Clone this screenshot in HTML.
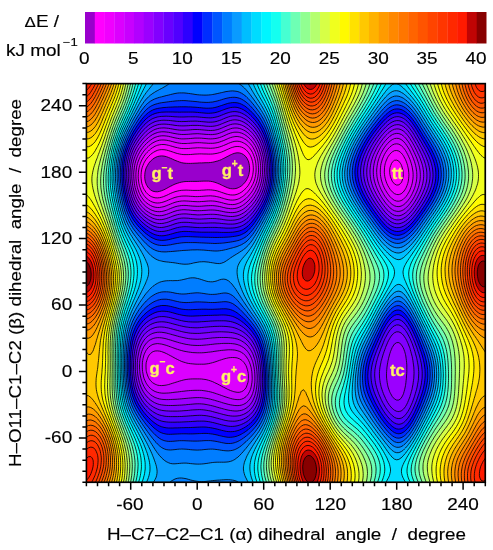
<!DOCTYPE html><html><head><meta charset="utf-8"><title>PES</title><style>html,body{margin:0;padding:0;background:#fff}svg{display:block}text{font-family:"Liberation Sans",sans-serif;fill:#000;stroke:#000;stroke-width:0.15px}</style></head><body>
<svg width="493" height="550" viewBox="0 0 493 550">
<rect width="493" height="550" fill="#fff"/>
<rect x="85.00" y="12.0" width="10.09" height="31.5" fill="#9900cc"/>
<rect x="94.79" y="12.0" width="10.09" height="31.5" fill="#ff00ff"/>
<rect x="104.59" y="12.0" width="10.09" height="31.5" fill="#f000ff"/>
<rect x="114.38" y="12.0" width="10.09" height="31.5" fill="#dc00ff"/>
<rect x="124.17" y="12.0" width="10.09" height="31.5" fill="#c800ff"/>
<rect x="133.96" y="12.0" width="10.09" height="31.5" fill="#b200ff"/>
<rect x="143.76" y="12.0" width="10.09" height="31.5" fill="#9b00ff"/>
<rect x="153.55" y="12.0" width="10.09" height="31.5" fill="#8200ff"/>
<rect x="163.34" y="12.0" width="10.09" height="31.5" fill="#6900ff"/>
<rect x="173.13" y="12.0" width="10.09" height="31.5" fill="#5000ff"/>
<rect x="182.93" y="12.0" width="10.09" height="31.5" fill="#2d00ff"/>
<rect x="192.72" y="12.0" width="10.09" height="31.5" fill="#0000ff"/>
<rect x="202.51" y="12.0" width="10.09" height="31.5" fill="#002dff"/>
<rect x="212.30" y="12.0" width="10.09" height="31.5" fill="#0055ff"/>
<rect x="222.10" y="12.0" width="10.09" height="31.5" fill="#007dff"/>
<rect x="231.89" y="12.0" width="10.09" height="31.5" fill="#0a9bff"/>
<rect x="241.68" y="12.0" width="10.09" height="31.5" fill="#00beff"/>
<rect x="251.48" y="12.0" width="10.09" height="31.5" fill="#00dcff"/>
<rect x="261.27" y="12.0" width="10.09" height="31.5" fill="#00f5ff"/>
<rect x="271.06" y="12.0" width="10.09" height="31.5" fill="#14fff0"/>
<rect x="280.85" y="12.0" width="10.09" height="31.5" fill="#46ffd2"/>
<rect x="290.65" y="12.0" width="10.09" height="31.5" fill="#6effb4"/>
<rect x="300.44" y="12.0" width="10.09" height="31.5" fill="#91ff91"/>
<rect x="310.23" y="12.0" width="10.09" height="31.5" fill="#b4ff6e"/>
<rect x="320.02" y="12.0" width="10.09" height="31.5" fill="#d7ff46"/>
<rect x="329.82" y="12.0" width="10.09" height="31.5" fill="#f0ff1e"/>
<rect x="339.61" y="12.0" width="10.09" height="31.5" fill="#fffa00"/>
<rect x="349.40" y="12.0" width="10.09" height="31.5" fill="#ffe100"/>
<rect x="359.20" y="12.0" width="10.09" height="31.5" fill="#ffc800"/>
<rect x="368.99" y="12.0" width="10.09" height="31.5" fill="#ffb200"/>
<rect x="378.78" y="12.0" width="10.09" height="31.5" fill="#ff9b00"/>
<rect x="388.57" y="12.0" width="10.09" height="31.5" fill="#ff8800"/>
<rect x="398.37" y="12.0" width="10.09" height="31.5" fill="#ff7600"/>
<rect x="408.16" y="12.0" width="10.09" height="31.5" fill="#ff6400"/>
<rect x="417.95" y="12.0" width="10.09" height="31.5" fill="#ff5400"/>
<rect x="427.74" y="12.0" width="10.09" height="31.5" fill="#ff4400"/>
<rect x="437.54" y="12.0" width="10.09" height="31.5" fill="#ff3600"/>
<rect x="447.33" y="12.0" width="10.09" height="31.5" fill="#ff2800"/>
<rect x="457.12" y="12.0" width="10.09" height="31.5" fill="#ff1a00"/>
<rect x="466.91" y="12.0" width="10.09" height="31.5" fill="#c00404"/>
<rect x="476.71" y="12.0" width="9.79" height="31.5" fill="#870000"/>
<text transform="translate(84.4,63.5) scale(1.13,1)" font-size="16.8" text-anchor="middle">0</text>
<text transform="translate(133.4,63.5) scale(1.13,1)" font-size="16.8" text-anchor="middle">5</text>
<text transform="translate(182.3,63.5) scale(1.13,1)" font-size="16.8" text-anchor="middle">10</text>
<text transform="translate(231.3,63.5) scale(1.13,1)" font-size="16.8" text-anchor="middle">15</text>
<text transform="translate(280.3,63.5) scale(1.13,1)" font-size="16.8" text-anchor="middle">20</text>
<text transform="translate(329.2,63.5) scale(1.13,1)" font-size="16.8" text-anchor="middle">25</text>
<text transform="translate(378.2,63.5) scale(1.13,1)" font-size="16.8" text-anchor="middle">30</text>
<text transform="translate(427.1,63.5) scale(1.13,1)" font-size="16.8" text-anchor="middle">35</text>
<text transform="translate(476.1,63.5) scale(1.13,1)" font-size="16.8" text-anchor="middle">40</text>
<text transform="translate(24.6,27.0) scale(1.13,1)" font-size="16.8" text-anchor="start"><tspan font-size="15">Δ</tspan>E /</text>
<text transform="translate(6.0,56.0) scale(1.13,1)" font-size="16.8" text-anchor="start">kJ mol</text>
<text transform="translate(62.8,46.4) scale(1.13,1)" font-size="11.6" text-anchor="start">−1</text>
<g stroke="#000" stroke-width="0.8" stroke-linejoin="round" clip-path="url(#cp)">
<clipPath id="cp"><rect x="86.4" y="83.6" width="398.9" height="398.7"/></clipPath>
<rect x="86.4" y="83.6" width="398.9" height="398.7" fill="#9900cc"/>
<path fill="#ff00ff" d="M86.4 482.3l2.2 0 2.2 0 2.2 0 2.3 0 2.2 0 2.2 0 2.2 0 2.2 0 2.2 0 2.3 0 2.2 0 2.2 0 2.2 0 2.2 0 2.2 0 2.3 0 2.2 0 2.2 0 2.2 0 2.2 0 2.2 0 2.3 0 2.2 0 2.2 0 2.2 0 2.2 0 2.2 0 2.3 0 2.2 0 2.2 0 2.2 0 2.2 0 2.2 0 2.2 0 2.3 0 2.2 0 2.2 0 2.2 0 2.2 0 2.2 0 2.3 0 2.2 0 2.2 0 2.2 0 2.2 0 2.2 0 2.3 0 2.2 0 2.2 0 2.2 0 2.2 0 2.2 0 2.3 0 2.2 0 2.2 0 2.2 0 2.2 0 2.2 0 2.3 0 2.2 0 2.2 0 2.2 0 2.2 0 2.2 0 2.2 0 2.3 0 2.2 0 2.2 0 2.2 0 2.2 0 2.2 0 2.3 0 2.2 0 2.2 0 2.2 0 2.2 0 2.2 0 2.3 0 2.2 0 2.2 0 2.2 0 2.2 0 2.2 0 2.3 0 2.2 0 2.2 0 2.2 0 2.2 0 2.2 0 2.2 0 2.3 0 2.2 0 2.2 0 2.2 0 2.2 0 2.2 0 2.3 0 2.2 0 2.2 0 2.2 0 2.2 0 2.2 0 2.3 0 2.2 0 2.2 0 2.2 0 2.2 0 2.2 0 2.3 0 2.2 0 2.2 0 2.2 0 2.2 0 2.2 0 2.3 0 2.2 0 2.2 0 2.2 0 2.2 0 2.2 0 2.2 0 2.3 0 2.2 0 2.2 0 2.2 0 2.2 0 2.2 0 2.3 0 2.2 0 2.2 0 2.2 0 2.2 0 2.2 0 2.3 0 2.2 0 2.2 0 2.2 0 2.2 0 2.2 0 2.3 0 2.2 0 2.2 0 2.2 0 2.2 0 2.2 0 2.3 0 2.2 0 2.2 0 2.2 0 2.2 0 2.2 0 2.2 0 2.3 0 2.2 0 2.2 0 2.2 0 2.2 0 2.2 0 2.3 0 2.2 0 2.2 0 2.2 0 2.2 0 2.2 0 2.3 0 2.2 0 2.2 0 2.2 0 2.2 0 2.2 0 2.3 0 2.2 0 2.2 0 2.2 0 2.2 0 2.2 0 2.3 0 2.2 0 2.2 0 2.2 0 0-2.2 0-2.2 0-2.2 0-2.3 0-2.2 0-2.2 0-2.2 0-2.2 0-2.2 0-2.2 0-2.3 0-2.2 0-2.2 0-2.2 0-2.2 0-2.2 0-2.3 0-2.2 0-2.2 0-2.2 0-2.2 0-2.2 0-2.2 0-2.3 0-2.2 0-2.2 0-2.2 0-2.2 0-2.2 0-2.3 0-2.2 0-2.2 0-2.2 0-2.2 0-2.2 0-2.2 0-2.3 0-2.2 0-2.2 0-2.2 0-2.2 0-2.2 0-2.2 0-2.3 0-2.2 0-2.2 0-2.2 0-2.2 0-2.2 0-2.2 0-2.3 0-2.2 0-2.2 0-2.2 0-2.2 0-2.2 0-2.3 0-2.2 0-2.2 0-2.2 0-2.2 0-2.2 0-2.2 0-2.3 0-2.2 0-2.2 0-2.2 0-2.2 0-2.2 0-2.3 0-2.2 0-2.2 0-2.2 0-2.2 0-2.2 0-2.2 0-2.3 0-2.2 0-2.2 0-2.2 0-2.2 0-2.2 0-2.2 0-2.3 0-2.2 0-2.2 0-2.2 0-2.2 0-2.2 0-2.3 0-2.2 0-2.2 0-2.2 0-2.2 0-2.2 0-2.2 0-2.3 0-2.2 0-2.2 0-2.2 0-2.2 0-2.2 0-2.2 0-2.3 0-2.2 0-2.2 0-2.2 0-2.2 0-2.2 0-2.3 0-2.2 0-2.2 0-2.2 0-2.2 0-2.2 0-2.2 0-2.3 0-2.2 0-2.2 0-2.2 0-2.2 0-2.2 0-2.2 0-2.3 0-2.2 0-2.2 0-2.2 0-2.2 0-2.2 0-2.3 0-2.2 0-2.2 0-2.2 0-2.2 0-2.2 0-2.2 0-2.3 0-2.2 0-2.2 0-2.2 0-2.2 0-2.2 0-2.2 0-2.3 0-2.2 0-2.2 0-2.2 0-2.2 0-2.2 0-2.3 0-2.2 0-2.2 0-2.2 0-2.2 0-2.2 0-2.2 0-2.3 0-2.2 0-2.2 0-2.2 0-2.2 0-2.2 0-2.2 0-2.3 0-2.2 0-2.2 0-2.2 0-2.2 0-2.2 0-2.3 0-2.2 0-2.2 0-2.2 0-2.2 0-2.2 0-2.2 0-2.3 0-2.2 0-2.2 0-2.2-2.2 0-2.2 0-2.2 0-2.3 0-2.2 0-2.2 0-2.2 0-2.2 0-2.2 0-2.3 0-2.2 0-2.2 0-2.2 0-2.2 0-2.2 0-2.3 0-2.2 0-2.2 0-2.2 0-2.2 0-2.2 0-2.3 0-2.2 0-2.2 0-2.2 0-2.2 0-2.2 0-2.3 0-2.2 0-2.2 0-2.2 0-2.2 0-2.2 0-2.2 0-2.3 0-2.2 0-2.2 0-2.2 0-2.2 0-2.2 0-2.3 0-2.2 0-2.2 0-2.2 0-2.2 0-2.2 0-2.3 0-2.2 0-2.2 0-2.2 0-2.2 0-2.2 0-2.3 0-2.2 0-2.2 0-2.2 0-2.2 0-2.2 0-2.3 0-2.2 0-2.2 0-2.2 0-2.2 0-2.2 0-2.2 0-2.3 0-2.2 0-2.2 0-2.2 0-2.2 0-2.2 0-2.3 0-2.2 0-2.2 0-2.2 0-2.2 0-2.2 0-2.3 0-2.2 0-2.2 0-2.2 0-2.2 0-2.2 0-2.3 0-2.2 0-2.2 0-2.2 0-2.2 0-2.2 0-2.3 0-2.2 0-2.2 0-2.2 0-2.2 0-2.2 0-2.2 0-2.3 0-2.2 0-2.2 0-2.2 0-2.2 0-2.2 0-2.3 0-2.2 0-2.2 0-2.2 0-2.2 0-2.2 0-2.3 0-2.2 0-2.2 0-2.2 0-2.2 0-2.2 0-2.3 0-2.2 0-2.2 0-2.2 0-2.2 0-2.2 0-2.2 0-2.3 0-2.2 0-2.2 0-2.2 0-2.2 0-2.2 0-2.3 0-2.2 0-2.2 0-2.2 0-2.2 0-2.2 0-2.3 0-2.2 0-2.2 0-2.2 0-2.2 0-2.2 0-2.3 0-2.2 0-2.2 0-2.2 0-2.2 0-2.2 0-2.3 0-2.2 0-2.2 0-2.2 0-2.2 0-2.2 0-2.2 0-2.3 0-2.2 0-2.2 0-2.2 0-2.2 0-2.2 0-2.3 0-2.2 0-2.2 0-2.2 0-2.2 0-2.2 0-2.3 0-2.2 0-2.2 0-2.2 0-2.2 0-2.2 0-2.3 0-2.2 0-2.2 0-2.2 0-2.2 0-2.2 0-2.3 0-2.2 0-2.2 0-2.2 0 0 2.2 0 2.2 0 2.2 0 2.3 0 2.2 0 2.2 0 2.2 0 2.2 0 2.2 0 2.2 0 2.3 0 2.2 0 2.2 0 2.2 0 2.2 0 2.2 0 2.3 0 2.2 0 2.2 0 2.2 0 2.2 0 2.2 0 2.2 0 2.3 0 2.2 0 2.2 0 2.2 0 2.2 0 2.2 0 2.2 0 2.3 0 2.2 0 2.2 0 2.2 0 2.2 0 2.2 0 2.3 0 2.2 0 2.2 0 2.2 0 2.2 0 2.2 0 2.2 0 2.3 0 2.2 0 2.2 0 2.2 0 2.2 0 2.2 0 2.2 0 2.3 0 2.2 0 2.2 0 2.2 0 2.2 0 2.2 0 2.3 0 2.2 0 2.2 0 2.2 0 2.2 0 2.2 0 2.2 0 2.3 0 2.2 0 2.2 0 2.2 0 2.2 0 2.2 0 2.2 0 2.3 0 2.2 0 2.2 0 2.2 0 2.2 0 2.2 0 2.3 0 2.2 0 2.2 0 2.2 0 2.2 0 2.2 0 2.2 0 2.3 0 2.2 0 2.2 0 2.2 0 2.2 0 2.2 0 2.2 0 2.3 0 2.2 0 2.2 0 2.2 0 2.2 0 2.2 0 2.3 0 2.2 0 2.2 0 2.2 0 2.2 0 2.2 0 2.2 0 2.3 0 2.2 0 2.2 0 2.2 0 2.2 0 2.2 0 2.2 0 2.3 0 2.2 0 2.2 0 2.2 0 2.2 0 2.2 0 2.3 0 2.2 0 2.2 0 2.2 0 2.2 0 2.2 0 2.2 0 2.3 0 2.2 0 2.2 0 2.2 0 2.2 0 2.2 0 2.3 0 2.2 0 2.2 0 2.2 0 2.2 0 2.2 0 2.2 0 2.3 0 2.2 0 2.2 0 2.2 0 2.2 0 2.2 0 2.2 0 2.3 0 2.2 0 2.2 0 2.2 0 2.2 0 2.2 0 2.2 0 2.3 0 2.2 0 2.2 0 2.2 0 2.2 0 2.2 0 2.3 0 2.2 0 2.2 0 2.2 0 2.2 0 2.2 0 2.2 0 2.3 0 2.2 0 2.2 0 2.2 0 2.2 0 2.2 0 2.3 0 2.2 0 2.2 0 2.2 0 2.2 0 2.2 0 2.2 0 2.3 0 2.2 0 2.2zM150.7 190l-0.1-0.1-2.1-2-0.2-0.2-1.4-2.2-0.7-1.3-0.3-0.9-0.7-2.2-0.4-2.3-0.1-2.2 0.1-2.2 0.2-2.2 0.5-2.2 0.7-2.2 1.2-2.2 1.1-1.9 0.2-0.4 1.8-2.2 0.2-0.1 2.2-2 0.1-0.1 2.1-1.3 2-0.9 0.2-0.1 2.2-0.5 2.2-0.2 2.3 0.2 2.2 0.5 0.3 0.1 1.9 0.7 2.2 0.9 1.5 0.6 0.7 0.4 2.2 1 2.1 0.8 0.2 0.1 2.2 0.8 2.2 0.7 2.2 0.4 2.2 0.2 0.3 0 1.9 0.1 2.3 0 1.6-0.1 0.6 0 2.2-0.1 2.2-0.1 2.2-0.2 2.2 0 2.3-0.1 2.2-0.1 2.2 0 2.2-0.2 2.2-0.3 2.2-0.5 2.1-0.6 0.2 0 2.2-0.7 2.2-0.9 1-0.6 1.2-0.5 2.2-1.2 1-0.5 1.2-0.6 2.2-1.2 1-0.4 1.3-0.6 2.2-0.7 2.2-0.4 2.2 0.1 2.2 0.6 1.9 1 0.3 0.2 2.2 2 0.1 0.1 1.3 2.1 0.9 1.8 0.2 0.4 0.6 2.2 0.4 2.3 0.2 2.2 0 2.2-0.3 2.2-0.4 2.2-0.7 2.2 0 0.2-1 2-1.2 2.2-0.1 0.1-1.7 2.2-0.5 0.5-1.8 1.7-0.4 0.3-2.2 1.4-1.1 0.5-1.1 0.5-2.2 0.5-2.2 0.1-2.3-0.2-2.2-0.6-0.8-0.3-1.4-0.6-2.2-1-1.4-0.6-0.8-0.4-2.2-1.1-1.9-0.7-0.3-0.2-2.3-0.8-2.2-0.6-2.2-0.4-2.2-0.2-2.2 0-2.2 0-2.3 0.1-2.2 0.1-2.2 0.1-2.2 0-2.2 0-2.2 0-2.3 0.1-2.2 0-2.2 0.2-2.2 0.4-2.2 0.5-2.1 0.7-0.1 0-2.3 0.8-2.2 1-0.6 0.4-1.6 0.7-2.2 1.2-0.5 0.3-1.7 0.9-2.2 1.2-0.3 0.1-2 0.8-2.2 0.7-2.2 0.4-2.2-0.1-2.2-0.5z"/>
<path fill="#f000ff" d="M86.4 482.3l2.2 0 2.2 0 2.2 0 2.3 0 2.2 0 2.2 0 2.2 0 2.2 0 2.2 0 2.3 0 2.2 0 2.2 0 2.2 0 2.2 0 2.2 0 2.3 0 2.2 0 2.2 0 2.2 0 2.2 0 2.2 0 2.3 0 2.2 0 2.2 0 2.2 0 2.2 0 2.2 0 2.3 0 2.2 0 2.2 0 2.2 0 2.2 0 2.2 0 2.2 0 2.3 0 2.2 0 2.2 0 2.2 0 2.2 0 2.2 0 2.3 0 2.2 0 2.2 0 2.2 0 2.2 0 2.2 0 2.3 0 2.2 0 2.2 0 2.2 0 2.2 0 2.2 0 2.3 0 2.2 0 2.2 0 2.2 0 2.2 0 2.2 0 2.3 0 2.2 0 2.2 0 2.2 0 2.2 0 2.2 0 2.2 0 2.3 0 2.2 0 2.2 0 2.2 0 2.2 0 2.2 0 2.3 0 2.2 0 2.2 0 2.2 0 2.2 0 2.2 0 2.3 0 2.2 0 2.2 0 2.2 0 2.2 0 2.2 0 2.3 0 2.2 0 2.2 0 2.2 0 2.2 0 2.2 0 2.2 0 2.3 0 2.2 0 2.2 0 2.2 0 2.2 0 2.2 0 2.3 0 2.2 0 2.2 0 2.2 0 2.2 0 2.2 0 2.3 0 2.2 0 2.2 0 2.2 0 2.2 0 2.2 0 2.3 0 2.2 0 2.2 0 2.2 0 2.2 0 2.2 0 2.3 0 2.2 0 2.2 0 2.2 0 2.2 0 2.2 0 2.2 0 2.3 0 2.2 0 2.2 0 2.2 0 2.2 0 2.2 0 2.3 0 2.2 0 2.2 0 2.2 0 2.2 0 2.2 0 2.3 0 2.2 0 2.2 0 2.2 0 2.2 0 2.2 0 2.3 0 2.2 0 2.2 0 2.2 0 2.2 0 2.2 0 2.3 0 2.2 0 2.2 0 2.2 0 2.2 0 2.2 0 2.2 0 2.3 0 2.2 0 2.2 0 2.2 0 2.2 0 2.2 0 2.3 0 2.2 0 2.2 0 2.2 0 2.2 0 2.2 0 2.3 0 2.2 0 2.2 0 2.2 0 2.2 0 2.2 0 2.3 0 2.2 0 2.2 0 2.2 0 2.2 0 2.2 0 2.3 0 2.2 0 2.2 0 2.2 0 0-2.2 0-2.2 0-2.2 0-2.3 0-2.2 0-2.2 0-2.2 0-2.2 0-2.2 0-2.2 0-2.3 0-2.2 0-2.2 0-2.2 0-2.2 0-2.2 0-2.3 0-2.2 0-2.2 0-2.2 0-2.2 0-2.2 0-2.2 0-2.3 0-2.2 0-2.2 0-2.2 0-2.2 0-2.2 0-2.3 0-2.2 0-2.2 0-2.2 0-2.2 0-2.2 0-2.2 0-2.3 0-2.2 0-2.2 0-2.2 0-2.2 0-2.2 0-2.2 0-2.3 0-2.2 0-2.2 0-2.2 0-2.2 0-2.2 0-2.2 0-2.3 0-2.2 0-2.2 0-2.2 0-2.2 0-2.2 0-2.3 0-2.2 0-2.2 0-2.2 0-2.2 0-2.2 0-2.2 0-2.3 0-2.2 0-2.2 0-2.2 0-2.2 0-2.2 0-2.3 0-2.2 0-2.2 0-2.2 0-2.2 0-2.2 0-2.2 0-2.3 0-2.2 0-2.2 0-2.2 0-2.2 0-2.2 0-2.2 0-2.3 0-2.2 0-2.2 0-2.2 0-2.2 0-2.2 0-2.3 0-2.2 0-2.2 0-2.2 0-2.2 0-2.2 0-2.2 0-2.3 0-2.2 0-2.2 0-2.2 0-2.2 0-2.2 0-2.2 0-2.3 0-2.2 0-2.2 0-2.2 0-2.2 0-2.2 0-2.3 0-2.2 0-2.2 0-2.2 0-2.2 0-2.2 0-2.2 0-2.3 0-2.2 0-2.2 0-2.2 0-2.2 0-2.2 0-2.2 0-2.3 0-2.2 0-2.2 0-2.2 0-2.2 0-2.2 0-2.3 0-2.2 0-2.2 0-2.2 0-2.2 0-2.2 0-2.2 0-2.3 0-2.2 0-2.2 0-2.2 0-2.2 0-2.2 0-2.2 0-2.3 0-2.2 0-2.2 0-2.2 0-2.2 0-2.2 0-2.3 0-2.2 0-2.2 0-2.2 0-2.2 0-2.2 0-2.2 0-2.3 0-2.2 0-2.2 0-2.2 0-2.2 0-2.2 0-2.2 0-2.3 0-2.2 0-2.2 0-2.2 0-2.2 0-2.2 0-2.3 0-2.2 0-2.2 0-2.2 0-2.2 0-2.2 0-2.2 0-2.3 0-2.2 0-2.2 0-2.2-2.2 0-2.2 0-2.2 0-2.3 0-2.2 0-2.2 0-2.2 0-2.2 0-2.2 0-2.3 0-2.2 0-2.2 0-2.2 0-2.2 0-2.2 0-2.3 0-2.2 0-2.2 0-2.2 0-2.2 0-2.2 0-2.3 0-2.2 0-2.2 0-2.2 0-2.2 0-2.2 0-2.3 0-2.2 0-2.2 0-2.2 0-2.2 0-2.2 0-2.2 0-2.3 0-2.2 0-2.2 0-2.2 0-2.2 0-2.2 0-2.3 0-2.2 0-2.2 0-2.2 0-2.2 0-2.2 0-2.3 0-2.2 0-2.2 0-2.2 0-2.2 0-2.2 0-2.3 0-2.2 0-2.2 0-2.2 0-2.2 0-2.2 0-2.3 0-2.2 0-2.2 0-2.2 0-2.2 0-2.2 0-2.2 0-2.3 0-2.2 0-2.2 0-2.2 0-2.2 0-2.2 0-2.3 0-2.2 0-2.2 0-2.2 0-2.2 0-2.2 0-2.3 0-2.2 0-2.2 0-2.2 0-2.2 0-2.2 0-2.3 0-2.2 0-2.2 0-2.2 0-2.2 0-2.2 0-2.3 0-2.2 0-2.2 0-2.2 0-2.2 0-2.2 0-2.2 0-2.3 0-2.2 0-2.2 0-2.2 0-2.2 0-2.2 0-2.3 0-2.2 0-2.2 0-2.2 0-2.2 0-2.2 0-2.3 0-2.2 0-2.2 0-2.2 0-2.2 0-2.2 0-2.3 0-2.2 0-2.2 0-2.2 0-2.2 0-2.2 0-2.2 0-2.3 0-2.2 0-2.2 0-2.2 0-2.2 0-2.2 0-2.3 0-2.2 0-2.2 0-2.2 0-2.2 0-2.2 0-2.3 0-2.2 0-2.2 0-2.2 0-2.2 0-2.2 0-2.3 0-2.2 0-2.2 0-2.2 0-2.2 0-2.2 0-2.3 0-2.2 0-2.2 0-2.2 0-2.2 0-2.2 0-2.2 0-2.3 0-2.2 0-2.2 0-2.2 0-2.2 0-2.2 0-2.3 0-2.2 0-2.2 0-2.2 0-2.2 0-2.2 0-2.3 0-2.2 0-2.2 0-2.2 0-2.2 0-2.2 0-2.3 0-2.2 0-2.2 0-2.2 0-2.2 0-2.2 0-2.3 0-2.2 0-2.2 0-2.2 0 0 2.2 0 2.2 0 2.2 0 2.3 0 2.2 0 2.2 0 2.2 0 2.2 0 2.2 0 2.2 0 2.3 0 2.2 0 2.2 0 2.2 0 2.2 0 2.2 0 2.3 0 2.2 0 2.2 0 2.2 0 2.2 0 2.2 0 2.2 0 2.3 0 2.2 0 2.2 0 2.2 0 2.2 0 2.2 0 2.2 0 2.3 0 2.2 0 2.2 0 2.2 0 2.2 0 2.2 0 2.3 0 2.2 0 2.2 0 2.2 0 2.2 0 2.2 0 2.2 0 2.3 0 2.2 0 2.2 0 2.2 0 2.2 0 2.2 0 2.2 0 2.3 0 2.2 0 2.2 0 2.2 0 2.2 0 2.2 0 2.3 0 2.2 0 2.2 0 2.2 0 2.2 0 2.2 0 2.2 0 2.3 0 2.2 0 2.2 0 2.2 0 2.2 0 2.2 0 2.2 0 2.3 0 2.2 0 2.2 0 2.2 0 2.2 0 2.2 0 2.3 0 2.2 0 2.2 0 2.2 0 2.2 0 2.2 0 2.2 0 2.3 0 2.2 0 2.2 0 2.2 0 2.2 0 2.2 0 2.2 0 2.3 0 2.2 0 2.2 0 2.2 0 2.2 0 2.2 0 2.3 0 2.2 0 2.2 0 2.2 0 2.2 0 2.2 0 2.2 0 2.3 0 2.2 0 2.2 0 2.2 0 2.2 0 2.2 0 2.2 0 2.3 0 2.2 0 2.2 0 2.2 0 2.2 0 2.2 0 2.3 0 2.2 0 2.2 0 2.2 0 2.2 0 2.2 0 2.2 0 2.3 0 2.2 0 2.2 0 2.2 0 2.2 0 2.2 0 2.3 0 2.2 0 2.2 0 2.2 0 2.2 0 2.2 0 2.2 0 2.3 0 2.2 0 2.2 0 2.2 0 2.2 0 2.2 0 2.2 0 2.3 0 2.2 0 2.2 0 2.2 0 2.2 0 2.2 0 2.2 0 2.3 0 2.2 0 2.2 0 2.2 0 2.2 0 2.2 0 2.3 0 2.2 0 2.2 0 2.2 0 2.2 0 2.2 0 2.2 0 2.3 0 2.2 0 2.2 0 2.2 0 2.2 0 2.2 0 2.3 0 2.2 0 2.2 0 2.2 0 2.2 0 2.2 0 2.2 0 2.3 0 2.2 0 2.2zM152.9 197.2l-1.6-0.6-0.6-0.3-2.2-1.5-0.5-0.5-1.8-1.8-0.3-0.4-1.4-2.2-0.5-0.7-0.7-1.5-0.8-2.2-0.7-2.2 0-0.1-0.4-2.1-0.2-2.3-0.2-2.2 0.1-2.2 0.2-2.2 0.3-2.2 0.2-0.9 0.3-1.3 0.8-2.2 0.9-2.3 0.2-0.4 1-1.8 1.2-1.9 0.3-0.3 1.8-2.2 0.2-0.2 2-2 0.2-0.2 2.2-1.6 0.6-0.4 1.6-0.9 2.2-1 1.4-0.4 0.8-0.2 2.2-0.2 2.3 0.1 2.2 0.3 0.1 0 2.1 0.6 2.2 0.7 2.2 0.7 0.7 0.3 1.5 0.5 2.3 0.7 2.2 0.5 2.2 0.4 1.3 0.1 0.9 0.1 2.2 0 2.2 0 1.8-0.1 0.5 0 2.2-0.2 2.2-0.2 2.2-0.1 2.2-0.1 2.2 0 2.3 0.1 2.2 0 2.2 0.1 2.2 0 2.2-0.1 2.2-0.3 2.3-0.4 2.2-0.6 1.4-0.4 0.8-0.3 2.2-0.9 2.2-1 0.1-0.1 2.1-0.9 2.2-1 0.7-0.3 1.6-0.5 2.2-0.6 2.2-0.2 2.2 0.1 2.2 0.5 1.6 0.7 0.6 0.4 2.3 1.5 0.3 0.3 1.9 2.1 0.1 0.2 1.5 2.2 0.6 1.1 0.5 1.1 0.9 2.2 0.6 2.2 0.2 0.7 0.3 1.5 0.3 2.3 0.1 2.2 0 2.2-0.2 2.2-0.3 2.2-0.2 1-0.3 1.2-0.7 2.2-0.9 2.3-0.3 0.6-0.9 1.6-1.3 2.2-1.8 2.2-0.4 0.5-1.8 1.7-0.5 0.5-2.2 1.7-2.2 1.3-2.2 0.9-0.1 0-2.1 0.6-2.2 0.1-2.3-0.1-2.2-0.4-0.6-0.2-1.6-0.4-2.2-0.8-2.2-0.7-0.7-0.3-1.5-0.5-2.2-0.7-2.3-0.5-2.2-0.3-1.8-0.2-0.4 0-2.2-0.1-2 0.1-0.2 0-2.2 0.2-2.3 0.1-2.2 0.2-2.2 0-2.2 0-2.2 0-2.2-0.1-2.3-0.1-2.2-0.1-2.2 0.1-2.2 0.1-2.2 0.3-2.2 0.5-2.3 0.6-1.1 0.4-1.1 0.4-2.2 0.9-1.9 0.9-0.3 0.2-2.2 1-2.2 0.9-0.4 0.2-1.9 0.6-2.2 0.5-2.2 0.2-2.2-0.1zM394.4 183.9l-0.5-0.6-1.7-2.1 0-0.1-1-2.3-0.8-2.2-0.4-1.7-0.1-0.5-0.2-2.2 0-2.2 0.3-2.2 0-0.1 0.7-2.1 0.9-2.3 0.6-1 1.3-1.2 0.9-0.8 2.3-0.2 2 1 0.2 0.1 1.5 2.1 0.7 1.1 0.5 1.2 0.7 2.2 0.6 2.2 0.3 2.2 0.1 1.3 0 0.9 0 0.6-0.1 1.6-0.5 2.2-0.7 2.3-0.9 1.8-0.4 0.4-1.8 1.5-2.2 0.3z"/>
<path fill="#dc00ff" d="M86.4 482.3l2.2 0 2.2 0 2.2 0 2.3 0 2.2 0 2.2 0 2.2 0 2.2 0 2.2 0 2.3 0 2.2 0 2.2 0 2.2 0 2.2 0 2.2 0 2.3 0 2.2 0 2.2 0 2.2 0 2.2 0 2.2 0 2.3 0 2.2 0 2.2 0 2.2 0 2.2 0 2.2 0 2.3 0 2.2 0 2.2 0 2.2 0 2.2 0 2.2 0 2.2 0 2.3 0 2.2 0 2.2 0 2.2 0 2.2 0 2.2 0 2.3 0 2.2 0 2.2 0 2.2 0 2.2 0 2.2 0 2.3 0 2.2 0 2.2 0 2.2 0 2.2 0 2.2 0 2.3 0 2.2 0 2.2 0 2.2 0 2.2 0 2.2 0 2.3 0 2.2 0 2.2 0 2.2 0 2.2 0 2.2 0 2.2 0 2.3 0 2.2 0 2.2 0 2.2 0 2.2 0 2.2 0 2.3 0 2.2 0 2.2 0 2.2 0 2.2 0 2.2 0 2.3 0 2.2 0 2.2 0 2.2 0 2.2 0 2.2 0 2.3 0 2.2 0 2.2 0 2.2 0 2.2 0 2.2 0 2.2 0 2.3 0 2.2 0 2.2 0 2.2 0 2.2 0 2.2 0 2.3 0 2.2 0 2.2 0 2.2 0 2.2 0 2.2 0 2.3 0 2.2 0 2.2 0 2.2 0 2.2 0 2.2 0 2.3 0 2.2 0 2.2 0 2.2 0 2.2 0 2.2 0 2.3 0 2.2 0 2.2 0 2.2 0 2.2 0 2.2 0 2.2 0 2.3 0 2.2 0 2.2 0 2.2 0 2.2 0 2.2 0 2.3 0 2.2 0 2.2 0 2.2 0 2.2 0 2.2 0 2.3 0 2.2 0 2.2 0 2.2 0 2.2 0 2.2 0 2.3 0 2.2 0 2.2 0 2.2 0 2.2 0 2.2 0 2.3 0 2.2 0 2.2 0 2.2 0 2.2 0 2.2 0 2.2 0 2.3 0 2.2 0 2.2 0 2.2 0 2.2 0 2.2 0 2.3 0 2.2 0 2.2 0 2.2 0 2.2 0 2.2 0 2.3 0 2.2 0 2.2 0 2.2 0 2.2 0 2.2 0 2.3 0 2.2 0 2.2 0 2.2 0 2.2 0 2.2 0 2.3 0 2.2 0 2.2 0 2.2 0 0-2.2 0-2.2 0-2.2 0-2.3 0-2.2 0-2.2 0-2.2 0-2.2 0-2.2 0-2.2 0-2.3 0-2.2 0-2.2 0-2.2 0-2.2 0-2.2 0-2.3 0-2.2 0-2.2 0-2.2 0-2.2 0-2.2 0-2.2 0-2.3 0-2.2 0-2.2 0-2.2 0-2.2 0-2.2 0-2.3 0-2.2 0-2.2 0-2.2 0-2.2 0-2.2 0-2.2 0-2.3 0-2.2 0-2.2 0-2.2 0-2.2 0-2.2 0-2.2 0-2.3 0-2.2 0-2.2 0-2.2 0-2.2 0-2.2 0-2.2 0-2.3 0-2.2 0-2.2 0-2.2 0-2.2 0-2.2 0-2.3 0-2.2 0-2.2 0-2.2 0-2.2 0-2.2 0-2.2 0-2.3 0-2.2 0-2.2 0-2.2 0-2.2 0-2.2 0-2.3 0-2.2 0-2.2 0-2.2 0-2.2 0-2.2 0-2.2 0-2.3 0-2.2 0-2.2 0-2.2 0-2.2 0-2.2 0-2.2 0-2.3 0-2.2 0-2.2 0-2.2 0-2.2 0-2.2 0-2.3 0-2.2 0-2.2 0-2.2 0-2.2 0-2.2 0-2.2 0-2.3 0-2.2 0-2.2 0-2.2 0-2.2 0-2.2 0-2.2 0-2.3 0-2.2 0-2.2 0-2.2 0-2.2 0-2.2 0-2.3 0-2.2 0-2.2 0-2.2 0-2.2 0-2.2 0-2.2 0-2.3 0-2.2 0-2.2 0-2.2 0-2.2 0-2.2 0-2.2 0-2.3 0-2.2 0-2.2 0-2.2 0-2.2 0-2.2 0-2.3 0-2.2 0-2.2 0-2.2 0-2.2 0-2.2 0-2.2 0-2.3 0-2.2 0-2.2 0-2.2 0-2.2 0-2.2 0-2.2 0-2.3 0-2.2 0-2.2 0-2.2 0-2.2 0-2.2 0-2.3 0-2.2 0-2.2 0-2.2 0-2.2 0-2.2 0-2.2 0-2.3 0-2.2 0-2.2 0-2.2 0-2.2 0-2.2 0-2.2 0-2.3 0-2.2 0-2.2 0-2.2 0-2.2 0-2.2 0-2.3 0-2.2 0-2.2 0-2.2 0-2.2 0-2.2 0-2.2 0-2.3 0-2.2 0-2.2 0-2.2-2.2 0-2.2 0-2.2 0-2.3 0-2.2 0-2.2 0-2.2 0-2.2 0-2.2 0-2.3 0-2.2 0-2.2 0-2.2 0-2.2 0-2.2 0-2.3 0-2.2 0-2.2 0-2.2 0-2.2 0-2.2 0-2.3 0-2.2 0-2.2 0-2.2 0-2.2 0-2.2 0-2.3 0-2.2 0-2.2 0-2.2 0-2.2 0-2.2 0-2.2 0-2.3 0-2.2 0-2.2 0-2.2 0-2.2 0-2.2 0-2.3 0-2.2 0-2.2 0-2.2 0-2.2 0-2.2 0-2.3 0-2.2 0-2.2 0-2.2 0-2.2 0-2.2 0-2.3 0-2.2 0-2.2 0-2.2 0-2.2 0-2.2 0-2.3 0-2.2 0-2.2 0-2.2 0-2.2 0-2.2 0-2.2 0-2.3 0-2.2 0-2.2 0-2.2 0-2.2 0-2.2 0-2.3 0-2.2 0-2.2 0-2.2 0-2.2 0-2.2 0-2.3 0-2.2 0-2.2 0-2.2 0-2.2 0-2.2 0-2.3 0-2.2 0-2.2 0-2.2 0-2.2 0-2.2 0-2.3 0-2.2 0-2.2 0-2.2 0-2.2 0-2.2 0-2.2 0-2.3 0-2.2 0-2.2 0-2.2 0-2.2 0-2.2 0-2.3 0-2.2 0-2.2 0-2.2 0-2.2 0-2.2 0-2.3 0-2.2 0-2.2 0-2.2 0-2.2 0-2.2 0-2.3 0-2.2 0-2.2 0-2.2 0-2.2 0-2.2 0-2.2 0-2.3 0-2.2 0-2.2 0-2.2 0-2.2 0-2.2 0-2.3 0-2.2 0-2.2 0-2.2 0-2.2 0-2.2 0-2.3 0-2.2 0-2.2 0-2.2 0-2.2 0-2.2 0-2.3 0-2.2 0-2.2 0-2.2 0-2.2 0-2.2 0-2.3 0-2.2 0-2.2 0-2.2 0-2.2 0-2.2 0-2.2 0-2.3 0-2.2 0-2.2 0-2.2 0-2.2 0-2.2 0-2.3 0-2.2 0-2.2 0-2.2 0-2.2 0-2.2 0-2.3 0-2.2 0-2.2 0-2.2 0-2.2 0-2.2 0-2.3 0-2.2 0-2.2 0-2.2 0-2.2 0-2.2 0-2.3 0-2.2 0-2.2 0-2.2 0 0 2.2 0 2.2 0 2.2 0 2.3 0 2.2 0 2.2 0 2.2 0 2.2 0 2.2 0 2.2 0 2.3 0 2.2 0 2.2 0 2.2 0 2.2 0 2.2 0 2.3 0 2.2 0 2.2 0 2.2 0 2.2 0 2.2 0 2.2 0 2.3 0 2.2 0 2.2 0 2.2 0 2.2 0 2.2 0 2.2 0 2.3 0 2.2 0 2.2 0 2.2 0 2.2 0 2.2 0 2.3 0 2.2 0 2.2 0 2.2 0 2.2 0 2.2 0 2.2 0 2.3 0 2.2 0 2.2 0 2.2 0 2.2 0 2.2 0 2.2 0 2.3 0 2.2 0 2.2 0 2.2 0 2.2 0 2.2 0 2.3 0 2.2 0 2.2 0 2.2 0 2.2 0 2.2 0 2.2 0 2.3 0 2.2 0 2.2 0 2.2 0 2.2 0 2.2 0 2.2 0 2.3 0 2.2 0 2.2 0 2.2 0 2.2 0 2.2 0 2.3 0 2.2 0 2.2 0 2.2 0 2.2 0 2.2 0 2.2 0 2.3 0 2.2 0 2.2 0 2.2 0 2.2 0 2.2 0 2.2 0 2.3 0 2.2 0 2.2 0 2.2 0 2.2 0 2.2 0 2.3 0 2.2 0 2.2 0 2.2 0 2.2 0 2.2 0 2.2 0 2.3 0 2.2 0 2.2 0 2.2 0 2.2 0 2.2 0 2.2 0 2.3 0 2.2 0 2.2 0 2.2 0 2.2 0 2.2 0 2.3 0 2.2 0 2.2 0 2.2 0 2.2 0 2.2 0 2.2 0 2.3 0 2.2 0 2.2 0 2.2 0 2.2 0 2.2 0 2.3 0 2.2 0 2.2 0 2.2 0 2.2 0 2.2 0 2.2 0 2.3 0 2.2 0 2.2 0 2.2 0 2.2 0 2.2 0 2.2 0 2.3 0 2.2 0 2.2 0 2.2 0 2.2 0 2.2 0 2.2 0 2.3 0 2.2 0 2.2 0 2.2 0 2.2 0 2.2 0 2.3 0 2.2 0 2.2 0 2.2 0 2.2 0 2.2 0 2.2 0 2.3 0 2.2 0 2.2 0 2.2 0 2.2 0 2.2 0 2.3 0 2.2 0 2.2 0 2.2 0 2.2 0 2.2 0 2.2 0 2.3 0 2.2 0 2.2zM150.7 201.3l-0.5-0.3-1.7-1.1-1.4-1.1-0.9-0.7-1.3-1.5-0.9-1.1-0.8-1.2-1.3-2.2-0.1-0.1-0.9-2.1-0.8-2.2-0.5-1.5-0.2-0.7-0.5-2.2-0.3-2.2-0.3-2.3-0.1-2.2 0.1-2.2 0.1-2.2 0.3-2.2 0.4-2.2 0.5-2.2 0.8-2.3 0.9-2.2 0.5-1.2 0.6-1 1.3-2.2 0.3-0.5 1.3-1.7 0.9-1.2 1-1 1.3-1.3 1-1 1.2-1 1.6-1.2 0.6-0.3 2.2-1.3 1.5-0.6 0.7-0.3 2.2-0.5 2.2-0.3 2.3 0 2.2 0.3 2.2 0.5 1.3 0.3 0.9 0.3 2.2 0.6 2.2 0.7 2.3 0.5 0.5 0.1 1.7 0.4 2.2 0.3 2.2 0.1 2.2 0 2.2-0.1 2.3-0.2 2.2-0.2 2.2-0.1 2.2-0.2 0.6 0 1.6 0 0.9 0 1.3 0.1 2.3 0.1 2.2 0.1 2.2 0.1 2.2 0.1 2.2-0.1 2.2-0.2 0.8-0.2 1.5-0.2 2.2-0.6 2.2-0.7 1.7-0.7 0.5-0.2 2.2-0.9 2.2-1 0.2-0.1 2-0.8 2.3-0.8 2.2-0.5 2.2-0.1 2.2 0.2 2.2 0.6 2.2 1 0.7 0.4 1.6 1 1.4 1.2 0.8 0.7 1.3 1.5 0.9 1.2 0.7 1 1.3 2.3 0.2 0.4 0.8 1.8 0.8 2.2 0.6 1.8 0.1 0.4 0.5 2.2 0.4 2.2 0.2 2.3 0.1 2.2 0 2.2-0.1 2.2-0.3 2.2-0.3 2.2-0.6 2.2 0 0.1-0.7 2.2-0.9 2.2-0.6 1.3-0.5 0.9-1.2 2.2-0.5 0.7-1.1 1.5-1.1 1.4-0.7 0.8-1.5 1.6-0.7 0.6-1.6 1.4-1.2 0.9-1 0.6-2.2 1.3-0.7 0.3-1.5 0.6-2.2 0.5-2.2 0.2-2.3-0.1-2.2-0.3-2.2-0.5-1.4-0.4-0.8-0.3-2.2-0.6-2.2-0.7-2.2-0.5-0.5-0.1-1.8-0.4-2.2-0.2-2.2-0.2-2.2 0.1-2.2 0.1-2.2 0.2-2.3 0.2-2.2 0.1-1.5 0.1-0.7 0-1.4 0-0.8 0-2.2-0.2-2.2-0.1-2.3-0.2-2.2-0.1-2.2 0-2.2 0.1-2.2 0.3-1.1 0.2-1.1 0.2-2.3 0.6-2.2 0.8-1.5 0.6-0.7 0.3-2.2 0.9-2.2 1-0.1 0-2.1 0.8-2.3 0.7-2.2 0.4-2.2 0.1-2.2-0.2-2.2-0.6zM396.7 194.5l-0.5-0.2-1.8-0.7-1.8-1.5-0.4-0.3-1.6-1.9-0.6-0.7-0.9-1.5-1.3-2.2-1-2.2-0.8-2.2-0.4-1.2-0.3-1.1-0.5-2.2-0.3-2.2-0.2-2.2 0.1-2.2 0.1-2.2 0.3-2.2 0.5-2.3 0.3-0.8 0.4-1.4 1-2.2 0.8-1.7 0.3-0.5 1.5-2.2 0.4-0.5 1.8-1.7 0.4-0.4 2.2-1.2 2.3-0.2 2.2 0.6 1.5 1.2 0.7 0.5 1.4 1.7 0.8 1.1 0.6 1.1 1.2 2.2 0.4 0.8 0.6 1.4 0.8 2.2 0.7 2.3 0.1 0.5 0.4 1.7 0.4 2.2 0.2 2.2 0.2 2.2-0.1 2.2-0.2 2.2-0.3 2.3-0.5 2.2-0.1 0.2-0.7 2-0.9 2.2-0.6 1.1-0.7 1.1-1.5 2.1-0.2 0.1-2 1.7-1.5 0.5-0.7 0.3z"/>
<path fill="#c800ff" d="M86.4 482.3l2.2 0 2.2 0 2.2 0 2.3 0 2.2 0 2.2 0 2.2 0 2.2 0 2.2 0 2.3 0 2.2 0 2.2 0 2.2 0 2.2 0 2.2 0 2.3 0 2.2 0 2.2 0 2.2 0 2.2 0 2.2 0 2.3 0 2.2 0 2.2 0 2.2 0 2.2 0 2.2 0 2.3 0 2.2 0 2.2 0 2.2 0 2.2 0 2.2 0 2.2 0 2.3 0 2.2 0 2.2 0 2.2 0 2.2 0 2.2 0 2.3 0 2.2 0 2.2 0 2.2 0 2.2 0 2.2 0 2.3 0 2.2 0 2.2 0 2.2 0 2.2 0 2.2 0 2.3 0 2.2 0 2.2 0 2.2 0 2.2 0 2.2 0 2.3 0 2.2 0 2.2 0 2.2 0 2.2 0 2.2 0 2.2 0 2.3 0 2.2 0 2.2 0 2.2 0 2.2 0 2.2 0 2.3 0 2.2 0 2.2 0 2.2 0 2.2 0 2.2 0 2.3 0 2.2 0 2.2 0 2.2 0 2.2 0 2.2 0 2.3 0 2.2 0 2.2 0 2.2 0 2.2 0 2.2 0 2.2 0 2.3 0 2.2 0 2.2 0 2.2 0 2.2 0 2.2 0 2.3 0 2.2 0 2.2 0 2.2 0 2.2 0 2.2 0 2.3 0 2.2 0 2.2 0 2.2 0 2.2 0 2.2 0 2.3 0 2.2 0 2.2 0 2.2 0 2.2 0 2.2 0 2.3 0 2.2 0 2.2 0 2.2 0 2.2 0 2.2 0 2.2 0 2.3 0 2.2 0 2.2 0 2.2 0 2.2 0 2.2 0 2.3 0 2.2 0 2.2 0 2.2 0 2.2 0 2.2 0 2.3 0 2.2 0 2.2 0 2.2 0 2.2 0 2.2 0 2.3 0 2.2 0 2.2 0 2.2 0 2.2 0 2.2 0 2.3 0 2.2 0 2.2 0 2.2 0 2.2 0 2.2 0 2.2 0 2.3 0 2.2 0 2.2 0 2.2 0 2.2 0 2.2 0 2.3 0 2.2 0 2.2 0 2.2 0 2.2 0 2.2 0 2.3 0 2.2 0 2.2 0 2.2 0 2.2 0 2.2 0 2.3 0 2.2 0 2.2 0 2.2 0 2.2 0 2.2 0 2.3 0 2.2 0 2.2 0 2.2 0 0-2.2 0-2.2 0-2.2 0-2.3 0-2.2 0-2.2 0-2.2 0-2.2 0-2.2 0-2.2 0-2.3 0-2.2 0-2.2 0-2.2 0-2.2 0-2.2 0-2.3 0-2.2 0-2.2 0-2.2 0-2.2 0-2.2 0-2.2 0-2.3 0-2.2 0-2.2 0-2.2 0-2.2 0-2.2 0-2.3 0-2.2 0-2.2 0-2.2 0-2.2 0-2.2 0-2.2 0-2.3 0-2.2 0-2.2 0-2.2 0-2.2 0-2.2 0-2.2 0-2.3 0-2.2 0-2.2 0-2.2 0-2.2 0-2.2 0-2.2 0-2.3 0-2.2 0-2.2 0-2.2 0-2.2 0-2.2 0-2.3 0-2.2 0-2.2 0-2.2 0-2.2 0-2.2 0-2.2 0-2.3 0-2.2 0-2.2 0-2.2 0-2.2 0-2.2 0-2.3 0-2.2 0-2.2 0-2.2 0-2.2 0-2.2 0-2.2 0-2.3 0-2.2 0-2.2 0-2.2 0-2.2 0-2.2 0-2.2 0-2.3 0-2.2 0-2.2 0-2.2 0-2.2 0-2.2 0-2.3 0-2.2 0-2.2 0-2.2 0-2.2 0-2.2 0-2.2 0-2.3 0-2.2 0-2.2 0-2.2 0-2.2 0-2.2 0-2.2 0-2.3 0-2.2 0-2.2 0-2.2 0-2.2 0-2.2 0-2.3 0-2.2 0-2.2 0-2.2 0-2.2 0-2.2 0-2.2 0-2.3 0-2.2 0-2.2 0-2.2 0-2.2 0-2.2 0-2.2 0-2.3 0-2.2 0-2.2 0-2.2 0-2.2 0-2.2 0-2.3 0-2.2 0-2.2 0-2.2 0-2.2 0-2.2 0-2.2 0-2.3 0-2.2 0-2.2 0-2.2 0-2.2 0-2.2 0-2.2 0-2.3 0-2.2 0-2.2 0-2.2 0-2.2 0-2.2 0-2.3 0-2.2 0-2.2 0-2.2 0-2.2 0-2.2 0-2.2 0-2.3 0-2.2 0-2.2 0-2.2 0-2.2 0-2.2 0-2.2 0-2.3 0-2.2 0-2.2 0-2.2 0-2.2 0-2.2 0-2.3 0-2.2 0-2.2 0-2.2 0-2.2 0-2.2 0-2.2 0-2.3 0-2.2 0-2.2 0-2.2-2.2 0-2.2 0-2.2 0-2.3 0-2.2 0-2.2 0-2.2 0-2.2 0-2.2 0-2.3 0-2.2 0-2.2 0-2.2 0-2.2 0-2.2 0-2.3 0-2.2 0-2.2 0-2.2 0-2.2 0-2.2 0-2.3 0-2.2 0-2.2 0-2.2 0-2.2 0-2.2 0-2.3 0-2.2 0-2.2 0-2.2 0-2.2 0-2.2 0-2.2 0-2.3 0-2.2 0-2.2 0-2.2 0-2.2 0-2.2 0-2.3 0-2.2 0-2.2 0-2.2 0-2.2 0-2.2 0-2.3 0-2.2 0-2.2 0-2.2 0-2.2 0-2.2 0-2.3 0-2.2 0-2.2 0-2.2 0-2.2 0-2.2 0-2.3 0-2.2 0-2.2 0-2.2 0-2.2 0-2.2 0-2.2 0-2.3 0-2.2 0-2.2 0-2.2 0-2.2 0-2.2 0-2.3 0-2.2 0-2.2 0-2.2 0-2.2 0-2.2 0-2.3 0-2.2 0-2.2 0-2.2 0-2.2 0-2.2 0-2.3 0-2.2 0-2.2 0-2.2 0-2.2 0-2.2 0-2.3 0-2.2 0-2.2 0-2.2 0-2.2 0-2.2 0-2.2 0-2.3 0-2.2 0-2.2 0-2.2 0-2.2 0-2.2 0-2.3 0-2.2 0-2.2 0-2.2 0-2.2 0-2.2 0-2.3 0-2.2 0-2.2 0-2.2 0-2.2 0-2.2 0-2.3 0-2.2 0-2.2 0-2.2 0-2.2 0-2.2 0-2.2 0-2.3 0-2.2 0-2.2 0-2.2 0-2.2 0-2.2 0-2.3 0-2.2 0-2.2 0-2.2 0-2.2 0-2.2 0-2.3 0-2.2 0-2.2 0-2.2 0-2.2 0-2.2 0-2.3 0-2.2 0-2.2 0-2.2 0-2.2 0-2.2 0-2.3 0-2.2 0-2.2 0-2.2 0-2.2 0-2.2 0-2.2 0-2.3 0-2.2 0-2.2 0-2.2 0-2.2 0-2.2 0-2.3 0-2.2 0-2.2 0-2.2 0-2.2 0-2.2 0-2.3 0-2.2 0-2.2 0-2.2 0-2.2 0-2.2 0-2.3 0-2.2 0-2.2 0-2.2 0-2.2 0-2.2 0-2.3 0-2.2 0-2.2 0-2.2 0 0 2.2 0 2.2 0 2.2 0 2.3 0 2.2 0 2.2 0 2.2 0 2.2 0 2.2 0 2.2 0 2.3 0 2.2 0 2.2 0 2.2 0 2.2 0 2.2 0 2.3 0 2.2 0 2.2 0 2.2 0 2.2 0 2.2 0 2.2 0 2.3 0 2.2 0 2.2 0 2.2 0 2.2 0 2.2 0 2.2 0 2.3 0 2.2 0 2.2 0 2.2 0 2.2 0 2.2 0 2.3 0 2.2 0 2.2 0 2.2 0 2.2 0 2.2 0 2.2 0 2.3 0 2.2 0 2.2 0 2.2 0 2.2 0 2.2 0 2.2 0 2.3 0 2.2 0 2.2 0 2.2 0 2.2 0 2.2 0 2.3 0 2.2 0 2.2 0 2.2 0 2.2 0 2.2 0 2.2 0 2.3 0 2.2 0 2.2 0 2.2 0 2.2 0 2.2 0 2.2 0 2.3 0 2.2 0 2.2 0 2.2 0 2.2 0 2.2 0 2.3 0 2.2 0 2.2 0 2.2 0 2.2 0 2.2 0 2.2 0 2.3 0 2.2 0 2.2 0 2.2 0 2.2 0 2.2 0 2.2 0 2.3 0 2.2 0 2.2 0 2.2 0 2.2 0 2.2 0 2.3 0 2.2 0 2.2 0 2.2 0 2.2 0 2.2 0 2.2 0 2.3 0 2.2 0 2.2 0 2.2 0 2.2 0 2.2 0 2.2 0 2.3 0 2.2 0 2.2 0 2.2 0 2.2 0 2.2 0 2.3 0 2.2 0 2.2 0 2.2 0 2.2 0 2.2 0 2.2 0 2.3 0 2.2 0 2.2 0 2.2 0 2.2 0 2.2 0 2.3 0 2.2 0 2.2 0 2.2 0 2.2 0 2.2 0 2.2 0 2.3 0 2.2 0 2.2 0 2.2 0 2.2 0 2.2 0 2.2 0 2.3 0 2.2 0 2.2 0 2.2 0 2.2 0 2.2 0 2.2 0 2.3 0 2.2 0 2.2 0 2.2 0 2.2 0 2.2 0 2.3 0 2.2 0 2.2 0 2.2 0 2.2 0 2.2 0 2.2 0 2.3 0 2.2 0 2.2 0 2.2 0 2.2 0 2.2 0 2.3 0 2.2 0 2.2 0 2.2 0 2.2 0 2.2 0 2.2 0 2.3 0 2.2 0 2.2zM234.9 391.9l-1.7-0.4-0.5-0.2-2.3-0.8-2.2-1-0.5-0.2-1.7-0.9-2.2-1.1-0.6-0.2-1.6-0.9-2.2-1.2-0.4-0.2-1.8-1-2.3-1-0.3-0.2-1.9-0.9-2.2-0.8-1.6-0.5-0.6-0.2-2.2-0.6-2.2-0.3-2.3-0.3-2.2-0.1-2.2 0-2.2 0-2.2 0-2.2 0.1-2.3 0.2-2.2 0.3-2.2 0.4-1.9 0.5-0.3 0.1-2.2 0.6-2.2 0.7-2.3 0.7-0.2 0.1-2 0.6-2.2 0.7-2.2 0.7-1.1 0.2-1.1 0.3-2.2 0.3-2.3 0.2-2.2-0.1-2.2-0.4-0.6-0.3-1.6-0.6-2.2-1.3-0.4-0.3-1.8-1.7-0.4-0.5-1.5-2.2-0.3-0.6-0.7-1.6-0.8-2.2-0.6-2.2-0.2-1.2-0.1-1.1-0.1-2.2 0-2.2 0.2-2.2 0.6-2.2 0.7-2.2 1-2.2 0-0.1 1.7-2.2 0.5-0.5 2.2-1.6 0.3-0.1 1.9-0.6 2.2-0.1 2.2 0.2 2.1 0.5 0.1 0.1 2.3 0.8 2.2 1 0.7 0.3 1.5 0.8 2.2 1.2 0.5 0.2 1.7 1 2.2 1.2 0.2 0.1 2.1 1.1 2.2 1.1 2.2 1 2.2 0.7 1.7 0.5 0.5 0.2 2.2 0.5 2.3 0.3 2.2 0.2 2.2 0.2 2.2 0.1 2.2 0 2.2 0 2.3 0 2.2-0.2 2.2-0.3 2.2-0.5 2-0.5 0.2-0.1 2.2-0.6 2.3-0.8 2-0.7 0.2-0.1 2.2-0.7 2.2-0.7 2.2-0.6 0.6-0.1 1.6-0.4 2.2-0.3 2.3-0.1 2.2 0.1 2.2 0.3 0.9 0.4 1.3 0.4 2.2 1.4 0.5 0.4 1.7 1.7 0.4 0.5 1.5 2.2 0.4 0.7 0.6 1.5 0.7 2.2 0.6 2.3 0.3 1.6 0.1 0.6 0.1 2.2 0 2.2-0.1 2.2-0.1 0.6-0.3 1.6-0.7 2.2-0.9 2.3-0.3 0.7-1.2 1.5-1.1 1.1-1.7 1.1-0.5 0.2-2.2 0.6-2.2 0zM396.7 201.1l-0.3-0.1-2-0.7-2.2-1.5-2.2-2.2-0.1 0-1.7-2.3-0.4-0.5-1.1-1.7-1.1-1.8-0.3-0.4-1.1-2.2-0.8-1.9-0.2-0.3-0.8-2.2-0.7-2.2-0.6-2.1 0-0.2-0.4-2.2-0.3-2.2-0.1-2.2 0-2.2 0.2-2.2 0.2-2.2 0.4-2.1 0.1-0.2 0.6-2.2 0.7-2.2 0.9-2.2 1-2.2 1.2-2.1 0.1-0.1 1.5-2.3 0.6-0.8 1.3-1.4 0.9-0.9 1.6-1.3 0.6-0.5 2.2-1 2.3-0.3 2.2 0.4 2.2 1.3 0.2 0.1 2 1.9 0.2 0.3 1.7 2.2 0.3 0.5 1 1.8 1.2 2.2 1 2.2 1 2.2 0.3 0.7 0.5 1.5 0.7 2.2 0.6 2.3 0.4 1.4 0.1 0.8 0.4 2.2 0.3 2.2 0.1 2.2 0 2.2-0.2 2.2-0.3 2.3-0.4 2.2-0.6 2.2-0.8 2.2-0.8 2.2 0 0.1-1.1 2.1-1.2 2-0.1 0.2-1.6 2.3-0.5 0.5-1.7 1.7-0.5 0.5-2.2 1.3-1.4 0.4-0.8 0.2zM150.7 205.6l-0.4-0.2-1.8-1.1-1.6-1.1-0.7-0.5-1.7-1.7-0.5-0.5-1.3-1.7-0.9-1.2-0.6-1-1.3-2.3-0.3-0.6-0.7-1.6-0.8-2.2-0.7-2.2 0-0.2-0.5-2-0.4-2.2-0.3-2.2-0.2-2.3-0.1-2.2 0-2.2 0.1-2.2 0.2-2.2 0.3-2.2 0.4-2.2 0.5-1.7 0.1-0.6 0.8-2.2 0.9-2.2 0.4-1 0.6-1.2 1.3-2.2 0.3-0.5 1.2-1.7 1-1.4 0.7-0.9 1.5-1.7 0.5-0.5 1.8-1.6 0.6-0.6 1.6-1.3 1.3-0.9 0.9-0.6 2.2-1.1 1.2-0.5 1-0.4 2.2-0.6 2.2-0.2 2.3 0 2.2 0.2 2.2 0.4 2.2 0.5 0.2 0.1 2 0.5 2.2 0.6 2.3 0.5 2.2 0.4 1.8 0.2 0.4 0.1 2.2 0 2.2 0 1.5-0.1 0.7 0 2.3-0.2 2.2-0.2 2.2-0.2 2.2-0.1 2.2 0 2.2 0.1 2.3 0.2 2.2 0.1 2.2 0.2 2.2 0 2.2 0 2.2-0.2 2.3-0.4 2.2-0.6 2.2-0.8 0.3-0.1 1.9-0.7 2.2-1 1.2-0.5 1-0.5 2.2-0.8 2.3-0.7 1.2-0.2 1-0.2 2.2-0.1 2.1 0.3 0.1 0 2.2 0.6 2.2 1 1 0.6 1.3 0.7 1.8 1.5 0.4 0.3 1.8 1.9 0.4 0.4 1.4 1.8 0.8 1.2 0.6 1 1.2 2.2 0.4 0.9 0.6 1.4 0.8 2.2 0.7 2.2 0.1 0.4 0.5 1.8 0.4 2.2 0.3 2.2 0.2 2.3 0.1 2.2 0.1 2.2-0.1 2.2-0.3 2.2-0.3 2.2-0.4 2.2-0.5 1.8-0.1 0.5-0.7 2.2-0.9 2.2-0.5 1.1-0.6 1.1-1.2 2.2-0.4 0.7-1 1.5-1.2 1.6-0.5 0.6-1.7 2-0.3 0.3-1.9 1.9-0.4 0.3-1.9 1.5-0.9 0.7-1.3 0.8-2.2 1.2-0.5 0.2-1.7 0.6-2.2 0.6-2.2 0.2-2.3-0.1-2.2-0.2-2.2-0.5-2.2-0.5-0.2-0.1-2-0.6-2.2-0.5-2.2-0.5-2.3-0.4-2.2-0.2-0.3 0-1.9-0.1-1.6 0.1-0.6 0-2.2 0.2-2.2 0.2-2.3 0.1-2.2 0.2-2.2 0-2.2-0.1-2.2-0.1-2.2-0.2-2.3-0.2-2.1-0.1-0.1 0-2.2-0.1-1.4 0.1-0.8 0-2.2 0.3-2.2 0.4-2.3 0.6-2.2 0.8-0.2 0.1-2 0.8-2.2 0.9-1.3 0.5-0.9 0.4-2.2 0.8-2.3 0.5-2.2 0.4-2.2 0-2.2-0.3-2.2-0.6z"/>
<path fill="#b200ff" d="M86.4 482.3l2.2 0 2.2 0 2.2 0 2.3 0 2.2 0 2.2 0 2.2 0 2.2 0 2.2 0 2.3 0 2.2 0 2.2 0 2.2 0 2.2 0 2.2 0 2.3 0 2.2 0 2.2 0 2.2 0 2.2 0 2.2 0 2.3 0 2.2 0 2.2 0 2.2 0 2.2 0 2.2 0 2.3 0 2.2 0 2.2 0 2.2 0 2.2 0 2.2 0 2.2 0 2.3 0 2.2 0 2.2 0 2.2 0 2.2 0 2.2 0 2.3 0 2.2 0 2.2 0 2.2 0 2.2 0 2.2 0 2.3 0 2.2 0 2.2 0 2.2 0 2.2 0 2.2 0 2.3 0 2.2 0 2.2 0 2.2 0 2.2 0 2.2 0 2.3 0 2.2 0 2.2 0 2.2 0 2.2 0 2.2 0 2.2 0 2.3 0 2.2 0 2.2 0 2.2 0 2.2 0 2.2 0 2.3 0 2.2 0 2.2 0 2.2 0 2.2 0 2.2 0 2.3 0 2.2 0 2.2 0 2.2 0 2.2 0 2.2 0 2.3 0 2.2 0 2.2 0 2.2 0 2.2 0 2.2 0 2.2 0 2.3 0 2.2 0 2.2 0 2.2 0 2.2 0 2.2 0 2.3 0 2.2 0 2.2 0 2.2 0 2.2 0 2.2 0 2.3 0 2.2 0 2.2 0 2.2 0 2.2 0 2.2 0 2.3 0 2.2 0 2.2 0 2.2 0 2.2 0 2.2 0 2.3 0 2.2 0 2.2 0 2.2 0 2.2 0 2.2 0 2.2 0 2.3 0 2.2 0 2.2 0 2.2 0 2.2 0 2.2 0 2.3 0 2.2 0 2.2 0 2.2 0 2.2 0 2.2 0 2.3 0 2.2 0 2.2 0 2.2 0 2.2 0 2.2 0 2.3 0 2.2 0 2.2 0 2.2 0 2.2 0 2.2 0 2.3 0 2.2 0 2.2 0 2.2 0 2.2 0 2.2 0 2.2 0 2.3 0 2.2 0 2.2 0 2.2 0 2.2 0 2.2 0 2.3 0 2.2 0 2.2 0 2.2 0 2.2 0 2.2 0 2.3 0 2.2 0 2.2 0 2.2 0 2.2 0 2.2 0 2.3 0 2.2 0 2.2 0 2.2 0 2.2 0 2.2 0 2.3 0 2.2 0 2.2 0 2.2 0 0-2.2 0-2.2 0-2.2 0-2.3 0-2.2 0-2.2 0-2.2 0-2.2 0-2.2 0-2.2 0-2.3 0-2.2 0-2.2 0-2.2 0-2.2 0-2.2 0-2.3 0-2.2 0-2.2 0-2.2 0-2.2 0-2.2 0-2.2 0-2.3 0-2.2 0-2.2 0-2.2 0-2.2 0-2.2 0-2.3 0-2.2 0-2.2 0-2.2 0-2.2 0-2.2 0-2.2 0-2.3 0-2.2 0-2.2 0-2.2 0-2.2 0-2.2 0-2.2 0-2.3 0-2.2 0-2.2 0-2.2 0-2.2 0-2.2 0-2.2 0-2.3 0-2.2 0-2.2 0-2.2 0-2.2 0-2.2 0-2.3 0-2.2 0-2.2 0-2.2 0-2.2 0-2.2 0-2.2 0-2.3 0-2.2 0-2.2 0-2.2 0-2.2 0-2.2 0-2.3 0-2.2 0-2.2 0-2.2 0-2.2 0-2.2 0-2.2 0-2.3 0-2.2 0-2.2 0-2.2 0-2.2 0-2.2 0-2.2 0-2.3 0-2.2 0-2.2 0-2.2 0-2.2 0-2.2 0-2.3 0-2.2 0-2.2 0-2.2 0-2.2 0-2.2 0-2.2 0-2.3 0-2.2 0-2.2 0-2.2 0-2.2 0-2.2 0-2.2 0-2.3 0-2.2 0-2.2 0-2.2 0-2.2 0-2.2 0-2.3 0-2.2 0-2.2 0-2.2 0-2.2 0-2.2 0-2.2 0-2.3 0-2.2 0-2.2 0-2.2 0-2.2 0-2.2 0-2.2 0-2.3 0-2.2 0-2.2 0-2.2 0-2.2 0-2.2 0-2.3 0-2.2 0-2.2 0-2.2 0-2.2 0-2.2 0-2.2 0-2.3 0-2.2 0-2.2 0-2.2 0-2.2 0-2.2 0-2.2 0-2.3 0-2.2 0-2.2 0-2.2 0-2.2 0-2.2 0-2.3 0-2.2 0-2.2 0-2.2 0-2.2 0-2.2 0-2.2 0-2.3 0-2.2 0-2.2 0-2.2 0-2.2 0-2.2 0-2.2 0-2.3 0-2.2 0-2.2 0-2.2 0-2.2 0-2.2 0-2.3 0-2.2 0-2.2 0-2.2 0-2.2 0-2.2 0-2.2 0-2.3 0-2.2 0-2.2 0-2.2-2.2 0-2.2 0-2.2 0-2.3 0-2.2 0-2.2 0-2.2 0-2.2 0-2.2 0-2.3 0-2.2 0-2.2 0-2.2 0-2.2 0-2.2 0-2.3 0-2.2 0-2.2 0-2.2 0-2.2 0-2.2 0-2.3 0-2.2 0-2.2 0-2.2 0-2.2 0-2.2 0-2.3 0-2.2 0-2.2 0-2.2 0-2.2 0-2.2 0-2.2 0-2.3 0-2.2 0-2.2 0-2.2 0-2.2 0-2.2 0-2.3 0-2.2 0-2.2 0-2.2 0-2.2 0-2.2 0-2.3 0-2.2 0-2.2 0-2.2 0-2.2 0-2.2 0-2.3 0-2.2 0-2.2 0-2.2 0-2.2 0-2.2 0-2.3 0-2.2 0-2.2 0-2.2 0-2.2 0-2.2 0-2.2 0-2.3 0-2.2 0-2.2 0-2.2 0-2.2 0-2.2 0-2.3 0-2.2 0-2.2 0-2.2 0-2.2 0-2.2 0-2.3 0-2.2 0-2.2 0-2.2 0-2.2 0-2.2 0-2.3 0-2.2 0-2.2 0-2.2 0-2.2 0-2.2 0-2.3 0-2.2 0-2.2 0-2.2 0-2.2 0-2.2 0-2.2 0-2.3 0-2.2 0-2.2 0-2.2 0-2.2 0-2.2 0-2.3 0-2.2 0-2.2 0-2.2 0-2.2 0-2.2 0-2.3 0-2.2 0-2.2 0-2.2 0-2.2 0-2.2 0-2.3 0-2.2 0-2.2 0-2.2 0-2.2 0-2.2 0-2.2 0-2.3 0-2.2 0-2.2 0-2.2 0-2.2 0-2.2 0-2.3 0-2.2 0-2.2 0-2.2 0-2.2 0-2.2 0-2.3 0-2.2 0-2.2 0-2.2 0-2.2 0-2.2 0-2.3 0-2.2 0-2.2 0-2.2 0-2.2 0-2.2 0-2.3 0-2.2 0-2.2 0-2.2 0-2.2 0-2.2 0-2.2 0-2.3 0-2.2 0-2.2 0-2.2 0-2.2 0-2.2 0-2.3 0-2.2 0-2.2 0-2.2 0-2.2 0-2.2 0-2.3 0-2.2 0-2.2 0-2.2 0-2.2 0-2.2 0-2.3 0-2.2 0-2.2 0-2.2 0-2.2 0-2.2 0-2.3 0-2.2 0-2.2 0-2.2 0 0 2.2 0 2.2 0 2.2 0 2.3 0 2.2 0 2.2 0 2.2 0 2.2 0 2.2 0 2.2 0 2.3 0 2.2 0 2.2 0 2.2 0 2.2 0 2.2 0 2.3 0 2.2 0 2.2 0 2.2 0 2.2 0 2.2 0 2.2 0 2.3 0 2.2 0 2.2 0 2.2 0 2.2 0 2.2 0 2.2 0 2.3 0 2.2 0 2.2 0 2.2 0 2.2 0 2.2 0 2.3 0 2.2 0 2.2 0 2.2 0 2.2 0 2.2 0 2.2 0 2.3 0 2.2 0 2.2 0 2.2 0 2.2 0 2.2 0 2.2 0 2.3 0 2.2 0 2.2 0 2.2 0 2.2 0 2.2 0 2.3 0 2.2 0 2.2 0 2.2 0 2.2 0 2.2 0 2.2 0 2.3 0 2.2 0 2.2 0 2.2 0 2.2 0 2.2 0 2.2 0 2.3 0 2.2 0 2.2 0 2.2 0 2.2 0 2.2 0 2.3 0 2.2 0 2.2 0 2.2 0 2.2 0 2.2 0 2.2 0 2.3 0 2.2 0 2.2 0 2.2 0 2.2 0 2.2 0 2.2 0 2.3 0 2.2 0 2.2 0 2.2 0 2.2 0 2.2 0 2.3 0 2.2 0 2.2 0 2.2 0 2.2 0 2.2 0 2.2 0 2.3 0 2.2 0 2.2 0 2.2 0 2.2 0 2.2 0 2.2 0 2.3 0 2.2 0 2.2 0 2.2 0 2.2 0 2.2 0 2.3 0 2.2 0 2.2 0 2.2 0 2.2 0 2.2 0 2.2 0 2.3 0 2.2 0 2.2 0 2.2 0 2.2 0 2.2 0 2.3 0 2.2 0 2.2 0 2.2 0 2.2 0 2.2 0 2.2 0 2.3 0 2.2 0 2.2 0 2.2 0 2.2 0 2.2 0 2.2 0 2.3 0 2.2 0 2.2 0 2.2 0 2.2 0 2.2 0 2.2 0 2.3 0 2.2 0 2.2 0 2.2 0 2.2 0 2.2 0 2.3 0 2.2 0 2.2 0 2.2 0 2.2 0 2.2 0 2.2 0 2.3 0 2.2 0 2.2 0 2.2 0 2.2 0 2.2 0 2.3 0 2.2 0 2.2 0 2.2 0 2.2 0 2.2 0 2.2 0 2.3 0 2.2 0 2.2zM230.4 398.4l-0.9-0.3-1.3-0.4-2.2-0.7-2.2-0.7-1-0.4-1.2-0.4-2.2-0.8-2.2-0.7-0.9-0.3-1.4-0.5-2.2-0.7-2.2-0.6-2-0.4-0.2-0.1-2.2-0.4-2.2-0.3-2.3-0.3-2.2-0.1-2.2 0-2.2 0-2.2 0.1-2.2 0.1-2.3 0.2-2.2 0.2-2.2 0.3-2.2 0.2-0.4 0.1-1.8 0.2-2.2 0.3-2.3 0.2-2.2 0.3-2.2 0.3-2.2 0.2-2.2 0.1-2.2 0.1-2.3-0.1-2.2-0.3-2.2-0.5-2.2-0.8-0.1 0-2.1-1.2-1.5-1-0.7-0.6-1.7-1.6-0.5-0.7-1.2-1.6-1.1-1.6-0.3-0.6-1-2.2-0.9-2.2-0.6-2.2-0.4-2.2-0.4-2.2-0.2-2.3-0.1-2.2 0-2.2 0.1-2.2 0.3-2.2 0.4-2.2 0.6-2.3 0.3-1.1 0.4-1.1 1.1-2.2 0.7-1.4 0.6-0.8 1.7-2.1 0.1-0.1 2.1-1.6 1.1-0.6 1.1-0.6 2.2-0.5 2.2-0.3 2.2 0.2 2.2 0.3 2.3 0.6 1 0.3 1.2 0.3 2.2 0.8 2.2 0.8 0.8 0.3 1.4 0.5 2.2 0.8 2.3 0.8 0.4 0.1 1.8 0.6 2.2 0.6 2.2 0.6 2.2 0.4 2.2 0.4 2.3 0.3 2.2 0.3 2.2 0.1 2.2 0.1 2.2 0 2.2 0 2.3-0.1 2.2-0.2 2.2-0.3 2.2-0.2 2.2-0.3 0.3-0.1 1.9-0.3 2.3-0.3 2.2-0.3 2.2-0.3 2.2-0.2 2.2-0.2 2.2-0.2 2.2 0 2.3 0.1 2.2 0.2 2.2 0.5 2.2 0.7 0.7 0.3 1.5 0.8 2 1.4 0.2 0.2 2.1 2 0.2 0.3 1.3 2 0.9 1.3 0.4 0.9 1 2.2 0.8 2.2 0.6 2.2 0.4 2.2 0.4 2.3 0.2 2.2 0.1 2.2 0.1 2.2-0.1 2.2-0.2 2.2-0.4 2.2-0.4 2.3-0.6 2.2-0.1 0.3-0.8 1.9-1.2 2.2-0.2 0.4-1.5 1.8-0.7 0.8-2 1.4-0.3 0.2-2.2 0.9-2.2 0.4-2.2 0-2.2-0.2-2.2-0.4zM394.4 205.8l-0.6-0.4-1.6-0.9-1.5-1.3-0.7-0.6-1.5-1.6-0.7-0.9-1.1-1.3-1.1-1.6-0.5-0.6-1.4-2.3-0.3-0.6-0.9-1.6-1.2-2.2-0.2-0.3-0.8-1.9-0.9-2.2-0.5-1.2-0.3-1-0.7-2.2-0.5-2.3-0.4-2.2-0.2-2.2-0.1-1.7 0-0.5 0-2.2 0.2-2.2 0.3-2.2 0.4-2.3 0.5-2.2 0.7-2.2 0.1-0.4 0.7-1.8 0.9-2.2 0.6-1.3 0.5-0.9 1.2-2.3 0.6-0.9 0.8-1.3 1.4-1.9 0.2-0.3 1.9-2.2 0.1-0.1 2.2-2.1 2.2-1.6 1.5-0.6 0.7-0.4 2.3-0.3 2.2 0.2 1 0.5 1.2 0.5 2.1 1.7 0.1 0 1.9 2.2 0.3 0.3 1.3 1.9 0.9 1.4 0.5 0.8 1.3 2.2 0.5 1 0.6 1.3 1 2.2 0.6 1.2 0.4 1 0.9 2.2 0.8 2.2 0.1 0.3 0.6 1.9 0.6 2.3 0.5 2.2 0.3 2.2 0.2 1.3 0.1 0.9 0.1 2.2 0 2.2-0.1 2.2-0.1 0.4-0.2 1.9-0.5 2.2-0.5 2.2-0.7 2.2-0.3 0.9-0.5 1.3-1 2.2-0.7 1.6-0.3 0.6-1.3 2.3-0.6 1.1-0.8 1.1-1.5 2-0.2 0.2-2 2.2-2.2 1.8-0.9 0.4-1.3 0.7-2.2 0.5-2.2-0.1zM152.9 210.6l-1.8-0.7-0.4-0.2-2.2-1.3-1.1-0.8-1.2-0.8-1.5-1.4-0.7-0.6-1.4-1.6-0.8-0.9-0.9-1.3-1.3-1.9-0.2-0.3-1.1-2.2-0.9-2-0.1-0.3-0.8-2.2-0.7-2.2-0.6-2.2 0-0.1-0.5-2.1-0.4-2.2-0.2-2.2-0.2-2.3-0.1-2.2-0.1-2.2 0.1-2.2 0.2-2.2 0.3-2.2 0.3-2.2 0.5-2.3 0.1-0.2 0.5-2 0.8-2.2 0.8-2.2 0.1-0.1 1-2.1 1.2-2.2 1.4-2.3 0.8-1.1 0.9-1.1 1.3-1.7 0.5-0.5 1.7-1.8 0.4-0.4 1.9-1.7 0.6-0.5 1.6-1.2 1.5-1 0.7-0.5 2.2-1.1 1.7-0.6 0.5-0.2 2.2-0.5 2.2-0.3 2.3 0 2.2 0.2 2.2 0.3 1.9 0.5 0.3 0 2.2 0.6 2.2 0.5 2.3 0.4 2.2 0.4 2.2 0.2 2.2 0 2.2-0.1 2.2-0.1 2.3-0.2 2.2-0.2 2.2-0.2 2.2 0 2.2 0 2.2 0.1 2.3 0.2 2.2 0.2 2.2 0.2 2.2 0.1 2.2-0.1 2.2-0.2 2.3-0.4 2.2-0.6 2.2-0.8 2.2-0.9 2.2-1 0.8-0.4 1.4-0.6 2.2-0.8 2.3-0.6 1.1-0.2 1.1-0.1 2.2 0 1.2 0.1 1 0.2 2.2 0.6 2.2 1 0.7 0.4 1.6 1 1.6 1.3 0.6 0.4 1.9 1.8 0.3 0.3 1.6 1.9 0.6 0.7 1 1.5 1.2 1.9 0.2 0.3 1.1 2.2 0.9 2.1 0.1 0.1 0.8 2.3 0.7 2.2 0.6 2.2 0.1 0.1 0.4 2.1 0.4 2.2 0.3 2.2 0.2 2.3 0.1 2.2 0 2.2-0.1 2.2-0.2 2.2-0.2 2.2-0.4 2.2-0.5 2.3 0 0.2-0.6 2-0.8 2.2-0.8 2.2-0.1 0.1-1 2.1-1.1 2.2-0.1 0.1-1.4 2.1-0.8 1.3-0.7 1-1.5 1.8-0.3 0.4-1.9 2.1-0.2 0.1-2 1.9-0.4 0.3-1.9 1.5-1.1 0.7-1.1 0.7-2.2 1.1-1.2 0.4-1 0.4-2.2 0.5-2.2 0.2-2.3 0-2.2-0.3-2.2-0.3-1.9-0.5-0.3 0-2.2-0.6-2.2-0.5-2.2-0.4-2.3-0.3-2.2-0.2-2.2 0-2.2 0.1-2.2 0.1-2.2 0.2-2.3 0.2-2.2 0.1-2.2 0-2.2-0.1-2.2-0.1-2.2-0.2-2.3-0.2-2.2-0.2-2.2-0.1-2.2 0.1-2.2 0.3-2.2 0.4-2.3 0.6-2.2 0.8-2.2 0.9-2.2 0.9-1.1 0.5-1.1 0.4-2.2 0.7-2.3 0.5-2.2 0.2-2.2-0.1-2.2-0.3z"/>
<path fill="#9b00ff" d="M86.4 482.3l2.2 0 2.2 0 2.2 0 2.3 0 2.2 0 2.2 0 2.2 0 2.2 0 2.2 0 2.3 0 2.2 0 2.2 0 2.2 0 2.2 0 2.2 0 2.3 0 2.2 0 2.2 0 2.2 0 2.2 0 2.2 0 2.3 0 2.2 0 2.2 0 2.2 0 2.2 0 2.2 0 2.3 0 2.2 0 2.2 0 2.2 0 2.2 0 2.2 0 2.2 0 2.3 0 2.2 0 2.2 0 2.2 0 2.2 0 2.2 0 2.3 0 2.2 0 2.2 0 2.2 0 2.2 0 2.2 0 2.3 0 2.2 0 2.2 0 2.2 0 2.2 0 2.2 0 2.3 0 2.2 0 2.2 0 2.2 0 2.2 0 2.2 0 2.3 0 2.2 0 2.2 0 2.2 0 2.2 0 2.2 0 2.2 0 2.3 0 2.2 0 2.2 0 2.2 0 2.2 0 2.2 0 2.3 0 2.2 0 2.2 0 2.2 0 2.2 0 2.2 0 2.3 0 2.2 0 2.2 0 2.2 0 2.2 0 2.2 0 2.3 0 2.2 0 2.2 0 2.2 0 2.2 0 2.2 0 2.2 0 2.3 0 2.2 0 2.2 0 2.2 0 2.2 0 2.2 0 2.3 0 2.2 0 2.2 0 2.2 0 2.2 0 2.2 0 2.3 0 2.2 0 2.2 0 2.2 0 2.2 0 2.2 0 2.3 0 2.2 0 2.2 0 2.2 0 2.2 0 2.2 0 2.3 0 2.2 0 2.2 0 2.2 0 2.2 0 2.2 0 2.2 0 2.3 0 2.2 0 2.2 0 2.2 0 2.2 0 2.2 0 2.3 0 2.2 0 2.2 0 2.2 0 2.2 0 2.2 0 2.3 0 2.2 0 2.2 0 2.2 0 2.2 0 2.2 0 2.3 0 2.2 0 2.2 0 2.2 0 2.2 0 2.2 0 2.3 0 2.2 0 2.2 0 2.2 0 2.2 0 2.2 0 2.2 0 2.3 0 2.2 0 2.2 0 2.2 0 2.2 0 2.2 0 2.3 0 2.2 0 2.2 0 2.2 0 2.2 0 2.2 0 2.3 0 2.2 0 2.2 0 2.2 0 2.2 0 2.2 0 2.3 0 2.2 0 2.2 0 2.2 0 2.2 0 2.2 0 2.3 0 2.2 0 2.2 0 2.2 0 0-2.2 0-2.2 0-2.2 0-2.3 0-2.2 0-2.2 0-2.2 0-2.2 0-2.2 0-2.2 0-2.3 0-2.2 0-2.2 0-2.2 0-2.2 0-2.2 0-2.3 0-2.2 0-2.2 0-2.2 0-2.2 0-2.2 0-2.2 0-2.3 0-2.2 0-2.2 0-2.2 0-2.2 0-2.2 0-2.3 0-2.2 0-2.2 0-2.2 0-2.2 0-2.2 0-2.2 0-2.3 0-2.2 0-2.2 0-2.2 0-2.2 0-2.2 0-2.2 0-2.3 0-2.2 0-2.2 0-2.2 0-2.2 0-2.2 0-2.2 0-2.3 0-2.2 0-2.2 0-2.2 0-2.2 0-2.2 0-2.3 0-2.2 0-2.2 0-2.2 0-2.2 0-2.2 0-2.2 0-2.3 0-2.2 0-2.2 0-2.2 0-2.2 0-2.2 0-2.3 0-2.2 0-2.2 0-2.2 0-2.2 0-2.2 0-2.2 0-2.3 0-2.2 0-2.2 0-2.2 0-2.2 0-2.2 0-2.2 0-2.3 0-2.2 0-2.2 0-2.2 0-2.2 0-2.2 0-2.3 0-2.2 0-2.2 0-2.2 0-2.2 0-2.2 0-2.2 0-2.3 0-2.2 0-2.2 0-2.2 0-2.2 0-2.2 0-2.2 0-2.3 0-2.2 0-2.2 0-2.2 0-2.2 0-2.2 0-2.3 0-2.2 0-2.2 0-2.2 0-2.2 0-2.2 0-2.2 0-2.3 0-2.2 0-2.2 0-2.2 0-2.2 0-2.2 0-2.2 0-2.3 0-2.2 0-2.2 0-2.2 0-2.2 0-2.2 0-2.3 0-2.2 0-2.2 0-2.2 0-2.2 0-2.2 0-2.2 0-2.3 0-2.2 0-2.2 0-2.2 0-2.2 0-2.2 0-2.2 0-2.3 0-2.2 0-2.2 0-2.2 0-2.2 0-2.2 0-2.3 0-2.2 0-2.2 0-2.2 0-2.2 0-2.2 0-2.2 0-2.3 0-2.2 0-2.2 0-2.2 0-2.2 0-2.2 0-2.2 0-2.3 0-2.2 0-2.2 0-2.2 0-2.2 0-2.2 0-2.3 0-2.2 0-2.2 0-2.2 0-2.2 0-2.2 0-2.2 0-2.3 0-2.2 0-2.2 0-2.2-2.2 0-2.2 0-2.2 0-2.3 0-2.2 0-2.2 0-2.2 0-2.2 0-2.2 0-2.3 0-2.2 0-2.2 0-2.2 0-2.2 0-2.2 0-2.3 0-2.2 0-2.2 0-2.2 0-2.2 0-2.2 0-2.3 0-2.2 0-2.2 0-2.2 0-2.2 0-2.2 0-2.3 0-2.2 0-2.2 0-2.2 0-2.2 0-2.2 0-2.2 0-2.3 0-2.2 0-2.2 0-2.2 0-2.2 0-2.2 0-2.3 0-2.2 0-2.2 0-2.2 0-2.2 0-2.2 0-2.3 0-2.2 0-2.2 0-2.2 0-2.2 0-2.2 0-2.3 0-2.2 0-2.2 0-2.2 0-2.2 0-2.2 0-2.3 0-2.2 0-2.2 0-2.2 0-2.2 0-2.2 0-2.2 0-2.3 0-2.2 0-2.2 0-2.2 0-2.2 0-2.2 0-2.3 0-2.2 0-2.2 0-2.2 0-2.2 0-2.2 0-2.3 0-2.2 0-2.2 0-2.2 0-2.2 0-2.2 0-2.3 0-2.2 0-2.2 0-2.2 0-2.2 0-2.2 0-2.3 0-2.2 0-2.2 0-2.2 0-2.2 0-2.2 0-2.2 0-2.3 0-2.2 0-2.2 0-2.2 0-2.2 0-2.2 0-2.3 0-2.2 0-2.2 0-2.2 0-2.2 0-2.2 0-2.3 0-2.2 0-2.2 0-2.2 0-2.2 0-2.2 0-2.3 0-2.2 0-2.2 0-2.2 0-2.2 0-2.2 0-2.2 0-2.3 0-2.2 0-2.2 0-2.2 0-2.2 0-2.2 0-2.3 0-2.2 0-2.2 0-2.2 0-2.2 0-2.2 0-2.3 0-2.2 0-2.2 0-2.2 0-2.2 0-2.2 0-2.3 0-2.2 0-2.2 0-2.2 0-2.2 0-2.2 0-2.3 0-2.2 0-2.2 0-2.2 0-2.2 0-2.2 0-2.2 0-2.3 0-2.2 0-2.2 0-2.2 0-2.2 0-2.2 0-2.3 0-2.2 0-2.2 0-2.2 0-2.2 0-2.2 0-2.3 0-2.2 0-2.2 0-2.2 0-2.2 0-2.2 0-2.3 0-2.2 0-2.2 0-2.2 0-2.2 0-2.2 0-2.3 0-2.2 0-2.2 0-2.2 0 0 2.2 0 2.2 0 2.2 0 2.3 0 2.2 0 2.2 0 2.2 0 2.2 0 2.2 0 2.2 0 2.3 0 2.2 0 2.2 0 2.2 0 2.2 0 2.2 0 2.3 0 2.2 0 2.2 0 2.2 0 2.2 0 2.2 0 2.2 0 2.3 0 2.2 0 2.2 0 2.2 0 2.2 0 2.2 0 2.2 0 2.3 0 2.2 0 2.2 0 2.2 0 2.2 0 2.2 0 2.3 0 2.2 0 2.2 0 2.2 0 2.2 0 2.2 0 2.2 0 2.3 0 2.2 0 2.2 0 2.2 0 2.2 0 2.2 0 2.2 0 2.3 0 2.2 0 2.2 0 2.2 0 2.2 0 2.2 0 2.3 0 2.2 0 2.2 0 2.2 0 2.2 0 2.2 0 2.2 0 2.3 0 2.2 0 2.2 0 2.2 0 2.2 0 2.2 0 2.2 0 2.3 0 2.2 0 2.2 0 2.2 0 2.2 0 2.2 0 2.3 0 2.2 0 2.2 0 2.2 0 2.2 0 2.2 0 2.2 0 2.3 0 2.2 0 2.2 0 2.2 0 2.2 0 2.2 0 2.2 0 2.3 0 2.2 0 2.2 0 2.2 0 2.2 0 2.2 0 2.3 0 2.2 0 2.2 0 2.2 0 2.2 0 2.2 0 2.2 0 2.3 0 2.2 0 2.2 0 2.2 0 2.2 0 2.2 0 2.2 0 2.3 0 2.2 0 2.2 0 2.2 0 2.2 0 2.2 0 2.3 0 2.2 0 2.2 0 2.2 0 2.2 0 2.2 0 2.2 0 2.3 0 2.2 0 2.2 0 2.2 0 2.2 0 2.2 0 2.3 0 2.2 0 2.2 0 2.2 0 2.2 0 2.2 0 2.2 0 2.3 0 2.2 0 2.2 0 2.2 0 2.2 0 2.2 0 2.2 0 2.3 0 2.2 0 2.2 0 2.2 0 2.2 0 2.2 0 2.2 0 2.3 0 2.2 0 2.2 0 2.2 0 2.2 0 2.2 0 2.3 0 2.2 0 2.2 0 2.2 0 2.2 0 2.2 0 2.2 0 2.3 0 2.2 0 2.2 0 2.2 0 2.2 0 2.2 0 2.3 0 2.2 0 2.2 0 2.2 0 2.2 0 2.2 0 2.2 0 2.3 0 2.2 0 2.2zM230.4 404.8l-0.1 0-2.1-0.5-2.2-0.6-2.2-0.6-1.8-0.5-0.4-0.2-2.2-0.7-2.2-0.6-2.3-0.7-0.2-0.1-2-0.5-2.2-0.6-2.2-0.5-2.2-0.4-1.1-0.2-1.1-0.1-2.3-0.3-2.2-0.1-2.2 0-2.2 0.1-2.2 0.1-2.2 0.2-1.7 0.1-0.6 0.1-2.2 0.2-2.2 0.2-2.2 0.2-2.2 0.2-2.2 0.2-2.3 0.1-2.2 0.1-2.2 0.1-2.2 0.1-2.2 0-2.2-0.1-2.3-0.2-2.2-0.4-2.2-0.6-0.5-0.2-1.7-0.6-2.2-1.2-0.6-0.4-1.6-1.1-1.3-1.1-0.9-0.9-1.2-1.3-1.1-1.3-0.6-0.9-1.3-2.2-0.3-0.5-0.8-1.8-1-2.2-0.4-1.2-0.3-1-0.6-2.2-0.5-2.2-0.4-2.2-0.2-2.2-0.2-2.2 0-0.1-0.1-2.2 0-2.2 0.1-1.6 0-0.6 0.2-2.2 0.3-2.2 0.5-2.3 0.5-2.2 0.6-2.2 0.1-0.3 0.8-1.9 1-2.2 0.4-0.8 1-1.4 1.2-1.8 0.5-0.4 1.8-1.7 0.7-0.6 1.5-0.9 2.2-1 0.9-0.3 1.3-0.3 2.2-0.3 2.2 0 2.2 0.2 2.3 0.4 2.2 0.5 2.2 0.7 2.2 0.6 1.4 0.4 0.8 0.3 2.2 0.7 2.3 0.7 2.1 0.6 0.1 0 2.2 0.6 2.2 0.5 2.2 0.5 2.2 0.3 1.7 0.3 0.6 0.1 2.2 0.2 2.2 0.1 2.2 0.1 2.2 0 2.2-0.1 2.3-0.2 2.2-0.2 0.3 0 1.9-0.2 2.2-0.3 2.2-0.2 2.2-0.3 2.3-0.2 2.2-0.1 2.2-0.2 2.2-0.1 2.2 0 2.2 0 2.2 0.1 2.3 0.2 2.2 0.3 2.2 0.5 1.4 0.5 0.8 0.2 2.2 1.1 1.4 0.9 0.8 0.5 2 1.7 0.3 0.2 1.7 2 0.5 0.7 1 1.5 1.2 2.1 0.1 0.1 0.9 2.3 0.9 2.2 0.3 0.9 0.4 1.3 0.5 2.2 0.5 2.2 0.3 2.2 0.3 2.3 0.2 2.2 0 0.3 0.1 1.9 0 2.2 0 2.2-0.1 1.3 0 0.9-0.3 2.2-0.3 2.3-0.4 2.2-0.6 2.2-0.6 2-0.1 0.2-0.9 2.2-1.2 2.2 0 0.1-1.6 2.1-0.6 0.8-1.7 1.5-0.5 0.4-2.3 1.3-1.4 0.5-0.8 0.3-2.2 0.4-2.2 0.1-2.2-0.1-2.2-0.3zM394.4 210.7l-1.6-0.8-0.6-0.4-2.2-1.7-0.1-0.2-2.1-2-0.1-0.2-1.9-2.2-0.2-0.3-1.4-1.9-0.8-1.2-0.8-1-1.4-2.2-0.1-0.2-1.2-2.1-1-1.8-0.2-0.4-1.1-2.2-0.9-2.1 0-0.1-0.9-2.2-0.7-2.2-0.6-2.1-0.1-0.1-0.4-2.3-0.4-2.2-0.2-2.2-0.1-2.2 0-2.2 0.2-2.2 0.3-2.2 0.4-2.3 0.3-1.3 0.2-0.9 0.7-2.2 0.7-2.2 0.6-1.5 0.3-0.7 1-2.2 0.9-1.8 0.2-0.5 1.3-2.2 0.7-1.2 0.7-1 1.5-2.2 0.1-0.1 1.6-2.1 0.6-0.7 1.4-1.5 0.8-0.8 1.6-1.4 0.6-0.6 2.2-1.5 0.5-0.2 1.7-0.7 2.3-0.4 2.2 0.2 2.2 0.8 0.3 0.1 1.9 1.4 1 0.9 1.2 1.2 0.8 1 1.4 1.9 0.3 0.3 1.4 2.2 0.6 0.9 0.7 1.3 1.2 2.2 0.3 0.5 0.8 1.7 1.1 2.3 0.3 0.5 0.7 1.7 1 2.2 0.5 1.3 0.4 0.9 0.8 2.2 0.7 2.2 0.3 1.3 0.3 1 0.5 2.2 0.4 2.2 0.2 2.2 0.1 2.2 0 2.2-0.1 2.2-0.3 2.3-0.5 2.2-0.5 2.2-0.1 0.3-0.6 1.9-0.8 2.2-0.8 2-0.1 0.2-1 2.2-1.1 2.2 0 0.1-1.3 2.2-0.9 1.5-0.5 0.7-1.5 2.2-0.2 0.3-1.6 1.9-0.7 0.7-1.5 1.5-0.7 0.7-2.2 1.6-2.2 1-2.2 0.5-2.2-0.1zM152.9 214.5l-0.5-0.2-1.7-0.8-2.2-1.3-0.3-0.1-2-1.4-1-0.8-1.2-1.1-1.1-1.2-1.1-1.1-0.9-1.1-1.3-1.7-0.3-0.5-1.3-2.2-0.6-1.1-0.6-1.1-1-2.2-0.6-1.8-0.2-0.5-0.7-2.2-0.6-2.2-0.6-2.2-0.2-1-0.2-1.2-0.3-2.2-0.3-2.2-0.2-2.3-0.1-2.2 0-2.2 0.1-2.2 0.1-2.2 0.2-2.2 0.3-2.2 0.4-2.3 0.6-2.2 0.6-2.2 0.8-2.2 0.3-0.8 0.6-1.4 1-2.2 0.6-1.2 0.6-1.1 1.3-2.2 0.3-0.3 1.3-1.9 0.9-1.2 0.8-1 1.4-1.6 0.6-0.6 1.6-1.7 0.6-0.5 1.7-1.5 0.9-0.7 1.3-1 2-1.3 0.2-0.1 2.2-1 2.2-0.8 1.1-0.3 1.1-0.2 2.2-0.3 2.3 0 2.2 0.2 2.2 0.3 0.3 0 1.9 0.4 2.2 0.5 2.2 0.4 2.3 0.4 2.2 0.3 2.2 0.2 2.2 0 2.2-0.1 2.2-0.1 2.3-0.2 2.2-0.2 2.2-0.1 2.2-0.1 2.2 0.1 2.2 0.2 2.3 0.2 2.2 0.2 2.2 0.1 0.2 0 2 0.1 2.2 0 0.1-0.1 2.1-0.2 2.3-0.4 2.2-0.7 2.2-0.8 0.2-0.1 2-0.8 2.2-1 1-0.4 1.2-0.5 2.2-0.8 2.3-0.6 2.2-0.2 2.2 0 2.2 0.4 2.2 0.7 2.2 1 0.1 0 2.2 1.3 1.2 0.9 1 0.8 1.6 1.4 0.6 0.6 1.5 1.7 0.7 0.7 1.1 1.5 1.1 1.6 0.4 0.6 1.3 2.2 0.5 1 0.6 1.2 1 2.2 0.7 1.8 0.1 0.4 0.7 2.3 0.6 2.2 0.6 2.2 0.2 0.9 0.2 1.3 0.4 2.2 0.2 2.2 0.2 2.3 0.1 2.2 0 2.2 0 2.2-0.2 2.2-0.2 2.2-0.3 2.2-0.4 2.3-0.6 2.2-0.6 2.2-0.8 2.2-0.2 0.8-0.7 1.4-1 2.2-0.6 1.2-0.6 1-1.3 2.3-0.3 0.4-1.2 1.8-1 1.3-0.7 0.9-1.5 1.8-0.4 0.4-1.8 1.9-0.4 0.3-1.8 1.7-0.7 0.5-1.6 1.2-1.7 1.1-0.5 0.2-2.2 1.1-2.2 0.7-0.6 0.2-1.6 0.3-2.2 0.2-2.3 0-2.2-0.2-2.2-0.3-0.2 0-2-0.4-2.2-0.5-2.2-0.4-2.2-0.4-2.3-0.3-2.2-0.1-2.2 0-2.2 0.1-2.2 0.2-2.2 0.1-2.3 0.2-2.2 0.1-2.2 0-2.2-0.1-2.2-0.2-2.2-0.2-2.3-0.3-1.1 0-1.1-0.1-2.2-0.1-2.2 0.1-0.5 0.1-1.7 0.2-2.2 0.4-2.3 0.7-2.2 0.7-0.3 0.2-1.9 0.7-2.2 0.9-1.6 0.6-0.6 0.2-2.2 0.6-2.3 0.5-2.2 0.1-2.2-0.1-2.2-0.4z"/>
<path fill="#8200ff" d="M86.4 482.3l2.2 0 2.2 0 2.2 0 2.3 0 2.2 0 2.2 0 2.2 0 2.2 0 2.2 0 2.3 0 2.2 0 2.2 0 2.2 0 2.2 0 2.2 0 2.3 0 2.2 0 2.2 0 2.2 0 2.2 0 2.2 0 2.3 0 2.2 0 2.2 0 2.2 0 2.2 0 2.2 0 2.3 0 2.2 0 2.2 0 2.2 0 2.2 0 2.2 0 2.2 0 2.3 0 2.2 0 2.2 0 2.2 0 2.2 0 2.2 0 2.3 0 2.2 0 2.2 0 2.2 0 2.2 0 2.2 0 2.3 0 2.2 0 2.2 0 2.2 0 2.2 0 2.2 0 2.3 0 2.2 0 2.2 0 2.2 0 2.2 0 2.2 0 2.3 0 2.2 0 2.2 0 2.2 0 2.2 0 2.2 0 2.2 0 2.3 0 2.2 0 2.2 0 2.2 0 2.2 0 2.2 0 2.3 0 2.2 0 2.2 0 2.2 0 2.2 0 2.2 0 2.3 0 2.2 0 2.2 0 2.2 0 2.2 0 2.2 0 2.3 0 2.2 0 2.2 0 2.2 0 2.2 0 2.2 0 2.2 0 2.3 0 2.2 0 2.2 0 2.2 0 2.2 0 2.2 0 2.3 0 2.2 0 2.2 0 2.2 0 2.2 0 2.2 0 2.3 0 2.2 0 2.2 0 2.2 0 2.2 0 2.2 0 2.3 0 2.2 0 2.2 0 2.2 0 2.2 0 2.2 0 2.3 0 2.2 0 2.2 0 2.2 0 2.2 0 2.2 0 2.2 0 2.3 0 2.2 0 2.2 0 2.2 0 2.2 0 2.2 0 2.3 0 2.2 0 2.2 0 2.2 0 2.2 0 2.2 0 2.3 0 2.2 0 2.2 0 2.2 0 2.2 0 2.2 0 2.3 0 2.2 0 2.2 0 2.2 0 2.2 0 2.2 0 2.3 0 2.2 0 2.2 0 2.2 0 2.2 0 2.2 0 2.2 0 2.3 0 2.2 0 2.2 0 2.2 0 2.2 0 2.2 0 2.3 0 2.2 0 2.2 0 2.2 0 2.2 0 2.2 0 2.3 0 2.2 0 2.2 0 2.2 0 2.2 0 2.2 0 2.3 0 2.2 0 2.2 0 2.2 0 2.2 0 2.2 0 2.3 0 2.2 0 2.2 0 2.2 0 0-2.2 0-2.2 0-2.2 0-2.3 0-2.2 0-2.2 0-2.2 0-2.2 0-2.2 0-2.2 0-2.3 0-2.2 0-2.2 0-2.2 0-2.2 0-2.2 0-2.3 0-2.2 0-2.2 0-2.2 0-2.2 0-2.2 0-2.2 0-2.3 0-2.2 0-2.2 0-2.2 0-2.2 0-2.2 0-2.3 0-2.2 0-2.2 0-2.2 0-2.2 0-2.2 0-2.2 0-2.3 0-2.2 0-2.2 0-2.2 0-2.2 0-2.2 0-2.2 0-2.3 0-2.2 0-2.2 0-2.2 0-2.2 0-2.2 0-2.2 0-2.3 0-2.2 0-2.2 0-2.2 0-2.2 0-2.2 0-2.3 0-2.2 0-2.2 0-2.2 0-2.2 0-2.2 0-2.2 0-2.3 0-2.2 0-2.2 0-2.2 0-2.2 0-2.2 0-2.3 0-2.2 0-2.2 0-2.2 0-2.2 0-2.2 0-2.2 0-2.3 0-2.2 0-2.2 0-2.2 0-2.2 0-2.2 0-2.2 0-2.3 0-2.2 0-2.2 0-2.2 0-2.2 0-2.2 0-2.3 0-2.2 0-2.2 0-2.2 0-2.2 0-2.2 0-2.2 0-2.3 0-2.2 0-2.2 0-2.2 0-2.2 0-2.2 0-2.2 0-2.3 0-2.2 0-2.2 0-2.2 0-2.2 0-2.2 0-2.3 0-2.2 0-2.2 0-2.2 0-2.2 0-2.2 0-2.2 0-2.3 0-2.2 0-2.2 0-2.2 0-2.2 0-2.2 0-2.2 0-2.3 0-2.2 0-2.2 0-2.2 0-2.2 0-2.2 0-2.3 0-2.2 0-2.2 0-2.2 0-2.2 0-2.2 0-2.2 0-2.3 0-2.2 0-2.2 0-2.2 0-2.2 0-2.2 0-2.2 0-2.3 0-2.2 0-2.2 0-2.2 0-2.2 0-2.2 0-2.3 0-2.2 0-2.2 0-2.2 0-2.2 0-2.2 0-2.2 0-2.3 0-2.2 0-2.2 0-2.2 0-2.2 0-2.2 0-2.2 0-2.3 0-2.2 0-2.2 0-2.2 0-2.2 0-2.2 0-2.3 0-2.2 0-2.2 0-2.2 0-2.2 0-2.2 0-2.2 0-2.3 0-2.2 0-2.2 0-2.2-2.2 0-2.2 0-2.2 0-2.3 0-2.2 0-2.2 0-2.2 0-2.2 0-2.2 0-2.3 0-2.2 0-2.2 0-2.2 0-2.2 0-2.2 0-2.3 0-2.2 0-2.2 0-2.2 0-2.2 0-2.2 0-2.3 0-2.2 0-2.2 0-2.2 0-2.2 0-2.2 0-2.3 0-2.2 0-2.2 0-2.2 0-2.2 0-2.2 0-2.2 0-2.3 0-2.2 0-2.2 0-2.2 0-2.2 0-2.2 0-2.3 0-2.2 0-2.2 0-2.2 0-2.2 0-2.2 0-2.3 0-2.2 0-2.2 0-2.2 0-2.2 0-2.2 0-2.3 0-2.2 0-2.2 0-2.2 0-2.2 0-2.2 0-2.3 0-2.2 0-2.2 0-2.2 0-2.2 0-2.2 0-2.2 0-2.3 0-2.2 0-2.2 0-2.2 0-2.2 0-2.2 0-2.3 0-2.2 0-2.2 0-2.2 0-2.2 0-2.2 0-2.3 0-2.2 0-2.2 0-2.2 0-2.2 0-2.2 0-2.3 0-2.2 0-2.2 0-2.2 0-2.2 0-2.2 0-2.3 0-2.2 0-2.2 0-2.2 0-2.2 0-2.2 0-2.2 0-2.3 0-2.2 0-2.2 0-2.2 0-2.2 0-2.2 0-2.3 0-2.2 0-2.2 0-2.2 0-2.2 0-2.2 0-2.3 0-2.2 0-2.2 0-2.2 0-2.2 0-2.2 0-2.3 0-2.2 0-2.2 0-2.2 0-2.2 0-2.2 0-2.2 0-2.3 0-2.2 0-2.2 0-2.2 0-2.2 0-2.2 0-2.3 0-2.2 0-2.2 0-2.2 0-2.2 0-2.2 0-2.3 0-2.2 0-2.2 0-2.2 0-2.2 0-2.2 0-2.3 0-2.2 0-2.2 0-2.2 0-2.2 0-2.2 0-2.3 0-2.2 0-2.2 0-2.2 0-2.2 0-2.2 0-2.2 0-2.3 0-2.2 0-2.2 0-2.2 0-2.2 0-2.2 0-2.3 0-2.2 0-2.2 0-2.2 0-2.2 0-2.2 0-2.3 0-2.2 0-2.2 0-2.2 0-2.2 0-2.2 0-2.3 0-2.2 0-2.2 0-2.2 0-2.2 0-2.2 0-2.3 0-2.2 0-2.2 0-2.2 0 0 2.2 0 2.2 0 2.2 0 2.3 0 2.2 0 2.2 0 2.2 0 2.2 0 2.2 0 2.2 0 2.3 0 2.2 0 2.2 0 2.2 0 2.2 0 2.2 0 2.3 0 2.2 0 2.2 0 2.2 0 2.2 0 2.2 0 2.2 0 2.3 0 2.2 0 2.2 0 2.2 0 2.2 0 2.2 0 2.2 0 2.3 0 2.2 0 2.2 0 2.2 0 2.2 0 2.2 0 2.3 0 2.2 0 2.2 0 2.2 0 2.2 0 2.2 0 2.2 0 2.3 0 2.2 0 2.2 0 2.2 0 2.2 0 2.2 0 2.2 0 2.3 0 2.2 0 2.2 0 2.2 0 2.2 0 2.2 0 2.3 0 2.2 0 2.2 0 2.2 0 2.2 0 2.2 0 2.2 0 2.3 0 2.2 0 2.2 0 2.2 0 2.2 0 2.2 0 2.2 0 2.3 0 2.2 0 2.2 0 2.2 0 2.2 0 2.2 0 2.3 0 2.2 0 2.2 0 2.2 0 2.2 0 2.2 0 2.2 0 2.3 0 2.2 0 2.2 0 2.2 0 2.2 0 2.2 0 2.2 0 2.3 0 2.2 0 2.2 0 2.2 0 2.2 0 2.2 0 2.3 0 2.2 0 2.2 0 2.2 0 2.2 0 2.2 0 2.2 0 2.3 0 2.2 0 2.2 0 2.2 0 2.2 0 2.2 0 2.2 0 2.3 0 2.2 0 2.2 0 2.2 0 2.2 0 2.2 0 2.3 0 2.2 0 2.2 0 2.2 0 2.2 0 2.2 0 2.2 0 2.3 0 2.2 0 2.2 0 2.2 0 2.2 0 2.2 0 2.3 0 2.2 0 2.2 0 2.2 0 2.2 0 2.2 0 2.2 0 2.3 0 2.2 0 2.2 0 2.2 0 2.2 0 2.2 0 2.2 0 2.3 0 2.2 0 2.2 0 2.2 0 2.2 0 2.2 0 2.2 0 2.3 0 2.2 0 2.2 0 2.2 0 2.2 0 2.2 0 2.3 0 2.2 0 2.2 0 2.2 0 2.2 0 2.2 0 2.2 0 2.3 0 2.2 0 2.2 0 2.2 0 2.2 0 2.2 0 2.3 0 2.2 0 2.2 0 2.2 0 2.2 0 2.2 0 2.2 0 2.3 0 2.2 0 2.2zM226 409.6l-1.6-0.4-0.6-0.2-2.2-0.6-2.2-0.6-2.2-0.6-0.7-0.2-1.6-0.5-2.2-0.6-2.2-0.5-2.2-0.5-0.5-0.1-1.7-0.3-2.2-0.4-2.3-0.2-2.2-0.1-2.2 0-2.2 0.1-2.2 0.2-2.2 0.2-2.3 0.2-2.2 0.2-0.4 0.1-1.8 0.1-2.2 0.2-2.2 0.1-2.2 0.1-2.3 0.1-2.2 0.1-2.2 0-2.2 0-2.2-0.1-2.2-0.2-2.3-0.3-0.6-0.1-1.6-0.3-2.2-0.7-2.2-0.9-0.6-0.3-1.6-0.9-2-1.4-0.2-0.1-2.2-1.9-0.2-0.2-2-2.2-0.1 0-1.6-2.2-0.6-0.8-0.8-1.4-1.2-2.2-0.2-0.4-0.8-1.8-0.8-2.3-0.6-1.6-0.2-0.6-0.5-2.2-0.5-2.2-0.4-2.2-0.3-2.2-0.2-2.2-0.1-1.4-0.1-0.9 0-2.2 0-2.2 0-2.2 0.1-0.5 0.1-1.7 0.2-2.2 0.4-2.3 0.4-2.2 0.5-2.2 0.5-2.2 0.1-0.1 0.7-2.1 0.9-2.2 0.6-1.2 0.6-1 1.4-2.3 0.2-0.4 1.6-1.8 0.6-0.7 1.7-1.5 0.6-0.4 2.2-1.4 0.9-0.4 1.3-0.6 2.2-0.6 2.2-0.4 2.2-0.1 2.2 0.1 2.3 0.3 2.2 0.4 2.2 0.6 1.2 0.3 1 0.3 2.2 0.6 2.2 0.6 2.3 0.7 0.1 0 2.1 0.6 2.2 0.5 2.2 0.5 2.2 0.5 0.8 0.1 1.4 0.3 2.3 0.3 2.2 0.2 2.2 0.1 2.2 0.1 2.2-0.1 2.2-0.1 2.3-0.2 2.2-0.2 2.2-0.3 0.8-0.1 1.4-0.1 2.2-0.3 2.2-0.1 2.3-0.2 2.2-0.1 2.2 0 2.2 0 2.2 0 2.2 0.1 2.2 0.2 2.3 0.3 1.4 0.2 0.8 0.2 2.2 0.5 2.2 0.8 1.5 0.7 0.7 0.4 2.2 1.4 0.7 0.5 1.6 1.2 0.9 1 1.3 1.3 0.6 0.9 1.6 2.1 0 0.1 1.3 2.2 0.9 1.8 0.2 0.4 0.8 2.2 0.8 2.3 0.4 1.3 0.3 0.9 0.5 2.2 0.4 2.2 0.4 2.2 0.3 2.2 0.2 2.3 0.1 1.7 0.1 0.5 0.1 2.2 0 2.2 0 2.2-0.1 2.2-0.1 0.6-0.1 1.6-0.2 2.3-0.4 2.2-0.4 2.2-0.5 2.2-0.6 2.1 0 0.1-0.9 2.2-1 2.2-0.3 0.7-1 1.6-1.2 1.7-0.4 0.5-1.8 1.9-0.5 0.3-1.7 1.3-1.7 0.9-0.6 0.3-2.2 0.8-2.2 0.4-2.2 0.3-2.2 0-2.2-0.2-2.3-0.3-2.2-0.4zM394.4 398.9l-0.7-0.8-1.5-1.7-0.3-0.5-1.2-2.2-0.7-1.3-0.4-0.9-0.8-2.2-0.7-2.2-0.3-1.2-0.2-1.1-0.4-2.2-0.3-2.2-0.3-2.2-0.1-2.2 0-2.2 0.1-2.2 0.2-2.3 0.2-2.2 0.3-2.2 0.4-2.2 0.1-0.8 0.3-1.4 0.5-2.2 0.6-2.3 0.6-2.2 0.2-0.7 0.5-1.5 0.9-2.2 0.8-1.9 0.2-0.3 1.4-2.2 0.6-0.9 2-1.3 0.3-0.2 2.2 0 0.2 0.2 2 1.5 0.4 0.7 1.4 2.2 0.4 0.7 0.6 1.5 0.8 2.2 0.6 2.2 0.2 0.8 0.3 1.4 0.3 2.3 0.3 2.2 0.2 2.2 0.2 2.2 0 2.2 0 2.2 0 2.3-0.1 2.2-0.2 2.2-0.1 2.2-0.3 2.2-0.2 2.2-0.3 2.2-0.1 0.6-0.3 1.7-0.5 2.2-0.6 2.2-0.6 2.2-0.2 0.5-0.8 1.7-1.3 2.2-0.1 0.2-2.2 1.7-2.2 0.1zM155.1 219l-0.8-0.3-1.4-0.4-2.2-1.1-1.3-0.7-0.9-0.5-2.3-1.6-0.2-0.1-2-1.7-0.6-0.5-1.6-1.6-0.5-0.6-1.7-2-0.2-0.3-1.5-2.2-0.5-0.8-0.8-1.4-1.1-2.2-0.3-0.6-0.7-1.6-0.8-2.2-0.8-2.1 0-0.2-0.6-2.2-0.6-2.2-0.4-2.2-0.4-2.2-0.2-1-0.2-1.2-0.2-2.2-0.2-2.3-0.1-2.2 0-2.2 0-2.2 0.1-2.2 0.2-2.2 0.3-2.2 0.1-0.9 0.3-1.4 0.4-2.2 0.6-2.2 0.6-2.2 0.3-0.9 0.5-1.3 0.9-2.2 0.9-1.9 0.1-0.4 1.2-2.2 0.9-1.4 0.4-0.8 1.5-2.2 0.3-0.4 1.4-1.8 0.8-1.1 1-1.1 1.2-1.4 0.8-0.8 1.4-1.5 0.9-0.8 1.4-1.1 1.4-1.1 0.8-0.5 2.2-1.3 0.7-0.4 1.5-0.7 2.2-0.7 2.2-0.5 2.2-0.2 2.3-0.1 2.2 0.2 2.2 0.2 2.2 0.4 2.2 0.4 2.2 0.4 2.3 0.3 2.2 0.3 0.6 0 1.6 0.1 2.2 0 2.2-0.1 0.1 0 2.1-0.1 2.3-0.2 2.2-0.2 2.2-0.1 2.2 0 2.2 0.1 2.2 0.2 2.3 0.2 0.9 0.1 1.3 0.1 2.2 0.2 2.2 0.1 2.2-0.1 2.2-0.2 0.2-0.1 2.1-0.4 2.2-0.7 2.2-0.8 0.6-0.3 1.6-0.7 2.2-0.9 1.4-0.6 0.8-0.3 2.2-0.8 2.3-0.5 2.2-0.2 2.2 0.1 2.2 0.4 2.2 0.7 1.3 0.6 0.9 0.4 2.3 1.4 0.5 0.4 1.7 1.2 1.1 1 1.1 1 1.2 1.2 1 1.1 0.9 1.1 1.3 1.7 0.4 0.6 1.5 2.2 0.3 0.6 0.9 1.6 1.1 2.2 0.3 0.5 0.6 1.7 0.9 2.2 0.7 2.1 0 0.1 0.7 2.3 0.5 2.2 0.5 2.2 0.4 2.2 0.1 0.6 0.2 1.6 0.3 2.2 0.1 2.3 0.1 2.2 0.1 2.2-0.1 2.2-0.1 2.2-0.2 2.2-0.3 2.2-0.1 0.9-0.3 1.4-0.4 2.2-0.6 2.2-0.7 2.2-0.2 0.8-0.5 1.4-0.9 2.2-0.8 1.8-0.2 0.4-1.2 2.3-0.9 1.5-0.4 0.7-1.4 2.2-0.4 0.5-1.3 1.7-0.9 1.2-0.8 1-1.4 1.6-0.6 0.6-1.6 1.6-0.7 0.7-1.5 1.3-1.2 0.9-1.1 0.7-2.2 1.3-0.4 0.2-1.8 0.8-2.2 0.7-2.2 0.4-2.2 0.3-2.3 0-2.2-0.2-2.2-0.3-2.2-0.3-2.2-0.4-2.2-0.4-2.2-0.3-2.3-0.2-1.7-0.1-0.5 0-2.2 0-0.2 0-2 0.1-2.2 0.1-2.2 0.2-2.3 0.1-2.2 0.1-2.2 0-2.2-0.2-2.2-0.1-2.2-0.3-0.4 0-1.9-0.2-2.2-0.2-2.2 0-2.2 0.1-2.2 0.3-0.2 0-2 0.4-2.3 0.7-2.2 0.7-0.9 0.4-1.3 0.5-2.2 0.8-2.2 0.8-0.5 0.1-1.7 0.5-2.3 0.4-2.2 0.1-2.2-0.2zM394.4 215.2l-1.8-0.9-0.4-0.2-2.2-1.6-0.5-0.4-1.7-1.7-0.6-0.5-1.6-1.9-0.3-0.4-1.7-2.2-0.2-0.2-1.4-2-0.9-1.2-0.7-1-1.4-2.2-0.1-0.2-1.2-2-1-1.7-0.3-0.6-1.1-2.2-0.8-1.5-0.3-0.7-1-2.2-0.8-2.2-0.1-0.4-0.6-1.8-0.6-2.2-0.5-2.3-0.3-2.2-0.2-2.2-0.1-2.2 0-2.2 0.1-0.6 0.1-1.6 0.3-2.2 0.4-2.3 0.5-2.2 0.7-2.2 0.2-0.6 0.5-1.6 0.9-2.2 0.8-1.8 0.2-0.4 1.1-2.3 0.9-1.7 0.2-0.5 1.3-2.2 0.7-1.1 0.8-1.1 1.4-2.2 0.1 0 1.6-2.2 0.6-0.7 1.3-1.5 0.9-1.1 1.2-1.2 1-1 1.4-1.2 0.8-0.6 2.2-1.4 0.4-0.2 1.8-0.8 2.3-0.4 2.2 0.1 2.2 0.7 0.7 0.4 1.5 0.9 1.6 1.3 0.6 0.6 1.4 1.6 0.8 1 1 1.3 1.3 1.8 0.2 0.4 1.3 2.2 0.7 1 0.6 1.2 1.3 2.2 0.3 0.6 0.8 1.6 1.1 2.2 0.3 0.6 0.8 1.7 1 2.2 0.4 0.8 0.6 1.4 0.9 2.2 0.7 2 0.1 0.2 0.7 2.2 0.7 2.3 0.5 2.2 0.2 1.7 0.1 0.5 0.3 2.2 0.1 2.2 0 2.2-0.2 2.2-0.3 2.1 0 0.2-0.4 2.2-0.6 2.2-0.6 2.2-0.6 1.5-0.2 0.7-0.9 2.2-1.1 2.2 0 0.1-1.1 2.2-1.1 2.1-0.1 0.1-1.3 2.2-0.8 1.4-0.6 0.8-1.5 2.2-0.1 0.2-1.6 2-0.6 0.9-1.3 1.4-1 1-1.3 1.2-0.9 0.7-2.2 1.5-2.2 1-2.2 0.5-2.2-0.1z"/>
<path fill="#6900ff" d="M86.4 482.3l2.2 0 2.2 0 2.2 0 2.3 0 2.2 0 2.2 0 2.2 0 2.2 0 2.2 0 2.3 0 2.2 0 2.2 0 2.2 0 2.2 0 2.2 0 2.3 0 2.2 0 2.2 0 2.2 0 2.2 0 2.2 0 2.3 0 2.2 0 2.2 0 2.2 0 2.2 0 2.2 0 2.3 0 2.2 0 2.2 0 2.2 0 2.2 0 2.2 0 2.2 0 2.3 0 2.2 0 2.2 0 2.2 0 2.2 0 2.2 0 2.3 0 2.2 0 2.2 0 2.2 0 2.2 0 2.2 0 2.3 0 2.2 0 2.2 0 2.2 0 2.2 0 2.2 0 2.3 0 2.2 0 2.2 0 2.2 0 2.2 0 2.2 0 2.3 0 2.2 0 2.2 0 2.2 0 2.2 0 2.2 0 2.2 0 2.3 0 2.2 0 2.2 0 2.2 0 2.2 0 2.2 0 2.3 0 2.2 0 2.2 0 2.2 0 2.2 0 2.2 0 2.3 0 2.2 0 2.2 0 2.2 0 2.2 0 2.2 0 2.3 0 2.2 0 2.2 0 2.2 0 2.2 0 2.2 0 2.2 0 2.3 0 2.2 0 2.2 0 2.2 0 2.2 0 2.2 0 2.3 0 2.2 0 2.2 0 2.2 0 2.2 0 2.2 0 2.3 0 2.2 0 2.2 0 2.2 0 2.2 0 2.2 0 2.3 0 2.2 0 2.2 0 2.2 0 2.2 0 2.2 0 2.3 0 2.2 0 2.2 0 2.2 0 2.2 0 2.2 0 2.2 0 2.3 0 2.2 0 2.2 0 2.2 0 2.2 0 2.2 0 2.3 0 2.2 0 2.2 0 2.2 0 2.2 0 2.2 0 2.3 0 2.2 0 2.2 0 2.2 0 2.2 0 2.2 0 2.3 0 2.2 0 2.2 0 2.2 0 2.2 0 2.2 0 2.3 0 2.2 0 2.2 0 2.2 0 2.2 0 2.2 0 2.2 0 2.3 0 2.2 0 2.2 0 2.2 0 2.2 0 2.2 0 2.3 0 2.2 0 2.2 0 2.2 0 2.2 0 2.2 0 2.3 0 2.2 0 2.2 0 2.2 0 2.2 0 2.2 0 2.3 0 2.2 0 2.2 0 2.2 0 2.2 0 2.2 0 2.3 0 2.2 0 2.2 0 2.2 0 0-2.2 0-2.2 0-2.2 0-2.3 0-2.2 0-2.2 0-2.2 0-2.2 0-2.2 0-2.2 0-2.3 0-2.2 0-2.2 0-2.2 0-2.2 0-2.2 0-2.3 0-2.2 0-2.2 0-2.2 0-2.2 0-2.2 0-2.2 0-2.3 0-2.2 0-2.2 0-2.2 0-2.2 0-2.2 0-2.3 0-2.2 0-2.2 0-2.2 0-2.2 0-2.2 0-2.2 0-2.3 0-2.2 0-2.2 0-2.2 0-2.2 0-2.2 0-2.2 0-2.3 0-2.2 0-2.2 0-2.2 0-2.2 0-2.2 0-2.2 0-2.3 0-2.2 0-2.2 0-2.2 0-2.2 0-2.2 0-2.3 0-2.2 0-2.2 0-2.2 0-2.2 0-2.2 0-2.2 0-2.3 0-2.2 0-2.2 0-2.2 0-2.2 0-2.2 0-2.3 0-2.2 0-2.2 0-2.2 0-2.2 0-2.2 0-2.2 0-2.3 0-2.2 0-2.2 0-2.2 0-2.2 0-2.2 0-2.2 0-2.3 0-2.2 0-2.2 0-2.2 0-2.2 0-2.2 0-2.3 0-2.2 0-2.2 0-2.2 0-2.2 0-2.2 0-2.2 0-2.3 0-2.2 0-2.2 0-2.2 0-2.2 0-2.2 0-2.2 0-2.3 0-2.2 0-2.2 0-2.2 0-2.2 0-2.2 0-2.3 0-2.2 0-2.2 0-2.2 0-2.2 0-2.2 0-2.2 0-2.3 0-2.2 0-2.2 0-2.2 0-2.2 0-2.2 0-2.2 0-2.3 0-2.2 0-2.2 0-2.2 0-2.2 0-2.2 0-2.3 0-2.2 0-2.2 0-2.2 0-2.2 0-2.2 0-2.2 0-2.3 0-2.2 0-2.2 0-2.2 0-2.2 0-2.2 0-2.2 0-2.3 0-2.2 0-2.2 0-2.2 0-2.2 0-2.2 0-2.3 0-2.2 0-2.2 0-2.2 0-2.2 0-2.2 0-2.2 0-2.3 0-2.2 0-2.2 0-2.2 0-2.2 0-2.2 0-2.2 0-2.3 0-2.2 0-2.2 0-2.2 0-2.2 0-2.2 0-2.3 0-2.2 0-2.2 0-2.2 0-2.2 0-2.2 0-2.2 0-2.3 0-2.2 0-2.2 0-2.2-2.2 0-2.2 0-2.2 0-2.3 0-2.2 0-2.2 0-2.2 0-2.2 0-2.2 0-2.3 0-2.2 0-2.2 0-2.2 0-2.2 0-2.2 0-2.3 0-2.2 0-2.2 0-2.2 0-2.2 0-2.2 0-2.3 0-2.2 0-2.2 0-2.2 0-2.2 0-2.2 0-2.3 0-2.2 0-2.2 0-2.2 0-2.2 0-2.2 0-2.2 0-2.3 0-2.2 0-2.2 0-2.2 0-2.2 0-2.2 0-2.3 0-2.2 0-2.2 0-2.2 0-2.2 0-2.2 0-2.3 0-2.2 0-2.2 0-2.2 0-2.2 0-2.2 0-2.3 0-2.2 0-2.2 0-2.2 0-2.2 0-2.2 0-2.3 0-2.2 0-2.2 0-2.2 0-2.2 0-2.2 0-2.2 0-2.3 0-2.2 0-2.2 0-2.2 0-2.2 0-2.2 0-2.3 0-2.2 0-2.2 0-2.2 0-2.2 0-2.2 0-2.3 0-2.2 0-2.2 0-2.2 0-2.2 0-2.2 0-2.3 0-2.2 0-2.2 0-2.2 0-2.2 0-2.2 0-2.3 0-2.2 0-2.2 0-2.2 0-2.2 0-2.2 0-2.2 0-2.3 0-2.2 0-2.2 0-2.2 0-2.2 0-2.2 0-2.3 0-2.2 0-2.2 0-2.2 0-2.2 0-2.2 0-2.3 0-2.2 0-2.2 0-2.2 0-2.2 0-2.2 0-2.3 0-2.2 0-2.2 0-2.2 0-2.2 0-2.2 0-2.2 0-2.3 0-2.2 0-2.2 0-2.2 0-2.2 0-2.2 0-2.3 0-2.2 0-2.2 0-2.2 0-2.2 0-2.2 0-2.3 0-2.2 0-2.2 0-2.2 0-2.2 0-2.2 0-2.3 0-2.2 0-2.2 0-2.2 0-2.2 0-2.2 0-2.3 0-2.2 0-2.2 0-2.2 0-2.2 0-2.2 0-2.2 0-2.3 0-2.2 0-2.2 0-2.2 0-2.2 0-2.2 0-2.3 0-2.2 0-2.2 0-2.2 0-2.2 0-2.2 0-2.3 0-2.2 0-2.2 0-2.2 0-2.2 0-2.2 0-2.3 0-2.2 0-2.2 0-2.2 0-2.2 0-2.2 0-2.3 0-2.2 0-2.2 0-2.2 0 0 2.2 0 2.2 0 2.2 0 2.3 0 2.2 0 2.2 0 2.2 0 2.2 0 2.2 0 2.2 0 2.3 0 2.2 0 2.2 0 2.2 0 2.2 0 2.2 0 2.3 0 2.2 0 2.2 0 2.2 0 2.2 0 2.2 0 2.2 0 2.3 0 2.2 0 2.2 0 2.2 0 2.2 0 2.2 0 2.2 0 2.3 0 2.2 0 2.2 0 2.2 0 2.2 0 2.2 0 2.3 0 2.2 0 2.2 0 2.2 0 2.2 0 2.2 0 2.2 0 2.3 0 2.2 0 2.2 0 2.2 0 2.2 0 2.2 0 2.2 0 2.3 0 2.2 0 2.2 0 2.2 0 2.2 0 2.2 0 2.3 0 2.2 0 2.2 0 2.2 0 2.2 0 2.2 0 2.2 0 2.3 0 2.2 0 2.2 0 2.2 0 2.2 0 2.2 0 2.2 0 2.3 0 2.2 0 2.2 0 2.2 0 2.2 0 2.2 0 2.3 0 2.2 0 2.2 0 2.2 0 2.2 0 2.2 0 2.2 0 2.3 0 2.2 0 2.2 0 2.2 0 2.2 0 2.2 0 2.2 0 2.3 0 2.2 0 2.2 0 2.2 0 2.2 0 2.2 0 2.3 0 2.2 0 2.2 0 2.2 0 2.2 0 2.2 0 2.2 0 2.3 0 2.2 0 2.2 0 2.2 0 2.2 0 2.2 0 2.2 0 2.3 0 2.2 0 2.2 0 2.2 0 2.2 0 2.2 0 2.3 0 2.2 0 2.2 0 2.2 0 2.2 0 2.2 0 2.2 0 2.3 0 2.2 0 2.2 0 2.2 0 2.2 0 2.2 0 2.3 0 2.2 0 2.2 0 2.2 0 2.2 0 2.2 0 2.2 0 2.3 0 2.2 0 2.2 0 2.2 0 2.2 0 2.2 0 2.2 0 2.3 0 2.2 0 2.2 0 2.2 0 2.2 0 2.2 0 2.2 0 2.3 0 2.2 0 2.2 0 2.2 0 2.2 0 2.2 0 2.3 0 2.2 0 2.2 0 2.2 0 2.2 0 2.2 0 2.2 0 2.3 0 2.2 0 2.2 0 2.2 0 2.2 0 2.2 0 2.3 0 2.2 0 2.2 0 2.2 0 2.2 0 2.2 0 2.2 0 2.3 0 2.2 0 2.2zM230.4 415.9l-0.4-0.1-1.8-0.2-2.2-0.5-2.2-0.5-2.2-0.6-1.4-0.4-0.8-0.2-2.2-0.6-2.3-0.6-2.2-0.6-0.6-0.2-1.6-0.4-2.2-0.4-2.2-0.4-2.2-0.3-2.3-0.2-2.2-0.1-2.2 0.1-2.2 0.1-2.2 0.1-2.2 0.2-2.3 0.3-2.2 0.2-2.2 0.1-2.2 0.2-2.2 0.1-2.2 0.1-2.3 0-2.2 0-2.2 0-2.2-0.1-2.2-0.1-2.2-0.2-2.3-0.4-2.2-0.5-1.6-0.6-0.6-0.2-2.2-1-1.8-1-0.4-0.3-2.2-1.5-0.5-0.4-1.7-1.5-0.8-0.7-1.5-1.6-0.5-0.7-1.7-2-0.1-0.2-1.4-2.2-0.7-1.1-0.6-1.1-1.1-2.2-0.5-1.2-0.4-1-0.8-2.2-0.7-2.3-0.3-1-0.3-1.2-0.5-2.2-0.4-2.2-0.3-2.2-0.2-2.2-0.2-2.2-0.2-2.3 0-2.2 0-2.2 0.1-2.2 0.1-2.2 0.2-2.2 0.2-2.3 0.4-2.2 0.3-2.2 0.5-2.2 0.3-1 0.3-1.2 0.7-2.2 0.9-2.2 0.3-0.9 0.7-1.4 1.2-2.2 0.3-0.6 1.2-1.6 1-1.4 0.8-0.8 1.4-1.5 1-0.7 1.3-1 2-1.2 0.2-0.2 2.2-0.9 2.2-0.8 2-0.4 0.2 0 2.2-0.2 2.2 0 2.3 0.2 0.3 0 1.9 0.4 2.2 0.4 2.2 0.6 2.2 0.6 1 0.3 1.2 0.3 2.3 0.6 2.2 0.6 2.2 0.6 0.4 0.1 1.8 0.4 2.2 0.4 2.2 0.4 2.3 0.3 2.2 0.1 2.2 0.1 2.2 0 2.2 0 2.2-0.2 2.3-0.2 2.2-0.2 2.2-0.2 2.2-0.3 2.2-0.2 2.2-0.1 2.3-0.1 2.2-0.1 2.2 0 2.2 0.1 2.2 0.1 2.2 0.1 2.2 0.3 2.3 0.3 2.2 0.5 2.2 0.7 0.1 0 2.1 0.8 2.2 1.1 0.5 0.3 1.7 1.1 1.5 1.1 0.8 0.6 1.6 1.6 0.6 0.6 1.4 1.7 0.8 1 0.8 1.2 1.4 2.2 1.1 2.2 1 2.2 0.1 0.3 0.7 1.9 0.7 2.2 0.7 2.3 0.1 0.7 0.4 1.5 0.4 2.2 0.4 2.2 0.3 2.2 0.2 2.2 0.2 2.3 0.1 2.2 0.1 2.2 0.1 2.2 0 2.2-0.1 2.2-0.1 2.2-0.2 2.3-0.3 2.2-0.3 2.2-0.4 2.2-0.5 2.2-0.3 1-0.3 1.2-0.8 2.2-0.9 2.3-0.2 0.4-0.9 1.8-1.3 2-0.1 0.2-1.8 2.2-0.3 0.4-2 1.8-0.2 0.2-2.2 1.5-1 0.5-1.3 0.7-2.2 0.8-2.2 0.6-1.2 0.1-1 0.2-2.2 0.1-2.2 0zM398.9 411.6l-1.5-0.2-0.7-0.1-2.3-1.1-1.2-1-1-0.8-1.2-1.4-1-1.1-0.8-1.1-1.4-2.1-0.1-0.1-1.2-2.3-0.9-1.7-0.2-0.5-1-2.2-1-2.2 0-0.2-0.8-2-0.7-2.2-0.7-2.2-0.1-0.4-0.4-1.9-0.5-2.2-0.3-2.2-0.3-2.2-0.1-2.2-0.1-2.2 0.1-2.2 0.2-2.3 0.3-2.2 0.4-2.2 0.5-2.2 0.2-1.2 0.3-1 0.6-2.2 0.7-2.3 0.6-2.2 0.1-0.1 0.7-2.1 0.8-2.2 0.7-2 0-0.2 1-2.2 0.9-2.2 0.3-0.7 0.8-1.6 1.2-2.2 0.2-0.4 1.2-1.8 1-1.3 1-0.9 1.2-1.1 2.3-1 2.2 0.1 2.2 1.1 1 0.9 1.2 1.2 0.7 1 1.5 2.2 1.2 2.2 1 2.2 0.1 0.1 0.8 2.2 0.9 2.2 0.5 1.4 0.2 0.8 0.6 2.2 0.6 2.2 0.6 2.2 0.2 0.7 0.3 1.6 0.4 2.2 0.3 2.2 0.3 2.2 0.3 2.2 0.1 2.2 0.1 2.2 0 2.3-0.1 2.2-0.1 2.2-0.3 2.2-0.3 2.2-0.3 2.2-0.5 2.3-0.2 1.3-0.2 0.9-0.6 2.2-0.6 2.2-0.7 2.2-0.1 0.6-0.6 1.6-0.9 2.2-0.8 2-0.1 0.3-1.1 2.2-1 1.7-0.3 0.5-1.8 2.2-0.1 0.1-2.2 1.7-1.6 0.4zM157.3 223.3l-0.7-0.2-1.5-0.3-2.2-0.8-2.2-1.1-0.1 0-2.1-1.2-1.4-1-0.9-0.6-2-1.6-0.2-0.1-2.2-2.1-2-2.2-0.2-0.2-1.5-2-0.7-1-0.8-1.3-1.3-2.2-0.1-0.2-1-2-1-2.2-0.3-0.7-0.5-1.5-0.8-2.2-0.6-2.3-0.3-0.9-0.3-1.3-0.5-2.2-0.4-2.2-0.4-2.2-0.3-2.2-0.2-2.2-0.1-1-0.1-1.3-0.1-2.2 0-2.2 0-2.2 0.1-2.2 0.1-1.8 0-0.4 0.3-2.2 0.3-2.3 0.4-2.2 0.5-2.2 0.6-2.2 0.1-0.4 0.6-1.8 0.8-2.2 0.8-2.1 0.1-0.2 1-2.2 1.2-2.2 1.3-2.2 0.9-1.4 0.5-0.8 1.5-2.2 0.2-0.2 1.6-2 0.6-0.8 1.3-1.5 0.9-1 1.2-1.2 1-1 1.4-1.2 0.9-0.7 2-1.5 0.2-0.1 2.2-1.3 1.9-0.8 0.3-0.1 2.2-0.7 2.2-0.5 2.2-0.2 2.3-0.1 2.2 0.1 2.2 0.2 2.2 0.3 2.2 0.3 2.2 0.4 2.3 0.2 0.5 0.1 1.7 0.1 2.2 0.1 2.2 0 2.2-0.1 2.2-0.1 2.3-0.2 2.2-0.1 2.2 0 2.2 0 2.2 0.1 2 0.2 0.2 0 2.3 0.2 2.2 0.3 2.2 0.1 2.2 0.1 2.2-0.1 2.2-0.3 1.4-0.3 0.9-0.2 2.2-0.7 2.2-0.9 1.1-0.4 1.1-0.5 2.2-0.9 2.1-0.8 0.1-0.1 2.2-0.7 2.3-0.5 2.2-0.2 2.2 0.2 2.2 0.4 2.2 0.8 0.2 0.1 2 0.9 2.1 1.3 0.2 0.1 2.2 1.6 0.5 0.5 1.7 1.4 0.8 0.8 1.4 1.5 0.6 0.7 1.6 1.9 0.3 0.3 1.5 2.2 0.4 0.6 1 1.7 1.2 2.2 0.1 0 1 2.2 0.9 2.2 0.3 0.6 0.6 1.6 0.7 2.2 0.7 2.2 0.2 0.8 0.3 1.5 0.5 2.2 0.5 2.2 0.4 2.2 0.3 2.2 0.2 2.2 0.2 2.3 0.1 2.2 0 2.2 0 2.2-0.1 2.2-0.2 2.1 0 0.1-0.3 2.2-0.3 2.3-0.4 2.2-0.5 2.2-0.6 2.2-0.1 0.3-0.6 1.9-0.8 2.2-0.8 2-0.1 0.2-1.1 2.3-1 2.1-0.1 0.1-1.3 2.2-0.9 1.5-0.4 0.7-1.6 2.2-0.2 0.3-1.5 1.9-0.7 1-1.1 1.3-1.1 1.2-1 1-1.2 1.2-1.1 1-1.1 0.9-1.9 1.3-0.4 0.3-2.2 1.2-1.6 0.7-0.6 0.3-2.2 0.6-2.2 0.4-2.2 0.2-2.3 0.1-2.2-0.1-2.2-0.2-2.2-0.3-2.2-0.4-2.2-0.3-2.2-0.2-0.8-0.1-1.5-0.1-2.2-0.1-2.2 0-2.2 0.1-1.2 0.1-1 0.1-2.2 0.1-2.3 0.1-2.2 0.1-2.2-0.1-2.2-0.1-1.8-0.2-0.4 0-2.2-0.2-2.3-0.3-2.2-0.1-2.2-0.1-2.2 0.1-2.2 0.3-1.3 0.3-0.9 0.2-2.3 0.7-2.2 0.7-1.6 0.6-0.6 0.3-2.2 0.8-2.2 0.7-2.1 0.4-0.1 0.1-2.3 0.3-2.2 0zM394.4 219.4l-1.4-0.7-0.8-0.3-2.2-1.5-0.5-0.4-1.7-1.5-0.7-0.7-1.5-1.6-0.5-0.6-1.7-2.1-0.1-0.1-1.7-2.3-0.5-0.5-1.1-1.7-1.1-1.5-0.5-0.7-1.4-2.2-0.3-0.4-1.1-1.8-1.1-1.9-0.2-0.3-1.2-2.3-0.8-1.4-0.4-0.8-1-2.2-0.8-1.9-0.2-0.3-0.8-2.2-0.7-2.2-0.6-2.2-0.4-2.3-0.4-2.2-0.2-2.2 0-2.2 0-2.2 0.2-2.2 0.3-2.2 0.4-2.3 0.1-0.7 0.4-1.5 0.7-2.2 0.7-2.2 0.5-1.1 0.4-1.1 0.9-2.2 0.9-1.8 0.2-0.5 1.2-2.2 0.8-1.4 0.4-0.8 1.4-2.2 0.4-0.7 1-1.5 1.2-1.8 0.3-0.4 1.7-2.2 0.2-0.4 1.6-1.9 0.7-0.8 1.2-1.4 1-1 1.2-1.2 1-0.9 1.6-1.3 0.6-0.5 2.2-1.4 0.9-0.3 1.3-0.6 2.3-0.4 2.2 0 2.2 0.7 0.6 0.3 1.6 0.8 1.8 1.4 0.4 0.4 1.8 1.8 0.4 0.5 1.4 1.7 0.9 1.2 0.7 1 1.4 2.3 0.1 0 1.3 2.2 0.9 1.6 0.3 0.6 1.3 2.2 0.6 1.1 0.6 1.1 1.2 2.2 0.4 0.9 0.7 1.3 1.1 2.3 0.4 0.9 0.7 1.3 0.9 2.2 0.6 1.5 0.4 0.7 0.8 2.2 0.7 2.2 0.4 1.3 0.2 1 0.5 2.2 0.4 2.2 0.2 2.2 0.1 2.2 0 2.2-0.1 2.2-0.3 2.3-0.5 2.2-0.5 2.2-0.7 2.2-0.8 2.2-0.8 1.8-0.1 0.4-1 2.2-1.1 2.1 0 0.2-1.2 2.2-1 1.6-0.3 0.6-1.4 2.2-0.5 0.9-0.9 1.3-1.3 2-0.2 0.2-1.6 2.3-0.4 0.5-1.5 1.7-0.7 0.9-1.3 1.3-1 0.9-1.5 1.3-0.7 0.6-2.2 1.3-0.6 0.3-1.6 0.7-2.2 0.5-2.2 0z"/>
<path fill="#5000ff" d="M86.4 482.3l2.2 0 2.2 0 2.2 0 2.3 0 2.2 0 2.2 0 2.2 0 2.2 0 2.2 0 2.3 0 2.2 0 2.2 0 2.2 0 2.2 0 2.2 0 2.3 0 2.2 0 2.2 0 2.2 0 2.2 0 2.2 0 2.3 0 2.2 0 2.2 0 2.2 0 2.2 0 2.2 0 2.3 0 2.2 0 2.2 0 2.2 0 2.2 0 2.2 0 2.2 0 2.3 0 2.2 0 2.2 0 2.2 0 2.2 0 2.2 0 2.3 0 2.2 0 2.2 0 2.2 0 2.2 0 2.2 0 2.3 0 2.2 0 2.2 0 2.2 0 2.2 0 2.2 0 2.3 0 2.2 0 2.2 0 2.2 0 2.2 0 2.2 0 2.3 0 2.2 0 2.2 0 2.2 0 2.2 0 2.2 0 2.2 0 2.3 0 2.2 0 2.2 0 2.2 0 2.2 0 2.2 0 2.3 0 2.2 0 2.2 0 2.2 0 2.2 0 2.2 0 2.3 0 2.2 0 2.2 0 2.2 0 2.2 0 2.2 0 2.3 0 2.2 0 2.2 0 2.2 0 2.2 0 2.2 0 2.2 0 2.3 0 2.2 0 2.2 0 2.2 0 2.2 0 2.2 0 2.3 0 2.2 0 2.2 0 2.2 0 2.2 0 2.2 0 2.3 0 2.2 0 2.2 0 2.2 0 2.2 0 2.2 0 2.3 0 2.2 0 2.2 0 2.2 0 2.2 0 2.2 0 2.3 0 2.2 0 2.2 0 2.2 0 2.2 0 2.2 0 2.2 0 2.3 0 2.2 0 2.2 0 2.2 0 2.2 0 2.2 0 2.3 0 2.2 0 2.2 0 2.2 0 2.2 0 2.2 0 2.3 0 2.2 0 2.2 0 2.2 0 2.2 0 2.2 0 2.3 0 2.2 0 2.2 0 2.2 0 2.2 0 2.2 0 2.3 0 2.2 0 2.2 0 2.2 0 2.2 0 2.2 0 2.2 0 2.3 0 2.2 0 2.2 0 2.2 0 2.2 0 2.2 0 2.3 0 2.2 0 2.2 0 2.2 0 2.2 0 2.2 0 2.3 0 2.2 0 2.2 0 2.2 0 2.2 0 2.2 0 2.3 0 2.2 0 2.2 0 2.2 0 2.2 0 2.2 0 2.3 0 2.2 0 2.2 0 2.2 0 0-2.2 0-2.2 0-2.2 0-2.3 0-2.2 0-2.2 0-2.2 0-2.2 0-2.2 0-2.2 0-2.3 0-2.2 0-2.2 0-2.2 0-2.2 0-2.2 0-2.3 0-2.2 0-2.2 0-2.2 0-2.2 0-2.2 0-2.2 0-2.3 0-2.2 0-2.2 0-2.2 0-2.2 0-2.2 0-2.3 0-2.2 0-2.2 0-2.2 0-2.2 0-2.2 0-2.2 0-2.3 0-2.2 0-2.2 0-2.2 0-2.2 0-2.2 0-2.2 0-2.3 0-2.2 0-2.2 0-2.2 0-2.2 0-2.2 0-2.2 0-2.3 0-2.2 0-2.2 0-2.2 0-2.2 0-2.2 0-2.3 0-2.2 0-2.2 0-2.2 0-2.2 0-2.2 0-2.2 0-2.3 0-2.2 0-2.2 0-2.2 0-2.2 0-2.2 0-2.3 0-2.2 0-2.2 0-2.2 0-2.2 0-2.2 0-2.2 0-2.3 0-2.2 0-2.2 0-2.2 0-2.2 0-2.2 0-2.2 0-2.3 0-2.2 0-2.2 0-2.2 0-2.2 0-2.2 0-2.3 0-2.2 0-2.2 0-2.2 0-2.2 0-2.2 0-2.2 0-2.3 0-2.2 0-2.2 0-2.2 0-2.2 0-2.2 0-2.2 0-2.3 0-2.2 0-2.2 0-2.2 0-2.2 0-2.2 0-2.3 0-2.2 0-2.2 0-2.2 0-2.2 0-2.2 0-2.2 0-2.3 0-2.2 0-2.2 0-2.2 0-2.2 0-2.2 0-2.2 0-2.3 0-2.2 0-2.2 0-2.2 0-2.2 0-2.2 0-2.3 0-2.2 0-2.2 0-2.2 0-2.2 0-2.2 0-2.2 0-2.3 0-2.2 0-2.2 0-2.2 0-2.2 0-2.2 0-2.2 0-2.3 0-2.2 0-2.2 0-2.2 0-2.2 0-2.2 0-2.3 0-2.2 0-2.2 0-2.2 0-2.2 0-2.2 0-2.2 0-2.3 0-2.2 0-2.2 0-2.2 0-2.2 0-2.2 0-2.2 0-2.3 0-2.2 0-2.2 0-2.2 0-2.2 0-2.2 0-2.3 0-2.2 0-2.2 0-2.2 0-2.2 0-2.2 0-2.2 0-2.3 0-2.2 0-2.2 0-2.2-2.2 0-2.2 0-2.2 0-2.3 0-2.2 0-2.2 0-2.2 0-2.2 0-2.2 0-2.3 0-2.2 0-2.2 0-2.2 0-2.2 0-2.2 0-2.3 0-2.2 0-2.2 0-2.2 0-2.2 0-2.2 0-2.3 0-2.2 0-2.2 0-2.2 0-2.2 0-2.2 0-2.3 0-2.2 0-2.2 0-2.2 0-2.2 0-2.2 0-2.2 0-2.3 0-2.2 0-2.2 0-2.2 0-2.2 0-2.2 0-2.3 0-2.2 0-2.2 0-2.2 0-2.2 0-2.2 0-2.3 0-2.2 0-2.2 0-2.2 0-2.2 0-2.2 0-2.3 0-2.2 0-2.2 0-2.2 0-2.2 0-2.2 0-2.3 0-2.2 0-2.2 0-2.2 0-2.2 0-2.2 0-2.2 0-2.3 0-2.2 0-2.2 0-2.2 0-2.2 0-2.2 0-2.3 0-2.2 0-2.2 0-2.2 0-2.2 0-2.2 0-2.3 0-2.2 0-2.2 0-2.2 0-2.2 0-2.2 0-2.3 0-2.2 0-2.2 0-2.2 0-2.2 0-2.2 0-2.3 0-2.2 0-2.2 0-2.2 0-2.2 0-2.2 0-2.2 0-2.3 0-2.2 0-2.2 0-2.2 0-2.2 0-2.2 0-2.3 0-2.2 0-2.2 0-2.2 0-2.2 0-2.2 0-2.3 0-2.2 0-2.2 0-2.2 0-2.2 0-2.2 0-2.3 0-2.2 0-2.2 0-2.2 0-2.2 0-2.2 0-2.2 0-2.3 0-2.2 0-2.2 0-2.2 0-2.2 0-2.2 0-2.3 0-2.2 0-2.2 0-2.2 0-2.2 0-2.2 0-2.3 0-2.2 0-2.2 0-2.2 0-2.2 0-2.2 0-2.3 0-2.2 0-2.2 0-2.2 0-2.2 0-2.2 0-2.3 0-2.2 0-2.2 0-2.2 0-2.2 0-2.2 0-2.2 0-2.3 0-2.2 0-2.2 0-2.2 0-2.2 0-2.2 0-2.3 0-2.2 0-2.2 0-2.2 0-2.2 0-2.2 0-2.3 0-2.2 0-2.2 0-2.2 0-2.2 0-2.2 0-2.3 0-2.2 0-2.2 0-2.2 0-2.2 0-2.2 0-2.3 0-2.2 0-2.2 0-2.2 0 0 2.2 0 2.2 0 2.2 0 2.3 0 2.2 0 2.2 0 2.2 0 2.2 0 2.2 0 2.2 0 2.3 0 2.2 0 2.2 0 2.2 0 2.2 0 2.2 0 2.3 0 2.2 0 2.2 0 2.2 0 2.2 0 2.2 0 2.2 0 2.3 0 2.2 0 2.2 0 2.2 0 2.2 0 2.2 0 2.2 0 2.3 0 2.2 0 2.2 0 2.2 0 2.2 0 2.2 0 2.3 0 2.2 0 2.2 0 2.2 0 2.2 0 2.2 0 2.2 0 2.3 0 2.2 0 2.2 0 2.2 0 2.2 0 2.2 0 2.2 0 2.3 0 2.2 0 2.2 0 2.2 0 2.2 0 2.2 0 2.3 0 2.2 0 2.2 0 2.2 0 2.2 0 2.2 0 2.2 0 2.3 0 2.2 0 2.2 0 2.2 0 2.2 0 2.2 0 2.2 0 2.3 0 2.2 0 2.2 0 2.2 0 2.2 0 2.2 0 2.3 0 2.2 0 2.2 0 2.2 0 2.2 0 2.2 0 2.2 0 2.3 0 2.2 0 2.2 0 2.2 0 2.2 0 2.2 0 2.2 0 2.3 0 2.2 0 2.2 0 2.2 0 2.2 0 2.2 0 2.3 0 2.2 0 2.2 0 2.2 0 2.2 0 2.2 0 2.2 0 2.3 0 2.2 0 2.2 0 2.2 0 2.2 0 2.2 0 2.2 0 2.3 0 2.2 0 2.2 0 2.2 0 2.2 0 2.2 0 2.3 0 2.2 0 2.2 0 2.2 0 2.2 0 2.2 0 2.2 0 2.3 0 2.2 0 2.2 0 2.2 0 2.2 0 2.2 0 2.3 0 2.2 0 2.2 0 2.2 0 2.2 0 2.2 0 2.2 0 2.3 0 2.2 0 2.2 0 2.2 0 2.2 0 2.2 0 2.2 0 2.3 0 2.2 0 2.2 0 2.2 0 2.2 0 2.2 0 2.2 0 2.3 0 2.2 0 2.2 0 2.2 0 2.2 0 2.2 0 2.3 0 2.2 0 2.2 0 2.2 0 2.2 0 2.2 0 2.2 0 2.3 0 2.2 0 2.2 0 2.2 0 2.2 0 2.2 0 2.3 0 2.2 0 2.2 0 2.2 0 2.2 0 2.2 0 2.2 0 2.3 0 2.2 0 2.2zM226 420.5l-0.9-0.2-1.3-0.3-2.2-0.6-2.2-0.6-2.2-0.6-0.5-0.1-1.8-0.5-2.2-0.6-2.2-0.5-2.2-0.4-1.4-0.3-0.8-0.1-2.2-0.2-2.3-0.2-2.2 0-2.2 0.1-2.2 0.1-2.2 0.2-2.2 0.1-0.1 0-2.2 0.2-2.2 0.2-2.2 0.1-2.2 0.2-2.2 0-2.2 0.1-2.3 0-2.2 0-2.2 0-2.2-0.1-2.2-0.1-2.2-0.3-1.2-0.3-1.1-0.2-2.2-0.6-2.2-0.8-1-0.6-1.2-0.6-2.2-1.3-0.4-0.3-1.8-1.4-1-0.8-1.2-1.1-1.1-1.1-1.2-1.2-0.8-1-1.4-1.6-0.4-0.6-1.6-2.3-0.2-0.3-1.1-1.9-1.1-2-0.1-0.2-1-2.2-1-2.2-0.1-0.5-0.6-1.7-0.7-2.2-0.6-2.3-0.3-1.6-0.2-0.6-0.4-2.2-0.3-2.2-0.3-2.2-0.2-2.2-0.1-2.2-0.1-2.3-0.1-2.2 0-2.2 0.1-2.2 0.1-2.2 0.1-2.2 0.2-2.3 0.3-2.2 0.3-2.2 0.4-2.2 0.2-0.8 0.3-1.4 0.5-2.2 0.7-2.2 0.7-2 0.1-0.3 0.9-2.2 1.1-2.2 0.1-0.2 1.2-2 1-1.5 0.5-0.7 1.7-2 0.2-0.2 2-1.9 0.4-0.4 1.9-1.3 1.3-0.9 0.9-0.5 2.2-1 1.9-0.7 0.3-0.1 2.2-0.5 2.2-0.3 2.2-0.1 2.3 0.1 2.2 0.3 2.2 0.4 0.7 0.2 1.5 0.4 2.2 0.6 2.2 0.6 2.3 0.6 2.2 0.6 2.2 0.5 2.2 0.5 2.2 0.4 1.6 0.2 0.6 0.1 2.3 0.3 2.2 0.1 2.2 0.1 2.2 0 2.2-0.1 2.2-0.2 2.3-0.2 0.6-0.1 1.6-0.1 2.2-0.2 2.2-0.2 2.2-0.1 2.2-0.2 2.3 0 2.2-0.1 2.2 0 2.2 0.1 2.2 0.1 2.2 0.2 2.2 0.3 1.3 0.2 1 0.2 2.2 0.6 2.2 0.8 1.5 0.7 0.7 0.3 2.2 1.2 1.1 0.7 1.1 0.7 1.9 1.5 0.4 0.3 2 1.9 0.2 0.2 1.8 2 0.4 0.5 1.3 1.7 0.9 1.4 0.5 0.9 1.3 2.2 0.4 0.8 0.6 1.4 1 2.2 0.6 1.8 0.2 0.4 0.7 2.2 0.5 2.2 0.6 2.3 0.3 1.4 0.1 0.8 0.4 2.2 0.3 2.2 0.2 2.2 0.2 2.2 0.2 2.3 0.1 2.2 0.1 2.2 0 2.2 0 2.2 0 2.2-0.1 2.2-0.1 2.3-0.2 2.2-0.3 2.2-0.3 2.2-0.4 2.2-0.2 1.1-0.3 1.1-0.6 2.2-0.7 2.3-0.7 1.7-0.2 0.5-1 2.2-1 1.7-0.3 0.5-1.5 2.2-0.4 0.5-1.5 1.7-0.7 0.7-1.8 1.5-0.4 0.4-2.2 1.5-0.7 0.4-1.6 0.8-2.2 0.9-1.7 0.5-0.5 0.1-2.2 0.5-2.2 0.3-2.2 0-2.3-0.1-2.2-0.2zM396.7 418.3l-0.6-0.2-1.7-0.8-1.9-1.5-0.3-0.2-2-2-0.2-0.2-1.7-2-0.5-0.7-1.1-1.5-1.1-1.7-0.3-0.5-1.3-2.2-0.6-1.1-0.7-1.1-1.1-2.3-0.5-1-0.5-1.2-1-2.2-0.7-1.7-0.2-0.5-0.8-2.2-0.7-2.2-0.5-1.5-0.2-0.7-0.6-2.3-0.4-2.2-0.4-2.2-0.2-2.2-0.2-2.2 0-2.2 0.1-2.2 0.2-2.3 0.4-2.2 0.4-2.2 0.5-2.2 0.4-1.7 0.2-0.5 0.6-2.2 0.7-2.3 0.7-2 0.1-0.2 0.8-2.2 0.8-2.2 0.5-1.4 0.4-0.8 0.9-2.2 0.9-2.2 0.1-0.3 0.8-2 1-2.2 0.4-0.7 0.8-1.5 1.1-2.2 0.3-0.5 1.1-1.7 1.1-1.7 0.5-0.5 1.7-2 0.3-0.3 1.9-1.4 2-0.8 0.3-0.1 2.2 0.1 2.2 1 1.5 1.2 0.7 0.6 1.4 1.7 0.8 1 0.8 1.2 1.4 2.2 0 0.1 1.1 2.1 1.2 2.2 0.9 2.2 0.9 2.3 0.4 0.8 0.5 1.4 0.7 2.2 0.8 2.2 0.2 0.5 0.5 1.7 0.6 2.2 0.6 2.2 0.5 1.8 0.1 0.5 0.5 2.2 0.4 2.2 0.4 2.2 0.3 2.2 0.2 2.2 0.2 2.3 0 2.2-0.1 2.2-0.1 2.2-0.2 2.2-0.4 2.2-0.4 2.2-0.4 2.3-0.5 2 0 0.2-0.7 2.2-0.6 2.2-0.7 2.2-0.2 0.8-0.5 1.4-0.8 2.2-0.8 2.3-0.1 0.2-0.9 2-1 2.2-0.3 0.8-0.8 1.4-1.2 2.2-0.3 0.4-1.3 1.8-0.9 1.2-1 1-1.2 1.2-1.9 1.1-0.3 0.1-2.2 0.4zM152.9 225.8l-0.9-0.4-1.3-0.7-2.2-1.3-0.4-0.3-1.9-1.3-1.1-0.9-1.1-0.8-1.5-1.4-0.7-0.6-1.5-1.6-0.7-0.8-1.2-1.4-1-1.3-0.7-0.9-1.4-2.2-0.1-0.3-1.1-2-1.1-2.2-0.1 0-0.9-2.2-0.8-2.2-0.5-1.3-0.3-0.9-0.6-2.2-0.6-2.3-0.6-2.2-0.1-0.5-0.3-1.7-0.4-2.2-0.4-2.2-0.2-2.2-0.3-2.2-0.1-2.3-0.1-2.2-0.1-2.2 0-2.2 0.1-2.2 0.2-2.2 0.2-2.2 0.3-2.3 0.3-2.2 0.5-2.2 0.3-1.4 0.2-0.8 0.6-2.2 0.8-2.2 0.6-1.9 0.2-0.4 0.9-2.2 1-2.2 0.1-0.3 1.1-1.9 1.2-2.1 0-0.1 1.4-2.2 0.8-1.2 0.7-1 1.5-2.2 0.1-0.1 1.7-2.2 0.4-0.4 1.6-1.8 0.6-0.7 1.5-1.5 0.7-0.7 1.8-1.5 0.5-0.4 2.2-1.5 0.5-0.3 1.7-0.9 2.2-1 1.3-0.3 0.9-0.3 2.2-0.4 2.2-0.3 2.3-0.1 2.2 0.1 2.2 0.1 2.2 0.2 2.2 0.3 2.2 0.2 1.2 0.2 1.1 0.1 2.2 0.1 2.2 0.1 2.2-0.1 2.2 0 2.2-0.2 1.8 0 0.5-0.1 2.2 0 2.2-0.1 2.2 0.1 0.6 0.1 1.6 0.1 2.2 0.2 2.3 0.2 2.2 0.2 2.2 0.2 2.2 0 2.2-0.1 2.2-0.3 2.2-0.5 0.1-0.1 2.2-0.7 2.2-0.8 1.5-0.7 0.7-0.3 2.2-0.9 2.2-0.8 0.6-0.2 1.6-0.5 2.3-0.4 2.2-0.1 2.2 0.1 2.2 0.5 1.3 0.4 0.9 0.4 2.2 1.1 1.3 0.7 1 0.6 2.1 1.7 0.1 0 2.2 1.9 0.3 0.3 1.9 1.9 0.3 0.3 1.9 2.2 1.7 2.2 0.5 0.8 1 1.4 1.3 2.1 0 0.1 1.2 2.3 1 2 0 0.2 0.9 2.2 0.9 2.2 0.4 1.1 0.3 1.1 0.7 2.2 0.6 2.2 0.5 2.3 0.1 0.3 0.4 1.9 0.4 2.2 0.4 2.2 0.2 2.2 0.3 2.2 0.1 2.3 0.1 2.2 0.1 2.2-0.1 2.2-0.1 2.2-0.1 2.2-0.3 2.2-0.3 2.3-0.4 2.2-0.4 2.2-0.3 1.2-0.3 1-0.6 2.2-0.7 2.2-0.6 1.8-0.2 0.4-0.9 2.3-1 2.2-0.1 0.2-1.1 2-1.1 2.2-0.1 0-1.3 2.2-0.9 1.3-0.6 0.9-1.6 2.3-1.7 2.2-0.5 0.6-1.4 1.6-0.8 0.9-1.3 1.3-0.9 0.9-1.6 1.3-0.6 0.6-2.3 1.5-0.2 0.1-2 1.1-2.2 0.8-1.1 0.3-1.1 0.4-2.2 0.4-2.2 0.2-2.3 0-2.2 0-2.2-0.2-2.2-0.2-2.2-0.2-2.2-0.3-1.2-0.1-1 0-2.3-0.2-2.2 0-2.2 0-2.2 0.1-2.2 0.1-1.6 0-0.6 0.1-2.3 0-2.2 0-2.2 0-0.6-0.1-1.6-0.1-2.2-0.1-2.2-0.3-2.3-0.2-2.2-0.1-2.2 0-2.2 0.1-2.2 0.3-2 0.4-0.2 0.1-2.3 0.6-2.2 0.8-2.2 0.8-2.2 0.7-2.2 0.6-2.2 0.5-2.3 0.3-2.2 0-2.2-0.3-2.2-0.6zM394.4 223.4l-0.5-0.3-1.7-0.6-2.2-1.4-0.2-0.2-2-1.6-0.6-0.6-1.6-1.6-0.5-0.6-1.7-2-0.2-0.2-1.8-2.2-0.3-0.4-1.3-1.8-0.9-1.2-0.7-1.1-1.5-2-0.1-0.2-1.5-2.2-0.6-1-0.8-1.2-1.4-2.2 0-0.1-1.3-2.1-0.9-1.8-0.3-0.5-1.1-2.2-0.9-1.8-0.1-0.4-0.9-2.2-0.8-2.2-0.4-1.1-0.3-1.1-0.6-2.2-0.5-2.3-0.3-2.2-0.2-2.2-0.1-2.2 0.1-2.2 0.1-2.2 0.3-2.2 0.5-2.3 0.5-2.2 0.5-1.8 0.1-0.4 0.8-2.2 0.9-2.2 0.4-1.2 0.5-1 1.1-2.3 0.7-1.3 0.4-0.9 1.2-2.2 0.6-0.9 0.7-1.3 1.4-2.2 0.1-0.1 1.4-2.1 0.8-1.2 0.8-1 1.4-2 0.2-0.3 1.8-2.2 0.2-0.3 1.6-1.9 0.7-0.7 1.4-1.5 0.8-0.8 1.5-1.4 0.7-0.7 2-1.5 0.2-0.2 2.2-1.3 1.8-0.7 0.4-0.2 2.3-0.5 2.2 0.1 2.2 0.5 0 0.1 2.2 1 1.6 1.2 0.6 0.4 1.8 1.8 0.4 0.4 1.6 1.8 0.7 0.9 0.9 1.3 1.3 1.8 0.3 0.4 1.4 2.2 0.5 0.9 0.8 1.4 1.3 2.2 0.1 0.1 1.2 2.1 1 1.9 0.2 0.3 1.2 2.2 0.8 1.5 0.4 0.7 1.2 2.2 0.6 1.3 0.5 1 1.1 2.2 0.7 1.4 0.3 0.8 0.9 2.2 0.9 2.2 0.1 0.4 0.6 1.8 0.6 2.3 0.5 2.2 0.3 2.2 0.2 1.6 0.1 0.6 0.1 2.2-0.1 2.2-0.1 1.8 0 0.4-0.3 2.3-0.5 2.2-0.5 2.2-0.7 2.2-0.2 0.7-0.6 1.5-0.9 2.2-0.7 1.7-0.3 0.5-1.1 2.3-0.9 1.5-0.3 0.7-1.3 2.2-0.6 1-0.7 1.2-1.4 2.2-0.1 0.1-1.4 2.1-0.8 1.2-0.7 1.1-1.5 2-0.1 0.2-1.8 2.2-0.3 0.4-1.6 1.8-0.6 0.7-1.6 1.5-0.7 0.6-2 1.6-0.2 0.2-2.2 1.3-1.8 0.7-0.4 0.2-2.2 0.5-2.2 0z"/>
<path fill="#2d00ff" d="M86.4 482.3l2.2 0 2.2 0 2.2 0 2.3 0 2.2 0 2.2 0 2.2 0 2.2 0 2.2 0 2.3 0 2.2 0 2.2 0 2.2 0 2.2 0 2.2 0 2.3 0 2.2 0 2.2 0 2.2 0 2.2 0 2.2 0 2.3 0 2.2 0 2.2 0 2.2 0 2.2 0 2.2 0 2.3 0 2.2 0 2.2 0 2.2 0 2.2 0 2.2 0 2.2 0 2.3 0 2.2 0 2.2 0 2.2 0 2.2 0 2.2 0 2.3 0 2.2 0 2.2 0 2.2 0 2.2 0 2.2 0 2.3 0 2.2 0 2.2 0 2.2 0 2.2 0 2.2 0 2.3 0 2.2 0 2.2 0 2.2 0 2.2 0 2.2 0 2.3 0 2.2 0 2.2 0 2.2 0 2.2 0 2.2 0 2.2 0 2.3 0 2.2 0 2.2 0 2.2 0 2.2 0 2.2 0 2.3 0 2.2 0 2.2 0 2.2 0 2.2 0 2.2 0 2.3 0 2.2 0 2.2 0 2.2 0 2.2 0 2.2 0 2.3 0 2.2 0 2.2 0 2.2 0 2.2 0 2.2 0 2.2 0 2.3 0 2.2 0 2.2 0 2.2 0 2.2 0 2.2 0 2.3 0 2.2 0 2.2 0 2.2 0 2.2 0 2.2 0 2.3 0 2.2 0 2.2 0 2.2 0 2.2 0 2.2 0 2.3 0 2.2 0 2.2 0 2.2 0 2.2 0 2.2 0 2.3 0 2.2 0 2.2 0 2.2 0 2.2 0 2.2 0 2.2 0 2.3 0 2.2 0 2.2 0 2.2 0 2.2 0 2.2 0 2.3 0 2.2 0 2.2 0 2.2 0 2.2 0 2.2 0 2.3 0 2.2 0 2.2 0 2.2 0 2.2 0 2.2 0 2.3 0 2.2 0 2.2 0 2.2 0 2.2 0 2.2 0 2.3 0 2.2 0 2.2 0 2.2 0 2.2 0 2.2 0 2.2 0 2.3 0 2.2 0 2.2 0 2.2 0 2.2 0 2.2 0 2.3 0 2.2 0 2.2 0 2.2 0 2.2 0 2.2 0 2.3 0 2.2 0 2.2 0 2.2 0 2.2 0 2.2 0 2.3 0 2.2 0 2.2 0 2.2 0 2.2 0 2.2 0 2.3 0 2.2 0 2.2 0 2.2 0 0-2.2 0-2.2 0-2.2 0-2.3 0-2.2 0-2.2 0-2.2 0-2.2 0-2.2 0-2.2 0-2.3 0-2.2 0-2.2 0-2.2 0-2.2 0-2.2 0-2.3 0-2.2 0-2.2 0-2.2 0-2.2 0-2.2 0-2.2 0-2.3 0-2.2 0-2.2 0-2.2 0-2.2 0-2.2 0-2.3 0-2.2 0-2.2 0-2.2 0-2.2 0-2.2 0-2.2 0-2.3 0-2.2 0-2.2 0-2.2 0-2.2 0-2.2 0-2.2 0-2.3 0-2.2 0-2.2 0-2.2 0-2.2 0-2.2 0-2.2 0-2.3 0-2.2 0-2.2 0-2.2 0-2.2 0-2.2 0-2.3 0-2.2 0-2.2 0-2.2 0-2.2 0-2.2 0-2.2 0-2.3 0-2.2 0-2.2 0-2.2 0-2.2 0-2.2 0-2.3 0-2.2 0-2.2 0-2.2 0-2.2 0-2.2 0-2.2 0-2.3 0-2.2 0-2.2 0-2.2 0-2.2 0-2.2 0-2.2 0-2.3 0-2.2 0-2.2 0-2.2 0-2.2 0-2.2 0-2.3 0-2.2 0-2.2 0-2.2 0-2.2 0-2.2 0-2.2 0-2.3 0-2.2 0-2.2 0-2.2 0-2.2 0-2.2 0-2.2 0-2.3 0-2.2 0-2.2 0-2.2 0-2.2 0-2.2 0-2.3 0-2.2 0-2.2 0-2.2 0-2.2 0-2.2 0-2.2 0-2.3 0-2.2 0-2.2 0-2.2 0-2.2 0-2.2 0-2.2 0-2.3 0-2.2 0-2.2 0-2.2 0-2.2 0-2.2 0-2.3 0-2.2 0-2.2 0-2.2 0-2.2 0-2.2 0-2.2 0-2.3 0-2.2 0-2.2 0-2.2 0-2.2 0-2.2 0-2.2 0-2.3 0-2.2 0-2.2 0-2.2 0-2.2 0-2.2 0-2.3 0-2.2 0-2.2 0-2.2 0-2.2 0-2.2 0-2.2 0-2.3 0-2.2 0-2.2 0-2.2 0-2.2 0-2.2 0-2.2 0-2.3 0-2.2 0-2.2 0-2.2 0-2.2 0-2.2 0-2.3 0-2.2 0-2.2 0-2.2 0-2.2 0-2.2 0-2.2 0-2.3 0-2.2 0-2.2 0-2.2-2.2 0-2.2 0-2.2 0-2.3 0-2.2 0-2.2 0-2.2 0-2.2 0-2.2 0-2.3 0-2.2 0-2.2 0-2.2 0-2.2 0-2.2 0-2.3 0-2.2 0-2.2 0-2.2 0-2.2 0-2.2 0-2.3 0-2.2 0-2.2 0-2.2 0-2.2 0-2.2 0-2.3 0-2.2 0-2.2 0-2.2 0-2.2 0-2.2 0-2.2 0-2.3 0-2.2 0-2.2 0-2.2 0-2.2 0-2.2 0-2.3 0-2.2 0-2.2 0-2.2 0-2.2 0-2.2 0-2.3 0-2.2 0-2.2 0-2.2 0-2.2 0-2.2 0-2.3 0-2.2 0-2.2 0-2.2 0-2.2 0-2.2 0-2.3 0-2.2 0-2.2 0-2.2 0-2.2 0-2.2 0-2.2 0-2.3 0-2.2 0-2.2 0-2.2 0-2.2 0-2.2 0-2.3 0-2.2 0-2.2 0-2.2 0-2.2 0-2.2 0-2.3 0-2.2 0-2.2 0-2.2 0-2.2 0-2.2 0-2.3 0-2.2 0-2.2 0-2.2 0-2.2 0-2.2 0-2.3 0-2.2 0-2.2 0-2.2 0-2.2 0-2.2 0-2.2 0-2.3 0-2.2 0-2.2 0-2.2 0-2.2 0-2.2 0-2.3 0-2.2 0-2.2 0-2.2 0-2.2 0-2.2 0-2.3 0-2.2 0-2.2 0-2.2 0-2.2 0-2.2 0-2.3 0-2.2 0-2.2 0-2.2 0-2.2 0-2.2 0-2.2 0-2.3 0-2.2 0-2.2 0-2.2 0-2.2 0-2.2 0-2.3 0-2.2 0-2.2 0-2.2 0-2.2 0-2.2 0-2.3 0-2.2 0-2.2 0-2.2 0-2.2 0-2.2 0-2.3 0-2.2 0-2.2 0-2.2 0-2.2 0-2.2 0-2.3 0-2.2 0-2.2 0-2.2 0-2.2 0-2.2 0-2.2 0-2.3 0-2.2 0-2.2 0-2.2 0-2.2 0-2.2 0-2.3 0-2.2 0-2.2 0-2.2 0-2.2 0-2.2 0-2.3 0-2.2 0-2.2 0-2.2 0-2.2 0-2.2 0-2.3 0-2.2 0-2.2 0-2.2 0-2.2 0-2.2 0-2.3 0-2.2 0-2.2 0-2.2 0 0 2.2 0 2.2 0 2.2 0 2.3 0 2.2 0 2.2 0 2.2 0 2.2 0 2.2 0 2.2 0 2.3 0 2.2 0 2.2 0 2.2 0 2.2 0 2.2 0 2.3 0 2.2 0 2.2 0 2.2 0 2.2 0 2.2 0 2.2 0 2.3 0 2.2 0 2.2 0 2.2 0 2.2 0 2.2 0 2.2 0 2.3 0 2.2 0 2.2 0 2.2 0 2.2 0 2.2 0 2.3 0 2.2 0 2.2 0 2.2 0 2.2 0 2.2 0 2.2 0 2.3 0 2.2 0 2.2 0 2.2 0 2.2 0 2.2 0 2.2 0 2.3 0 2.2 0 2.2 0 2.2 0 2.2 0 2.2 0 2.3 0 2.2 0 2.2 0 2.2 0 2.2 0 2.2 0 2.2 0 2.3 0 2.2 0 2.2 0 2.2 0 2.2 0 2.2 0 2.2 0 2.3 0 2.2 0 2.2 0 2.2 0 2.2 0 2.2 0 2.3 0 2.2 0 2.2 0 2.2 0 2.2 0 2.2 0 2.2 0 2.3 0 2.2 0 2.2 0 2.2 0 2.2 0 2.2 0 2.2 0 2.3 0 2.2 0 2.2 0 2.2 0 2.2 0 2.2 0 2.3 0 2.2 0 2.2 0 2.2 0 2.2 0 2.2 0 2.2 0 2.3 0 2.2 0 2.2 0 2.2 0 2.2 0 2.2 0 2.2 0 2.3 0 2.2 0 2.2 0 2.2 0 2.2 0 2.2 0 2.3 0 2.2 0 2.2 0 2.2 0 2.2 0 2.2 0 2.2 0 2.3 0 2.2 0 2.2 0 2.2 0 2.2 0 2.2 0 2.3 0 2.2 0 2.2 0 2.2 0 2.2 0 2.2 0 2.2 0 2.3 0 2.2 0 2.2 0 2.2 0 2.2 0 2.2 0 2.2 0 2.3 0 2.2 0 2.2 0 2.2 0 2.2 0 2.2 0 2.2 0 2.3 0 2.2 0 2.2 0 2.2 0 2.2 0 2.2 0 2.3 0 2.2 0 2.2 0 2.2 0 2.2 0 2.2 0 2.2 0 2.3 0 2.2 0 2.2 0 2.2 0 2.2 0 2.2 0 2.3 0 2.2 0 2.2 0 2.2 0 2.2 0 2.2 0 2.2 0 2.3 0 2.2 0 2.2zM221.6 424.8l-0.3-0.1-1.9-0.5-2.2-0.6-2.3-0.6-2-0.5-0.2 0-2.2-0.5-2.2-0.4-2.2-0.3-2.2-0.2-2.3 0-2.2 0-2.2 0-2.2 0.2-2.2 0.1-2.2 0.2-2.3 0.1-2.2 0.1-2.2 0.1-2.2 0.1-2.2 0.1-2.2 0-2.3 0.1-2.2 0-2.2 0-2.2-0.1-2.2-0.2-2.2-0.3-2.3-0.5-2.2-0.7-0.1-0.1-2.1-0.9-2.2-1.3-0.1 0-2.1-1.5-0.9-0.8-1.3-1-1.3-1.2-0.9-0.8-1.4-1.4-0.9-0.9-1.1-1.3-1.1-1.3-0.6-0.9-1.6-2.1 0-0.1-1.4-2.2-0.8-1.3-0.5-1-1.1-2.2-0.6-1.2-0.4-1-0.9-2.2-0.8-2.2-0.1-0.5-0.5-1.7-0.6-2.2-0.5-2.3-0.4-2.2-0.3-1.4-0.1-0.8-0.3-2.2-0.2-2.2-0.2-2.2-0.1-2.2-0.1-2.3 0-2.2 0-2.2 0-2.2 0.1-2.2 0.1-2.2 0.2-2.3 0.2-2.2 0.2-2.2 0.2-1.4 0.2-0.8 0.4-2.2 0.4-2.2 0.6-2.2 0.6-2.3 0.1-0.2 0.6-2 0.9-2.2 0.7-1.6 0.3-0.6 1.2-2.2 0.7-1.3 0.6-0.9 1.6-2.2 0-0.1 2-2.2 0.2-0.2 2.2-2 0-0.1 2.3-1.6 0.7-0.5 1.5-0.9 2.2-1.1 0.6-0.2 1.6-0.6 2.2-0.7 2.2-0.4 2.2-0.1 2.3 0 2.2 0.3 2.2 0.4 2.2 0.5 2.2 0.6 0.1 0 2.1 0.6 2.3 0.6 2.2 0.6 1.7 0.4 0.5 0.1 2.2 0.5 2.2 0.3 2.2 0.3 2.3 0.1 2.2 0.1 2.2 0 2.2 0 2.2-0.1 2.2-0.2 2.3-0.1 2.2-0.2 2.2-0.1 2.2-0.2 2.2-0.1 2.2-0.1 2.3-0.1 2.2 0 2.2 0 2.2 0 2.2 0.1 2.2 0.3 2.2 0.3 2.3 0.6 2.2 0.7 0.1 0 2.1 0.9 2.2 1.1 0.4 0.2 1.8 1.1 1.6 1.1 0.6 0.5 2.2 1.8 0.1 0 2.2 2.1 0 0.1 2 2.2 0.2 0.2 1.5 2 0.7 0.9 0.9 1.3 1.3 2.2 1.2 2.3 1 2.2 0.9 2.2 0.8 2.2 0.6 1.8 0.1 0.4 0.5 2.2 0.5 2.2 0.5 2.3 0.3 2.2 0.3 1.5 0.1 0.7 0.2 2.2 0.2 2.2 0.2 2.2 0.2 2.3 0.1 2.2 0 2.2 0.1 2.2 0 2.2 0 2.2-0.1 2.2-0.1 2.3-0.1 2.2-0.2 2.2-0.3 2.2-0.3 2.2-0.4 2.2-0.5 2.2-0.6 2.3-0.7 2.2 0 0.1-0.9 2.1-0.9 2.2-0.5 0.9-0.7 1.3-1.4 2.2-0.1 0.2-1.6 2-0.6 0.8-1.4 1.5-0.8 0.8-1.7 1.4-0.5 0.4-2.2 1.5-0.7 0.3-1.6 0.9-2.2 1-0.9 0.3-1.3 0.5-2.2 0.6-2.2 0.4-2.2 0.2-2.3 0-2.2-0.2-2.2-0.4-2.2-0.5zM394.4 422.9l-0.6-0.4-1.6-1.1-1.2-1.1-1-1-1.1-1.2-1.1-1.3-0.8-1-1.4-1.8-0.3-0.4-1.5-2.2-0.4-0.7-1-1.5-1.3-2.2-1.2-2.2-1-1.9-0.1-0.3-1.1-2.3-1-2.1 0-0.1-1-2.2-0.9-2.2-0.3-0.8-0.5-1.4-0.7-2.2-0.7-2.2-0.3-1.3-0.2-1-0.5-2.2-0.3-2.2-0.2-2.2-0.1-2.2 0-2.2 0.1-2.2 0.3-2.3 0.3-2.2 0.4-2.2 0.2-0.8 0.3-1.4 0.7-2.2 0.6-2.2 0.6-1.8 0.2-0.5 0.8-2.2 0.8-2.2 0.4-1 0.5-1.2 0.9-2.2 0.8-2.1 0.1-0.1 0.9-2.2 1-2.3 0.2-0.6 0.8-1.6 1-2.2 0.5-1 0.6-1.2 1.1-2.2 0.5-0.9 0.8-1.3 1.3-2.3 0.1-0.1 1.5-2.1 0.7-0.9 1.2-1.3 1-1 1.7-1.2 0.5-0.4 2.3-0.7 2.2 0 2.2 0.9 0.3 0.2 1.9 1.4 0.7 0.8 1.5 1.7 0.4 0.5 1.6 2.2 0.2 0.4 1.1 1.9 1.2 2 0.1 0.2 1.1 2.2 1 2.1 0 0.1 1 2.2 0.9 2.2 0.3 0.6 0.6 1.7 0.8 2.2 0.8 2 0.1 0.2 0.7 2.2 0.7 2.2 0.7 2.1 0.1 0.1 0.6 2.2 0.6 2.3 0.5 2.2 0.4 1.9 0.1 0.3 0.4 2.2 0.3 2.2 0.2 2.2 0.2 2.3 0 2.2 0 2.2-0.1 2.2-0.3 2.2-0.3 2.2-0.3 2.2-0.2 0.6-0.3 1.7-0.6 2.2-0.6 2.2-0.6 2.2-0.1 0.2-0.7 2-0.7 2.2-0.8 2.2-0.9 2.3-0.9 2.2-0.4 1.1-0.5 1.1-1 2.2-0.7 1.5-0.4 0.7-1.2 2.2-0.6 1.3-0.7 0.9-1.4 2.3-0.2 0.2-1.6 2-0.6 0.6-1.8 1.6-0.4 0.3-2.2 1.1-2.2 0.4-2.2-0.4zM155.1 230.6l-1.9-0.8-0.3-0.1-2.2-1.1-1.6-1-0.6-0.4-2.3-1.6-0.3-0.2-1.9-1.6-0.8-0.7-1.4-1.2-0.9-1-1.3-1.3-0.8-0.9-1.4-1.7-0.4-0.5-1.6-2.2-0.2-0.4-1.2-1.8-1.1-2-0.1-0.2-1-2.3-1-2.2-0.1-0.2-0.7-2-0.8-2.2-0.7-2.2 0-0.1-0.6-2.1-0.5-2.3-0.5-2.2-0.4-2.2-0.2-1.1-0.2-1.1-0.3-2.2-0.3-2.2-0.2-2.2-0.2-2.3-0.1-2.2 0-2.2 0-2.2 0.1-2.2 0.1-2.2 0.2-2.2 0.3-2.3 0.3-2.2 0.3-1.5 0.1-0.7 0.5-2.2 0.6-2.2 0.6-2.2 0.4-1.2 0.4-1.1 0.8-2.2 0.9-2.2 0.1-0.2 1-2 1.1-2.2 0.1-0.3 1.1-1.9 1.2-1.9 0.1-0.3 1.5-2.3 0.6-0.9 0.9-1.3 1.3-1.7 0.3-0.5 1.8-2.2 0.1-0.1 1.8-2.1 0.4-0.5 1.8-1.7 0.4-0.5 2.2-1.7 0.1-0.1 2.2-1.5 1.2-0.7 1-0.5 2.2-0.8 2.2-0.7 1.1-0.2 1.1-0.2 2.2-0.2 2.3-0.1 2.2-0.1 2.2 0.1 2.2 0.1 2.2 0.2 2.2 0.2 1 0 1.3 0.1 2.2 0.1 2.2 0 2.2 0 2.2-0.1 2.2-0.1 0.9 0 1.4 0 2.2 0 2.2 0 0.3 0 1.9 0.1 2.2 0.2 2.2 0.2 2.3 0.2 2.2 0.2 2.2 0.1 2.2 0.1 2.2-0.2 2.2-0.4 2.2-0.5 0.1 0 2.2-0.7 2.2-0.9 1.5-0.6 0.7-0.3 2.2-0.9 2.2-0.7 1.1-0.3 1.1-0.3 2.3-0.4 2.2-0.1 2.2 0.2 2.2 0.5 0.4 0.1 1.8 0.7 2.2 1.1 0.7 0.4 1.6 1 1.6 1.2 0.6 0.5 2 1.7 0.2 0.2 2.1 2.1 0.1 0.1 1.9 2.1 0.3 0.3 1.5 1.9 0.7 1 0.9 1.2 1.4 2.1 0 0.1 1.3 2.2 0.9 1.7 0.2 0.5 1 2.3 1 2.2 0 0.1 0.8 2.1 0.7 2.2 0.7 2.2 0.6 2.2 0.6 2.2 0.5 2.3 0.4 2.2 0.1 0.7 0.3 1.5 0.3 2.2 0.3 2.2 0.2 2.2 0.1 2.3 0.1 2.2 0.1 2.2-0.1 2.2 0 2.2-0.2 2.2-0.2 2.2-0.3 2.3-0.3 2.2-0.3 1.2-0.2 1-0.5 2.2-0.6 2.2-0.6 2.2-0.3 1-0.4 1.2-0.9 2.3-0.9 2.2 0 0.1-1 2.1-1.1 2.2-0.1 0.3-1.1 1.9-1.1 2-0.2 0.2-1.4 2.3-0.7 1-0.8 1.2-1.4 1.9-0.2 0.3-1.7 2.2-0.3 0.3-1.6 1.9-0.6 0.7-1.6 1.5-0.6 0.7-1.9 1.5-0.3 0.3-2.3 1.5-0.9 0.5-1.3 0.6-2.2 0.8-2.2 0.6-1 0.2-1.2 0.2-2.2 0.2-2.3 0.1-2.2 0-2.2 0-2.2-0.2-2.2-0.1-2.2-0.2-1 0-1.2-0.1-2.3-0.1-2.2 0-2.2 0-2.2 0-2.2 0.1-2.2 0.1-1.2 0-1.1 0-1.2 0-1 0-2.2-0.1-2.2-0.1-2.2-0.2-2.2-0.2-2.3-0.2-2.2-0.1-2.2 0-2.2 0.2-2.2 0.3-2 0.4-0.2 0-2.3 0.7-2.2 0.7-2.2 0.7-0.3 0.1-1.9 0.6-2.2 0.5-2.2 0.4-2.3 0.2-2.2 0-2.2-0.3zM396.7 227.7l-0.6-0.1-1.7-0.3-2.2-0.9-1.8-1-0.4-0.3-2.2-1.7-0.3-0.3-1.9-1.8-0.4-0.4-1.8-2.1-0.2-0.1-1.8-2.2-0.3-0.4-1.4-1.8-0.8-1.1-0.8-1.1-1.4-1.9-0.2-0.3-1.6-2.3-0.4-0.6-1.1-1.6-1.1-1.7-0.4-0.5-1.4-2.2-0.4-0.7-0.9-1.5-1.3-2.2-0.1-0.1-1.1-2.2-1.1-2.1 0-0.1-1-2.2-0.9-2.2-0.3-0.8-0.5-1.4-0.7-2.2-0.6-2.2-0.4-2.2 0-0.1-0.3-2.2-0.2-2.2-0.1-2.2 0-2.2 0.2-2.2 0.3-2.2 0.1-0.5 0.3-1.8 0.6-2.2 0.6-2.2 0.7-2 0.1-0.2 0.8-2.2 1-2.2 0.3-0.8 0.7-1.5 1.1-2.2 0.4-0.8 0.8-1.4 1.3-2.2 0.2-0.3 1.2-1.9 1-1.6 0.4-0.6 1.5-2.2 0.3-0.4 1.3-1.9 0.9-1.2 0.8-1 1.4-1.9 0.3-0.3 1.8-2.2 0.1-0.2 1.8-2 0.5-0.5 1.7-1.7 0.5-0.6 1.8-1.6 0.4-0.4 2.2-1.6 0.4-0.3 1.8-1 2.2-0.9 1.6-0.3 0.7-0.1 2.2 0 0.3 0.1 1.9 0.5 2.2 1 1.1 0.7 1.1 0.8 1.7 1.5 0.5 0.5 1.5 1.7 0.8 0.8 1 1.4 1.2 1.5 0.4 0.7 1.5 2.2 0.3 0.5 1.1 1.7 1.1 1.9 0.2 0.3 1.3 2.3 0.7 1.1 0.6 1.1 1.3 2.2 0.3 0.5 1 1.7 1.2 2.2 1.3 2.2 1 1.9 0.2 0.3 1.1 2.3 0.9 1.7 0.2 0.5 1 2.2 0.9 2.2 0.1 0.2 0.7 2 0.7 2.2 0.6 2.3 0.2 0.9 0.3 1.3 0.3 2.2 0.2 2.2 0.1 2.2 0 2.2-0.2 2.2-0.3 2.3-0.4 2.2-0.5 2.2-0.7 2.2-0.8 2.2-0.2 0.6-0.7 1.6-1 2.2-0.5 1.1-0.6 1.2-1.2 2.2-0.4 0.8-0.9 1.4-1.3 2.2-0.1 0.1-1.3 2.1-0.9 1.4-0.5 0.8-1.5 2.3-0.2 0.2-1.4 2-0.8 1.2-0.8 1-1.4 1.9-0.3 0.3-1.8 2.2-0.1 0.2-1.9 2-0.3 0.4-2.1 1.8-0.2 0.2-2.2 1.7-0.6 0.4-1.6 0.9-2.2 0.9-1.9 0.4-0.3 0z"/>
<path fill="#0000ff" d="M86.4 482.3l2.2 0 2.2 0 2.2 0 2.3 0 2.2 0 2.2 0 2.2 0 2.2 0 2.2 0 2.3 0 2.2 0 2.2 0 2.2 0 2.2 0 2.2 0 2.3 0 2.2 0 2.2 0 2.2 0 2.2 0 2.2 0 2.3 0 2.2 0 2.2 0 2.2 0 2.2 0 2.2 0 2.3 0 2.2 0 2.2 0 2.2 0 2.2 0 2.2 0 2.2 0 2.3 0 2.2 0 2.2 0 2.2 0 2.2 0 2.2 0 2.3 0 2.2 0 2.2 0 2.2 0 2.2 0 2.2 0 2.3 0 2.2 0 2.2 0 2.2 0 2.2 0 2.2 0 2.3 0 2.2 0 2.2 0 2.2 0 2.2 0 2.2 0 2.3 0 2.2 0 2.2 0 2.2 0 2.2 0 2.2 0 2.2 0 2.3 0 2.2 0 2.2 0 2.2 0 2.2 0 2.2 0 2.3 0 2.2 0 2.2 0 2.2 0 2.2 0 2.2 0 2.3 0 2.2 0 2.2 0 2.2 0 2.2 0 2.2 0 2.3 0 2.2 0 2.2 0 2.2 0 2.2 0 2.2 0 2.2 0 2.3 0 2.2 0 2.2 0 2.2 0 2.2 0 2.2 0 2.3 0 2.2 0 2.2 0 2.2 0 2.2 0 2.2 0 2.3 0 2.2 0 2.2 0 2.2 0 2.2 0 2.2 0 2.3 0 2.2 0 2.2 0 2.2 0 2.2 0 2.2 0 2.3 0 2.2 0 2.2 0 2.2 0 2.2 0 2.2 0 2.2 0 2.3 0 2.2 0 2.2 0 2.2 0 2.2 0 2.2 0 2.3 0 2.2 0 2.2 0 2.2 0 2.2 0 2.2 0 2.3 0 2.2 0 2.2 0 2.2 0 2.2 0 2.2 0 2.3 0 2.2 0 2.2 0 2.2 0 2.2 0 2.2 0 2.3 0 2.2 0 2.2 0 2.2 0 2.2 0 2.2 0 2.2 0 2.3 0 2.2 0 2.2 0 2.2 0 2.2 0 2.2 0 2.3 0 2.2 0 2.2 0 2.2 0 2.2 0 2.2 0 2.3 0 2.2 0 2.2 0 2.2 0 2.2 0 2.2 0 2.3 0 2.2 0 2.2 0 2.2 0 2.2 0 2.2 0 2.3 0 2.2 0 2.2 0 2.2 0 0-2.2 0-2.2 0-2.2 0-2.3 0-2.2 0-2.2 0-2.2 0-2.2 0-2.2 0-2.2 0-2.3 0-2.2 0-2.2 0-2.2 0-2.2 0-2.2 0-2.3 0-2.2 0-2.2 0-2.2 0-2.2 0-2.2 0-2.2 0-2.3 0-2.2 0-2.2 0-2.2 0-2.2 0-2.2 0-2.3 0-2.2 0-2.2 0-2.2 0-2.2 0-2.2 0-2.2 0-2.3 0-2.2 0-2.2 0-2.2 0-2.2 0-2.2 0-2.2 0-2.3 0-2.2 0-2.2 0-2.2 0-2.2 0-2.2 0-2.2 0-2.3 0-2.2 0-2.2 0-2.2 0-2.2 0-2.2 0-2.3 0-2.2 0-2.2 0-2.2 0-2.2 0-2.2 0-2.2 0-2.3 0-2.2 0-2.2 0-2.2 0-2.2 0-2.2 0-2.3 0-2.2 0-2.2 0-2.2 0-2.2 0-2.2 0-2.2 0-2.3 0-2.2 0-2.2 0-2.2 0-2.2 0-2.2 0-2.2 0-2.3 0-2.2 0-2.2 0-2.2 0-2.2 0-2.2 0-2.3 0-2.2 0-2.2 0-2.2 0-2.2 0-2.2 0-2.2 0-2.3 0-2.2 0-2.2 0-2.2 0-2.2 0-2.2 0-2.2 0-2.3 0-2.2 0-2.2 0-2.2 0-2.2 0-2.2 0-2.3 0-2.2 0-2.2 0-2.2 0-2.2 0-2.2 0-2.2 0-2.3 0-2.2 0-2.2 0-2.2 0-2.2 0-2.2 0-2.2 0-2.3 0-2.2 0-2.2 0-2.2 0-2.2 0-2.2 0-2.3 0-2.2 0-2.2 0-2.2 0-2.2 0-2.2 0-2.2 0-2.3 0-2.2 0-2.2 0-2.2 0-2.2 0-2.2 0-2.2 0-2.3 0-2.2 0-2.2 0-2.2 0-2.2 0-2.2 0-2.3 0-2.2 0-2.2 0-2.2 0-2.2 0-2.2 0-2.2 0-2.3 0-2.2 0-2.2 0-2.2 0-2.2 0-2.2 0-2.2 0-2.3 0-2.2 0-2.2 0-2.2 0-2.2 0-2.2 0-2.3 0-2.2 0-2.2 0-2.2 0-2.2 0-2.2 0-2.2 0-2.3 0-2.2 0-2.2 0-2.2-2.2 0-2.2 0-2.2 0-2.3 0-2.2 0-2.2 0-2.2 0-2.2 0-2.2 0-2.3 0-2.2 0-2.2 0-2.2 0-2.2 0-2.2 0-2.3 0-2.2 0-2.2 0-2.2 0-2.2 0-2.2 0-2.3 0-2.2 0-2.2 0-2.2 0-2.2 0-2.2 0-2.3 0-2.2 0-2.2 0-2.2 0-2.2 0-2.2 0-2.2 0-2.3 0-2.2 0-2.2 0-2.2 0-2.2 0-2.2 0-2.3 0-2.2 0-2.2 0-2.2 0-2.2 0-2.2 0-2.3 0-2.2 0-2.2 0-2.2 0-2.2 0-2.2 0-2.3 0-2.2 0-2.2 0-2.2 0-2.2 0-2.2 0-2.3 0-2.2 0-2.2 0-2.2 0-2.2 0-2.2 0-2.2 0-2.3 0-2.2 0-2.2 0-2.2 0-2.2 0-2.2 0-2.3 0-2.2 0-2.2 0-2.2 0-2.2 0-2.2 0-2.3 0-2.2 0-2.2 0-2.2 0-2.2 0-2.2 0-2.3 0-2.2 0-2.2 0-2.2 0-2.2 0-2.2 0-2.3 0-2.2 0-2.2 0-2.2 0-2.2 0-2.2 0-2.2 0-2.3 0-2.2 0-2.2 0-2.2 0-2.2 0-2.2 0-2.3 0-2.2 0-2.2 0-2.2 0-2.2 0-2.2 0-2.3 0-2.2 0-2.2 0-2.2 0-2.2 0-2.2 0-2.3 0-2.2 0-2.2 0-2.2 0-2.2 0-2.2 0-2.2 0-2.3 0-2.2 0-2.2 0-2.2 0-2.2 0-2.2 0-2.3 0-2.2 0-2.2 0-2.2 0-2.2 0-2.2 0-2.3 0-2.2 0-2.2 0-2.2 0-2.2 0-2.2 0-2.3 0-2.2 0-2.2 0-2.2 0-2.2 0-2.2 0-2.3 0-2.2 0-2.2 0-2.2 0-2.2 0-2.2 0-2.2 0-2.3 0-2.2 0-2.2 0-2.2 0-2.2 0-2.2 0-2.3 0-2.2 0-2.2 0-2.2 0-2.2 0-2.2 0-2.3 0-2.2 0-2.2 0-2.2 0-2.2 0-2.2 0-2.3 0-2.2 0-2.2 0-2.2 0-2.2 0-2.2 0-2.3 0-2.2 0-2.2 0-2.2 0 0 2.2 0 2.2 0 2.2 0 2.3 0 2.2 0 2.2 0 2.2 0 2.2 0 2.2 0 2.2 0 2.3 0 2.2 0 2.2 0 2.2 0 2.2 0 2.2 0 2.3 0 2.2 0 2.2 0 2.2 0 2.2 0 2.2 0 2.2 0 2.3 0 2.2 0 2.2 0 2.2 0 2.2 0 2.2 0 2.2 0 2.3 0 2.2 0 2.2 0 2.2 0 2.2 0 2.2 0 2.3 0 2.2 0 2.2 0 2.2 0 2.2 0 2.2 0 2.2 0 2.3 0 2.2 0 2.2 0 2.2 0 2.2 0 2.2 0 2.2 0 2.3 0 2.2 0 2.2 0 2.2 0 2.2 0 2.2 0 2.3 0 2.2 0 2.2 0 2.2 0 2.2 0 2.2 0 2.2 0 2.3 0 2.2 0 2.2 0 2.2 0 2.2 0 2.2 0 2.2 0 2.3 0 2.2 0 2.2 0 2.2 0 2.2 0 2.2 0 2.3 0 2.2 0 2.2 0 2.2 0 2.2 0 2.2 0 2.2 0 2.3 0 2.2 0 2.2 0 2.2 0 2.2 0 2.2 0 2.2 0 2.3 0 2.2 0 2.2 0 2.2 0 2.2 0 2.2 0 2.3 0 2.2 0 2.2 0 2.2 0 2.2 0 2.2 0 2.2 0 2.3 0 2.2 0 2.2 0 2.2 0 2.2 0 2.2 0 2.2 0 2.3 0 2.2 0 2.2 0 2.2 0 2.2 0 2.2 0 2.3 0 2.2 0 2.2 0 2.2 0 2.2 0 2.2 0 2.2 0 2.3 0 2.2 0 2.2 0 2.2 0 2.2 0 2.2 0 2.3 0 2.2 0 2.2 0 2.2 0 2.2 0 2.2 0 2.2 0 2.3 0 2.2 0 2.2 0 2.2 0 2.2 0 2.2 0 2.2 0 2.3 0 2.2 0 2.2 0 2.2 0 2.2 0 2.2 0 2.2 0 2.3 0 2.2 0 2.2 0 2.2 0 2.2 0 2.2 0 2.3 0 2.2 0 2.2 0 2.2 0 2.2 0 2.2 0 2.2 0 2.3 0 2.2 0 2.2 0 2.2 0 2.2 0 2.2 0 2.3 0 2.2 0 2.2 0 2.2 0 2.2 0 2.2 0 2.2 0 2.3 0 2.2 0 2.2zM228.2 431.6l-1.6-0.2-0.6-0.1-2.2-0.5-2.2-0.5-2.2-0.6-2.2-0.6-2.3-0.5-2.2-0.5-2.2-0.4-2.2-0.3-2.2-0.3-2.2-0.1-2.3 0-2.2 0.1-2.2 0.1-2.2 0.1-2.2 0.1-2.2 0.1-2.3 0.1-2.2 0-2.2 0.1-2.2 0-2.2 0.1-2.2 0.1-2.3 0-2.2 0.1-2.2 0-2.2 0-2.2-0.2-2.2-0.4-1.8-0.5-0.5-0.1-2.2-0.9-2.2-1.1-0.1-0.1-2.1-1.4-1.1-0.8-1.1-0.9-1.6-1.3-0.6-0.6-1.7-1.6-0.5-0.6-1.6-1.7-0.7-0.7-1.2-1.5-1-1.1-0.8-1.1-1.4-1.9-0.2-0.3-1.4-2.2-0.6-0.9-0.8-1.3-1.2-2.2-0.2-0.5-0.9-1.8-0.9-2.2-0.4-0.9-0.5-1.3-0.7-2.2-0.7-2.2-0.4-1.3-0.2-0.9-0.5-2.2-0.4-2.3-0.4-2.2-0.3-2.2-0.2-2.2-0.2-1.7 0-0.5-0.2-2.2-0.1-2.2-0.1-2.3 0-2.2 0-2.2 0-2.2 0.1-2.2 0.1-2.2 0.1-2.3 0.1-1.4 0.1-0.8 0.2-2.2 0.3-2.2 0.3-2.2 0.4-2.2 0.4-2.2 0.5-2.2 0-0.1 0.7-2.2 0.7-2.2 0.7-2.2 0.2-0.3 0.8-1.9 1-2.2 0.4-0.7 0.9-1.6 1.3-2 0.1-0.2 1.7-2.2 0.4-0.5 1.5-1.7 0.7-0.7 1.7-1.5 0.5-0.5 2.3-1.7 2.2-1.4 1.5-0.8 0.7-0.4 2.2-1 2.2-0.7 0.9-0.2 1.3-0.2 2.2-0.3 2.3 0 2.2 0.2 2.2 0.3 2.2 0.5 2.2 0.6 2.2 0.6 1.9 0.6 0.4 0.1 2.2 0.5 2.2 0.5 2.2 0.4 2.2 0.3 2.2 0.2 2.3 0.1 2.2 0 2.2-0.1 2.2-0.1 2.2-0.1 2.2-0.1 2.3-0.1 2.2-0.1 2.2-0.1 2.2 0 2.2-0.1 2.2-0.1 2.3 0 2.2-0.1 2.2-0.1 2.2 0 2.2 0.1 2.2 0.3 2.2 0.4 1.4 0.4 0.9 0.2 2.2 0.9 2.1 1.1 0.1 0 2.2 1.3 1.2 0.9 1 0.7 2 1.5 0.2 0.2 2.3 2 2.2 2.1 0.1 0.1 2 2.3 0.1 0.1 1.7 2.1 0.5 0.7 1 1.5 1.2 1.7 0.3 0.5 1.3 2.2 0.6 1.3 0.5 0.9 1 2.3 0.8 1.9 0.1 0.3 0.7 2.2 0.7 2.2 0.6 2.2 0.1 0.5 0.3 1.7 0.5 2.2 0.3 2.3 0.3 2.2 0.3 2.2 0.3 2.2 0.2 2.2 0 0.4 0.1 1.8 0.1 2.3 0.1 2.2 0.1 2.2 0.1 2.2 0 2.2 0 2.2-0.1 2.2 0 2.3-0.2 2.2-0.1 2.2-0.1 1-0.1 1.2-0.3 2.2-0.3 2.2-0.5 2.2-0.4 2.3-0.6 2.2 0 0.1-0.7 2.1-0.8 2.2-0.7 1.8-0.2 0.4-1.2 2.2-0.9 1.7-0.3 0.5-1.5 2.3-0.4 0.4-1.5 1.8-0.7 0.8-1.4 1.4-0.8 0.8-1.8 1.4-0.4 0.4-2.2 1.5-0.5 0.3-1.8 1.1-2.2 1.1-2.2 1-2.2 0.7-2.2 0.5-0.3 0.1-1.9 0.2-2.3 0.1zM398.9 429.2l-0.4-0.1-1.8-0.2-2.3-1-1.4-1-0.8-0.5-1.9-1.7-0.3-0.2-1.8-2-0.4-0.4-1.5-1.8-0.7-0.9-1-1.3-1.2-1.7-0.4-0.6-1.5-2.2-0.4-0.5-1-1.7-1.2-2-0.1-0.2-1.2-2.2-0.9-1.6-0.3-0.6-1.2-2.2-0.7-1.5-0.4-0.8-1-2.2-0.8-1.9-0.1-0.3-0.9-2.2-0.8-2.2-0.4-1.3-0.3-0.9-0.6-2.2-0.5-2.3-0.4-2.2-0.2-2.2-0.2-2.2-0.1-1.7 0-0.5 0-0.7 0.1-1.5 0.1-2.2 0.3-2.3 0.3-2.2 0.4-2.2 0.5-2.2 0.6-2 0-0.2 0.7-2.2 0.8-2.3 0.7-1.9 0.1-0.3 0.9-2.2 0.8-2.2 0.4-0.8 0.6-1.4 0.9-2.2 0.7-1.6 0.3-0.6 1-2.3 0.9-2.1 0.1-0.1 1-2.2 1-2.2 0.1-0.3 1-1.9 1.1-2.2 0.2-0.3 1.1-2 1.1-1.9 0.1-0.3 1.5-2.2 0.6-0.9 1-1.3 1.2-1.6 0.7-0.6 1.5-1.5 1-0.7 1.2-0.8 2.3-0.8 2.2 0 2.2 0.8 1 0.8 1.2 0.8 1.3 1.4 0.9 0.9 1 1.3 1.2 1.7 0.4 0.5 1.3 2.2 0.6 0.9 0.7 1.3 1.2 2.3 0.3 0.5 0.8 1.7 1 2.2 0.4 0.8 0.6 1.4 1 2.2 0.6 1.5 0.3 0.7 0.9 2.3 0.8 2.2 0.2 0.5 0.6 1.7 0.8 2.2 0.8 2.2 0 0.1 0.7 2.1 0.7 2.2 0.6 2.3 0.2 0.9 0.3 1.3 0.5 2.2 0.4 2.2 0.3 2.2 0.3 2.2 0.1 2.3 0.1 2.2 0 2.2-0.2 2.2-0.2 2.2-0.3 2.2-0.4 2.2-0.4 2.3-0.5 1.8 0 0.4-0.7 2.2-0.6 2.2-0.8 2.2-0.1 0.3-0.6 1.9-0.9 2.2-0.7 2-0.1 0.3-0.9 2.2-0.9 2.2-0.3 0.6-0.7 1.6-1 2.2-0.5 1.1-0.6 1.1-1.1 2.2-0.5 1-0.8 1.3-1.3 2.2-0.1 0.2-1.5 2-0.8 1.1-1 1.1-1.2 1.3-1.1 0.9-1.1 0.9-2.2 1-1.9 0.3zM155.1 234.7l-1.2-0.5-1-0.4-2.2-1.2-1-0.6-1.2-0.8-2-1.4-0.3-0.2-2.2-1.8-0.2-0.2-2-1.8-0.4-0.4-1.8-1.9-0.4-0.4-1.8-2.1-0.1-0.1-1.7-2.2-0.4-0.6-1.1-1.6-1.2-1.9-0.1-0.3-1.2-2.2-0.9-1.8-0.2-0.4-0.9-2.3-0.8-2.2-0.3-0.8-0.5-1.4-0.6-2.2-0.7-2.2-0.4-1.8-0.1-0.4-0.5-2.3-0.5-2.2-0.4-2.2-0.3-2.2-0.3-2.2-0.1-0.8-0.2-1.4-0.2-2.2-0.1-2.3-0.1-2.2-0.1-2.2 0-2.2 0.1-2.2 0.1-2.2 0.2-2.2 0.3-2.3 0-0.1 0.3-2.1 0.4-2.2 0.4-2.2 0.5-2.2 0.6-2.1 0-0.1 0.7-2.3 0.8-2.2 0.7-1.9 0.1-0.3 1-2.2 1-2.2 0.1-0.3 1-1.9 1.2-2.2 0-0.1 1.3-2.2 1-1.5 0.4-0.7 1.4-2.2 0.4-0.5 1.2-1.7 1-1.5 0.6-0.7 1.6-2.1 0.1-0.1 1.9-2.2 0.2-0.3 2-2 0.2-0.2 2.3-1.8 0.2-0.2 2-1.3 1.7-0.9 0.5-0.2 2.2-0.9 2.2-0.6 2.2-0.4 0.9-0.1 1.3-0.2 2.3-0.1 2.2-0.1 2.2 0 2.2 0 2.2 0 2.2 0.1 2.3 0 2.2 0.1 2.2-0.1 2.2 0 2.2 0 2.2 0 2.3 0 2.2 0 2.2 0.1 2.2 0.2 0.3 0 1.9 0.2 2.2 0.2 2.3 0.2 2.2 0.2 2.2 0.1 2.2-0.1 2.2-0.2 2.2-0.3 1.1-0.3 1.2-0.3 2.2-0.7 2.2-0.9 0.9-0.3 1.3-0.5 2.2-0.8 2.2-0.7 0.9-0.2 1.3-0.4 2.3-0.3 2.2-0.1 2.2 0.2 2.2 0.6 2.2 0.8 2.2 1.1 0.4 0.3 1.9 1.2 1.3 1 0.9 0.7 1.7 1.5 0.5 0.5 1.8 1.7 0.4 0.5 1.6 1.7 0.6 0.7 1.3 1.6 0.9 1.2 0.8 1 1.5 2.1 0 0.1 1.3 2.2 0.9 1.5 0.3 0.7 1.1 2.2 0.8 1.7 0.2 0.5 0.9 2.3 0.8 2.2 0.3 0.8 0.5 1.4 0.7 2.2 0.6 2.2 0.4 1.7 0.1 0.5 0.6 2.2 0.4 2.3 0.4 2.2 0.4 2.2 0.3 2.2 0 0.2 0.3 2 0.2 2.2 0.1 2.3 0.1 2.2 0 2.2 0 2.2-0.1 2.2-0.1 2.2-0.2 2.2-0.3 2.2 0 0.1-0.3 2.2-0.4 2.2-0.5 2.2-0.5 2.2-0.5 1.8-0.1 0.4-0.7 2.2-0.7 2.3-0.7 1.7-0.2 0.5-0.9 2.2-1 2.2-0.1 0.2-1 2-1.2 2.2 0 0.1-1.3 2.2-0.9 1.6-0.4 0.6-1.4 2.2-0.5 0.7-1 1.5-1.2 1.7-0.4 0.5-1.7 2.2-0.1 0.2-1.8 2-0.4 0.5-1.8 1.8-0.4 0.4-2.2 1.8-2.3 1.5-1.4 0.7-0.8 0.4-2.2 0.8-2.2 0.5-2.2 0.4-0.9 0.1-1.3 0.2-2.3 0.1-2.2 0.1-2.2 0-2.2 0-2.2 0-2.2-0.1-2.2-0.1-2.3 0-2.2 0-2.2 0-2.2 0-2.2 0-2.2 0-2.3 0-2.2-0.1-2.2-0.1-0.6 0-1.6-0.1-2.2-0.1-2.2-0.2-2.3-0.1-2.2-0.1-2.2 0-2.2 0.2-2.2 0.3-0.5 0.1-1.7 0.4-2.3 0.5-2.2 0.7-2.1 0.6-0.1 0-2.2 0.6-2.2 0.5-2.2 0.4-2.3 0.1-2.2-0.1-2.2-0.4zM392.2 230.3l-0.9-0.5-1.3-0.7-2-1.5-0.2-0.1-2.2-2.1-0.1 0-2-2.3-0.1-0.1-1.8-2.1-0.5-0.5-1.3-1.7-0.9-1.2-0.7-1-1.5-1.9-0.2-0.3-1.6-2.2-0.4-0.6-1.2-1.6-1-1.6-0.5-0.7-1.5-2.2-0.2-0.3-1.3-1.9-1-1.6-0.4-0.6-1.3-2.2-0.5-0.9-0.7-1.3-1.2-2.3-0.3-0.5-0.8-1.7-1-2.2-0.4-1.1-0.5-1.1-0.7-2.2-0.7-2.2-0.3-1.1-0.3-1.1-0.4-2.3-0.4-2.2-0.1-2.2-0.1-2.2 0.1-2.2 0.1-2.2 0.4-2.2 0.4-2.3 0.3-1.3 0.2-0.9 0.7-2.2 0.7-2.2 0.6-1.6 0.2-0.6 1-2.2 1-2.3 1.1-2.2 1.1-2.1 0-0.1 1.3-2.2 0.9-1.6 0.4-0.6 1.4-2.2 0.5-0.7 1-1.5 1.2-1.8 0.3-0.5 1.6-2.2 0.3-0.3 1.4-1.9 0.8-1.1 0.9-1.1 1.3-1.7 0.5-0.5 1.7-2.1 0.2-0.1 1.9-2.2 0.2-0.2 2-2.1 0.2-0.1 2.2-2 0.1-0.1 2.1-1.5 1.2-0.7 1-0.6 2.2-0.8 2.3-0.4 2.2 0.1 2.2 0.5 2.2 1 0.4 0.2 1.8 1.2 1.2 1 1 0.9 1.3 1.3 1 1 0.9 1.3 1.3 1.5 0.4 0.7 1.6 2.2 0.2 0.3 1.2 1.9 1 1.6 0.4 0.6 1.3 2.2 0.5 0.8 0.9 1.4 1.3 2.3 1.3 2.2 0.9 1.5 0.4 0.7 1.3 2.2 0.6 0.9 0.7 1.3 1.3 2.2 0.2 0.4 1 1.8 1.1 2.3 0.1 0.1 1 2.1 1 2.2 0.2 0.5 0.7 1.7 0.8 2.2 0.7 2.2 0 0.2 0.5 2.1 0.5 2.2 0.3 2.2 0.2 2.2 0.1 2.2-0.1 2.2-0.1 2.2-0.3 2.3-0.4 2.2-0.6 2.2-0.1 0.3-0.5 1.9-0.8 2.2-0.9 2.2 0 0.1-1 2.1-1 2.3-0.2 0.3-1 1.9-1.2 2.1-0.1 0.1-1.3 2.2-0.8 1.3-0.6 0.9-1.4 2.2-0.3 0.3-1.2 2-1 1.3-0.5 0.9-1.6 2.2-0.1 0.1-1.5 2.1-0.7 1-1 1.2-1.2 1.6-0.5 0.6-1.7 2-0.3 0.2-1.9 2.1-0.2 0.2-2.1 1.8-0.5 0.4-1.7 1.2-1.6 1-0.6 0.3-2.2 0.9-2.2 0.4-2.2 0.1-2.3-0.4z"/>
<path fill="#002dff" d="M86.4 482.3l2.2 0 2.2 0 2.2 0 2.3 0 2.2 0 2.2 0 2.2 0 2.2 0 2.2 0 2.3 0 2.2 0 2.2 0 2.2 0 2.2 0 2.2 0 2.3 0 2.2 0 2.2 0 2.2 0 2.2 0 2.2 0 2.3 0 2.2 0 2.2 0 2.2 0 2.2 0 2.2 0 2.3 0 2.2 0 2.2 0 2.2 0 2.2 0 2.2 0 2.2 0 2.3 0 2.2 0 2.2 0 2.2 0 2.2 0 2.2 0 2.3 0 2.2 0 2.2 0 2.2 0 2.2 0 2.2 0 2.3 0 2.2 0 2.2 0 2.2 0 2.2 0 2.2 0 2.3 0 2.2 0 2.2 0 2.2 0 2.2 0 2.2 0 2.3 0 2.2 0 2.2 0 2.2 0 2.2 0 2.2 0 2.2 0 2.3 0 2.2 0 2.2 0 2.2 0 2.2 0 2.2 0 2.3 0 2.2 0 2.2 0 2.2 0 2.2 0 2.2 0 2.3 0 2.2 0 2.2 0 2.2 0 2.2 0 2.2 0 2.3 0 2.2 0 2.2 0 2.2 0 2.2 0 2.2 0 2.2 0 2.3 0 2.2 0 2.2 0 2.2 0 2.2 0 2.2 0 2.3 0 2.2 0 2.2 0 2.2 0 2.2 0 2.2 0 2.3 0 2.2 0 2.2 0 2.2 0 2.2 0 2.2 0 2.3 0 2.2 0 2.2 0 2.2 0 2.2 0 2.2 0 2.3 0 2.2 0 2.2 0 2.2 0 2.2 0 2.2 0 2.2 0 2.3 0 2.2 0 2.2 0 2.2 0 2.2 0 2.2 0 2.3 0 2.2 0 2.2 0 2.2 0 2.2 0 2.2 0 2.3 0 2.2 0 2.2 0 2.2 0 2.2 0 2.2 0 2.3 0 2.2 0 2.2 0 2.2 0 2.2 0 2.2 0 2.3 0 2.2 0 2.2 0 2.2 0 2.2 0 2.2 0 2.2 0 2.3 0 2.2 0 2.2 0 2.2 0 2.2 0 2.2 0 2.3 0 2.2 0 2.2 0 2.2 0 2.2 0 2.2 0 2.3 0 2.2 0 2.2 0 2.2 0 2.2 0 2.2 0 2.3 0 2.2 0 2.2 0 2.2 0 2.2 0 2.2 0 2.3 0 2.2 0 2.2 0 2.2 0 0-2.2 0-2.2 0-2.2 0-2.3 0-2.2 0-2.2 0-2.2 0-2.2 0-2.2 0-2.2 0-2.3 0-2.2 0-2.2 0-2.2 0-2.2 0-2.2 0-2.3 0-2.2 0-2.2 0-2.2 0-2.2 0-2.2 0-2.2 0-2.3 0-2.2 0-2.2 0-2.2 0-2.2 0-2.2 0-2.3 0-2.2 0-2.2 0-2.2 0-2.2 0-2.2 0-2.2 0-2.3 0-2.2 0-2.2 0-2.2 0-2.2 0-2.2 0-2.2 0-2.3 0-2.2 0-2.2 0-2.2 0-2.2 0-2.2 0-2.2 0-2.3 0-2.2 0-2.2 0-2.2 0-2.2 0-2.2 0-2.3 0-2.2 0-2.2 0-2.2 0-2.2 0-2.2 0-2.2 0-2.3 0-2.2 0-2.2 0-2.2 0-2.2 0-2.2 0-2.3 0-2.2 0-2.2 0-2.2 0-2.2 0-2.2 0-2.2 0-2.3 0-2.2 0-2.2 0-2.2 0-2.2 0-2.2 0-2.2 0-2.3 0-2.2 0-2.2 0-2.2 0-2.2 0-2.2 0-2.3 0-2.2 0-2.2 0-2.2 0-2.2 0-2.2 0-2.2 0-2.3 0-2.2 0-2.2 0-2.2 0-2.2 0-2.2 0-2.2 0-2.3 0-2.2 0-2.2 0-2.2 0-2.2 0-2.2 0-2.3 0-2.2 0-2.2 0-2.2 0-2.2 0-2.2 0-2.2 0-2.3 0-2.2 0-2.2 0-2.2 0-2.2 0-2.2 0-2.2 0-2.3 0-2.2 0-2.2 0-2.2 0-2.2 0-2.2 0-2.3 0-2.2 0-2.2 0-2.2 0-2.2 0-2.2 0-2.2 0-2.3 0-2.2 0-2.2 0-2.2 0-2.2 0-2.2 0-2.2 0-2.3 0-2.2 0-2.2 0-2.2 0-2.2 0-2.2 0-2.3 0-2.2 0-2.2 0-2.2 0-2.2 0-2.2 0-2.2 0-2.3 0-2.2 0-2.2 0-2.2 0-2.2 0-2.2 0-2.2 0-2.3 0-2.2 0-2.2 0-2.2 0-2.2 0-2.2 0-2.3 0-2.2 0-2.2 0-2.2 0-2.2 0-2.2 0-2.2 0-2.3 0-2.2 0-2.2 0-2.2-2.2 0-2.2 0-2.2 0-2.3 0-2.2 0-2.2 0-2.2 0-2.2 0-2.2 0-2.3 0-2.2 0-2.2 0-2.2 0-2.2 0-2.2 0-2.3 0-2.2 0-2.2 0-2.2 0-2.2 0-2.2 0-2.3 0-2.2 0-2.2 0-2.2 0-2.2 0-2.2 0-2.3 0-2.2 0-2.2 0-2.2 0-2.2 0-2.2 0-2.2 0-2.3 0-2.2 0-2.2 0-2.2 0-2.2 0-2.2 0-2.3 0-2.2 0-2.2 0-2.2 0-2.2 0-2.2 0-2.3 0-2.2 0-2.2 0-2.2 0-2.2 0-2.2 0-2.3 0-2.2 0-2.2 0-2.2 0-2.2 0-2.2 0-2.3 0-2.2 0-2.2 0-2.2 0-2.2 0-2.2 0-2.2 0-2.3 0-2.2 0-2.2 0-2.2 0-2.2 0-2.2 0-2.3 0-2.2 0-2.2 0-2.2 0-2.2 0-2.2 0-2.3 0-2.2 0-2.2 0-2.2 0-2.2 0-2.2 0-2.3 0-2.2 0-2.2 0-2.2 0-2.2 0-2.2 0-2.3 0-2.2 0-2.2 0-2.2 0-2.2 0-2.2 0-2.2 0-2.3 0-2.2 0-2.2 0-2.2 0-2.2 0-2.2 0-2.3 0-2.2 0-2.2 0-2.2 0-2.2 0-2.2 0-2.3 0-2.2 0-2.2 0-2.2 0-2.2 0-2.2 0-2.3 0-2.2 0-2.2 0-2.2 0-2.2 0-2.2 0-2.2 0-2.3 0-2.2 0-2.2 0-2.2 0-2.2 0-2.2 0-2.3 0-2.2 0-2.2 0-2.2 0-2.2 0-2.2 0-2.3 0-2.2 0-2.2 0-2.2 0-2.2 0-2.2 0-2.3 0-2.2 0-2.2 0-2.2 0-2.2 0-2.2 0-2.3 0-2.2 0-2.2 0-2.2 0-2.2 0-2.2 0-2.2 0-2.3 0-2.2 0-2.2 0-2.2 0-2.2 0-2.2 0-2.3 0-2.2 0-2.2 0-2.2 0-2.2 0-2.2 0-2.3 0-2.2 0-2.2 0-2.2 0-2.2 0-2.2 0-2.3 0-2.2 0-2.2 0-2.2 0-2.2 0-2.2 0-2.3 0-2.2 0-2.2 0-2.2 0 0 2.2 0 2.2 0 2.2 0 2.3 0 2.2 0 2.2 0 2.2 0 2.2 0 2.2 0 2.2 0 2.3 0 2.2 0 2.2 0 2.2 0 2.2 0 2.2 0 2.3 0 2.2 0 2.2 0 2.2 0 2.2 0 2.2 0 2.2 0 2.3 0 2.2 0 2.2 0 2.2 0 2.2 0 2.2 0 2.2 0 2.3 0 2.2 0 2.2 0 2.2 0 2.2 0 2.2 0 2.3 0 2.2 0 2.2 0 2.2 0 2.2 0 2.2 0 2.2 0 2.3 0 2.2 0 2.2 0 2.2 0 2.2 0 2.2 0 2.2 0 2.3 0 2.2 0 2.2 0 2.2 0 2.2 0 2.2 0 2.3 0 2.2 0 2.2 0 2.2 0 2.2 0 2.2 0 2.2 0 2.3 0 2.2 0 2.2 0 2.2 0 2.2 0 2.2 0 2.2 0 2.3 0 2.2 0 2.2 0 2.2 0 2.2 0 2.2 0 2.3 0 2.2 0 2.2 0 2.2 0 2.2 0 2.2 0 2.2 0 2.3 0 2.2 0 2.2 0 2.2 0 2.2 0 2.2 0 2.2 0 2.3 0 2.2 0 2.2 0 2.2 0 2.2 0 2.2 0 2.3 0 2.2 0 2.2 0 2.2 0 2.2 0 2.2 0 2.2 0 2.3 0 2.2 0 2.2 0 2.2 0 2.2 0 2.2 0 2.2 0 2.3 0 2.2 0 2.2 0 2.2 0 2.2 0 2.2 0 2.3 0 2.2 0 2.2 0 2.2 0 2.2 0 2.2 0 2.2 0 2.3 0 2.2 0 2.2 0 2.2 0 2.2 0 2.2 0 2.3 0 2.2 0 2.2 0 2.2 0 2.2 0 2.2 0 2.2 0 2.3 0 2.2 0 2.2 0 2.2 0 2.2 0 2.2 0 2.2 0 2.3 0 2.2 0 2.2 0 2.2 0 2.2 0 2.2 0 2.2 0 2.3 0 2.2 0 2.2 0 2.2 0 2.2 0 2.2 0 2.3 0 2.2 0 2.2 0 2.2 0 2.2 0 2.2 0 2.2 0 2.3 0 2.2 0 2.2 0 2.2 0 2.2 0 2.2 0 2.3 0 2.2 0 2.2 0 2.2 0 2.2 0 2.2 0 2.2 0 2.3 0 2.2 0 2.2zM221.6 436.1l-1.3-0.3-0.9-0.2-2.2-0.6-2.3-0.5-2.2-0.4-2.2-0.3-2-0.2-0.2-0.1-2.2-0.1-2.2 0-2.3 0.1-1.4 0.1-0.8 0-2.2 0.1-2.2 0.1-2.2 0.1-2.2 0-2.3 0-2.2-0.1-2.2 0-2.2 0-2.2 0.1-2.2 0.1-2.3 0.1-2.2 0.1-2.2 0.1-2.2 0-2.2-0.2-2.2-0.5-0.2 0-2.1-0.7-2.2-1-0.8-0.5-1.4-0.9-1.8-1.4-0.4-0.3-2.2-1.9-2.2-2.2-2.1-2.2-0.1-0.1-1.8-2.1-0.5-0.5-1.4-1.7-0.8-1-0.9-1.3-1.3-1.7-0.3-0.5-1.5-2.2-0.4-0.6-0.9-1.6-1.3-2.2-1.2-2.2-1-2.2-0.1 0-0.9-2.3-0.8-2.2-0.5-1.2-0.3-1-0.6-2.2-0.6-2.2-0.5-2.2-0.2-0.9-0.2-1.3-0.4-2.3-0.3-2.2-0.3-2.2-0.2-2.2-0.2-2.2-0.1-2.2-0.1-2.2-0.1-2.3 0-2.2 0-2.2 0-2.2 0.1-2.2 0-2.2 0.1-2.3 0.2-2.2 0.2-2.2 0.2-2.2 0.3-2.2 0.3-2.2 0.3-2.2 0.2-1 0.3-1.3 0.5-2.2 0.6-2.2 0.6-2.2 0.2-0.7 0.6-1.5 0.9-2.2 0.8-1.9 0.1-0.4 1.2-2.2 0.9-1.6 0.3-0.6 1.5-2.2 0.4-0.6 1.2-1.6 1-1.2 0.9-1 1.3-1.4 0.9-0.8 1.3-1.2 1.3-1.1 1-0.7 2.1-1.5 0.1 0 2.2-1.3 2-0.9 0.2-0.1 2.2-0.8 2.2-0.5 2.2-0.4 2.3 0 2.2 0.1 2.2 0.3 2.2 0.5 2.2 0.5 1.4 0.4 0.8 0.2 2.3 0.6 2.2 0.6 2.2 0.4 2.2 0.3 1.3 0.1 0.9 0.1 2.2 0.1 2.3 0 2.2-0.1 1.1-0.1 1.1 0 2.2-0.1 2.2-0.1 2.2-0.1 2.3 0 2.2 0 2.2 0.1 2.2 0 2.2 0 2.2-0.1 2.3-0.1 2.2-0.1 2.2-0.2 2.2 0 2.2 0 2.2 0.3 2 0.4 0.2 0.1 2.3 0.8 2.2 1.1 0.4 0.2 1.8 1.1 1.5 1.2 0.7 0.5 2.1 1.7 0.1 0.1 2.2 1.9 0.2 0.2 2.1 2 0.2 0.2 2 2.1 0.1 0.1 2 2.2 0.1 0.2 1.6 2 0.6 0.7 1.1 1.6 1.1 1.6 0.4 0.6 1.4 2.2 0.4 0.8 0.8 1.4 1.1 2.2 0.4 0.8 0.6 1.4 0.8 2.3 0.8 2.1 0 0.1 0.6 2.2 0.6 2.2 0.5 2.2 0.4 2.2 0.1 0.4 0.3 1.8 0.3 2.3 0.3 2.2 0.2 2.2 0.2 2.2 0.2 2.2 0.1 2.2 0.1 2.3 0.1 2.2 0.1 2.2 0.1 2.2 0 2.2 0 2.2 0 2.2-0.1 2.3-0.1 2.2-0.1 2.2-0.2 2.2-0.2 2.2-0.3 2.2-0.3 2.2-0.4 2.3-0.3 1.5-0.2 0.7-0.6 2.2-0.7 2.2-0.7 2.2-1 2.2-1 2.2-0.2 0.5-1 1.8-1.3 2-0.1 0.2-1.6 2.2-0.5 0.6-1.4 1.6-0.8 0.9-1.4 1.3-0.8 0.8-1.7 1.4-0.5 0.5-2.2 1.7-0.2 0.1-2.1 1.4-1.4 0.8-0.8 0.5-2.2 1.1-1.6 0.6-0.6 0.3-2.2 0.6-2.2 0.4-2.3 0.2-2.2 0-2.2-0.3-2.2-0.4zM398.9 433.8l-1.5-0.2-0.7-0.1-2.3-0.9-1.8-1.2-0.4-0.3-2.2-1.9 0-0.1-2.2-2.2-1.9-2.2-0.3-0.4-1.5-1.8-0.7-1-0.9-1.2-1.4-1.9-0.2-0.3-1.4-2.3-0.6-0.8-0.8-1.4-1.4-2.2-1.3-2.2-0.9-1.7-0.3-0.5-1.2-2.2-0.7-1.4-0.4-0.8-1.1-2.3-0.7-1.5-0.4-0.7-0.9-2.2-0.8-2.2-0.2-0.3-0.6-1.9-0.6-2.2-0.5-2.2-0.4-2.3-0.1-0.3-0.2-1.9-0.2-2.2-0.1-2.2 0-2.2 0.1-2.2 0.1-2.2 0.3-2.3 0-0.5 0.3-1.7 0.4-2.2 0.5-2.2 0.6-2.2 0.4-1.6 0.2-0.6 0.8-2.3 0.8-2.2 0.5-1.2 0.3-1 1-2.2 0.9-2.1 0-0.1 1-2.2 1-2.2 0.2-0.5 0.8-1.8 1-2.2 0.4-0.8 0.7-1.4 1-2.2 0.5-1.1 0.6-1.1 1.1-2.2 0.5-1.2 0.6-1.1 1.2-2.2 0.5-0.9 0.7-1.3 1.3-2.2 0.2-0.2 1.3-2 0.9-1.2 0.8-1 1.4-1.7 0.5-0.5 1.7-1.7 0.9-0.6 1.3-0.9 2.3-0.7 2.2-0.1 2.2 0.8 1.3 0.9 0.9 0.6 1.6 1.7 0.6 0.6 1.2 1.6 1 1.3 0.6 0.9 1.4 2.2 0.3 0.3 1 1.9 1.2 2 0.1 0.2 1.1 2.2 1 2 0.1 0.3 1 2.2 1.1 2.2 0.9 2.2 1 2.2 0.3 0.8 0.6 1.4 0.9 2.3 0.7 1.8 0.2 0.4 0.8 2.2 0.8 2.2 0.4 1.2 0.4 1 0.7 2.2 0.7 2.2 0.5 1.7 0.1 0.6 0.6 2.2 0.4 2.2 0.4 2.2 0.4 2.2 0.2 2.2 0.1 1.2 0 1.1 0.1 2.2 0 2.2-0.1 1.9 0 0.3-0.2 2.2-0.3 2.2-0.4 2.2-0.5 2.3-0.5 2.2-0.3 1.3-0.3 0.9-0.6 2.2-0.8 2.2-0.6 1.7-0.1 0.5-0.9 2.2-0.8 2.3-0.4 0.8-0.5 1.4-1 2.2-0.7 1.7-0.2 0.5-1 2.2-1 2.1-0.1 0.1-1.1 2.2-1 2.2-0.1 0.1-1.2 2.2-0.9 1.6-0.4 0.6-1.4 2.2-0.4 0.7-1.2 1.5-1.1 1.4-0.8 0.8-1.4 1.5-1 0.8-1.2 0.9-2.2 1.1-1.2 0.2zM155.1 239.2l-1.2-0.6-1-0.4-2.2-1.2-0.9-0.6-1.3-0.9-1.7-1.3-0.6-0.4-2.1-1.8-0.1-0.1-2.2-2.1-0.1 0-2.1-2.2-2-2.2-0.2-0.3-1.6-2-0.6-0.8-1-1.4-1.3-1.8-0.2-0.4-1.2-2.2-0.8-1.4-0.4-0.8-1-2.2-0.8-2-0.1-0.2-0.8-2.3-0.8-2.2-0.5-1.8-0.1-0.4-0.7-2.2-0.5-2.2-0.5-2.2-0.4-1.9-0.1-0.4-0.4-2.2-0.4-2.2-0.3-2.2-0.3-2.2-0.3-2.2-0.2-2.2-0.1-2.3-0.1-2.2 0-1.6-0.1-0.6 0.1-2 0-0.2 0-2.2 0.2-2.2 0.1-2.2 0.3-2.3 0.3-2.2 0.3-2.2 0.5-2.2 0.5-2.2 0-0.1 0.5-2.1 0.7-2.3 0.7-2.2 0.3-0.9 0.4-1.3 0.9-2.2 0.9-2.1 0-0.1 1.1-2.2 1.1-2.2 0-0.1 1.2-2.2 1-1.9 0.2-0.3 1.3-2.2 0.8-1.2 0.6-1 1.4-2.2 0.2-0.3 1.3-1.9 0.9-1.3 0.7-0.9 1.5-2 0.2-0.3 1.9-2.2 0.1-0.1 2-2.1 0.2-0.2 2.3-1.9 0.2-0.1 2-1.3 1.7-0.9 0.5-0.3 2.2-0.8 2.2-0.6 2.2-0.4 0.8-0.1 1.4-0.2 2.3-0.3 2.2-0.1 2.2-0.2 2.2-0.1 2.2-0.1 2.2-0.1 2.3 0 2.2-0.1 2.2 0 2.2 0 2.2 0 2.2 0.1 2.3 0 2.2 0.2 2.2 0.1 2.2 0.2 2.2 0.2 2.2 0.2 1.5 0.2 0.8 0 2.2 0.2 2.2 0 2.2-0.1 1.6-0.1 0.6-0.1 2.2-0.4 2.3-0.6 2.2-0.7 1.4-0.5 0.8-0.2 2.2-0.8 2.2-0.7 1.5-0.5 0.7-0.2 2.2-0.4 2.3-0.3 2.2 0 2.2 0.2 2.2 0.5 0.5 0.2 1.7 0.7 2.2 1.2 0.6 0.3 1.7 1.2 1.3 1.1 0.9 0.7 1.6 1.5 0.6 0.5 1.6 1.7 0.6 0.6 1.5 1.6 0.7 0.9 1.1 1.3 1.1 1.4 0.7 0.8 1.5 2.3 0.1 0 1.3 2.2 0.9 1.3 0.4 0.9 1.2 2.2 0.6 1.2 0.5 1 0.9 2.2 0.8 2 0.1 0.2 0.8 2.3 0.7 2.2 0.6 1.9 0.1 0.3 0.6 2.2 0.6 2.2 0.5 2.2 0.4 1.8 0.1 0.4 0.5 2.3 0.4 2.2 0.3 2.2 0.3 2.2 0.2 2.2 0.2 2.2 0.2 2.3 0.1 1.8 0 0.4 0 2.2 0 2.2 0 0.6-0.1 1.6-0.1 2.2-0.2 2.2-0.3 2.3-0.3 2.2-0.4 2.2-0.4 2.2-0.5 2 0 0.2-0.6 2.2-0.6 2.2-0.7 2.3-0.3 0.7-0.5 1.5-0.8 2.2-0.9 2.1-0.1 0.1-1 2.2-1 2.2-0.1 0.2-1.1 2.1-1.1 2-0.1 0.2-1.3 2.2-0.8 1.4-0.6 0.8-1.4 2.2-0.3 0.5-1.2 1.7-1 1.5-0.5 0.7-1.7 2.3-1.8 2.2-0.4 0.4-1.8 1.8-0.4 0.5-2.2 1.7 0 0.1-2.3 1.4-1.5 0.7-0.7 0.4-2.2 0.8-2.2 0.5-2.2 0.4-0.8 0.1-1.4 0.2-2.3 0.3-2.2 0.2-2.2 0.1-2.2 0.1-2.2 0.1-2.2 0-2.2 0.1-2.3 0-2.2-0.1-2.2 0-2.2-0.1-2.2 0-2.2-0.1-2.3 0-2.2-0.1-2.2-0.1-2.2-0.1-2.2-0.1-2.2-0.1-2.3-0.1-2.2 0-2.2 0.1-2.2 0.1-2.2 0.3-2.2 0.5-2.3 0.5-2.2 0.5-0.1 0-2.1 0.6-2.2 0.5-2.2 0.4-2.2 0.2-2.3 0.1-2.2-0.2-2.2-0.4zM394.4 235l-2.1-0.8-0.1 0-2.2-1.2-1.4-1-0.8-0.6-1.9-1.6-0.3-0.3-1.8-1.9-0.4-0.4-1.6-1.8-0.7-0.9-1.1-1.4-1.1-1.4-0.6-0.8-1.6-2.1 0-0.1-1.7-2.2-0.5-0.7-1.1-1.5-1.1-1.6-0.5-0.6-1.5-2.2-0.2-0.4-1.3-1.9-1-1.3-0.5-0.9-1.4-2.2-0.3-0.4-1.1-1.8-1.1-1.8-0.2-0.4-1.2-2.2-0.8-1.5-0.4-0.8-1-2.2-0.8-1.7-0.2-0.5-0.9-2.2-0.8-2.2-0.3-1.1-0.4-1.1-0.5-2.2-0.4-2.3-0.3-2.2-0.2-2.2-0.1-2.2 0.1-2.2 0.2-2.2 0.3-2.2 0.4-2.3 0.6-2.2 0.3-1 0.3-1.2 0.8-2.2 0.8-2.2 0.3-0.8 0.6-1.4 1-2.3 0.6-1.2 0.5-1 1.1-2.2 0.6-1.1 0.6-1.1 1.3-2.2 0.3-0.5 1.1-1.7 1.1-1.9 0.3-0.3 1.5-2.3 0.5-0.6 1-1.6 1.2-1.6 0.4-0.6 1.7-2.2 0.1-0.2 1.6-2 0.6-0.8 1.1-1.4 1.1-1.4 0.8-0.8 1.4-1.8 0.5-0.5 1.8-1.9 0.2-0.3 2-2 0.2-0.2 2-1.7 0.6-0.5 1.6-1.1 1.9-1.1 0.3-0.2 2.2-0.8 2.3-0.3 2.2 0.1 2.2 0.5 1.6 0.7 0.6 0.3 2.2 1.4 0.7 0.5 1.5 1.3 1 0.9 1.3 1.3 0.7 0.9 1.5 1.8 0.3 0.4 1.6 2.3 0.3 0.3 1.2 1.9 1 1.4 0.5 0.8 1.4 2.2 0.3 0.6 1 1.6 1.2 2 0.2 0.2 1.3 2.2 0.7 1.3 0.7 1 1.3 2.2 0.3 0.4 1.1 1.8 1.1 1.9 0.2 0.3 1.3 2.2 0.7 1.3 0.6 0.9 1.2 2.2 0.4 0.9 0.7 1.4 1.1 2.2 0.4 1 0.5 1.2 0.9 2.2 0.8 2.2 0 0.3 0.6 1.9 0.5 2.3 0.5 2.2 0.3 2.2 0.2 2.2 0 2.2 0 2.2-0.2 2.2-0.3 2.3-0.4 2.2-0.5 2.2-0.7 2.2-0.7 2.2-0.9 2.2-0.6 1.4-0.3 0.8-1.1 2.3-0.8 1.4-0.4 0.8-1.2 2.2-0.6 1-0.7 1.2-1.4 2.2-0.1 0.2-1.4 2-0.8 1.4-0.6 0.9-1.5 2.2-0.2 0.2-1.4 2-0.8 1.2-0.7 1-1.5 2.1-0.1 0.1-1.6 2.2-0.5 0.6-1.3 1.6-0.9 1.2-0.9 1.1-1.3 1.5-0.7 0.7-1.5 1.6-0.8 0.6-1.5 1.3-1.2 0.9-1 0.7-2.2 1.3-0.7 0.2-1.5 0.6-2.2 0.5-2.2 0z"/>
<path fill="#0055ff" d="M86.4 482.3l2.2 0 2.2 0 2.2 0 2.3 0 2.2 0 2.2 0 2.2 0 2.2 0 2.2 0 2.3 0 2.2 0 2.2 0 2.2 0 2.2 0 2.2 0 2.3 0 2.2 0 2.2 0 2.2 0 2.2 0 2.2 0 2.3 0 2.2 0 2.2 0 2.2 0 2.2 0 2.2 0 2.3 0 2.2 0 2.2 0 2.2 0 2.2 0 2.2 0 2.2 0 2.3 0 2.2 0 2.2 0 2.2 0 2.2 0 2.2 0 2.3 0 2.2 0 2.2 0 2.2 0 2.2 0 2.2 0 2.3 0 2.2 0 2.2 0 2.2 0 2.2 0 2.2 0 2.3 0 2.2 0 2.2 0 2.2 0 2.2 0 2.2 0 2.3 0 2.2 0 2.2 0 2.2 0 2.2 0 2.2 0 2.2 0 2.3 0 2.2 0 2.2 0 2.2 0 2.2 0 2.2 0 2.3 0 2.2 0 2.2 0 2.2 0 2.2 0 2.2 0 2.3 0 2.2 0 2.2 0 2.2 0 2.2 0 2.2 0 2.3 0 2.2 0 2.2 0 2.2 0 2.2 0 2.2 0 2.2 0 2.3 0 2.2 0 2.2 0 2.2 0 2.2 0 2.2 0 2.3 0 2.2 0 2.2 0 2.2 0 2.2 0 2.2 0 2.3 0 2.2 0 2.2 0 2.2 0 2.2 0 2.2 0 2.3 0 2.2 0 2.2 0 2.2 0 2.2 0 2.2 0 2.3 0 2.2 0 2.2 0 2.2 0 2.2 0 2.2 0 2.2 0 2.3 0 2.2 0 2.2 0 2.2 0 2.2 0 2.2 0 2.3 0 2.2 0 2.2 0 2.2 0 2.2 0 2.2 0 2.3 0 2.2 0 2.2 0 2.2 0 2.2 0 2.2 0 2.3 0 2.2 0 2.2 0 2.2 0 2.2 0 2.2 0 2.3 0 2.2 0 2.2 0 2.2 0 2.2 0 2.2 0 2.2 0 2.3 0 2.2 0 2.2 0 2.2 0 2.2 0 2.2 0 2.3 0 2.2 0 2.2 0 2.2 0 2.2 0 2.2 0 2.3 0 2.2 0 2.2 0 2.2 0 2.2 0 2.2 0 2.3 0 2.2 0 2.2 0 2.2 0 2.2 0 2.2 0 2.3 0 2.2 0 2.2 0 2.2 0 0-2.2 0-2.2 0-2.2 0-2.3 0-2.2 0-2.2 0-2.2 0-2.2 0-2.2 0-2.2 0-2.3 0-2.2 0-2.2 0-2.2 0-2.2 0-2.2 0-2.3 0-2.2 0-2.2 0-2.2 0-2.2 0-2.2 0-2.2 0-2.3 0-2.2 0-2.2 0-2.2 0-2.2 0-2.2 0-2.3 0-2.2 0-2.2 0-2.2 0-2.2 0-2.2 0-2.2 0-2.3 0-2.2 0-2.2 0-2.2 0-2.2 0-2.2 0-2.2 0-2.3 0-2.2 0-2.2 0-2.2 0-2.2 0-2.2 0-2.2 0-2.3 0-2.2 0-2.2 0-2.2 0-2.2 0-2.2 0-2.3 0-2.2 0-2.2 0-2.2 0-2.2 0-2.2 0-2.2 0-2.3 0-2.2 0-2.2 0-2.2 0-2.2 0-2.2 0-2.3 0-2.2 0-2.2 0-2.2 0-2.2 0-2.2 0-2.2 0-2.3 0-2.2 0-2.2 0-2.2 0-2.2 0-2.2 0-2.2 0-2.3 0-2.2 0-2.2 0-2.2 0-2.2 0-2.2 0-2.3 0-2.2 0-2.2 0-2.2 0-2.2 0-2.2 0-2.2 0-2.3 0-2.2 0-2.2 0-2.2 0-2.2 0-2.2 0-2.2 0-2.3 0-2.2 0-2.2 0-2.2 0-2.2 0-2.2 0-2.3 0-2.2 0-2.2 0-2.2 0-2.2 0-2.2 0-2.2 0-2.3 0-2.2 0-2.2 0-2.2 0-2.2 0-2.2 0-2.2 0-2.3 0-2.2 0-2.2 0-2.2 0-2.2 0-2.2 0-2.3 0-2.2 0-2.2 0-2.2 0-2.2 0-2.2 0-2.2 0-2.3 0-2.2 0-2.2 0-2.2 0-2.2 0-2.2 0-2.2 0-2.3 0-2.2 0-2.2 0-2.2 0-2.2 0-2.2 0-2.3 0-2.2 0-2.2 0-2.2 0-2.2 0-2.2 0-2.2 0-2.3 0-2.2 0-2.2 0-2.2 0-2.2 0-2.2 0-2.2 0-2.3 0-2.2 0-2.2 0-2.2 0-2.2 0-2.2 0-2.3 0-2.2 0-2.2 0-2.2 0-2.2 0-2.2 0-2.2 0-2.3 0-2.2 0-2.2 0-2.2-2.2 0-2.2 0-2.2 0-2.3 0-2.2 0-2.2 0-2.2 0-2.2 0-2.2 0-2.3 0-2.2 0-2.2 0-2.2 0-2.2 0-2.2 0-2.3 0-2.2 0-2.2 0-2.2 0-2.2 0-2.2 0-2.3 0-2.2 0-2.2 0-2.2 0-2.2 0-2.2 0-2.3 0-2.2 0-2.2 0-2.2 0-2.2 0-2.2 0-2.2 0-2.3 0-2.2 0-2.2 0-2.2 0-2.2 0-2.2 0-2.3 0-2.2 0-2.2 0-2.2 0-2.2 0-2.2 0-2.3 0-2.2 0-2.2 0-2.2 0-2.2 0-2.2 0-2.3 0-2.2 0-2.2 0-2.2 0-2.2 0-2.2 0-2.3 0-2.2 0-2.2 0-2.2 0-2.2 0-2.2 0-2.2 0-2.3 0-2.2 0-2.2 0-2.2 0-2.2 0-2.2 0-2.3 0-2.2 0-2.2 0-2.2 0-2.2 0-2.2 0-2.3 0-2.2 0-2.2 0-2.2 0-2.2 0-2.2 0-2.3 0-2.2 0-2.2 0-2.2 0-2.2 0-2.2 0-2.3 0-2.2 0-2.2 0-2.2 0-2.2 0-2.2 0-2.2 0-2.3 0-2.2 0-2.2 0-2.2 0-2.2 0-2.2 0-2.3 0-2.2 0-2.2 0-2.2 0-2.2 0-2.2 0-2.3 0-2.2 0-2.2 0-2.2 0-2.2 0-2.2 0-2.3 0-2.2 0-2.2 0-2.2 0-2.2 0-2.2 0-2.2 0-2.3 0-2.2 0-2.2 0-2.2 0-2.2 0-2.2 0-2.3 0-2.2 0-2.2 0-2.2 0-2.2 0-2.2 0-2.3 0-2.2 0-2.2 0-2.2 0-2.2 0-2.2 0-2.3 0-2.2 0-2.2 0-2.2 0-2.2 0-2.2 0-2.3 0-2.2 0-2.2 0-2.2 0-2.2 0-2.2 0-2.2 0-2.3 0-2.2 0-2.2 0-2.2 0-2.2 0-2.2 0-2.3 0-2.2 0-2.2 0-2.2 0-2.2 0-2.2 0-2.3 0-2.2 0-2.2 0-2.2 0-2.2 0-2.2 0-2.3 0-2.2 0-2.2 0-2.2 0-2.2 0-2.2 0-2.3 0-2.2 0-2.2 0-2.2 0 0 2.2 0 2.2 0 2.2 0 2.3 0 2.2 0 2.2 0 2.2 0 2.2 0 2.2 0 2.2 0 2.3 0 2.2 0 2.2 0 2.2 0 2.2 0 2.2 0 2.3 0 2.2 0 2.2 0 2.2 0 2.2 0 2.2 0 2.2 0 2.3 0 2.2 0 2.2 0 2.2 0 2.2 0 2.2 0 2.2 0 2.3 0 2.2 0 2.2 0 2.2 0 2.2 0 2.2 0 2.3 0 2.2 0 2.2 0 2.2 0 2.2 0 2.2 0 2.2 0 2.3 0 2.2 0 2.2 0 2.2 0 2.2 0 2.2 0 2.2 0 2.3 0 2.2 0 2.2 0 2.2 0 2.2 0 2.2 0 2.3 0 2.2 0 2.2 0 2.2 0 2.2 0 2.2 0 2.2 0 2.3 0 2.2 0 2.2 0 2.2 0 2.2 0 2.2 0 2.2 0 2.3 0 2.2 0 2.2 0 2.2 0 2.2 0 2.2 0 2.3 0 2.2 0 2.2 0 2.2 0 2.2 0 2.2 0 2.2 0 2.3 0 2.2 0 2.2 0 2.2 0 2.2 0 2.2 0 2.2 0 2.3 0 2.2 0 2.2 0 2.2 0 2.2 0 2.2 0 2.3 0 2.2 0 2.2 0 2.2 0 2.2 0 2.2 0 2.2 0 2.3 0 2.2 0 2.2 0 2.2 0 2.2 0 2.2 0 2.2 0 2.3 0 2.2 0 2.2 0 2.2 0 2.2 0 2.2 0 2.3 0 2.2 0 2.2 0 2.2 0 2.2 0 2.2 0 2.2 0 2.3 0 2.2 0 2.2 0 2.2 0 2.2 0 2.2 0 2.3 0 2.2 0 2.2 0 2.2 0 2.2 0 2.2 0 2.2 0 2.3 0 2.2 0 2.2 0 2.2 0 2.2 0 2.2 0 2.2 0 2.3 0 2.2 0 2.2 0 2.2 0 2.2 0 2.2 0 2.2 0 2.3 0 2.2 0 2.2 0 2.2 0 2.2 0 2.2 0 2.3 0 2.2 0 2.2 0 2.2 0 2.2 0 2.2 0 2.2 0 2.3 0 2.2 0 2.2 0 2.2 0 2.2 0 2.2 0 2.3 0 2.2 0 2.2 0 2.2 0 2.2 0 2.2 0 2.2 0 2.3 0 2.2 0 2.2zM221.6 442.6l-0.6-0.2-1.6-0.3-2.2-0.5-2.3-0.4-2.2-0.3-2.2-0.3-2.2 0-2.2 0-2.2 0.1-2.3 0.2-2.2 0.1-2.2 0.1-2.2 0-2.2 0-2.2-0.1-2.3-0.1-2.2-0.1-2.2-0.1-2.2 0-2.2 0-2.2 0.2-2.3 0.2-2.2 0.2-2.2 0.1-2.2 0-2.2-0.3-2.2-0.5-0.9-0.4-1.4-0.5-2.2-1.3-0.5-0.4-1.7-1.3-1-0.9-1.2-1-1.2-1.2-1-1.1-1-1.1-1.2-1.3-0.8-1-1.4-1.7-0.4-0.5-1.8-2.2-0.1 0-1.6-2.2-0.6-0.8-1-1.4-1.2-1.6-0.4-0.6-1.5-2.3-0.3-0.4-1.1-1.8-1.1-1.9-0.2-0.3-1.2-2.2-0.8-1.6-0.3-0.6-1.1-2.2-0.9-2.1 0-0.1-0.8-2.3-0.8-2.2-0.6-2 0-0.2-0.6-2.2-0.5-2.2-0.4-2.2-0.4-2.2-0.3-2 0-0.3-0.3-2.2-0.2-2.2-0.2-2.2-0.2-2.2-0.1-2.2-0.1-2.2 0-2.3-0.1-2.2 0-2.2 0-2.2 0.1-2.2 0-2.2 0.1-2.3 0.1-2.2 0.2-2.2 0.2-2.2 0.2-2.2 0.3-2.2 0-0.4 0.3-1.8 0.3-2.3 0.5-2.2 0.4-2.2 0.6-2.2 0.1-0.5 0.5-1.7 0.7-2.2 0.8-2.3 0.2-0.5 0.8-1.7 1-2.2 0.5-1 0.6-1.2 1.3-2.2 0.3-0.5 1.2-1.7 1-1.5 0.5-0.7 1.7-2.1 0.1-0.2 2-2.2 0.1-0.1 2.2-2.1 0-0.1 2.3-1.8 0.3-0.3 1.9-1.4 1.3-0.8 0.9-0.6 2.2-1.1 1.4-0.5 0.8-0.4 2.2-0.6 2.2-0.4 2.3-0.1 2.2 0 2.2 0.3 2.2 0.4 2.2 0.5 1 0.3 1.2 0.3 2.3 0.5 2.2 0.5 2.2 0.3 2.2 0.2 2.2 0.1 2.2-0.1 2.3-0.1 2.2-0.2 2.2-0.2 2.2-0.1 2.2 0 2.2 0.1 2.3 0.1 2.2 0.1 2.2 0.2 2.2 0.1 2.2 0 2.2 0 2.3-0.2 2.2-0.2 2.2-0.2 2.2-0.2 2.2 0 2.2 0.3 2.2 0.6 0.6 0.3 1.7 0.7 2.2 1.5 2.2 1.7 0.6 0.5 1.6 1.5 0.8 0.7 1.4 1.4 0.8 0.8 1.4 1.5 0.7 0.8 1.6 1.6 0.4 0.6 1.8 1.9 0.2 0.3 1.9 2.2 0.1 0.2 1.6 2 0.6 0.8 1.1 1.4 1.1 1.6 0.4 0.6 1.5 2.3 0.3 0.6 1 1.6 1.2 2.2 0.1 0.1 0.9 2.1 1 2.2 0.3 0.7 0.6 1.5 0.7 2.3 0.7 2.2 0.2 0.8 0.3 1.4 0.5 2.2 0.4 2.2 0.4 2.2 0.3 2.2 0.3 2.3 0.2 2.2 0.2 2.2 0.2 2.2 0.2 2.2 0.1 2.2 0.1 2.3 0.1 2.2 0.1 2.2 0 2.2 0.1 2.2 0 2.2 0 2.2 0 2.3-0.1 2.2-0.1 2.2-0.1 2.2-0.2 2.2-0.2 2.2-0.3 2.2-0.3 1.9-0.1 0.4-0.4 2.2-0.5 2.2-0.6 2.2-0.6 2.2-0.8 2.2-0.9 2.3-0.5 1.1-0.5 1.1-1.2 2.2-0.5 1-0.8 1.2-1.5 2.2-1.6 2.2-0.6 0.7-1.3 1.5-0.9 1-1.2 1.3-1 1-1.4 1.2-0.8 0.8-1.7 1.4-0.5 0.4-2.3 1.7-0.1 0.1-2.1 1.4-1.4 0.8-0.8 0.5-2.2 1.1-1.7 0.6-0.5 0.2-2.2 0.6-2.3 0.3-2.2 0-2.2-0.1-2.2-0.4zM398.9 438.2l-1.8-0.2-0.4 0-2.3-0.9-2-1.3-0.2-0.1-2.2-2-0.2-0.1-2-2.1-0.1-0.1-2-2.3-0.1-0.2-1.7-2-0.5-0.7-1.2-1.5-1.1-1.4-0.5-0.8-1.6-2.2-0.1-0.2-1.3-2-0.9-1.3-0.6-1-1.4-2.2-0.2-0.4-1.1-1.8-1.1-1.9-0.2-0.3-1.2-2.2-0.8-1.5-0.4-0.7-1.2-2.2-0.7-1.4-0.4-0.9-1-2.2-0.8-2 0-0.2-0.8-2.2-0.7-2.2-0.5-2.2-0.2-1.1-0.2-1.1-0.3-2.3-0.2-2.2-0.1-2.2-0.1-2.2 0-2.2 0.2-2.2 0.1-2.2 0.3-2.3 0.3-2.2 0.4-2.2 0.5-2.2 0.5-2.2 0.7-2.2 0.1-0.6 0.6-1.7 0.8-2.2 0.8-2.2 0-0.1 0.9-2.1 1-2.2 0.4-0.9 0.6-1.3 1-2.2 0.6-1.3 0.4-1 1.1-2.2 0.7-1.4 0.3-0.8 1.1-2.2 0.8-1.7 0.3-0.5 1.1-2.2 0.8-1.8 0.3-0.5 1.1-2.2 0.8-1.6 0.4-0.6 1.2-2.2 0.7-1.1 0.6-1.1 1.4-2.2 0.2-0.3 1.3-1.9 0.9-1.2 0.8-1.1 1.4-1.6 0.6-0.6 1.6-1.5 1-0.7 1.2-0.8 2.3-0.8 2.2-0.1 2.2 0.7 1.4 1 0.8 0.5 1.7 1.7 0.5 0.6 1.3 1.6 0.9 1.2 0.7 1.1 1.5 2.2 0.1 0.1 1.2 2.1 1 1.7 0.2 0.5 1.2 2.2 0.8 1.5 0.4 0.7 1 2.2 0.8 1.6 0.3 0.7 1 2.2 0.9 1.9 0.1 0.3 1 2.2 1 2.2 0.1 0.4 0.8 1.8 0.9 2.3 0.5 1.3 0.4 0.9 0.8 2.2 0.9 2.2 0.2 0.5 0.6 1.7 0.7 2.2 0.7 2.2 0.2 0.8 0.4 1.5 0.5 2.2 0.5 2.2 0.3 2.2 0.4 2.2 0.1 1.4 0.1 0.8 0.1 2.3 0.1 2.2-0.1 2.2-0.1 2.2-0.1 1.7 0 0.5-0.3 2.2-0.4 2.2-0.4 2.3-0.5 2.2-0.6 2.2 0 0.1-0.6 2.1-0.8 2.2-0.7 2.2-0.1 0.3-0.8 1.9-0.8 2.3-0.7 1.5-0.2 0.7-1 2.2-0.9 2.2-0.1 0.1-0.9 2.1-1.1 2.2-0.2 0.5-0.8 1.7-1.1 2.3-0.3 0.5-0.9 1.7-1.2 2.2-0.1 0.3-1.1 1.9-1.1 1.8-0.3 0.4-1.5 2.2-0.4 0.7-1.2 1.6-1.1 1.2-0.9 1-1.3 1.3-1.1 0.9-1.1 0.8-2.2 1.1-1.3 0.3zM159.5 245.3l-0.1 0-2.1-0.4-2.2-0.7-2.2-1-0.2-0.1-2-1.2-1.4-1-0.8-0.6-2-1.7-0.3-0.1-2.2-2.1-2.2-2.1 0-0.1-2.1-2.2-0.1-0.1-1.9-2.1-0.3-0.4-1.5-1.8-0.7-0.9-1-1.3-1.3-1.8-0.2-0.5-1.4-2.2-0.6-1-0.6-1.2-1.1-2.2-0.5-1.2-0.4-1-0.9-2.2-0.8-2.2-0.1-0.3-0.7-2-0.6-2.2-0.7-2.2-0.2-1-0.3-1.2-0.6-2.2-0.4-2.2-0.5-2.3-0.4-2.2 0-0.3-0.4-1.9-0.3-2.2-0.2-2.2-0.3-2.2-0.2-2.2-0.1-2.3-0.1-2.2 0-2.2 0-2.2 0.1-2.2 0.1-2.2 0.2-2.2 0.2-2.3 0.3-2.2 0.3-2.2 0.4-1.7 0.1-0.5 0.4-2.2 0.6-2.2 0.6-2.3 0.5-1.7 0.1-0.5 0.8-2.2 0.8-2.2 0.5-1.4 0.3-0.8 1-2.2 0.9-2.1 0.1-0.1 1.1-2.3 1-2 0.1-0.2 1.3-2.2 0.8-1.6 0.4-0.6 1.3-2.2 0.6-0.9 0.8-1.3 1.4-2.2 0-0.1 1.4-2.2 0.8-1.1 0.8-1.1 1.4-2 0.2-0.2 1.8-2.2 0.2-0.3 1.8-1.9 0.4-0.5 2.1-1.7 0.2-0.2 2.2-1.5 1.1-0.6 1.1-0.5 2.2-0.9 2.2-0.6 0.6-0.2 1.6-0.4 2.2-0.4 2.3-0.3 2.2-0.3 2.2-0.3 2.2-0.3 1.8-0.2 0.4 0 2.2-0.3 2.3-0.2 2.2-0.1 2.2-0.1 2.2 0 2.2 0.1 2.2 0.2 2.3 0.2 2.2 0.2 0.2 0 2 0.2 2.2 0.2 2.2 0.3 2.2 0.2 2.3 0.1 2.2 0.1 2.2 0 2.2-0.2 2.2-0.2 2.2-0.5 1-0.2 1.3-0.3 2.2-0.6 2.2-0.7 1.9-0.6 0.3-0.1 2.2-0.6 2.2-0.5 2.2-0.4 2.3-0.2 2.2 0 2.2 0.3 2.2 0.6 2.2 0.9 2.2 1.3 1.3 0.9 1 0.7 1.8 1.5 0.4 0.4 1.9 1.8 0.3 0.3 1.8 2 0.4 0.4 1.5 1.8 0.7 0.8 1.1 1.4 1.1 1.4 0.7 0.8 1.6 2.2 1.4 2.2 0.8 1.2 0.6 1.1 1.2 2.2 0.4 0.8 0.7 1.4 1 2.2 0.5 1.2 0.4 1 0.9 2.2 0.8 2.2 0.1 0.5 0.6 1.8 0.6 2.2 0.7 2.2 0.3 1.3 0.3 0.9 0.5 2.2 0.5 2.2 0.5 2.2 0.4 2.3 0.1 0.3 0.3 1.9 0.3 2.2 0.3 2.2 0.2 2.2 0.2 2.2 0.1 2.3 0.1 2.2 0 2.2 0 2.2-0.1 2.2-0.1 2.2-0.2 2.2-0.2 2.3-0.3 2.2-0.4 2.2-0.2 1.3-0.2 0.9-0.5 2.2-0.5 2.2-0.6 2.2-0.5 1.6-0.2 0.7-0.7 2.2-0.8 2.2-0.5 1.3-0.3 0.9-1 2.2-0.9 2.1-0.1 0.1-1 2.3-1.1 2.1 0 0.1-1.2 2.2-1 1.8-0.3 0.4-1.3 2.2-0.6 1.2-0.7 1-1.4 2.2-0.2 0.4-1.2 1.9-1 1.4-0.5 0.8-1.6 2.2-0.1 0.1-1.7 2.1-0.5 0.6-1.5 1.6-0.7 0.7-1.8 1.5-0.4 0.4-2.3 1.4-0.8 0.4-1.4 0.7-2.2 0.9-2.2 0.6-0.4 0.1-1.8 0.4-2.2 0.4-2.3 0.4-2.2 0.3-2.2 0.3-2.2 0.3-1.2 0.1-1 0.1-2.2 0.1-2.2 0.1-2.3 0.1-2.2-0.1-2.2-0.1-2.2-0.1-2.2-0.1-0.1 0-2.1-0.1-2.3-0.1-2.2-0.1-2.2-0.1-2.2-0.1-2.2 0-2.2 0-2.3 0-2.2 0-2.2 0.1-2.2 0.2-1.6 0.2-0.6 0.1-2.2 0.3-2.3 0.4-2.2 0.4-2.2 0.5-2.2 0.3-1.5 0.2-0.7 0.1-2.2 0.1-2.3 0zM394.4 238.9l-0.7-0.3-1.5-0.5-2.2-1.1-0.7-0.6-1.5-1-1.4-1.2-0.8-0.7-1.5-1.5-0.7-0.8-1.3-1.4-1-1.1-0.8-1.1-1.4-1.7-0.4-0.5-1.6-2.3-0.2-0.2-1.5-2-0.7-1-0.9-1.2-1.3-1.8-0.3-0.4-1.6-2.2-0.3-0.5-1.2-1.7-1.1-1.5-0.5-0.7-1.5-2.3-0.2-0.3-1.2-1.9-1-1.5-0.4-0.7-1.4-2.2-0.4-0.8-0.8-1.4-1.3-2.2-0.1-0.4-1-1.9-1-2.2-0.2-0.4-0.8-1.8-0.9-2.2-0.6-1.6-0.2-0.6-0.6-2.2-0.5-2.2-0.5-2.3-0.2-2.2-0.2-1.7 0-0.5 0-2.2 0-1.6 0.1-0.6 0.2-2.2 0.3-2.2 0.4-2.3 0.6-2.2 0.6-2.2 0-0.1 0.7-2.1 0.9-2.2 0.7-1.8 0.1-0.4 1-2.3 1.1-2.2 1.1-2.2 1.1-2 0.1-0.2 1.2-2.2 0.9-1.5 0.5-0.7 1.3-2.2 0.4-0.7 1.1-1.6 1.1-1.7 0.4-0.5 1.5-2.2 0.4-0.5 1.2-1.7 1-1.3 0.6-0.9 1.6-2.1 0.1-0.1 1.7-2.2 0.4-0.5 1.4-1.8 0.8-1 1.1-1.2 1.1-1.4 0.8-0.8 1.5-1.7 0.5-0.5 1.7-1.7 0.6-0.5 1.6-1.5 1-0.7 1.2-0.9 2.2-1.2 0.5-0.2 1.7-0.6 2.3-0.3 2.2 0.2 2.2 0.6 0.4 0.1 1.8 0.8 2.2 1.4 0.1 0.1 2.1 1.7 0.5 0.5 1.8 1.7 0.4 0.5 1.8 2 0.1 0.2 1.7 2.2 0.4 0.5 1.2 1.7 1 1.5 0.5 0.8 1.4 2.2 0.3 0.5 1.1 1.7 1.1 1.9 0.2 0.3 1.4 2.2 0.6 1.1 0.8 1.1 1.3 2.2 0.2 0.3 1.2 2 1 1.5 0.4 0.7 1.4 2.2 0.4 0.7 0.9 1.5 1.3 2.2 1.3 2.2 0.9 1.8 0.3 0.4 1.1 2.3 0.8 1.8 0.2 0.4 1 2.2 0.8 2.2 0.3 0.8 0.4 1.4 0.7 2.2 0.5 2.3 0.4 2.2 0.2 1.7 0 0.5 0.2 2.2 0.1 2.2-0.1 2.2-0.2 2.2 0 0.4-0.3 1.9-0.4 2.2-0.5 2.2-0.6 2.2-0.4 1.3-0.4 0.9-0.8 2.2-0.9 2.2-0.2 0.3-0.9 2-1.1 2.2-0.2 0.3-1 1.9-1.2 2-0.1 0.2-1.4 2.2-0.7 1.1-0.7 1.1-1.5 2.3-1.5 2.2-0.7 1.1-0.8 1.1-1.5 2.1 0 0.1-1.6 2.2-0.6 0.9-1 1.3-1.2 1.7-0.4 0.5-1.6 2.3-0.2 0.2-1.6 2-0.6 0.8-1.3 1.4-0.9 1.1-1.1 1.1-1.1 1.1-1.3 1.1-1 0.9-1.9 1.3-0.3 0.3-2.2 1.2-1.9 0.7-0.3 0.2-2.2 0.4-2.2 0.1z"/>
<path fill="#007dff" d="M86.4 482.3l2.2 0 2.2 0 2.2 0 2.3 0 2.2 0 2.2 0 2.2 0 2.2 0 2.2 0 2.3 0 2.2 0 2.2 0 2.2 0 2.2 0 2.2 0 2.3 0 2.2 0 2.2 0 2.2 0 2.2 0 2.2 0 2.3 0 2.2 0 2.2 0 2.2 0 2.2 0 2.2 0 2.3 0 2.2 0 2.2 0 2.2 0 2.2 0 2.2 0 2.2 0 2.3 0 2.2 0 2.2 0 2.2 0 2.2 0 2.2 0 2.3 0 2.2 0 2.2 0 2.2 0 2.2 0 2.2 0 2.3 0 2.2 0 2.2 0 2.2 0 2.2 0 2.2 0 2.3 0 2.2 0 2.2 0 2.2 0 2.2 0 2.2 0 2.3 0 2.2 0 2.2 0 2.2 0 2.2 0 2.2 0 2.2 0 2.3 0 2.2 0 2.2 0 2.2 0 2.2 0 2.2 0 2.3 0 2.2 0 2.2 0 2.2 0 2.2 0 2.2 0 2.3 0 2.2 0 2.2 0 2.2 0 2.2 0 2.2 0 2.3 0 2.2 0 2.2 0 2.2 0 2.2 0 2.2 0 2.2 0 2.3 0 2.2 0 2.2 0 2.2 0 2.2 0 2.2 0 2.3 0 2.2 0 2.2 0 2.2 0 2.2 0 2.2 0 2.3 0 2.2 0 2.2 0 2.2 0 2.2 0 2.2 0 2.3 0 2.2 0 2.2 0 2.2 0 2.2 0 2.2 0 2.3 0 2.2 0 2.2 0 2.2 0 2.2 0 2.2 0 2.2 0 2.3 0 2.2 0 2.2 0 2.2 0 2.2 0 2.2 0 2.3 0 2.2 0 2.2 0 2.2 0 2.2 0 2.2 0 2.3 0 2.2 0 2.2 0 2.2 0 2.2 0 2.2 0 2.3 0 2.2 0 2.2 0 2.2 0 2.2 0 2.2 0 2.3 0 2.2 0 2.2 0 2.2 0 2.2 0 2.2 0 2.2 0 2.3 0 2.2 0 2.2 0 2.2 0 2.2 0 2.2 0 2.3 0 2.2 0 2.2 0 2.2 0 2.2 0 2.2 0 2.3 0 2.2 0 2.2 0 2.2 0 2.2 0 2.2 0 2.3 0 2.2 0 2.2 0 2.2 0 2.2 0 2.2 0 2.3 0 2.2 0 2.2 0 2.2 0 0-2.2 0-2.2 0-2.2 0-2.3 0-2.2 0-2.2 0-2.2 0-2.2 0-2.2 0-2.2 0-2.3 0-2.2 0-2.2 0-2.2 0-2.2 0-2.2 0-2.3 0-2.2 0-2.2 0-2.2 0-2.2 0-2.2 0-2.2 0-2.3 0-2.2 0-2.2 0-2.2 0-2.2 0-2.2 0-2.3 0-2.2 0-2.2 0-2.2 0-2.2 0-2.2 0-2.2 0-2.3 0-2.2 0-2.2 0-2.2 0-2.2 0-2.2 0-2.2 0-2.3 0-2.2 0-2.2 0-2.2 0-2.2 0-2.2 0-2.2 0-2.3 0-2.2 0-2.2 0-2.2 0-2.2 0-2.2 0-2.3 0-2.2 0-2.2 0-2.2 0-2.2 0-2.2 0-2.2 0-2.3 0-2.2 0-2.2 0-2.2 0-2.2 0-2.2 0-2.3 0-2.2 0-2.2 0-2.2 0-2.2 0-2.2 0-2.2 0-2.3 0-2.2 0-2.2 0-2.2 0-2.2 0-2.2 0-2.2 0-2.3 0-2.2 0-2.2 0-2.2 0-2.2 0-2.2 0-2.3 0-2.2 0-2.2 0-2.2 0-2.2 0-2.2 0-2.2 0-2.3 0-2.2 0-2.2 0-2.2 0-2.2 0-2.2 0-2.2 0-2.3 0-2.2 0-2.2 0-2.2 0-2.2 0-2.2 0-2.3 0-2.2 0-2.2 0-2.2 0-2.2 0-2.2 0-2.2 0-2.3 0-2.2 0-2.2 0-2.2 0-2.2 0-2.2 0-2.2 0-2.3 0-2.2 0-2.2 0-2.2 0-2.2 0-2.2 0-2.3 0-2.2 0-2.2 0-2.2 0-2.2 0-2.2 0-2.2 0-2.3 0-2.2 0-2.2 0-2.2 0-2.2 0-2.2 0-2.2 0-2.3 0-2.2 0-2.2 0-2.2 0-2.2 0-2.2 0-2.3 0-2.2 0-2.2 0-2.2 0-2.2 0-2.2 0-2.2 0-2.3 0-2.2 0-2.2 0-2.2 0-2.2 0-2.2 0-2.2 0-2.3 0-2.2 0-2.2 0-2.2 0-2.2 0-2.2 0-2.3 0-2.2 0-2.2 0-2.2 0-2.2 0-2.2 0-2.2 0-2.3 0-2.2 0-2.2 0-2.2-2.2 0-2.2 0-2.2 0-2.3 0-2.2 0-2.2 0-2.2 0-2.2 0-2.2 0-2.3 0-2.2 0-2.2 0-2.2 0-2.2 0-2.2 0-2.3 0-2.2 0-2.2 0-2.2 0-2.2 0-2.2 0-2.3 0-2.2 0-2.2 0-2.2 0-2.2 0-2.2 0-2.3 0-2.2 0-2.2 0-2.2 0-2.2 0-2.2 0-2.2 0-2.3 0-2.2 0-2.2 0-2.2 0-2.2 0-2.2 0-2.3 0-2.2 0-2.2 0-2.2 0-2.2 0-2.2 0-2.3 0-2.2 0-2.2 0-2.2 0-2.2 0-2.2 0-2.3 0-2.2 0-2.2 0-2.2 0-2.2 0-2.2 0-2.3 0-2.2 0-2.2 0-2.2 0-2.2 0-2.2 0-2.2 0-2.3 0-2.2 0-2.2 0-2.2 0-2.2 0-2.2 0-2.3 0-2.2 0-2.2 0-2.2 0-2.2 0-2.2 0-2.3 0-2.2 0-2.2 0-2.2 0-2.2 0-2.2 0-2.3 0-2.2 0-2.2 0-2.2 0-2.2 0-2.2 0-2.3 0-2.2 0-2.2 0-2.2 0-2.2 0-2.2 0-2.2 0-2.3 0-2.2 0-2.2 0-2.2 0-2.2 0-2.2 0-2.3 0-2.2 0-2.2 0-2.2 0-2.2 0-2.2 0-2.3 0-2.2 0-2.2 0-2.2 0-2.2 0-2.2 0-2.3 0-2.2 0-2.2 0-2.2 0-2.2 0-2.2 0-2.2 0-2.3 0-2.2 0-2.2 0-2.2 0-2.2 0-2.2 0-2.3 0-2.2 0-2.2 0-2.2 0-2.2 0-2.2 0-2.3 0-2.2 0-2.2 0-2.2 0-2.2 0-2.2 0-2.3 0-2.2 0-2.2 0-2.2 0-2.2 0-2.2 0-2.3 0-2.2 0-2.2 0-2.2 0-2.2 0-2.2 0-2.2 0-2.3 0-2.2 0-2.2 0-2.2 0-2.2 0-2.2 0-2.3 0-2.2 0-2.2 0-2.2 0-2.2 0-2.2 0-2.3 0-2.2 0-2.2 0-2.2 0-2.2 0-2.2 0-2.3 0-2.2 0-2.2 0-2.2 0-2.2 0-2.2 0-2.3 0-2.2 0-2.2 0-2.2 0 0 2.2 0 2.2 0 2.2 0 2.3 0 2.2 0 2.2 0 2.2 0 2.2 0 2.2 0 2.2 0 2.3 0 2.2 0 2.2 0 2.2 0 2.2 0 2.2 0 2.3 0 2.2 0 2.2 0 2.2 0 2.2 0 2.2 0 2.2 0 2.3 0 2.2 0 2.2 0 2.2 0 2.2 0 2.2 0 2.2 0 2.3 0 2.2 0 2.2 0 2.2 0 2.2 0 2.2 0 2.3 0 2.2 0 2.2 0 2.2 0 2.2 0 2.2 0 2.2 0 2.3 0 2.2 0 2.2 0 2.2 0 2.2 0 2.2 0 2.2 0 2.3 0 2.2 0 2.2 0 2.2 0 2.2 0 2.2 0 2.3 0 2.2 0 2.2 0 2.2 0 2.2 0 2.2 0 2.2 0 2.3 0 2.2 0 2.2 0 2.2 0 2.2 0 2.2 0 2.2 0 2.3 0 2.2 0 2.2 0 2.2 0 2.2 0 2.2 0 2.3 0 2.2 0 2.2 0 2.2 0 2.2 0 2.2 0 2.2 0 2.3 0 2.2 0 2.2 0 2.2 0 2.2 0 2.2 0 2.2 0 2.3 0 2.2 0 2.2 0 2.2 0 2.2 0 2.2 0 2.3 0 2.2 0 2.2 0 2.2 0 2.2 0 2.2 0 2.2 0 2.3 0 2.2 0 2.2 0 2.2 0 2.2 0 2.2 0 2.2 0 2.3 0 2.2 0 2.2 0 2.2 0 2.2 0 2.2 0 2.3 0 2.2 0 2.2 0 2.2 0 2.2 0 2.2 0 2.2 0 2.3 0 2.2 0 2.2 0 2.2 0 2.2 0 2.2 0 2.3 0 2.2 0 2.2 0 2.2 0 2.2 0 2.2 0 2.2 0 2.3 0 2.2 0 2.2 0 2.2 0 2.2 0 2.2 0 2.2 0 2.3 0 2.2 0 2.2 0 2.2 0 2.2 0 2.2 0 2.2 0 2.3 0 2.2 0 2.2 0 2.2 0 2.2 0 2.2 0 2.3 0 2.2 0 2.2 0 2.2 0 2.2 0 2.2 0 2.2 0 2.3 0 2.2 0 2.2 0 2.2 0 2.2 0 2.2 0 2.3 0 2.2 0 2.2 0 2.2 0 2.2 0 2.2 0 2.2 0 2.3 0 2.2 0 2.2zM166.2 449.6l-1.4-0.5-0.8-0.3-2.3-1.2-0.9-0.7-1.3-1-1.3-1.3-0.9-0.7-1.3-1.5-0.9-0.9-1-1.3-1.2-1.4-0.6-0.8-1.6-2.1-0.1-0.1-1.6-2.2-0.5-0.7-1.1-1.5-1.2-1.6-0.4-0.7-1.6-2.2-0.2-0.3-1.3-1.9-0.9-1.3-0.6-0.9-1.4-2.2-0.2-0.3-1.2-1.9-1-1.7-0.3-0.5-1.3-2.3-0.6-1.1-0.6-1.1-1.1-2.2-0.6-1.3-0.4-0.9-0.9-2.2-0.8-2.2-0.1-0.2-0.6-2.1-0.7-2.2-0.6-2.2-0.3-1.4-0.2-0.8-0.4-2.2-0.4-2.2-0.3-2.2-0.3-2.3-0.2-2.2-0.2-2.2-0.2-2.2 0-0.4-0.1-1.8-0.1-2.2-0.1-2.2-0.1-2.3 0-2.2 0-2.2 0-2.2 0-2.2 0.1-2.2 0-2.3 0.1-2.2 0.2-2.2 0-0.5 0.1-1.7 0.2-2.2 0.2-2.2 0.3-2.2 0.3-2.3 0.3-2.2 0.4-2.2 0.4-1.8 0.1-0.4 0.5-2.2 0.6-2.2 0.7-2.3 0.3-0.9 0.5-1.3 0.8-2.2 0.9-2.2 0.1 0 1-2.2 1.1-2.2 0.1-0.1 1.2-2.1 1-1.7 0.4-0.6 1.4-2.2 0.4-0.5 1.3-1.7 0.9-1.3 0.8-0.9 1.4-1.7 0.5-0.5 1.7-1.9 0.4-0.3 1.9-1.8 0.5-0.4 1.7-1.5 1.1-0.8 1.1-0.7 2.2-1.3 0.4-0.2 1.8-0.8 2.2-0.7 2.2-0.5 2.2-0.2 0.1 0 2.2 0 0.4 0 1.8 0.1 2.2 0.3 2.2 0.4 2.2 0.5 2.3 0.4 2.2 0.3 2.2 0.2 2.2 0 2.2-0.1 2.2-0.3 2.3-0.3 2.2-0.2 2.2-0.2 2.2-0.1 2.2 0.1 2.2 0.3 2.3 0.3 2.2 0.4 1.1 0.1 1.1 0.2 2.2 0.2 2.2 0 2.2-0.1 2.3-0.2 0.2-0.1 2-0.3 2.2-0.4 2.2-0.3 2.2 0 2.2 0.4 1.5 0.6 0.7 0.3 2.3 1.4 0.6 0.5 1.6 1.4 0.8 0.9 1.4 1.4 0.7 0.8 1.5 1.7 0.4 0.5 1.8 2.2 1.8 2.2 0.4 0.5 1.4 1.7 0.9 1.1 0.9 1.1 1.3 1.7 0.4 0.6 1.8 2.2 1.6 2.2 0.6 0.8 1 1.4 1.2 1.7 0.4 0.5 1.5 2.2 0.3 0.6 1 1.6 1.3 2.1 0 0.2 1.2 2.2 1 2 0.1 0.2 0.9 2.2 0.9 2.2 0.3 0.9 0.4 1.3 0.7 2.3 0.5 2.2 0.5 2.2 0.1 0.3 0.4 1.9 0.3 2.2 0.3 2.2 0.3 2.2 0.2 2.3 0.2 2.2 0.2 2.2 0.2 2.2 0.1 2.2 0 0.1 0.1 2.1 0.1 2.3 0.1 2.2 0.1 2.2 0.1 2.2 0 2.2 0.1 2.2 0 2.2 0 2.3-0.1 2.2 0 2.2-0.1 2.2-0.2 2.2-0.2 2.2 0 0.2-0.2 2-0.3 2.3-0.4 2.2-0.4 2.2-0.5 2.2-0.4 1.5-0.2 0.7-0.7 2.2-0.8 2.2-0.5 1.5-0.3 0.8-1 2.2-0.9 1.8-0.2 0.4-1.3 2.2-0.7 1.3-0.6 0.9-1.5 2.2-0.2 0.2-1.5 2.1-0.7 0.9-1.1 1.3-1.1 1.3-0.8 0.9-1.4 1.5-0.7 0.7-1.5 1.6-0.7 0.6-1.5 1.5-0.9 0.7-1.4 1.3-1.1 0.9-1.1 1-1.8 1.3-0.4 0.3-2.2 1.3-1.2 0.6-1 0.5-2.2 0.7-2.3 0.4-2.2 0.2-2.2-0.1-2.2-0.2-2.2-0.3-2.2-0.4-2.2-0.3-2.3-0.3-2.2-0.2-2.2 0-2.2 0.1-2.2 0.2-2.2 0.2-2.3 0.3-2.2 0.1-2.2 0.1-2.2-0.1-2.2-0.1-2.2-0.2-2.3-0.3-2.2-0.2-2.2-0.1-2.2-0.1-0.9 0.1-1.3 0-2.2 0.2-2.3 0.3-2.2 0.2-2.2 0.2-2.2-0.1zM396.7 442.5l-0.2-0.1-2.1-0.7-2.2-1.5-2.2-1.9-0.3-0.3-1.9-2-0.2-0.2-1.9-2.2-0.1-0.1-1.8-2.1-0.4-0.6-1.3-1.7-1-1.2-0.7-1-1.5-2-0.1-0.2-1.6-2.2-0.5-0.7-1-1.5-1.2-1.9-0.3-0.3-1.4-2.3-0.5-0.8-0.9-1.4-1.3-2.2-1.4-2.2-0.9-1.6-0.3-0.6-1.3-2.2-0.6-1.2-0.5-1-1-2.3-0.7-1.5-0.3-0.7-0.8-2.2-0.6-2.2-0.5-2.1 0-0.1-0.4-2.2-0.3-2.2-0.3-2.3-0.1-2.2 0-2.2 0-2.2 0.1-2.2 0.1-2.2 0.2-2.2 0.3-2.3 0.3-2.2 0.1-0.7 0.3-1.5 0.4-2.2 0.5-2.2 0.6-2.2 0.4-1.3 0.3-1 0.7-2.2 0.9-2.2 0.3-0.9 0.6-1.3 0.9-2.2 0.7-1.6 0.3-0.6 1.1-2.2 0.9-1.9 0.1-0.4 1.1-2.2 1-1.9 0.1-0.3 1.1-2.2 1-2.1 0.1-0.1 1.1-2.2 1-2.1 0.1-0.2 1.1-2.2 1-2 0.1-0.2 1.2-2.2 0.9-1.7 0.3-0.5 1.3-2.2 0.7-1.2 0.6-1 1.5-2.3 0.1-0.1 1.5-2.1 0.7-1 1-1.2 1.2-1.4 0.8-0.8 1.4-1.4 1.2-0.8 1-0.8 2.3-0.9 2.2-0.1 2.2 0.7 1.6 1.1 0.6 0.4 1.8 1.8 0.4 0.5 1.4 1.7 0.8 1.1 0.8 1.1 1.4 2.2 0.1 0.1 1.2 2.2 1 1.6 0.3 0.6 1.2 2.2 0.7 1.3 0.5 0.9 1.1 2.2 0.6 1.2 0.5 1 1 2.2 0.7 1.5 0.4 0.8 1 2.2 0.8 1.8 0.2 0.4 1 2.2 0.9 2.2 0.1 0.3 0.9 1.9 0.9 2.3 0.5 1 0.4 1.2 0.9 2.2 0.8 2.2 0.1 0.1 0.7 2.1 0.7 2.2 0.7 2.2 0.1 0.4 0.5 1.9 0.5 2.2 0.4 2.2 0.4 2.2 0.3 2.2 0.1 1.2 0.1 1 0.1 2.2 0.1 2.3 0 2.2-0.1 2.2-0.2 2.1 0 0.1-0.2 2.2-0.4 2.2-0.4 2.3-0.5 2.2-0.5 2.2-0.2 0.7-0.4 1.5-0.7 2.2-0.8 2.2-0.3 0.9-0.5 1.3-0.9 2.3-0.8 2-0.1 0.2-1 2.2-0.9 2.2-0.3 0.5-0.7 1.7-1.1 2.2-0.4 0.9-0.6 1.3-1.1 2.3-0.5 0.9-0.6 1.3-1.2 2.2-0.4 0.8-0.8 1.4-1.2 2.2-0.2 0.3-1.2 1.9-1 1.8-0.4 0.5-1.5 2.2-0.3 0.5-1.4 1.7-0.9 1.1-1.1 1.1-1.1 1.2-1.3 1-0.9 0.7-2.2 1.2-1.3 0.3-0.9 0.2zM155.1 250.2l-0.9-0.5-1.3-0.6-2.2-1.5-0.2-0.1-2-1.6-0.7-0.6-1.6-1.5-0.7-0.7-1.5-1.5-0.6-0.7-1.6-1.7-0.4-0.6-1.8-1.9-0.2-0.3-1.9-2.2-0.1-0.2-1.6-2-0.6-0.8-1.1-1.4-1.2-1.6-0.3-0.6-1.4-2.2-0.5-0.8-0.8-1.5-1.2-2.2-0.2-0.4-0.8-1.8-0.9-2.2-0.5-1.2-0.4-1-0.8-2.2-0.7-2.2-0.3-1.1-0.4-1.2-0.6-2.2-0.6-2.2-0.5-2.2-0.1-0.6-0.4-1.6-0.5-2.2-0.4-2.3-0.4-2.2-0.3-2.2-0.3-1.9 0-0.3-0.3-2.2-0.2-2.2-0.2-2.2-0.1-2.3-0.1-2.2 0-2.2 0-2.2 0.1-2.2 0.1-2.2 0.2-2.2 0.3-2.3 0.2-2.2 0.4-2.2 0.4-2.2 0.4-2.2 0.5-2.2 0.6-2.1 0-0.2 0.6-2.2 0.7-2.2 0.8-2.2 0.1-0.3 0.7-1.9 0.9-2.2 0.6-1.5 0.3-0.7 1-2.3 0.9-1.8 0.2-0.4 1.1-2.2 0.9-1.7 0.3-0.5 1.2-2.2 0.7-1.3 0.6-0.9 1.3-2.2 0.4-0.8 0.9-1.5 1.3-2.2 1.4-2.2 0.8-1.3 0.6-0.9 1.5-2.2 0.1-0.1 1.6-2.1 0.6-0.8 1.3-1.5 0.9-1 1.3-1.2 1-0.8 1.8-1.4 0.4-0.2 2.2-1.3 1.5-0.7 0.7-0.3 2.2-0.8 2.2-0.7 1.8-0.4 0.4-0.1 2.3-0.6 2.2-0.6 2.2-0.5 1.7-0.4 0.5-0.2 2.2-0.5 2.2-0.5 2.3-0.4 2.2-0.2 2.2 0 2.2 0 2.2 0.2 2.2 0.3 2.3 0.3 2.2 0.3 2.2 0.4 2.2 0.3 2.2 0.2 2.2 0.1 2.3 0.1 2.2 0 2.2-0.1 2.2-0.2 1-0.1 1.2-0.2 2.2-0.4 2.3-0.5 2.2-0.5 2.2-0.5 0.6-0.1 1.6-0.4 2.2-0.5 2.2-0.3 2.2-0.3 2.3-0.1 2.2 0.2 2.2 0.3 2.2 0.7 0.7 0.4 1.5 0.7 2.2 1.4 0.1 0.1 2.2 1.7 0.5 0.5 1.7 1.6 0.5 0.6 1.7 1.8 0.4 0.4 1.8 2.2 0.1 0 1.7 2.2 0.4 0.5 1.4 1.8 0.8 1.1 0.8 1.1 1.5 2 0.1 0.2 1.5 2.2 0.6 1 0.7 1.2 1.3 2.2 0.2 0.4 0.9 1.9 1.1 2.2 0.2 0.4 0.7 1.8 0.9 2.2 0.6 1.5 0.3 0.7 0.7 2.2 0.7 2.2 0.5 1.7 0.2 0.6 0.6 2.2 0.6 2.2 0.6 2.2 0.3 1.2 0.2 1 0.5 2.2 0.4 2.2 0.4 2.3 0.4 2.2 0.3 2.1 0 0.1 0.3 2.2 0.2 2.2 0.2 2.2 0.1 2.3 0.1 2.2 0 2.2 0 2.2-0.1 2.2-0.2 2.2-0.2 2.2-0.2 2.3-0.2 1.8-0.1 0.4-0.3 2.2-0.4 2.2-0.5 2.2-0.5 2.2-0.4 1.9-0.1 0.3-0.7 2.3-0.6 2.2-0.8 2.2-0.1 0.3-0.7 1.9-0.8 2.2-0.7 1.6-0.3 0.6-1 2.3-0.9 1.9-0.1 0.3-1.1 2.2-1 1.9-0.2 0.3-1.2 2.2-0.8 1.6-0.4 0.6-1.3 2.2-0.5 1.1-0.8 1.2-1.3 2.2-0.2 0.3-1.2 1.9-1 1.6-0.4 0.6-1.5 2.2-0.3 0.5-1.4 1.7-0.8 1.1-1.1 1.1-1.1 1.3-1.1 1-1.1 1-1.8 1.2-0.5 0.3-2.2 1.3-1.4 0.6-0.8 0.3-2.2 0.9-2.2 0.7-1.3 0.3-0.9 0.3-2.3 0.6-2.2 0.6-2.2 0.6-0.6 0.1-1.6 0.4-2.2 0.4-2.2 0.3-2.2 0.2-2.3 0-2.2-0.1-2.2-0.2-2.2-0.2-2.2-0.2-2.2-0.2-2.3-0.1-2.2-0.1-2.2-0.1-2.2 0.1-2.2 0-2.2 0.1-2.3 0.2-2.2 0.1-2.2 0.1-2.2 0.2-2.2 0.2-2.2 0.2-2.3 0.2-2.2 0.2-2.2 0.2-2.2 0.1-2.2 0.2-2.2 0-2.3-0.1-2.2-0.3-2.2-0.5zM396.7 243.4l-1.7-0.3-0.6-0.1-2.2-0.8-2.2-1.2-0.2-0.1-2-1.4-0.9-0.9-1.3-1-1.1-1.2-1.1-1.1-1-1.1-1.3-1.4-0.6-0.8-1.6-2-0.2-0.2-1.6-2.2-0.4-0.5-1.3-1.7-0.9-1.3-0.7-1-1.5-2.1-0.1-0.1-1.5-2.2-0.6-0.8-1-1.4-1.3-1.7-0.3-0.5-1.5-2.2-0.4-0.5-1.1-1.7-1.1-1.6-0.4-0.7-1.4-2.2-0.4-0.6-1-1.6-1.2-2-0.1-0.2-1.3-2.2-0.8-1.6-0.4-0.6-1.1-2.3-0.8-1.5-0.3-0.7-0.9-2.2-0.9-2.2-0.1-0.2-0.7-2-0.6-2.2-0.5-2.2-0.4-2.2 0-0.1-0.2-2.2-0.2-2.2 0-2.2 0.1-2.2 0.2-2.2 0.1-0.6 0.3-1.6 0.4-2.3 0.6-2.2 0.6-2.2 0.3-1 0.4-1.2 0.8-2.2 0.9-2.2 0.1-0.4 0.9-1.9 1-2.2 0.4-0.7 0.7-1.5 1.2-2.2 0.3-0.6 0.9-1.6 1.2-2.2 0.1-0.1 1.3-2.1 0.9-1.5 0.5-0.8 1.4-2.2 0.3-0.4 1.2-1.8 1-1.5 0.6-0.7 1.5-2.2 0.2-0.2 1.5-2 0.7-1 0.9-1.2 1.3-1.7 0.4-0.6 1.7-2.2 0.1-0.1 1.7-2.1 0.5-0.7 1.3-1.5 0.9-1.2 1-1 1.3-1.5 0.7-0.7 1.5-1.6 0.7-0.7 1.5-1.3 1.2-0.9 1-0.7 2.2-1.2 0.9-0.3 1.3-0.4 2.3-0.3 2.2 0.2 1.7 0.5 0.5 0.2 2.2 1 1.6 1 0.6 0.4 2.2 1.8 0.1 0 2.2 2.1 0.1 0.2 2 2.2 0.1 0.1 1.6 2.1 0.6 0.7 1.1 1.5 1.1 1.6 0.4 0.6 1.5 2.2 0.3 0.6 1.1 1.7 1.1 1.8 0.2 0.4 1.4 2.2 0.6 1 0.8 1.2 1.4 2.2 0.1 0.2 1.3 2 0.9 1.5 0.5 0.7 1.4 2.3 0.3 0.5 1.1 1.7 1.1 1.8 0.3 0.4 1.3 2.2 0.6 1.1 0.7 1.1 1.3 2.2 0.2 0.6 0.9 1.6 1.1 2.3 0.3 0.5 0.7 1.7 0.9 2.2 0.6 1.5 0.2 0.7 0.7 2.2 0.6 2.2 0.5 2.3 0.2 1.1 0.2 1.1 0.2 2.2 0.2 2.2 0 2.2 0 2.2-0.2 2.2-0.3 2.3-0.1 0.5-0.3 1.7-0.5 2.2-0.6 2.2-0.7 2.2-0.1 0.2-0.8 2-0.9 2.2-0.5 1.2-0.5 1.1-1.1 2.2-0.7 1.2-0.5 1-1.3 2.2-0.4 0.6-0.9 1.6-1.3 2-0.1 0.2-1.5 2.3-0.6 0.8-0.9 1.4-1.3 1.9-0.2 0.3-1.5 2.2-0.5 0.7-1.1 1.5-1.2 1.7-0.3 0.5-1.5 2.2-0.4 0.5-1.2 1.8-1 1.3-0.6 0.9-1.6 2.1-0.1 0.1-1.8 2.2-0.3 0.4-1.6 1.8-0.6 0.7-1.5 1.5-0.7 0.8-1.7 1.4-0.6 0.5-2.2 1.7-0.2 0.1-2 1.1-2.2 0.9-0.9 0.2-1.3 0.3z"/>
<path fill="#0a9bff" d="M86.4 482.3l2.2 0 2.2 0 2.2 0 2.3 0 2.2 0 2.2 0 2.2 0 2.2 0 2.2 0 2.3 0 2.2 0 2.2 0 2.2 0 2.2 0 2.2 0 2.3 0 2.2 0 2.2 0 2.2 0 2.2 0 2.2 0 2.3 0 2.2 0 2.2 0 2.2 0 2.2 0 2.2 0 2.3 0 2.2 0 2.2 0 2.2 0 2.2 0 2.2 0 2.2 0 2.3 0 2.2 0 2.2 0 1.1 0 1.1-0.8 2.2-1.3 0.2-0.1 2-1.1 2.3-0.7 2.2-0.3 2.2 0 2.2 0.3 2.2 0.4 2.2 0.6 2.3 0.7 0.4 0.1 1.8 0.4 2.2 0.5 2.2 0.3 2.2 0.3 2.2 0 2.3 0 2.2-0.2 2.2-0.3 2.2-0.2 2.2-0.3 2.2-0.2 2.3-0.2 2.2-0.1 0.1 0 2.1-0.2 2.2-0.1 2.2-0.1 2.2 0 2.2 0.1 1.9 0.3 0.4 0 2.2 0.5 2.2 0.8 1.6 0.9 0.6 0 2.2 0 2.2 0 2.3 0 2.2 0 2.2 0 2.2 0 2.2 0 2.2 0 2.3 0 2.2 0 2.2 0 2.2 0 2.2 0 2.2 0 2.3 0 2.2 0 2.2 0 2.2 0 2.2 0 2.2 0 2.2 0 2.3 0 2.2 0 2.2 0 2.2 0 2.2 0 2.2 0 2.3 0 2.2 0 2.2 0 2.2 0 2.2 0 2.2 0 2.3 0 2.2 0 2.2 0 2.2 0 2.2 0 2.2 0 2.3 0 2.2 0 2.2 0 2.2 0 2.2 0 2.2 0 2.3 0 2.2 0 2.2 0 2.2 0 2.2 0 2.2 0 2.2 0 2.3 0 2.2 0 2.2 0 2.2 0 2.2 0 2.2 0 2.3 0 2.2 0 2.2 0 2.2 0 2.2 0 2.2 0 2.3 0 2.2 0 2.2 0 2.2 0 2.2 0 2.2 0 2.3 0 2.2 0 2.2 0 2.2 0 2.2 0 2.2 0 2.3 0 2.2 0 2.2 0 2.2 0 2.2 0 2.2 0 2.2 0 2.3 0 2.2 0 2.2 0 2.2 0 2.2 0 2.2 0 2.3 0 2.2 0 2.2 0 2.2 0 2.2 0 2.2 0 2.3 0 2.2 0 2.2 0 2.2 0 2.2 0 2.2 0 2.3 0 2.2 0 2.2 0 2.2 0 2.2 0 2.2 0 2.3 0 2.2 0 2.2 0 2.2 0 0-2.2 0-2.2 0-2.2 0-2.3 0-2.2 0-2.2 0-2.2 0-2.2 0-2.2 0-2.2 0-2.3 0-2.2 0-2.2 0-2.2 0-2.2 0-2.2 0-2.3 0-2.2 0-2.2 0-2.2 0-2.2 0-2.2 0-2.2 0-2.3 0-2.2 0-2.2 0-2.2 0-2.2 0-2.2 0-2.3 0-2.2 0-2.2 0-2.2 0-2.2 0-2.2 0-2.2 0-2.3 0-2.2 0-2.2 0-2.2 0-2.2 0-2.2 0-2.2 0-2.3 0-2.2 0-2.2 0-2.2 0-2.2 0-2.2 0-2.2 0-2.3 0-2.2 0-2.2 0-2.2 0-2.2 0-2.2 0-2.3 0-2.2 0-2.2 0-2.2 0-2.2 0-2.2 0-2.2 0-2.3 0-2.2 0-2.2 0-2.2 0-2.2 0-2.2 0-2.3 0-2.2 0-2.2 0-2.2 0-2.2 0-2.2 0-2.2 0-2.3 0-2.2 0-2.2 0-2.2 0-2.2 0-2.2 0-2.2 0-2.3 0-2.2 0-2.2 0-2.2 0-2.2 0-2.2 0-2.3 0-2.2 0-2.2 0-2.2 0-2.2 0-2.2 0-2.2 0-2.3 0-2.2 0-2.2 0-2.2 0-2.2 0-2.2 0-2.2 0-2.3 0-2.2 0-2.2 0-2.2 0-2.2 0-2.2 0-2.3 0-2.2 0-2.2 0-2.2 0-2.2 0-2.2 0-2.2 0-2.3 0-2.2 0-2.2 0-2.2 0-2.2 0-2.2 0-2.2 0-2.3 0-2.2 0-2.2 0-2.2 0-2.2 0-2.2 0-2.3 0-2.2 0-2.2 0-2.2 0-2.2 0-2.2 0-2.2 0-2.3 0-2.2 0-2.2 0-2.2 0-2.2 0-2.2 0-2.2 0-2.3 0-2.2 0-2.2 0-2.2 0-2.2 0-2.2 0-2.3 0-2.2 0-2.2 0-2.2 0-2.2 0-2.2 0-2.2 0-2.3 0-2.2 0-2.2 0-2.2 0-2.2 0-2.2 0-2.2 0-2.3 0-2.2 0-2.2 0-2.2 0-2.2 0-2.2 0-2.3 0-2.2 0-2.2 0-2.2 0-2.2 0-2.2 0-2.2 0-2.3 0-2.2 0-2.2 0-2.2-2.2 0-2.2 0-2.2 0-2.3 0-2.2 0-2.2 0-2.2 0-2.2 0-2.2 0-2.3 0-2.2 0-2.2 0-2.2 0-2.2 0-2.2 0-2.3 0-2.2 0-2.2 0-2.2 0-2.2 0-2.2 0-2.3 0-2.2 0-2.2 0-2.2 0-2.2 0-2.2 0-2.3 0-2.2 0-2.2 0-2.2 0-2.2 0-2.2 0-2.2 0-2.3 0-2.2 0-2.2 0-2.2 0-2.2 0-2.2 0-2.3 0-2.2 0-2.2 0-2.2 0-2.2 0-2.2 0-2.3 0-2.2 0-2.2 0-2.2 0-2.2 0-2.2 0-2.3 0-2.2 0-2.2 0-2.2 0-2.2 0-2.2 0-2.3 0-2.2 0-2.2 0-2.2 0-2.2 0-2.2 0-2.2 0-2.3 0-2.2 0-2.2 0-2.2 0-2.2 0-2.2 0-2.3 0-2.2 0-2.2 0-2.2 0-2.2 0-2.2 0-2.3 0-2.2 0-2.2 0-2.2 0-2.2 0-2.2 0-2.3 0-2.2 0-2.2 0-2.2 0-2.2 0-2.2 0-2.3 0-2.2 0-2.2 0-2.2 0-2.2 0-2.2 0-2.2 0-2.3 0-2.2 0-2.2 0-2.2 0-2.2 0-2.2 0-2.3 0-2.2 0-2.2 0-2.2 0-2.2 0-2.2 0-2.3 0-2.2 0-2.2 0-0.6 0 0.6 0.3 2.2 1.5 0.5 0.4 1.7 1.5 0.7 0.7 1.6 1.6 0.5 0.6 1.7 1.9 0.2 0.4 1.8 2.2 0.2 0.2 1.4 2 0.8 1 0.9 1.2 1.3 1.9 0.3 0.3 1.5 2.2 0.4 0.6 1.2 1.6 1.1 1.6 0.4 0.7 1.4 2.2 0.4 0.5 1 1.7 1.2 2.1 0.1 0.1 1.1 2.2 1 2 0.1 0.2 1 2.3 0.9 2.2 0.2 0.4 0.7 1.8 0.8 2.2 0.7 2.2 0.7 2.2 0.7 2.2 0.6 2.3 0.3 0.9 0.3 1.3 0.5 2.2 0.6 2.2 0.5 2.2 0.3 1.5 0.1 0.7 0.5 2.2 0.3 2.3 0.4 2.2 0.3 2.2 0.3 2.2 0.2 2.2 0.1 1.6 0 0.6 0.2 2.3 0 2.2 0 2.2 0 2.2-0.1 2.2-0.1 2.1 0 0.1-0.2 2.2-0.2 2.3-0.3 2.2-0.4 2.2-0.3 2.2-0.5 2.2-0.3 1.6-0.2 0.6-0.5 2.2-0.6 2.3-0.6 2.2-0.3 1-0.4 1.2-0.8 2.2-0.8 2.2-0.3 0.8-0.6 1.4-0.9 2.3-0.7 1.5-0.3 0.7-1 2.2-0.9 1.8-0.2 0.4-1.1 2.2-0.9 1.7-0.3 0.5-1.2 2.2-0.7 1.5-0.5 0.8-1.2 2.2-0.5 1-0.7 1.2-1.3 2.2-0.3 0.6-1 1.6-1.2 2.1-0.1 0.1-1.4 2.2-0.7 1.2-0.8 1.1-1.4 1.9-0.3 0.3-1.8 2.2-0.1 0.1-2.2 2.1 0 0.1-2.3 1.8-0.4 0.3-1.8 1.3-1.5 0.9-0.7 0.5-2.2 1.4-0.7 0.4-1.5 0.9-2.1 1.3-0.1 0.1-2.3 1.5-0.8 0.6-1.4 1-1.8 1.2-0.4 0.3-2.2 1.3-1.8 0.6-0.4 0.2-2.2 0.4-2.2-0.1-2.3-0.3-1.1-0.2-1.1-0.2-2.2-0.3-2.2-0.4-2.2-0.2-2.2-0.2-2.3 0.1-2.2 0.1-2.2 0.4-2.2 0.4-1.6 0.3-0.6 0.2-2.2 0.5-2.3 0.4-2.2 0.1-2.2 0-2.2-0.2-2.2-0.3-2.2-0.4-1.7-0.3-0.6-0.1-2.2-0.3-2.2-0.2-2.2-0.3-2.2-0.2-2.2-0.3-2.3-0.5-1.2-0.3-1-0.2-2.2-0.8-2.2-1.1-0.1-0.1-2.1-1.4-1-0.8-1.2-1-1.2-1.2-1-1.1-1-1.2-1.3-1.3-0.6-0.9-1.6-1.9-0.2-0.3-1.7-2.2-0.3-0.4-1.4-1.8-0.8-1.1-0.9-1.1-1.3-1.8-0.4-0.5-1.6-2.2-0.2-0.3-1.4-1.9-0.9-1.2-0.6-1-1.4-2.2-0.2-0.3-1.1-1.9-1.1-2-0.1-0.2-1.1-2.3-1-2.2 0-0.1-0.9-2.1-0.8-2.2-0.5-1.5-0.3-0.7-0.7-2.2-0.6-2.2-0.6-2.3-0.6-2.2-0.6-2.2-0.5-2.2-0.4-2.2-0.2-0.6-0.3-1.6-0.4-2.3-0.4-2.2-0.3-2.2-0.3-2.2-0.2-2.2-0.2-2.2-0.1-0.7-0.1-1.5-0.1-2.3-0.1-2.2 0-2.2 0.1-2.2 0-2.2 0.2-2.2 0-0.6 0.2-1.6 0.2-2.3 0.3-2.2 0.3-2.2 0.4-2.2 0.4-2.2 0.4-1.9 0.1-0.3 0.6-2.3 0.6-2.2 0.6-2.2 0.4-1.1 0.3-1.1 0.8-2.2 0.8-2.2 0.3-0.6 0.6-1.6 1-2.3 0.6-1.3 0.4-0.9 1.1-2.2 0.7-1.5 0.4-0.7 1.1-2.2 0.7-1.4 0.5-0.8 1.2-2.2 0.5-1.1 0.7-1.2 1.2-2.2 0.4-0.7 0.8-1.5 1.3-2.2 0.1-0.2 1.2-2 1-1.8 0.3-0.4 1.4-2.3 0.5-0.8 1-1.4 1.2-1.7 0.4-0.5 1.8-2.2 0.1 0 2.1-2.2 0.1-0.1 2.2-1.9 0.4-0.2 1.8-1.4 1.4-0.8 0.8-0.6 2.2-1.2 1-0.5 1.2-0.7 2.2-1.1 0.7-0.4 1.6-0.9 2.1-1.3 0.1 0 2.2-1.5 1.1-0.7-1.1 0-2.2 0-2.2 0-2.3 0-2.2 0-2.2 0-2.2 0-2.2 0-2.2 0-2.2 0-2.3 0-2.2 0-2.2 0-2.2 0-2.2 0-2.2 0-2.3 0-2.2 0-2.2 0-2.2 0-2.2 0-2.2 0-2.3 0-2.2 0-2.2 0-2.2 0-2.2 0-2.2 0-2.3 0-2.2 0-2.2 0-2.2 0-2.2 0-2.2 0-2.3 0-2.2 0-2.2 0-2.2 0 0 2.2 0 2.2 0 2.2 0 2.3 0 2.2 0 2.2 0 2.2 0 2.2 0 2.2 0 2.2 0 2.3 0 2.2 0 2.2 0 2.2 0 2.2 0 2.2 0 2.3 0 2.2 0 2.2 0 2.2 0 2.2 0 2.2 0 2.2 0 2.3 0 2.2 0 2.2 0 2.2 0 2.2 0 2.2 0 2.2 0 2.3 0 2.2 0 2.2 0 2.2 0 2.2 0 2.2 0 2.3 0 2.2 0 2.2 0 2.2 0 2.2 0 2.2 0 2.2 0 2.3 0 2.2 0 2.2 0 2.2 0 2.2 0 2.2 0 2.2 0 2.3 0 2.2 0 2.2 0 2.2 0 2.2 0 2.2 0 2.3 0 2.2 0 2.2 0 2.2 0 2.2 0 2.2 0 2.2 0 2.3 0 2.2 0 2.2 0 2.2 0 2.2 0 2.2 0 2.2 0 2.3 0 2.2 0 2.2 0 2.2 0 2.2 0 2.2 0 2.3 0 2.2 0 2.2 0 2.2 0 2.2 0 2.2 0 2.2 0 2.3 0 2.2 0 2.2 0 2.2 0 2.2 0 2.2 0 2.2 0 2.3 0 2.2 0 2.2 0 2.2 0 2.2 0 2.2 0 2.3 0 2.2 0 2.2 0 2.2 0 2.2 0 2.2 0 2.2 0 2.3 0 2.2 0 2.2 0 2.2 0 2.2 0 2.2 0 2.2 0 2.3 0 2.2 0 2.2 0 2.2 0 2.2 0 2.2 0 2.3 0 2.2 0 2.2 0 2.2 0 2.2 0 2.2 0 2.2 0 2.3 0 2.2 0 2.2 0 2.2 0 2.2 0 2.2 0 2.3 0 2.2 0 2.2 0 2.2 0 2.2 0 2.2 0 2.2 0 2.3 0 2.2 0 2.2 0 2.2 0 2.2 0 2.2 0 2.2 0 2.3 0 2.2 0 2.2 0 2.2 0 2.2 0 2.2 0 2.2 0 2.3 0 2.2 0 2.2 0 2.2 0 2.2 0 2.2 0 2.3 0 2.2 0 2.2 0 2.2 0 2.2 0 2.2 0 2.2 0 2.3 0 2.2 0 2.2 0 2.2 0 2.2 0 2.2 0 2.3 0 2.2 0 2.2 0 2.2 0 2.2 0 2.2 0 2.2 0 2.3 0 2.2 0 2.2zM168.4 462.7l-0.6-0.3-1.6-0.8-2-1.4-0.2-0.2-2.3-2 0-0.1-2-2.2-0.2-0.1-1.6-2.1-0.6-0.7-1-1.5-1.2-1.7-0.3-0.5-1.4-2.2-0.5-0.8-0.9-1.5-1.3-2-0.1-0.2-1.4-2.2-0.7-1.2-0.6-1-1.4-2.2-0.3-0.4-1.1-1.8-1.1-1.7-0.3-0.5-1.4-2.3-0.5-0.7-0.9-1.5-1.3-2.1-0.1-0.1-1.3-2.2-0.8-1.4-0.5-0.8-1.3-2.2-0.4-0.9-0.8-1.4-1.1-2.2-0.4-0.6-0.7-1.6-1-2.2-0.5-1.2-0.4-1-0.8-2.2-0.7-2.2-0.3-0.9-0.4-1.4-0.5-2.2-0.6-2.2-0.4-2.2-0.3-1.8-0.1-0.4-0.3-2.2-0.3-2.2-0.2-2.3-0.2-2.2-0.2-2.2-0.1-2.2-0.2-2.2 0-2.2-0.1-2.2-0.1-2.3 0-2.2 0-2.2 0-2.2 0-2.2 0-2.2 0.1-2.3 0.1-2.2 0.1-2.2 0.1-2.2 0.1-2.2 0.2-2.2 0.2-2.2 0.3-2.3 0.3-2.2 0.3-2.2 0.4-2.2 0.5-2.2 0.5-2.2 0.6-2.3 0.2-0.8 0.4-1.4 0.7-2.2 0.8-2.2 0.3-0.8 0.6-1.4 1-2.2 0.6-1.5 0.4-0.7 1.1-2.3 0.8-1.4 0.4-0.8 1.2-2.2 0.6-1 0.8-1.2 1.3-2.2 0.1-0.2 1.4-2 0.8-1.3 0.7-0.9 1.5-2.2 0-0.1 1.7-2.2 0.5-0.7 1.4-1.5 0.9-1.1 1-1.1 1.2-1.3 1.1-0.9 1.1-1.1 1.6-1.1 0.6-0.5 2.2-1.3 1-0.5 1.2-0.6 2.2-0.7 2.3-0.5 2.2-0.3 1.8-0.1 0.4 0 2.2-0.1 2.2 0.1 2.2-0.1 2.3 0 2.2-0.3 2.2-0.4 2.2-0.5 2.2-0.5 1.5-0.4 0.7-0.2 2.3-0.4 2.2-0.1 2.2 0.1 2.2 0.5 0.5 0.1 1.7 0.4 2.2 0.7 2.3 0.8 1 0.3 1.2 0.4 2.2 0.5 2.2 0.2 2.2 0 2.2-0.4 2.3-0.6 0.1-0.1 2.1-0.8 2.2-0.6 2.2-0.2 2.2 0.4 2.2 1.2 0.1 0 2.1 1.8 0.4 0.4 1.9 2.1 0.1 0.2 1.6 2.2 0.5 0.5 1.1 1.7 1.1 1.6 0.3 0.6 1.4 2.2 0.5 0.7 0.9 1.5 1.3 2.1 0.1 0.2 1.4 2.2 0.7 1 0.8 1.2 1.5 2.2 1.5 2.2 0.7 1 0.8 1.2 1.4 1.9 0.2 0.3 1.5 2.3 0.5 0.6 1.1 1.6 1.1 1.6 0.4 0.6 1.5 2.2 0.3 0.6 1.1 1.6 1.2 2 0.1 0.2 1.2 2.2 0.9 1.6 0.3 0.7 1.1 2.2 0.8 1.9 0.1 0.3 0.9 2.2 0.7 2.2 0.5 1.6 0.2 0.6 0.6 2.3 0.5 2.2 0.4 2.2 0.4 2.2 0.1 1.1 0.2 1.1 0.2 2.2 0.3 2.2 0.2 2.3 0.1 2.2 0.2 2.2 0.1 2.2 0.1 2.2 0.1 2.2 0.1 2.2 0.1 2.3 0.1 2.2 0.1 2.2 0 2.2 0.1 2.2 0 2.2 0 2.3 0 2.2 0 2.2-0.1 2.2-0.1 2.2-0.1 2.2-0.2 2.2-0.3 2.3-0.3 2.2-0.4 2.2-0.4 2.2-0.1 0.2-0.5 2-0.6 2.2-0.7 2.2-0.4 1.3-0.3 1-0.9 2.2-1 2.2 0 0.1-1 2.1-1.2 2.2 0 0.1-1.3 2.1-0.9 1.7-0.4 0.6-1.5 2.2-0.4 0.5-1.2 1.7-1 1.4-0.6 0.8-1.6 2.1-0.1 0.1-1.8 2.2-0.3 0.5-1.5 1.7-0.7 1.1-1.1 1.2-1.1 1.5-0.7 0.7-1.6 1.9-0.2 0.3-2 2.2-2.1 2.2-0.1 0.1-2.2 2-0.3 0.1-1.9 1.5-1.5 0.8-0.7 0.4-2.3 0.8-2.2 0.5-2.2 0.2-2.2 0.1-2.2 0-2.2 0-2.2 0-2.3 0.1-1 0.1-1.2 0.1-2.2 0.3-2.2 0.4-2.2 0.3-2.2 0.3-2.3 0.2-2.2 0.1-2.2 0-2.2-0.1-2.2-0.2-2.2-0.2-2.3-0.3-2.2-0.2-2.2 0-2.2 0.1-2.2 0.2-2.2 0.2-2.3 0.2-2.2 0-2.2-0.3zM396.7 447.3l-1.3-0.4-1-0.4-2.2-1.4-0.4-0.5-1.8-1.5-0.6-0.7-1.6-1.7-0.4-0.5-1.8-2.1-0.1-0.1-1.8-2.2-0.3-0.4-1.4-1.8-0.9-1.1-0.8-1.1-1.4-1.8-0.3-0.5-1.6-2.2-0.3-0.3-1.3-1.9-0.9-1.3-0.7-0.9-1.5-2.2 0-0.1-1.5-2.1-0.7-1.2-0.7-1.1-1.4-2.2-0.2-0.1-1.3-2.1-0.9-1.4-0.5-0.8-1.3-2.2-0.4-0.8-0.8-1.4-1.1-2.2-0.3-0.7-0.7-1.6-0.8-2.2-0.6-2.2-0.1-0.5-0.4-1.7-0.4-2.2-0.2-2.2-0.2-2.2-0.1-2.3-0.1-2.2 0.1-2.2 0-2.2 0.2-2.2 0.2-2.2 0.2-2.2 0.2-2.3 0.4-2.2 0.1-0.8 0.2-1.4 0.4-2.2 0.5-2.2 0.6-2.2 0.5-1.9 0.1-0.4 0.7-2.2 0.8-2.2 0.6-1.6 0.2-0.6 1-2.2 1-2.2 0-0.2 1-2 1.1-2.3 0.1-0.3 1-1.9 1.1-2.2 0.2-0.3 0.9-1.9 1.2-2.2 0.1-0.2 1-2 1.1-2.3 0.1-0.1 1-2.1 1.1-2.2 0.1-0.1 1.1-2.1 1.1-2.1 0.1-0.1 1.2-2.2 0.9-1.7 0.3-0.5 1.3-2.3 0.7-1 0.7-1.2 1.5-2.2 1.6-2.2 0.6-0.9 1.1-1.3 1.1-1.4 0.8-0.8 1.4-1.4 1.1-0.8 1.1-0.9 2.3-1 2.2-0.2 2.2 0.6 2 1.5 0.2 0.1 2 2.1 0.2 0.2 1.5 2 0.7 1 0.8 1.2 1.5 2.2 1.3 2.2 0.9 1.6 0.3 0.6 1.2 2.3 0.7 1.2 0.5 1 1.2 2.2 0.5 1.1 0.6 1.1 1.1 2.2 0.5 1.2 0.5 1 1.1 2.2 0.6 1.5 0.4 0.8 1 2.2 0.8 1.8 0.2 0.4 1 2.2 1 2.2 0.1 0.1 0.9 2.1 0.9 2.3 0.4 0.8 0.6 1.4 0.8 2.2 0.8 2 0.1 0.2 0.8 2.2 0.7 2.2 0.6 2.2 0 0.1 0.6 2.2 0.5 2.2 0.4 2.2 0.3 2.2 0.3 2.2 0.1 1.8 0.1 0.4 0.1 2.3 0 2.2 0 2.2-0.1 2.2-0.1 1.5 0 0.7-0.3 2.2-0.3 2.2-0.3 2.3-0.5 2.2-0.5 2.2-0.3 1-0.3 1.2-0.7 2.2-0.7 2.2-0.5 1.3-0.3 0.9-0.9 2.3-0.9 2.2-0.1 0.2-0.9 2-1 2.2-0.3 0.8-0.7 1.4-1 2.2-0.6 1.1-0.5 1.1-1.1 2.3-0.6 1.1-0.5 1.1-1.1 2.2-0.6 1.1-0.6 1.1-1.2 2.2-0.4 0.8-0.8 1.4-1.3 2.3-0.1 0.1-1.3 2.1-0.9 1.5-0.5 0.7-1.6 2.2-0.1 0.3-1.6 1.9-0.7 0.9-1.2 1.3-1 1.1-1.4 1.1-0.8 0.8-2.2 1.3-0.6 0.2-1.6 0.4zM396.7 247.8l-1.6-0.3-0.7-0.1-2.2-0.9-2.1-1.2-0.1-0.1-2.2-1.6-0.7-0.5-1.5-1.4-0.9-0.8-1.3-1.4-0.8-0.9-1.5-1.6-0.4-0.6-1.8-2.2-1.6-2.2-0.6-0.7-1.1-1.5-1.1-1.6-0.5-0.6-1.5-2.2-0.2-0.3-1.4-2-0.8-1.1-0.8-1.1-1.5-2.1 0-0.1-1.6-2.2-0.6-0.8-0.9-1.4-1.3-1.8-0.3-0.4-1.4-2.2-0.5-0.7-1-1.6-1.2-1.9-0.2-0.3-1.4-2.2-0.6-1.1-0.7-1.1-1.2-2.2-0.4-0.6-0.8-1.6-1.1-2.3-0.3-0.4-0.8-1.8-0.9-2.2-0.5-1.2-0.4-1-0.7-2.2-0.6-2.2-0.5-2.2-0.4-2.3-0.2-2.2-0.1-2.2 0-2.2 0.1-2.2 0.3-2.2 0.3-2.1 0-0.1 0.5-2.3 0.5-2.2 0.7-2.2 0.5-1.7 0.2-0.5 0.8-2.2 0.9-2.2 0.3-0.9 0.6-1.4 1-2.2 0.6-1.3 0.5-0.9 1.1-2.2 0.7-1.2 0.5-1 1.3-2.2 0.4-0.8 0.9-1.4 1.3-2.3 1.4-2.2 0.8-1.2 0.6-1 1.5-2.2 0.1-0.2 1.5-2 0.7-1.1 0.8-1.1 1.5-2 0.1-0.2 1.6-2.3 0.5-0.6 1.2-1.6 1-1.3 0.6-0.9 1.6-2.1 0.1-0.1 1.7-2.2 0.4-0.5 1.4-1.7 0.8-1.1 1-1.2 1.3-1.4 0.7-0.8 1.5-1.6 0.6-0.6 1.6-1.5 1-0.7 1.2-0.9 2.2-1.3 0.2 0 2-0.7 2.3-0.2 2.2 0.3 1.6 0.6 0.6 0.2 2.2 1.1 1.2 0.9 1 0.7 1.9 1.5 0.3 0.3 2.1 1.9 0.2 0.2 1.8 2 0.4 0.5 1.4 1.8 0.8 0.9 0.9 1.3 1.3 1.7 0.3 0.5 1.5 2.2 0.4 0.6 1 1.6 1.2 1.9 0.2 0.3 1.4 2.3 0.6 1 0.8 1.2 1.4 2.2 0.1 0.1 1.3 2.1 0.9 1.4 0.5 0.8 1.4 2.2 0.3 0.5 1.1 1.7 1.1 1.7 0.3 0.6 1.5 2.2 0.4 0.7 0.9 1.5 1.3 2.1 0.1 0.1 1.3 2.2 0.9 1.6 0.3 0.6 1.1 2.2 0.8 1.6 0.3 0.7 0.9 2.2 0.9 2.2 0.1 0.2 0.7 2 0.7 2.2 0.5 2.2 0.3 1.4 0.2 0.9 0.3 2.2 0.3 2.2 0.1 2.2 0 2.2 0 2.2-0.2 2.2-0.3 2.3-0.4 2.2-0.5 2.2-0.6 2.2-0.7 2.2-0.4 1.2-0.4 1-0.9 2.2-0.9 2.1-0.1 0.2-1.1 2.2-1 2-0.2 0.2-1.2 2.2-0.9 1.4-0.4 0.8-1.4 2.2-0.4 0.6-1.1 1.7-1.1 1.6-0.3 0.6-1.5 2.2-0.4 0.5-1.2 1.7-1 1.5-0.5 0.7-1.5 2.2-0.2 0.4-1.3 1.8-1 1.4-0.6 0.9-1.5 2.2-0.1 0.1-1.5 2.1-0.7 1-0.9 1.2-1.3 1.8-0.3 0.4-1.8 2.2-0.1 0.2-1.8 2-0.4 0.5-1.7 1.8-0.5 0.5-1.9 1.7-0.4 0.3-2.2 1.7-0.3 0.2-1.9 1.2-2.2 0.9-0.6 0.1-1.6 0.3z"/>
<path fill="#00beff" d="M86.4 482.3l2.2 0 2.2 0 2.2 0 2.3 0 2.2 0 2.2 0 2.2 0 2.2 0 2.2 0 2.3 0 2.2 0 2.2 0 2.2 0 2.2 0 2.2 0 2.3 0 2.2 0 2.2 0 2.2 0 2.2 0 2.2 0 2.3 0 2.2 0 2.2 0 2.2 0 2.2 0 2.2 0 2.3 0 2.2 0 2.2 0 0.4 0 1.5-2.2 0.3-0.7 0.8-1.5 0.7-2.2 0.4-2.3 0.1-2.2-0.2-2.2-0.4-2.2-0.6-2.2-0.7-2.2-0.1-0.3-0.7-1.9-0.8-2.3-0.7-1.6-0.2-0.6-0.9-2.2-1-2.2-0.1-0.2-0.9-2-1.1-2.2-0.2-0.5-0.9-1.8-1.1-2.2-0.3-0.4-0.9-1.8-1.2-2.2-0.1-0.2-1.1-2-1.1-2-0.1-0.2-1.3-2.2-0.8-1.5-0.5-0.8-1.2-2.2-0.5-0.8-0.8-1.4-1.2-2.2-0.2-0.4-1-1.8-1.2-2.2-0.1-0.2-1-2.1-1-2.2-0.2-0.3-0.8-1.9-0.9-2.2-0.5-1.4-0.3-0.8-0.7-2.2-0.7-2.2-0.5-2.1 0-0.2-0.6-2.2-0.4-2.2-0.4-2.2-0.3-2.2-0.3-2.2-0.2-1.9-0.1-0.3-0.2-2.3-0.1-2.2-0.2-2.2-0.1-2.2-0.1-2.2-0.1-2.2 0-2.2-0.1-2.3 0-2.2 0-2.2 0-2.2 0-2.2 0-2.2 0-2.3 0.1-2.2 0.1-2.2 0-2.2 0.2-2.2 0.1-2.2 0.2-2.2 0.2-2.3 0.1-0.7 0.1-1.5 0.3-2.2 0.4-2.2 0.4-2.2 0.4-2.2 0.5-2.3 0.1-0.2 0.5-2 0.6-2.2 0.7-2.2 0.4-1.1 0.4-1.1 0.8-2.2 0.9-2.2 0.1-0.4 0.8-1.9 1-2.2 0.4-0.9 0.7-1.3 1-2.2 0.6-1.1 0.5-1.1 1.1-2.2 0.6-1.1 0.6-1.1 1.1-2.3 0.5-0.9 0.7-1.3 1.1-2.2 0.4-0.9 0.7-1.3 1.1-2.2 0.4-1 0.7-1.2 1-2.3 0.5-1.4 0.4-0.8 0.8-2.2 0.7-2.2 0.4-2 0-0.2 0.2-2.2-0.1-2.2-0.1-1-0.2-1.3-0.6-2.2-0.7-2.2-0.8-1.6-0.2-0.6-1-2.2-1-2-0.1-0.2-1.1-2.2-1-1.7-0.3-0.6-1.2-2.2-0.7-1.1-0.7-1.1-1.4-2.2-0.1-0.2-1.3-2-0.9-1.5-0.5-0.7-1.5-2.3-0.3-0.4-1.1-1.8-1.1-1.7-0.3-0.5-1.2-2.2-0.7-1.2-0.5-1-1.1-2.2-0.6-1.3-0.4-0.9-1-2.3-0.8-2.1 0-0.1-0.8-2.2-0.8-2.2-0.6-2.1-0.1-0.1-0.6-2.2-0.6-2.2-0.6-2.3-0.4-1.3-0.2-0.9-0.5-2.2-0.5-2.2-0.4-2.2-0.4-2.2-0.2-0.8-0.2-1.4-0.4-2.3-0.3-2.2-0.3-2.2-0.2-2.2-0.2-2.2-0.2-2.2-0.1-2.3 0-2.2 0-2.2 0-2.2 0.1-2.2 0.2-2.2 0.2-2.2 0.2-2.3 0.3-2.2 0.3-2.2 0.4-2.2 0.2-1.1 0.2-1.1 0.5-2.2 0.5-2.3 0.6-2.2 0.4-1.5 0.2-0.7 0.7-2.2 0.8-2.2 0.6-1.7 0.1-0.5 0.9-2.2 0.9-2.3 0.3-0.6 0.6-1.6 1.1-2.2 0.5-1.2 0.5-1 1.1-2.2 0.6-1.3 0.5-0.9 1.1-2.2 0.6-1.3 0.5-1 1.2-2.2 0.5-1.1 0.6-1.1 1.2-2.2 0.5-1 0.6-1.2 1.2-2.2 0.4-0.8 0.8-1.5 1.2-2.2 0.2-0.4 1-1.8 1.2-2 0.1-0.2 1.4-2.2 0.7-1.2 0.8-1 1.4-2.1 0.1-0.1 1.8-2.3 0.4-0.5 1.4-1.7 0.8-1.1 1-1.1 1.2-1.7 0.4-0.5-0.4 0-2.2 0-2.2 0-2.3 0-2.2 0-2.2 0-2.2 0-2.2 0-2.2 0-2.3 0-2.2 0-2.2 0-2.2 0-2.2 0-2.2 0-2.3 0-2.2 0-2.2 0-2.2 0-2.2 0-2.2 0-2.3 0-2.2 0-2.2 0-2.2 0-2.2 0-2.2 0-2.3 0-2.2 0-2.2 0-2.2 0 0 2.2 0 2.2 0 2.2 0 2.3 0 2.2 0 2.2 0 2.2 0 2.2 0 2.2 0 2.2 0 2.3 0 2.2 0 2.2 0 2.2 0 2.2 0 2.2 0 2.3 0 2.2 0 2.2 0 2.2 0 2.2 0 2.2 0 2.2 0 2.3 0 2.2 0 2.2 0 2.2 0 2.2 0 2.2 0 2.2 0 2.3 0 2.2 0 2.2 0 2.2 0 2.2 0 2.2 0 2.3 0 2.2 0 2.2 0 2.2 0 2.2 0 2.2 0 2.2 0 2.3 0 2.2 0 2.2 0 2.2 0 2.2 0 2.2 0 2.2 0 2.3 0 2.2 0 2.2 0 2.2 0 2.2 0 2.2 0 2.3 0 2.2 0 2.2 0 2.2 0 2.2 0 2.2 0 2.2 0 2.3 0 2.2 0 2.2 0 2.2 0 2.2 0 2.2 0 2.2 0 2.3 0 2.2 0 2.2 0 2.2 0 2.2 0 2.2 0 2.3 0 2.2 0 2.2 0 2.2 0 2.2 0 2.2 0 2.2 0 2.3 0 2.2 0 2.2 0 2.2 0 2.2 0 2.2 0 2.2 0 2.3 0 2.2 0 2.2 0 2.2 0 2.2 0 2.2 0 2.3 0 2.2 0 2.2 0 2.2 0 2.2 0 2.2 0 2.2 0 2.3 0 2.2 0 2.2 0 2.2 0 2.2 0 2.2 0 2.2 0 2.3 0 2.2 0 2.2 0 2.2 0 2.2 0 2.2 0 2.3 0 2.2 0 2.2 0 2.2 0 2.2 0 2.2 0 2.2 0 2.3 0 2.2 0 2.2 0 2.2 0 2.2 0 2.2 0 2.3 0 2.2 0 2.2 0 2.2 0 2.2 0 2.2 0 2.2 0 2.3 0 2.2 0 2.2 0 2.2 0 2.2 0 2.2 0 2.2 0 2.3 0 2.2 0 2.2 0 2.2 0 2.2 0 2.2 0 2.2 0 2.3 0 2.2 0 2.2 0 2.2 0 2.2 0 2.2 0 2.3 0 2.2 0 2.2 0 2.2 0 2.2 0 2.2 0 2.2 0 2.3 0 2.2 0 2.2 0 2.2 0 2.2 0 2.2 0 2.3 0 2.2 0 2.2 0 2.2 0 2.2 0 2.2 0 2.2 0 2.3 0 2.2 0 2.2zM247 480.1l1.2 2.2 2.2 0 2.2 0 2.2 0 2.2 0 2.3 0 2.2 0 2.2 0 2.2 0 2.2 0 2.2 0 2.3 0 2.2 0 2.2 0 2.2 0 2.2 0 2.2 0 2.2 0 2.3 0 2.2 0 2.2 0 2.2 0 2.2 0 2.2 0 2.3 0 2.2 0 2.2 0 2.2 0 2.2 0 2.2 0 2.3 0 2.2 0 2.2 0 2.2 0 2.2 0 2.2 0 2.3 0 2.2 0 2.2 0 2.2 0 2.2 0 2.2 0 2.3 0 2.2 0 2.2 0 2.2 0 2.2 0 2.2 0 2.2 0 2.3 0 2.2 0 2.2 0 2.2 0 2.2 0 2.2 0 2.3 0 2.2 0 2.2 0 2.2 0 2.2 0 2.2 0 2.3 0 2.2 0 2.2 0 2.2 0 2.2 0 2.2 0 2.3 0 2.2 0 2.2 0 2.2 0 2.2 0 2.2 0 2.3 0 2.2 0 2.2 0 2.2 0 2.2 0 2.2 0 2.2 0 2.3 0 2.2 0 2.2 0 2.2 0 2.2 0 2.2 0 2.3 0 2.2 0 2.2 0 2.2 0 2.2 0 2.2 0 2.3 0 2.2 0 2.2 0 2.2 0 2.2 0 2.2 0 2.3 0 2.2 0 2.2 0 2.2 0 2.2 0 2.2 0 2.3 0 2.2 0 2.2 0 2.2 0 0-2.2 0-2.2 0-2.2 0-2.3 0-2.2 0-2.2 0-2.2 0-2.2 0-2.2 0-2.2 0-2.3 0-2.2 0-2.2 0-2.2 0-2.2 0-2.2 0-2.3 0-2.2 0-2.2 0-2.2 0-2.2 0-2.2 0-2.2 0-2.3 0-2.2 0-2.2 0-2.2 0-2.2 0-2.2 0-2.3 0-2.2 0-2.2 0-2.2 0-2.2 0-2.2 0-2.2 0-2.3 0-2.2 0-2.2 0-2.2 0-2.2 0-2.2 0-2.2 0-2.3 0-2.2 0-2.2 0-2.2 0-2.2 0-2.2 0-2.2 0-2.3 0-2.2 0-2.2 0-2.2 0-2.2 0-2.2 0-2.3 0-2.2 0-2.2 0-2.2 0-2.2 0-2.2 0-2.2 0-2.3 0-2.2 0-2.2 0-2.2 0-2.2 0-2.2 0-2.3 0-2.2 0-2.2 0-2.2 0-2.2 0-2.2 0-2.2 0-2.3 0-2.2 0-2.2 0-2.2 0-2.2 0-2.2 0-2.2 0-2.3 0-2.2 0-2.2 0-2.2 0-2.2 0-2.2 0-2.3 0-2.2 0-2.2 0-2.2 0-2.2 0-2.2 0-2.2 0-2.3 0-2.2 0-2.2 0-2.2 0-2.2 0-2.2 0-2.2 0-2.3 0-2.2 0-2.2 0-2.2 0-2.2 0-2.2 0-2.3 0-2.2 0-2.2 0-2.2 0-2.2 0-2.2 0-2.2 0-2.3 0-2.2 0-2.2 0-2.2 0-2.2 0-2.2 0-2.2 0-2.3 0-2.2 0-2.2 0-2.2 0-2.2 0-2.2 0-2.3 0-2.2 0-2.2 0-2.2 0-2.2 0-2.2 0-2.2 0-2.3 0-2.2 0-2.2 0-2.2 0-2.2 0-2.2 0-2.2 0-2.3 0-2.2 0-2.2 0-2.2 0-2.2 0-2.2 0-2.3 0-2.2 0-2.2 0-2.2 0-2.2 0-2.2 0-2.2 0-2.3 0-2.2 0-2.2 0-2.2 0-2.2 0-2.2 0-2.2 0-2.3 0-2.2 0-2.2 0-2.2 0-2.2 0-2.2 0-2.3 0-2.2 0-2.2 0-2.2 0-2.2 0-2.2 0-2.2 0-2.3 0-2.2 0-2.2 0-2.2-2.2 0-2.2 0-2.2 0-2.3 0-2.2 0-2.2 0-2.2 0-2.2 0-2.2 0-2.3 0-2.2 0-2.2 0-2.2 0-2.2 0-2.2 0-2.3 0-2.2 0-2.2 0-2.2 0-2.2 0-2.2 0-2.3 0-2.2 0-2.2 0-2.2 0-2.2 0-2.2 0-2.3 0-2.2 0-2.2 0-2.2 0-2.2 0-2.2 0-2.2 0-2.3 0-2.2 0-2.2 0-2.2 0-2.2 0-2.2 0-2.3 0-2.2 0-2.2 0-2.2 0-2.2 0-2.2 0-2.3 0-2.2 0-2.2 0-2.2 0-2.2 0-2.2 0-2.3 0-2.2 0-2.2 0-2.2 0-2.2 0-2.2 0-2.3 0-2.2 0-2.2 0-2.2 0-2.2 0-2.2 0-2.2 0-2.3 0-2.2 0-2.2 0-2.2 0-2.2 0-2.2 0-2.3 0-2.2 0-2.2 0-2.2 0-2.2 0-2.2 0-2.3 0-2.2 0-2.2 0-2.2 0-2.2 0-2.2 0-2.3 0-2.2 0-2.2 0-2.2 0-2.2 0-2.2 0-2.3 0-2.2 0-2.2 0-2.2 0-2.2 0-2.2 0-2.2 0-2.3 0-2.2 0-2.2 0-2.2 0-2.2 0-2.2 0-2.3 0-2.2 0-2.2 0-2.2 0-2.2 0 1.2 2.2 1 1.7 0.3 0.5 1.2 2.2 0.7 1.1 0.7 1.2 1.3 2.2 0.2 0.3 1.2 1.9 1 1.6 0.4 0.6 1.4 2.2 0.5 0.7 0.9 1.5 1.3 2.1 0.1 0.1 1.3 2.3 0.8 1.4 0.4 0.8 1.2 2.2 0.6 1.1 0.5 1.1 1 2.2 0.7 1.6 0.3 0.6 0.9 2.3 0.8 2.2 0.2 0.7 0.6 1.5 0.7 2.2 0.6 2.2 0.4 1 0.3 1.2 0.6 2.2 0.6 2.3 0.5 2.2 0.2 0.5 0.4 1.7 0.5 2.2 0.5 2.2 0.4 2.2 0.4 2.1 0 0.1 0.4 2.3 0.3 2.2 0.3 2.2 0.3 2.2 0.2 2.2 0.1 2.2 0.1 2.3 0.1 2.2 0 2.2 0 2.2-0.1 2.2-0.1 2.2-0.2 2.2-0.3 2.3-0.2 2.2-0.4 2.2-0.4 2.2-0.1 0.8-0.3 1.4-0.4 2.2-0.5 2.2-0.6 2.3-0.4 1.5-0.2 0.7-0.7 2.2-0.7 2.2-0.6 1.9-0.2 0.3-0.8 2.2-0.9 2.3-0.4 0.9-0.5 1.3-1 2.2-0.7 1.5-0.3 0.7-1.1 2.2-0.8 1.7-0.3 0.5-1.1 2.2-0.8 1.6-0.3 0.7-1.2 2.2-0.7 1.4-0.4 0.8-1.2 2.2-0.6 1.3-0.5 0.9-1.2 2.2-0.6 1.1-0.6 1.1-1.2 2.3-0.4 0.6-0.9 1.6-1.3 2.1 0 0.1-1.5 2.2-0.7 1.1-0.9 1.1-1.3 1.9-0.3 0.3-1.8 2.3-0.1 0.1-1.8 2.1-0.5 0.6-1.4 1.6-0.8 1.1-0.9 1.1-1.3 2.2-1.1 2.2-0.7 2.2-0.3 2.3-0.1 1.3 0 0.9 0 0.7 0.1 1.5 0.3 2.2 0.4 2.2 0.6 2.2 0.7 2.2 0.1 0.3 0.7 2 0.8 2.2 0.7 1.7 0.2 0.5 0.9 2.2 1.1 2.2 0 0.1 1 2.1 1.2 2.3 0.1 0 1.1 2.2 1.1 1.8 0.2 0.4 1.3 2.2 0.7 1.1 0.6 1.1 1.4 2.2 0.2 0.3 1.2 1.9 1 1.5 0.5 0.8 1.4 2.2 0.3 0.5 1.1 1.7 1.2 1.9 0.1 0.3 1.3 2.2 0.8 1.4 0.4 0.8 1.2 2.2 0.6 1.3 0.4 1 1 2.2 0.8 2 0.1 0.2 0.7 2.2 0.7 2.2 0.6 2.2 0.1 0.5 0.4 1.8 0.4 2.2 0.4 2.2 0.3 2.2 0.3 2.2 0.2 2.2 0.2 2.2 0 0.5 0.2 1.8 0.1 2.2 0.1 2.2 0.2 2.2 0.1 2.2 0.1 2.2 0.1 2.3 0 2.2 0.1 2.2 0.1 2.2 0.1 2.2 0 2.2 0.1 2.2 0 2.3 0 2.2 0 2.2 0 2.2-0.1 2.2-0.1 2.2-0.2 2.2-0.2 2.3-0.3 2.2-0.3 2.2-0.1 0.1-0.3 2.1-0.5 2.2-0.6 2.2-0.6 2.2-0.2 0.7-0.5 1.6-0.8 2.2-0.8 2.2-0.1 0.2-0.9 2-1 2.2-0.3 0.7-0.8 1.5-1.1 2.3-0.3 0.5-1 1.7-1.2 2.1-0.1 0.1-1.4 2.2-0.8 1.3-0.6 0.9-1.4 2.2-0.2 0.3-1.2 1.9-1 1.6-0.4 0.7-1.4 2.2-0.4 0.8-0.9 1.4-1.2 2.2-0.1 0.3-1.1 1.9-1 2.2-0.1 0.5-0.8 1.8-0.8 2.2-0.5 2.2-0.2 1-0.2 1.2-0.1 2.2 0.3 2.2 0 0.3 0.5 1.9 0.7 2.3 1 2.2 0.1 0.1zM394.4 452l-1-0.7-1.2-0.8-1.4-1.4-0.8-0.8-1.2-1.4-1-1.1-0.9-1.2-1.3-1.6-0.4-0.6-1.8-2.2 0-0.1-1.7-2.1-0.6-0.8-1.1-1.4-1.1-1.5-0.5-0.7-1.7-2.2-1.6-2.3-0.6-0.7-1-1.5-1.2-1.6-0.4-0.6-1.6-2.2-0.2-0.4-1.4-1.8-0.9-1.3-0.6-0.9-1.5-2.3-0.1 0-1.5-2.2-0.7-1-0.8-1.2-1.4-2.1-0.1-0.1-1.3-2.2-0.8-1.5-0.4-0.7-1-2.2-0.7-2.3-0.1-0.3-0.6-1.9-0.4-2.2-0.3-2.2-0.2-2.2-0.2-2.2 0-2.2 0-2.3 0.1-2.2 0.1-2.2 0.1-2.2 0.2-2.2 0.2-2.2 0.3-2.3 0.3-2.2 0.3-2.2 0.1-0.6 0.2-1.6 0.4-2.2 0.5-2.2 0.5-2.2 0.5-2.3 0.1-0.1 0.6-2.1 0.7-2.2 0.8-2.2 0.1-0.2 0.8-2 0.9-2.2 0.5-1 0.6-1.2 1.1-2.3 0.5-1 0.6-1.2 1.2-2.2 0.4-0.9 0.7-1.3 1.2-2.2 0.4-0.7 0.7-1.5 1.2-2.3 0.3-0.5 0.8-1.7 1.2-2.2 0.2-0.4 0.9-1.8 1.2-2.2 0.1-0.3 1-1.9 1.2-2.2 1.3-2.3 0.9-1.6 0.4-0.6 1.3-2.2 0.6-0.9 0.8-1.3 1.4-2.2 1.6-2.2 0.6-0.9 1-1.3 1.2-1.6 0.6-0.7 1.6-1.8 0.5-0.4 1.7-1.5 1.5-0.7 0.8-0.4 2.2-0.3 2.2 0.7 0.1 0 2.1 1.6 0.6 0.6 1.6 1.9 0.3 0.3 1.5 2.3 0.4 0.5 1 1.7 1.3 1.9 0.1 0.3 1.3 2.2 0.8 1.4 0.4 0.8 1.2 2.2 0.6 1.1 0.6 1.1 1.1 2.3 0.5 0.9 0.6 1.3 1.1 2.2 0.5 1 0.6 1.2 1.1 2.2 0.5 1.2 0.5 1 1.1 2.2 0.6 1.4 0.4 0.9 1.1 2.2 0.8 1.7 0.2 0.5 1 2.2 1 2.1 0 0.1 1 2.2 1 2.3 0.2 0.4 0.7 1.8 0.9 2.2 0.6 1.6 0.2 0.6 0.8 2.2 0.7 2.2 0.5 2 0.1 0.2 0.5 2.3 0.5 2.2 0.4 2.2 0.3 2.2 0.2 2.2 0.2 2.2 0 1.2 0.1 1.1 0.1 2.2-0.1 2.2 0 2.2-0.1 0.2-0.1 2-0.2 2.2-0.3 2.2-0.3 2.3-0.4 2.2-0.5 2.2-0.4 1.4-0.2 0.8-0.6 2.2-0.7 2.2-0.7 1.9-0.1 0.3-0.9 2.3-0.9 2.2-0.3 0.7-0.7 1.5-1 2.2-0.5 1.2-0.5 1-1.1 2.2-0.6 1.4-0.4 0.8-1.1 2.3-0.8 1.4-0.4 0.8-1.1 2.2-0.7 1.3-0.4 0.9-1.2 2.2-0.6 1.1-0.6 1.1-1.2 2.3-0.4 0.6-0.9 1.6-1.3 2.2-1.4 2.2-0.8 1.3-0.7 0.9-1.5 2.2 0 0.1-1.7 2.1-0.6 0.9-1.2 1.4-1 1.1-1.1 1.1-1.1 1.1-1.6 1.1-0.6 0.4-2.2 0.9-2.2 0.1zM394.4 252.3l-0.7-0.4-1.5-0.6-2.2-1.5-0.1-0.1-2.1-1.6-0.7-0.6-1.5-1.4-0.8-0.8-1.4-1.5-0.7-0.7-1.6-1.8-0.3-0.4-1.8-2.3-0.1-0.1-1.5-2.1-0.7-0.8-1-1.4-1.2-1.7-0.3-0.5-1.6-2.2-0.3-0.5-1.2-1.7-1-1.5-0.5-0.7-1.6-2.3-0.2-0.2-1.3-2-0.9-1.2-0.7-1-1.5-2.1 0-0.1-1.5-2.2-0.7-1-0.8-1.2-1.4-2.1-0.1-0.1-1.4-2.3-0.7-1.1-0.7-1.1-1.4-2.2-0.2-0.3-1.1-1.9-1.1-1.9-0.1-0.3-1.2-2.2-0.9-1.7-0.2-0.6-1.1-2.2-0.9-2.2-0.8-2.2-0.7-2.2-0.6-2.2-0.1-0.5-0.4-1.7-0.3-2.3-0.2-2.2-0.1-2.2 0-2.2 0.2-2.2 0.2-2.2 0.4-2.2 0.2-1 0.3-1.3 0.5-2.2 0.7-2.2 0.7-2.2 0-0.1 0.8-2.1 0.9-2.2 0.5-1.4 0.4-0.9 1-2.2 0.8-1.7 0.3-0.5 1.1-2.2 0.8-1.7 0.3-0.5 1.2-2.2 0.8-1.3 0.5-0.9 1.3-2.3 0.4-0.6 1-1.6 1.2-2 0.1-0.2 1.5-2.2 0.6-1 0.9-1.2 1.3-2 0.2-0.2 1.5-2.2 0.5-0.8 1.1-1.5 1.2-1.6 0.4-0.6 1.6-2.2 0.2-0.3 1.4-1.9 0.8-1.2 0.8-1 1.4-2 0.2-0.2 1.6-2.3 0.4-0.5 1.3-1.7 0.9-1.2 0.9-1 1.4-1.7 0.4-0.5 1.8-2.1 0.1-0.1 2.1-2.1 0.1-0.1 2.1-1.8 0.8-0.4 1.4-0.9 2.2-0.8 2.3-0.1 2.2 0.4 2.2 1.1 0.4 0.3 1.8 1 1.4 1.2 0.8 0.6 1.8 1.6 0.4 0.3 1.9 1.9 0.4 0.4 1.6 1.8 0.6 0.6 1.3 1.6 0.9 1.1 0.8 1.1 1.4 1.9 0.3 0.4 1.5 2.2 0.4 0.6 1 1.6 1.2 1.9 0.2 0.3 1.4 2.2 0.6 1 0.8 1.2 1.4 2.3 0.1 0.1 1.2 2.1 1 1.5 0.4 0.7 1.5 2.2 0.3 0.5 1.1 1.7 1.1 1.7 0.3 0.5 1.5 2.2 0.4 0.7 1 1.6 1.2 1.9 0.2 0.3 1.4 2.2 0.7 1.1 0.6 1.1 1.3 2.2 0.3 0.6 0.9 1.6 1.1 2.2 0.2 0.5 0.8 1.8 0.9 2.2 0.5 1.2 0.4 1 0.7 2.2 0.6 2.2 0.5 2 0.1 0.2 0.4 2.3 0.4 2.2 0.2 2.2 0.1 2.2 0 2.2 0 2.2-0.2 2.2-0.3 2.3-0.4 2.2-0.3 1.3-0.2 0.9-0.6 2.2-0.6 2.2-0.8 2.1 0 0.1-0.9 2.2-1 2.3-0.3 0.6-0.8 1.6-1.1 2.2-0.3 0.5-1 1.7-1.2 2.2-0.1 0-1.3 2.2-0.9 1.3-0.6 1-1.4 2.2-0.2 0.2-1.3 2-0.9 1.3-0.6 0.9-1.6 2.2 0 0.1-1.5 2.1-0.7 1.1-0.8 1.1-1.4 2.2-0.1 0.1-1.5 2.2-0.7 1-0.8 1.2-1.4 2.1-0.1 0.1-1.5 2.2-0.6 0.9-1 1.3-1.2 1.7-0.4 0.5-1.8 2.3-1.8 2.2-0.4 0.5-1.6 1.7-0.6 0.7-1.6 1.5-0.7 0.7-1.9 1.5-0.3 0.3-2.2 1.5-1 0.4-1.2 0.6-2.2 0.5-2.2-0.1z"/>
<path fill="#00dcff" d="M86.4 482.3l2.2 0 2.2 0 2.2 0 2.3 0 2.2 0 2.2 0 2.2 0 2.2 0 2.2 0 2.3 0 2.2 0 2.2 0 2.2 0 2.2 0 2.2 0 2.3 0 2.2 0 2.2 0 2.2 0 2.2 0 2.2 0 2.3 0 2.2 0 2.2 0 2.2 0 2.2 0 2.2 0 0.2 0 1.1-2.2 0.8-2.2 0.2-0.6 0.5-1.6 0.5-2.3 0.4-2.2 0.1-2.2 0-2.2-0.2-2.2-0.3-2.2-0.4-2.2-0.6-2.3 0-0.2-0.6-2-0.6-2.2-0.8-2.2-0.3-0.7-0.5-1.5-0.9-2.2-0.8-1.9-0.1-0.4-1-2.2-1-2.2-0.1-0.1-1-2.1-1.1-2.2-0.1-0.2-1-2-1.2-2.2 0-0.1-1.2-2.2-1-1.9-0.2-0.3-1.1-2.2-1-1.8-0.2-0.4-1.1-2.2-0.9-1.9-0.1-0.3-1-2.3-1-2.2-0.1-0.2-0.8-2-0.8-2.2-0.6-1.9-0.1-0.3-0.7-2.2-0.6-2.2-0.5-2.3-0.3-1.6-0.1-0.6-0.4-2.2-0.4-2.2-0.3-2.2-0.2-2.2-0.2-2.2-0.2-2.3-0.1-2.2-0.2-2.2-0.1-2.2 0-2.2 0-0.2-0.1-2-0.1-2.2 0-2.3 0-2.2 0-2.2 0-2.2-0.1-2.2 0.1-2.2 0-2.3 0-2.2 0.1-2.2 0-2.2 0.1-0.7 0-1.5 0.1-2.2 0.2-2.2 0.2-2.3 0.2-2.2 0.2-2.2 0.3-2.2 0.4-2.2 0.4-2.2 0.2-1.1 0.2-1.2 0.5-2.2 0.6-2.2 0.6-2.2 0.3-1 0.4-1.2 0.7-2.2 0.8-2.2 0.3-1 0.5-1.3 0.9-2.2 0.8-2.2 1-2.2 0.9-2.2 0.3-0.9 0.6-1.3 1-2.2 0.7-1.8 0.2-0.5 0.9-2.2 0.8-2.2 0.3-0.7 0.6-1.5 0.8-2.2 0.6-2.2 0.2-0.6 0.5-1.7 0.6-2.2 0.4-2.2 0.4-2.2 0.2-2.2 0.1-2.2 0-0.3 0-1.9-0.2-2.3-0.3-2.2-0.4-2.2-0.5-2.2-0.7-2.2-0.1-0.3-0.7-1.9-0.9-2.2-0.6-1.5-0.4-0.8-1-2.2-0.8-1.5-0.4-0.7-1.2-2.2-0.7-1.2-0.5-1-1.3-2.2-0.4-0.6-0.9-1.7-1.2-2.2-0.1-0.1-1-2.1-1.2-2.2 0-0.1-1-2.1-0.9-2.2-0.3-0.7-0.6-1.5-0.8-2.3-0.8-2.2-0.7-2.2-0.7-2.2-0.7-2.2-0.2-0.7-0.4-1.5-0.6-2.2-0.5-2.3-0.5-2.2-0.2-0.6-0.3-1.6-0.5-2.2-0.5-2.2-0.4-2.2-0.3-2.3-0.2-0.9-0.2-1.3-0.3-2.2-0.3-2.2-0.2-2.2-0.2-2.2-0.1-2.2-0.1-2.3 0-2.2 0-2.2 0.1-2.2 0.1-2.2 0.1-2.2 0.2-2.2 0.3-2.3 0.3-2.2 0.3-2 0-0.2 0.4-2.2 0.4-2.2 0.5-2.2 0.5-2.3 0.4-1.6 0.2-0.6 0.6-2.2 0.6-2.2 0.7-2.2 0.1-0.3 0.7-1.9 0.8-2.2 0.8-2 0-0.3 0.9-2.2 1-2.2 0.3-0.6 0.7-1.6 1-2.2 0.5-1 0.6-1.2 1.1-2.2 0.5-1.2 0.5-1.1 1.1-2.2 0.6-1.2 0.5-1 1.1-2.2 0.6-1.4 0.4-0.8 1.1-2.2 0.8-1.6 0.3-0.7 1-2.2 0.9-1.8 0.2-0.4 1-2.2 1-2 0.1-0.2 1.1-2.2 1-2 0.1-0.2 1.2-2.3 0.9-1.8 0.2-0.4 1.2-2.2 0.8-1.8 0.2-0.4-0.2 0-2.2 0-2.2 0-2.2 0-2.2 0-2.2 0-2.3 0-2.2 0-2.2 0-2.2 0-2.2 0-2.2 0-2.3 0-2.2 0-2.2 0-2.2 0-2.2 0-2.2 0-2.3 0-2.2 0-2.2 0-2.2 0-2.2 0-2.2 0-2.3 0-2.2 0-2.2 0-2.2 0 0 2.2 0 2.2 0 2.2 0 2.3 0 2.2 0 2.2 0 2.2 0 2.2 0 2.2 0 2.2 0 2.3 0 2.2 0 2.2 0 2.2 0 2.2 0 2.2 0 2.3 0 2.2 0 2.2 0 2.2 0 2.2 0 2.2 0 2.2 0 2.3 0 2.2 0 2.2 0 2.2 0 2.2 0 2.2 0 2.2 0 2.3 0 2.2 0 2.2 0 2.2 0 2.2 0 2.2 0 2.3 0 2.2 0 2.2 0 2.2 0 2.2 0 2.2 0 2.2 0 2.3 0 2.2 0 2.2 0 2.2 0 2.2 0 2.2 0 2.2 0 2.3 0 2.2 0 2.2 0 2.2 0 2.2 0 2.2 0 2.3 0 2.2 0 2.2 0 2.2 0 2.2 0 2.2 0 2.2 0 2.3 0 2.2 0 2.2 0 2.2 0 2.2 0 2.2 0 2.2 0 2.3 0 2.2 0 2.2 0 2.2 0 2.2 0 2.2 0 2.3 0 2.2 0 2.2 0 2.2 0 2.2 0 2.2 0 2.2 0 2.3 0 2.2 0 2.2 0 2.2 0 2.2 0 2.2 0 2.2 0 2.3 0 2.2 0 2.2 0 2.2 0 2.2 0 2.2 0 2.3 0 2.2 0 2.2 0 2.2 0 2.2 0 2.2 0 2.2 0 2.3 0 2.2 0 2.2 0 2.2 0 2.2 0 2.2 0 2.2 0 2.3 0 2.2 0 2.2 0 2.2 0 2.2 0 2.2 0 2.3 0 2.2 0 2.2 0 2.2 0 2.2 0 2.2 0 2.2 0 2.3 0 2.2 0 2.2 0 2.2 0 2.2 0 2.2 0 2.3 0 2.2 0 2.2 0 2.2 0 2.2 0 2.2 0 2.2 0 2.3 0 2.2 0 2.2 0 2.2 0 2.2 0 2.2 0 2.2 0 2.3 0 2.2 0 2.2 0 2.2 0 2.2 0 2.2 0 2.2 0 2.3 0 2.2 0 2.2 0 2.2 0 2.2 0 2.2 0 2.3 0 2.2 0 2.2 0 2.2 0 2.2 0 2.2 0 2.2 0 2.3 0 2.2 0 2.2 0 2.2 0 2.2 0 2.2 0 2.3 0 2.2 0 2.2 0 2.2 0 2.2 0 2.2 0 2.2 0 2.3 0 2.2 0 2.2zM252.3 480.1l0.3 0.8 0.5 1.4 1.7 0 2.2 0 2.3 0 2.2 0 2.2 0 2.2 0 2.2 0 2.2 0 2.3 0 2.2 0 2.2 0 2.2 0 2.2 0 2.2 0 2.2 0 2.3 0 2.2 0 2.2 0 2.2 0 2.2 0 2.2 0 2.3 0 2.2 0 2.2 0 2.2 0 2.2 0 2.2 0 2.3 0 2.2 0 2.2 0 2.2 0 2.2 0 2.2 0 2.3 0 2.2 0 2.2 0 2.2 0 2.2 0 2.2 0 2.3 0 2.2 0 2.2 0 2.2 0 2.2 0 2.2 0 2.2 0 2.3 0 2.2 0 2.2 0 2.2 0 2.2 0 2.2 0 2.3 0 2.2 0 2.2 0 2.2 0 2.2 0 2.2 0 2.3 0 2.2 0 2.2 0 2.2 0 2.2 0 2.2 0 2.3 0 2.2 0 2.2 0 2.2 0 2.2 0 2.2 0 2.3 0 2.2 0 2.2 0 2.2 0 2.2 0 2.2 0 2.2 0 2.3 0 2.2 0 2.2 0 2.2 0 2.2 0 2.2 0 2.3 0 2.2 0 2.2 0 2.2 0 2.2 0 2.2 0 2.3 0 2.2 0 2.2 0 2.2 0 2.2 0 2.2 0 2.3 0 2.2 0 2.2 0 2.2 0 2.2 0 2.2 0 2.3 0 2.2 0 2.2 0 2.2 0 0-2.2 0-2.2 0-2.2 0-2.3 0-2.2 0-2.2 0-2.2 0-2.2 0-2.2 0-2.2 0-2.3 0-2.2 0-2.2 0-2.2 0-2.2 0-2.2 0-2.3 0-2.2 0-2.2 0-2.2 0-2.2 0-2.2 0-2.2 0-2.3 0-2.2 0-2.2 0-2.2 0-2.2 0-2.2 0-2.3 0-2.2 0-2.2 0-2.2 0-2.2 0-2.2 0-2.2 0-2.3 0-2.2 0-2.2 0-2.2 0-2.2 0-2.2 0-2.2 0-2.3 0-2.2 0-2.2 0-2.2 0-2.2 0-2.2 0-2.2 0-2.3 0-2.2 0-2.2 0-2.2 0-2.2 0-2.2 0-2.3 0-2.2 0-2.2 0-2.2 0-2.2 0-2.2 0-2.2 0-2.3 0-2.2 0-2.2 0-2.2 0-2.2 0-2.2 0-2.3 0-2.2 0-2.2 0-2.2 0-2.2 0-2.2 0-2.2 0-2.3 0-2.2 0-2.2 0-2.2 0-2.2 0-2.2 0-2.2 0-2.3 0-2.2 0-2.2 0-2.2 0-2.2 0-2.2 0-2.3 0-2.2 0-2.2 0-2.2 0-2.2 0-2.2 0-2.2 0-2.3 0-2.2 0-2.2 0-2.2 0-2.2 0-2.2 0-2.2 0-2.3 0-2.2 0-2.2 0-2.2 0-2.2 0-2.2 0-2.3 0-2.2 0-2.2 0-2.2 0-2.2 0-2.2 0-2.2 0-2.3 0-2.2 0-2.2 0-2.2 0-2.2 0-2.2 0-2.2 0-2.3 0-2.2 0-2.2 0-2.2 0-2.2 0-2.2 0-2.3 0-2.2 0-2.2 0-2.2 0-2.2 0-2.2 0-2.2 0-2.3 0-2.2 0-2.2 0-2.2 0-2.2 0-2.2 0-2.2 0-2.3 0-2.2 0-2.2 0-2.2 0-2.2 0-2.2 0-2.3 0-2.2 0-2.2 0-2.2 0-2.2 0-2.2 0-2.2 0-2.3 0-2.2 0-2.2 0-2.2 0-2.2 0-2.2 0-2.2 0-2.3 0-2.2 0-2.2 0-2.2 0-2.2 0-2.2 0-2.3 0-2.2 0-2.2 0-2.2 0-2.2 0-2.2 0-2.2 0-2.3 0-2.2 0-2.2 0-2.2-2.2 0-2.2 0-2.2 0-2.3 0-2.2 0-2.2 0-2.2 0-2.2 0-2.2 0-2.3 0-2.2 0-2.2 0-2.2 0-2.2 0-2.2 0-2.3 0-2.2 0-2.2 0-2.2 0-2.2 0-2.2 0-2.3 0-2.2 0-2.2 0-2.2 0-2.2 0-2.2 0-2.3 0-2.2 0-2.2 0-2.2 0-2.2 0-2.2 0-2.2 0-2.3 0-2.2 0-2.2 0-2.2 0-2.2 0-2.2 0-2.3 0-2.2 0-2.2 0-2.2 0-2.2 0-2.2 0-2.3 0-2.2 0-2.2 0-2.2 0-2.2 0-2.2 0-2.3 0-2.2 0-2.2 0-2.2 0-2.2 0-2.2 0-2.3 0-2.2 0-2.2 0-2.2 0-2.2 0-2.2 0-2.2 0-2.3 0-2.2 0-2.2 0-2.2 0-2.2 0-2.2 0-2.3 0-2.2 0-2.2 0-2.2 0-2.2 0-2.2 0-2.3 0-2.2 0-2.2 0-2.2 0-2.2 0-2.2 0-2.3 0-2.2 0-2.2 0-2.2 0-2.2 0-2.2 0-2.3 0-2.2 0-2.2 0-2.2 0-2.2 0-2.2 0-2.2 0-2.3 0-2.2 0-2.2 0-2.2 0-2.2 0-2.2 0-2.3 0-2.2 0-1.7 0 0.9 2.2 0.8 1.8 0.2 0.4 1.1 2.2 0.9 1.9 0.2 0.4 1.2 2.2 0.9 1.5 0.3 0.7 1.3 2.2 0.6 1 0.7 1.2 1.2 2.2 0.3 0.5 0.9 1.7 1.2 2.3 0.1 0.2 1 2 1 2.2 0.2 0.4 0.8 1.8 0.9 2.2 0.5 1.4 0.3 0.8 0.8 2.3 0.7 2.2 0.5 1.2 0.2 1 0.7 2.2 0.6 2.2 0.6 2.2 0.1 0.2 0.5 2 0.6 2.3 0.5 2.2 0.5 2.2 0.1 0.3 0.4 1.9 0.5 2.2 0.4 2.2 0.4 2.2 0.4 2.3 0.1 0.9 0.2 1.3 0.3 2.2 0.2 2.2 0.2 2.2 0.2 2.2 0.1 2.3 0 2.2 0 2.2 0 2.2-0.1 2.2-0.1 2.2-0.2 2.2-0.3 2.3-0.3 2.2-0.2 1.6-0.1 0.6-0.3 2.2-0.4 2.2-0.5 2.2-0.5 2.2-0.4 1.8-0.1 0.5-0.6 2.2-0.6 2.2-0.7 2.2-0.2 0.6-0.5 1.6-0.8 2.2-0.9 2.3 0 0.2-0.8 2-1 2.2-0.5 1.1-0.5 1.1-1 2.2-0.7 1.5-0.3 0.7-1.1 2.2-0.8 1.6-0.3 0.7-1.1 2.2-0.8 1.6-0.3 0.6-1.1 2.2-0.8 1.7-0.3 0.5-1.1 2.2-0.8 1.9-0.2 0.3-1.1 2.3-1 1.9-0.1 0.3-1.1 2.2-1 1.9-0.1 0.3-1.2 2.2-0.9 1.7-0.3 0.5-1.3 2.3-0.6 1.2-0.6 1-1.3 2.2-0.3 0.7-0.9 1.5-1.1 2.2-0.2 0.7-0.7 1.5-0.8 2.2-0.5 2.3-0.3 1.3-0.1 0.9-0.2 2.2 0 2.2 0.1 2.2 0.2 1.6 0.1 0.6 0.4 2.2 0.5 2.3 0.6 2.2 0.7 2.2 0.7 2.2 0.9 2.2 0.6 1.4 0.3 0.8 1 2.3 0.9 1.7 0.2 0.5 1.2 2.2 0.8 1.5 0.4 0.7 1.2 2.2 0.6 1 0.7 1.2 1.4 2.2 0.1 0.4 1.2 1.9 1.1 1.8 0.2 0.4 1.3 2.2 0.7 1.2 0.5 1 1.2 2.2 0.5 0.9 0.7 1.3 1 2.2 0.5 1.1 0.5 1.2 0.9 2.2 0.8 2.2 0 0.2 0.7 2 0.6 2.2 0.5 2.2 0.4 2.3 0.4 2.2 0.3 2.2 0.3 2.2 0.2 2.2 0.2 2.2 0.1 2.2 0.2 2.3 0.1 2.2 0.1 2.2 0.1 2.2 0.1 2.2 0.1 2.2 0.1 2.1 0 0.2 0 2.2 0.1 2.2 0.1 2.2 0.1 2.2 0.1 2.2 0 2.2 0.1 2.3 0 2.2 0 2.2 0 2.2-0.1 2.2 0 2.2-0.2 2.2-0.2 2.3 0 0.6-0.2 1.6-0.3 2.2-0.4 2.2-0.4 2.2-0.5 2.2-0.5 1.7-0.1 0.5-0.7 2.3-0.7 2.2-0.7 2.1 0 0.1-0.9 2.2-0.9 2.2-0.4 1-0.6 1.2-1 2.3-0.6 1.2-0.5 1-1.1 2.2-0.6 1.2-0.6 1-1.2 2.2-0.4 0.9-0.8 1.3-1.2 2.2-0.3 0.6-0.9 1.7-1.1 2.2-0.2 0.4-0.8 1.8-1 2.2-0.4 1.1-0.4 1.1-0.8 2.2-0.6 2.3-0.4 2.1 0 0.1-0.4 2.2-0.1 2.2 0 2.2 0.2 2.2 0.3 1.9 0 0.3 0.5 2.3 0.6 2.2zM394.4 459.1l-1.4-1.2-0.8-0.6-1.3-1.6-0.9-1-0.8-1.2-1.4-1.8-0.3-0.4-1.5-2.2-0.4-0.6-1.1-1.6-1.1-1.6-0.5-0.7-1.6-2.2-0.2-0.2-1.4-2-0.8-1-0.9-1.2-1.3-1.7-0.4-0.5-1.6-2.2-0.2-0.3-1.5-1.9-0.7-1.1-0.9-1.2-1.3-1.8-0.4-0.4-1.6-2.2-0.3-0.4-1.4-1.8-0.8-1.1-0.9-1.1-1.3-1.8-0.4-0.4-1.7-2.3-0.1-0.1-1.7-2.1-0.5-0.7-1.1-1.5-1.1-1.7-0.4-0.5-1.2-2.2-0.7-1.4-0.3-0.8-0.8-2.2-0.5-2.3-0.4-2.2-0.2-2 0-0.2-0.1-2.2 0-2.2 0.1-2.2 0-1.3 0.1-0.9 0.1-2.3 0.2-2.2 0.2-2.2 0.2-2.2 0.2-2.2 0.3-2.2 0.3-2.2 0.3-2.3 0.3-2.2 0-0.4 0.3-1.8 0.4-2.2 0.4-2.2 0.5-2.2 0.5-2.3 0.2-0.6 0.4-1.6 0.6-2.2 0.7-2.2 0.5-1.2 0.4-1 0.9-2.2 0.9-2.1 0.1-0.1 1-2.3 1.1-2.1 0.1-0.1 1.1-2.2 1-1.8 0.3-0.4 1.2-2.2 0.7-1.4 0.5-0.8 1.2-2.3 0.6-1.1 0.5-1.1 1.2-2.2 0.5-0.9 0.7-1.3 1.1-2.2 0.4-0.7 0.8-1.5 1.2-2.2 0.2-0.5 0.9-1.8 1.3-2.2 0-0.1 1.2-2.1 1-1.8 0.3-0.4 1.3-2.2 0.7-1.1 0.7-1.1 1.4-2.2 0.1-0.2 1.3-2.1 0.9-1.4 0.6-0.8 1.5-2.2 0.1-0.1 1.6-2.1 0.6-0.8 1.4-1.4 0.8-1 1.8-1.2 0.5-0.4 2.2-0.5 2.2 0.8 0.1 0.1 2.1 1.8 0.2 0.4 1.7 2.2 0.3 0.4 1.1 1.8 1.1 1.7 0.3 0.5 1.2 2.2 0.8 1.3 0.5 1 1.1 2.2 0.6 1 0.6 1.2 1.1 2.2 0.5 0.9 0.7 1.3 1.1 2.2 0.4 0.8 0.7 1.4 1.1 2.3 0.4 0.8 0.7 1.4 1.1 2.2 0.4 0.9 0.7 1.3 1 2.2 0.5 1.1 0.6 1.1 1.1 2.2 0.6 1.3 0.4 1 1.1 2.2 0.7 1.4 0.4 0.8 1 2.2 0.8 1.7 0.2 0.5 1.1 2.2 0.9 2.2 0 0.1 1 2.2 0.9 2.2 0.3 1 0.5 1.2 0.7 2.2 0.6 2.2 0.4 1.6 0.2 0.6 0.5 2.3 0.4 2.2 0.4 2.2 0.2 2.2 0.3 2.2 0.1 2.2 0.1 2.3 0.1 1.5 0 0.7 0 2.2 0 0.2-0.1 2-0.1 2.2-0.2 2.2-0.2 2.2-0.3 2.3-0.4 2.2-0.5 2.2-0.5 2 0 0.2-0.6 2.2-0.7 2.2-0.7 2.2-0.2 0.4-0.7 1.9-0.9 2.2-0.6 1.3-0.3 0.9-1.1 2.2-0.8 1.8-0.2 0.4-1.1 2.2-0.9 1.9-0.2 0.3-1.1 2.3-0.9 1.7-0.3 0.5-1.1 2.2-0.9 1.6-0.3 0.6-1.1 2.2-0.8 1.4-0.4 0.8-1.2 2.3-0.6 1-0.7 1.2-1.2 2.2-0.3 0.5-1 1.7-1.2 2.1-0.1 0.1-1.4 2.2-0.7 1.3-0.7 0.9-1.4 2.3-0.1 0.2-1.5 2-0.8 1.2-0.8 1-1.4 1.9-0.3 0.3-1.9 2.2 0 0.1-2.2 2.1-0.1 0-2.1 1.5-2.2 0.4zM396.7 259.4l-1.7-0.8-0.6-0.2-2.2-1.5-0.6-0.5-1.6-1.3-1-0.9-1.2-1.1-1.1-1.2-1.1-1-1.1-1.2-1.1-1.2-0.8-1-1.5-1.6-0.4-0.6-1.7-2.2-0.1-0.1-1.6-2.1-0.6-0.9-1-1.4-1.2-1.7-0.3-0.5-1.5-2.2-0.4-0.6-1.1-1.6-1.1-1.7-0.4-0.5-1.5-2.2-0.4-0.5-1.1-1.7-1.1-1.6-0.4-0.7-1.6-2.2-0.2-0.3-1.3-1.9-0.9-1.3-0.6-0.9-1.5-2.2-0.1-0.2-1.4-2-0.8-1.3-0.6-0.9-1.4-2.3-0.3-0.3-1.1-1.9-1.1-1.7-0.3-0.5-1.3-2.2-0.6-1-0.7-1.2-1.1-2.2-0.4-0.7-0.8-1.6-1-2.2-0.4-1-0.5-1.2-0.8-2.2-0.7-2.2-0.2-1.1-0.3-1.1-0.4-2.2-0.4-2.3-0.1-2.2-0.1-2.2 0-2.2 0.2-2.2 0.3-2.2 0.4-2.2 0.4-1.9 0-0.4 0.6-2.2 0.7-2.2 0.7-2.2 0.2-0.5 0.6-1.7 0.9-2.2 0.7-1.8 0.2-0.5 1-2.2 1-2.1 0-0.1 1.1-2.2 1.1-2.1 0.1-0.1 1.2-2.2 0.9-1.8 0.3-0.4 1.3-2.3 0.7-1.2 0.6-1 1.3-2.2 0.3-0.4 1.1-1.8 1.1-1.7 0.3-0.5 1.5-2.2 0.4-0.6 1.1-1.6 1.1-1.7 0.4-0.6 1.6-2.2 0.2-0.4 1.3-1.8 1-1.4 0.5-0.8 1.6-2.2 0.1-0.2 1.4-2 0.8-1.2 0.8-1.1 1.4-2.1 0.1-0.1 1.5-2.2 0.6-0.8 1-1.4 1.2-1.8 0.4-0.4 1.6-2.2 0.3-0.4 1.4-1.8 0.8-1.1 1-1.2 1.2-1.4 0.8-0.8 1.4-1.5 0.9-0.7 1.3-1.1 2.2-1 2.3 0 2.2 0.8 1.8 1.3 0.4 0.2 2.2 2 0.1 0 2.1 2.1 0.1 0.1 2.1 2.2 0.1 0.1 2 2.2 0.2 0.2 1.7 2 0.5 0.5 1.3 1.7 0.9 1.1 0.8 1.1 1.4 1.8 0.3 0.4 1.5 2.2 0.4 0.6 1.1 1.7 1.1 1.8 0.3 0.4 1.4 2.2 0.5 0.9 0.8 1.3 1.4 2.2 0.1 0.1 1.3 2.1 0.9 1.5 0.4 0.8 1.4 2.2 0.4 0.5 1.1 1.7 1.1 1.8 0.3 0.4 1.4 2.2 0.5 0.7 1 1.5 1.2 1.9 0.3 0.3 1.4 2.3 0.6 0.9 0.8 1.3 1.3 2.2 0.1 0 1.2 2.2 1 1.7 0.3 0.5 1.1 2.2 0.8 1.6 0.3 0.6 1 2.3 0.9 2.2 0 0.1 0.8 2.1 0.7 2.2 0.6 2.2 0.1 0.6 0.4 1.6 0.4 2.3 0.4 2.2 0.2 2.2 0.1 2.2 0 2.2 0 2.2-0.2 2.2-0.3 2.3-0.3 2.2-0.5 2.2-0.2 0.5-0.4 1.7-0.7 2.2-0.8 2.2-0.3 0.8-0.5 1.4-1 2.3-0.7 1.4-0.4 0.8-1.1 2.2-0.7 1.3-0.5 0.9-1.3 2.2-0.4 0.7-1 1.5-1.2 2.1-0.2 0.2-1.4 2.2-0.7 0.9-0.8 1.3-1.4 2-0.1 0.2-1.5 2.2-0.6 0.8-0.9 1.4-1.3 1.9-0.3 0.3-1.4 2.3-0.5 0.7-1 1.5-1.2 1.9-0.3 0.3-1.4 2.2-0.6 0.8-0.9 1.4-1.3 2-0.1 0.2-1.5 2.2-0.6 0.9-1 1.4-1.2 1.7-0.3 0.5-1.7 2.2-0.2 0.3-1.5 1.9-0.7 0.9-1.1 1.3-1.1 1.4-0.8 0.8-1.5 1.7-0.6 0.6-1.6 1.6-0.7 0.6-1.5 1.3-1.5 0.9-0.7 0.5-2.2 0.6z"/>
<path fill="#00f5ff" d="M86.4 482.3l2.2 0 2.2 0 2.2 0 2.3 0 2.2 0 2.2 0 2.2 0 2.2 0 2.2 0 2.3 0 2.2 0 2.2 0 2.2 0 2.2 0 2.2 0 2.3 0 2.2 0 2.2 0 2.2 0 2.2 0 2.2 0 2.3 0 2.2 0 2.2 0 2.2 0 0.2 0 0.8-2.2 0.7-2.2 0.5-2.1 0.1-0.1 0.5-2.3 0.3-2.2 0.3-2.2 0-2.2 0-2.2-0.1-2.2-0.3-2.2-0.4-2.3-0.4-2 0-0.2-0.6-2.2-0.6-2.2-0.7-2.2-0.3-0.9-0.4-1.3-0.9-2.3-0.9-2.2 0-0.1-0.9-2.1-1-2.2-0.3-0.7-0.7-1.5-1.1-2.2-0.4-1-0.7-1.2-1.1-2.3-0.5-1-0.5-1.2-1.1-2.2-0.6-1.1-0.5-1.1-1-2.2-0.7-1.6-0.3-0.6-0.9-2.3-0.9-2.2-0.1-0.3-0.7-1.9-0.7-2.2-0.7-2.2-0.1-0.5-0.5-1.7-0.5-2.2-0.5-2.3-0.4-2.2-0.3-2.1-0.1-0.1-0.3-2.2-0.2-2.2-0.2-2.2-0.2-2.2-0.2-2.3-0.1-2.2-0.1-2.2 0-2.2-0.1-2.2-0.1-2.2 0-2.2 0-2.3-0.1-2.2 0-2.2 0-2.2 0-2.2 0-2.2 0-2.3 0-2.2 0.1-2.2 0-2.2 0.1-2.2 0.1-2.2 0.1-2.2 0.1-2.3 0.2-2.2 0.2-2.2 0.3-2.2 0.3-2.2 0.2-1.1 0.1-1.1 0.5-2.3 0.4-2.2 0.5-2.2 0.6-2.2 0.1-0.4 0.5-1.8 0.6-2.2 0.7-2.2 0.4-1.1 0.4-1.2 0.8-2.2 0.7-2.2 0.3-0.8 0.6-1.4 0.8-2.2 0.8-2.2 0-0.2 0.8-2 0.8-2.3 0.6-1.9 0.2-0.3 0.7-2.2 0.7-2.2 0.6-2.2 0.1-0.3 0.5-1.9 0.5-2.3 0.4-2.2 0.4-2.2 0.2-2.2 0.2-2.2 0-0.4 0-1.8 0-2.2 0-0.3-0.1-2-0.3-2.2-0.3-2.2-0.5-2.2-0.6-2.2-0.4-1.4-0.3-0.8-0.8-2.2-0.9-2.3-0.3-0.6-0.6-1.6-1.1-2.2-0.5-1-0.6-1.2-1.1-2.2-0.5-1-0.6-1.2-1.1-2.3-0.5-0.9-0.6-1.3-1-2.2-0.6-1.4-0.3-0.8-0.9-2.2-0.9-2.2-0.1-0.4-0.7-1.8-0.7-2.3-0.7-2.2-0.2-0.4-0.5-1.8-0.6-2.2-0.7-2.2-0.4-1.6-0.1-0.6-0.6-2.2-0.5-2.3-0.6-2.2-0.4-2 0-0.2-0.5-2.2-0.5-2.2-0.4-2.2-0.3-2.3-0.4-2.2-0.1-1.1-0.2-1.1-0.2-2.2-0.2-2.2-0.2-2.2-0.1-2.2-0.1-2.3 0-2.2 0.1-2.2 0-2.2 0.2-2.2 0.2-2.2 0.2-2.2 0.2-2.3 0.1-0.3 0.2-1.9 0.4-2.2 0.4-2.2 0.4-2.2 0.5-2.2 0.3-1.5 0.2-0.8 0.5-2.2 0.6-2.2 0.6-2.2 0.3-1 0.4-1.2 0.7-2.2 0.8-2.2 0.3-1 0.5-1.3 0.9-2.2 0.9-2.2 0.9-2.2 1-2.2 0.3-0.6 0.7-1.6 1-2.2 0.5-1 0.6-1.3 1-2.2 0.6-1.2 0.5-1 1-2.2 0.7-1.6 0.3-0.6 1-2.2 0.9-2.1 0.1-0.2 1-2.2 0.9-2.2 0.3-0.6 0.6-1.6 1-2.2 0.6-1.5 0.3-0.7 0.9-2.2 0.9-2.3 0.1-0.3 0.8-1.9 0.8-2.2 0.6-1.6 0.2-0.6-0.2 0-2.2 0-2.2 0-2.2 0-2.3 0-2.2 0-2.2 0-2.2 0-2.2 0-2.2 0-2.3 0-2.2 0-2.2 0-2.2 0-2.2 0-2.2 0-2.3 0-2.2 0-2.2 0-2.2 0-2.2 0-2.2 0-2.3 0-2.2 0-2.2 0-2.2 0 0 2.2 0 2.2 0 2.2 0 2.3 0 2.2 0 2.2 0 2.2 0 2.2 0 2.2 0 2.2 0 2.3 0 2.2 0 2.2 0 2.2 0 2.2 0 2.2 0 2.3 0 2.2 0 2.2 0 2.2 0 2.2 0 2.2 0 2.2 0 2.3 0 2.2 0 2.2 0 2.2 0 2.2 0 2.2 0 2.2 0 2.3 0 2.2 0 2.2 0 2.2 0 2.2 0 2.2 0 2.3 0 2.2 0 2.2 0 2.2 0 2.2 0 2.2 0 2.2 0 2.3 0 2.2 0 2.2 0 2.2 0 2.2 0 2.2 0 2.2 0 2.3 0 2.2 0 2.2 0 2.2 0 2.2 0 2.2 0 2.3 0 2.2 0 2.2 0 2.2 0 2.2 0 2.2 0 2.2 0 2.3 0 2.2 0 2.2 0 2.2 0 2.2 0 2.2 0 2.2 0 2.3 0 2.2 0 2.2 0 2.2 0 2.2 0 2.2 0 2.3 0 2.2 0 2.2 0 2.2 0 2.2 0 2.2 0 2.2 0 2.3 0 2.2 0 2.2 0 2.2 0 2.2 0 2.2 0 2.2 0 2.3 0 2.2 0 2.2 0 2.2 0 2.2 0 2.2 0 2.3 0 2.2 0 2.2 0 2.2 0 2.2 0 2.2 0 2.2 0 2.3 0 2.2 0 2.2 0 2.2 0 2.2 0 2.2 0 2.2 0 2.3 0 2.2 0 2.2 0 2.2 0 2.2 0 2.2 0 2.3 0 2.2 0 2.2 0 2.2 0 2.2 0 2.2 0 2.2 0 2.3 0 2.2 0 2.2 0 2.2 0 2.2 0 2.2 0 2.3 0 2.2 0 2.2 0 2.2 0 2.2 0 2.2 0 2.2 0 2.3 0 2.2 0 2.2 0 2.2 0 2.2 0 2.2 0 2.2 0 2.3 0 2.2 0 2.2 0 2.2 0 2.2 0 2.2 0 2.2 0 2.3 0 2.2 0 2.2 0 2.2 0 2.2 0 2.2 0 2.3 0 2.2 0 2.2 0 2.2 0 2.2 0 2.2 0 2.2 0 2.3 0 2.2 0 2.2 0 2.2 0 2.2 0 2.2 0 2.3 0 2.2 0 2.2 0 2.2 0 2.2 0 2.2 0 2.2 0 2.3 0 2.2 0 2.2zM257 482.3l2.3 0 2.2 0 2.2 0 2.2 0 2.2 0 2.2 0 2.3 0 2.2 0 2.2 0 2.2 0 2.2 0 2.2 0 2.2 0 2.3 0 2.2 0 2.2 0 2.2 0 2.2 0 2.2 0 2.3 0 2.2 0 2.2 0 2.2 0 2.2 0 2.2 0 2.3 0 2.2 0 2.2 0 2.2 0 2.2 0 2.2 0 2.3 0 2.2 0 2.2 0 2.2 0 2.2 0 2.2 0 2.3 0 2.2 0 2.2 0 2.2 0 2.2 0 2.2 0 2.2 0 2.3 0 2.2 0 2.2 0 2.2 0 2.2 0 2.2 0 2.3 0 2.2 0 2.2 0 2.2 0 2.2 0 2.2 0 2.3 0 2.2 0 0.4 0 1.2-2.2 0.6-1.2 0.6-1 1-2.2 0.6-2.2 0-0.1 0.5-2.2 0-2.2-0.4-2.2-0.1-0.4-0.4-1.8-0.8-2.2-1-2.2 0-0.1-0.9-2.2-1.2-2.2-0.1-0.2-1.1-2-1.1-2-0.1-0.2-1.4-2.2-0.8-1.2-0.6-1-1.5-2.3-0.1 0-1.5-2.2-0.7-0.9-0.9-1.3-1.3-1.7-0.4-0.5-1.6-2.2-0.2-0.2-1.5-2-0.7-1-1-1.2-1.3-1.7-0.4-0.6-1.8-2.2-1.8-2.2-0.4-0.5-1.5-1.7-0.7-0.8-1.3-1.4-0.9-1.1-1.1-1.1-1.1-1.2-1-1.1-1.3-1.4-0.6-0.8-1.6-2.1-0.1-0.1-1.3-2.2-0.8-1.8-0.2-0.4-0.6-2.2-0.5-2.2-0.2-2.3-0.1-2.2 0.1-2.2 0.1-2.2 0.3-2.2 0.2-2.2 0.3-2.2 0.3-2.3 0.3-2.2 0.3-2.2 0.3-2.2 0.3-2.2 0.3-2.2 0.3-2.2 0.3-2.3 0.4-2.2 0-0.4 0.3-1.8 0.4-2.2 0.3-2.2 0.5-2.2 0.4-2.3 0.3-1.5 0.2-0.7 0.6-2.2 0.6-2.2 0.7-2.2 0.2-0.3 0.7-1.9 0.9-2.2 0.6-1.4 0.4-0.9 1.1-2.2 0.7-1.2 0.5-1 1.2-2.2 0.5-0.8 0.8-1.4 1.3-2.2 0.1-0.3 1.1-2 1.1-1.9 0.2-0.3 1.2-2.2 0.9-1.6 0.3-0.6 1.2-2.2 0.7-1.3 0.4-0.9 1.2-2.2 0.6-1.2 0.6-1.1 1.1-2.2 0.5-0.8 0.7-1.4 1.3-2.2 0.2-0.5 1-1.7 1.2-2.2 1.3-2.2 1-1.7 0.3-0.6 1.3-2.2 0.6-1.1 0.6-1.1 1.3-2.2 0.3-0.6 0.9-1.6 1.2-2.2 0.1-0.3 1.1-2 1-2.2 0.1-0.3 1-1.9 0.8-2.2 0.4-2.2 0.2-2.2-0.2-0.8-0.2-1.4-0.7-2.3-1.3-2.2-1.4-2.2-0.8-1-0.8-1.2-1.4-1.8-0.3-0.4-1.9-2.2 0-0.1-1.8-2.1-0.4-0.6-1.3-1.7-1-1.1-0.8-1.1-1.4-1.8-0.2-0.4-1.6-2.2-0.4-0.5-1.1-1.7-1.1-1.6-0.4-0.6-1.5-2.3-0.3-0.4-1.1-1.8-1.1-1.6-0.4-0.6-1.4-2.2-0.5-0.6-1-1.6-1.2-1.8-0.3-0.4-1.5-2.2-0.4-0.6-1.1-1.7-1.1-1.6-0.4-0.6-1.5-2.2-0.3-0.5-1.2-1.7-1-1.6-0.5-0.6-1.4-2.2-0.4-0.5-1.1-1.7-1.1-1.7-0.3-0.6-1.4-2.2-0.5-0.8-0.9-1.4-1.3-2.2 0-0.1-1.2-2.1-1-1.9-0.2-0.3-1.1-2.3-0.9-2-0.1-0.2-0.9-2.2-0.8-2.2-0.4-1.7-0.2-0.5-0.5-2.2-0.4-2.2-0.3-2.3-0.2-2.2 0-2.2 0-2.2 0.2-2.2 0.3-2.2 0.4-2.2 0.5-2.3 0.2-0.6 0.4-1.6 0.6-2.2 0.8-2.2 0.4-1 0.4-1.2 0.9-2.2 0.9-2.2 0-0.1 1-2.2 1-2.2 0.2-0.3 0.9-1.9 1.1-2.2 0.2-0.3 1-1.9 1.2-2.2 0-0.1 1.2-2.2 1-1.7 0.3-0.5 1.3-2.2 0.7-1 0.7-1.2 1.4-2.2 0.1-0.2 1.3-2 0.9-1.4 0.5-0.8 1.5-2.3 0.2-0.3 1.3-1.9 0.9-1.4 0.6-0.8 1.5-2.2 0.1-0.2 1.4-2 0.9-1.4 0.6-0.8 1.4-2.3 0.2-0.2 1.3-2 0.9-1.4 0.5-0.8 1.4-2.2 0.3-0.4 1.2-1.8 1-1.7 0.3-0.5 1.4-2.2 0.5-0.9 0.9-1.4 1.4-2.2 1.3-2.2 0.9-1.5 0.4-0.7-0.4 0-2.2 0-2.3 0-2.2 0-2.2 0-2.2 0-2.2 0-2.2 0-2.3 0-2.2 0-2.2 0-2.2 0-2.2 0-2.2 0-2.3 0-2.2 0-2.2 0-2.2 0-2.2 0-2.2 0-2.2 0-2.3 0-2.2 0-2.2 0-2.2 0-2.2 0-2.2 0-2.3 0-2.2 0-2.2 0-2.2 0-2.2 0-2.2 0-2.3 0-2.2 0-2.2 0-2.2 0-2.2 0-2.2 0-2.3 0-2.2 0-2.2 0-2.2 0-2.2 0-2.2 0-2.3 0-2.2 0-2.2 0-2.2 0-2.2 0-2.2 0-2.2 0-2.3 0-2.2 0-2.2 0-2.2 0-2.2 0-2.2 0-2.3 0 0 0.1 0.8 2.1 0.9 2.2 0.6 1.3 0.4 0.9 1 2.3 0.8 1.5 0.3 0.7 1.1 2.2 0.8 1.4 0.4 0.8 1.2 2.2 0.6 1.3 0.5 0.9 1.1 2.2 0.6 1.4 0.4 0.9 1 2.2 0.8 2.1 0.1 0.1 0.8 2.2 0.8 2.2 0.6 1.6 0.2 0.6 0.7 2.3 0.7 2.2 0.6 2.1 0 0.1 0.6 2.2 0.6 2.2 0.6 2.2 0.4 1.7 0.1 0.5 0.6 2.3 0.5 2.2 0.5 2.2 0.5 2.2 0 0.2 0.4 2 0.5 2.2 0.4 2.2 0.3 2.3 0.3 2.2 0.3 2.2 0 0.2 0.2 2 0.2 2.2 0.2 2.2 0.1 2.3 0 2.2 0 2.2 0 2.2-0.1 2.2-0.2 2.2-0.2 2.2-0.2 1.8 0 0.5-0.3 2.2-0.3 2.2-0.4 2.2-0.4 2.2-0.4 2.2-0.4 1.7-0.1 0.5-0.5 2.3-0.6 2.2-0.6 2.2-0.4 1.4-0.2 0.8-0.7 2.2-0.8 2.2-0.5 1.6-0.3 0.7-0.8 2.2-0.9 2.2-0.2 0.6-0.7 1.6-1 2.2-0.6 1.2-0.4 1-1.1 2.2-0.7 1.5-0.3 0.8-1.1 2.2-0.8 1.6-0.3 0.6-1 2.2-0.9 1.8-0.2 0.4-1 2.2-1 2.2-1 2.3-1 2.2-0.2 0.5-0.8 1.7-1 2.2-0.5 1.1-0.5 1.1-1 2.2-0.7 1.7-0.2 0.6-1 2.2-0.9 2.2-0.1 0.1-0.9 2.1-0.9 2.2-0.4 1.3-0.4 0.9-0.7 2.2-0.5 2.3-0.5 2.2-0.1 1.3-0.2 0.9-0.1 2.2 0 2.2 0.1 2.2 0.2 1.5 0.1 0.7 0.3 2.3 0.5 2.2 0.5 2.2 0.7 2.2 0.1 0.3 0.6 1.9 0.9 2.2 0.7 1.7 0.2 0.6 1 2.2 1 2 0.1 0.2 1.1 2.2 1 1.9 0.2 0.3 1.2 2.2 0.9 1.5 0.3 0.7 1.3 2.3 0.6 1 0.6 1.2 1.2 2.2 0.4 0.6 0.8 1.6 1.2 2.2 0.2 0.5 0.8 1.7 1 2.2 0.4 1.1 0.5 1.2 0.8 2.2 0.7 2.2 0.2 0.7 0.5 1.5 0.5 2.2 0.4 2.2 0.4 2.3 0.4 2.2 0.1 0.8 0.1 1.4 0.2 2.2 0.2 2.2 0.2 2.2 0.1 2.2 0.1 2.3 0.1 2.2 0.1 2.2 0.1 2.2 0 2.2 0.1 2.2 0.1 2.3 0.1 2.2 0.1 2.2 0.1 2.2 0 2.2 0.1 2.2 0.1 2.2 0.1 2.3 0 2.2 0 2.2 0 2.2 0 2.2-0.1 2.2-0.1 2.2-0.1 2.3-0.2 2.2-0.3 2.2-0.4 2.2-0.4 2.2-0.4 2.2 0 0.1-0.6 2.1-0.6 2.3-0.6 2.2-0.5 1.3-0.3 0.9-0.8 2.2-0.8 2.2-0.3 0.8-0.6 1.4-0.9 2.3-0.7 1.6-0.3 0.6-1 2.2-0.9 2-0.1 0.2-1.1 2.2-1 2.2 0 0.1-1.1 2.1-1 2.3-0.1 0.4-0.8 1.8-0.9 2.2-0.6 1.6-0.2 0.6-0.7 2.2-0.6 2.2-0.5 2.3-0.2 1-0.2 1.2-0.2 2.2-0.1 2.2 0 2.2 0.1 2.2 0.3 2.2 0.1 0.5 0.3 1.8 0.5 2.2 0.7 2.2zM404.2 480.1l1.3 2 0.1 0.2 2.1 0 2.3 0 2.2 0 2.2 0 2.2 0 2.2 0 2.2 0 2.2 0 2.3 0 2.2 0 2.2 0 2.2 0 2.2 0 2.2 0 2.3 0 2.2 0 2.2 0 2.2 0 2.2 0 2.2 0 2.3 0 2.2 0 2.2 0 2.2 0 2.2 0 2.2 0 2.3 0 2.2 0 2.2 0 2.2 0 2.2 0 2.2 0 2.3 0 2.2 0 2.2 0 2.2 0 0-2.2 0-2.2 0-2.2 0-2.3 0-2.2 0-2.2 0-2.2 0-2.2 0-2.2 0-2.2 0-2.3 0-2.2 0-2.2 0-2.2 0-2.2 0-2.2 0-2.3 0-2.2 0-2.2 0-2.2 0-2.2 0-2.2 0-2.2 0-2.3 0-2.2 0-2.2 0-2.2 0-2.2 0-2.2 0-2.3 0-2.2 0-2.2 0-2.2 0-2.2 0-2.2 0-2.2 0-2.3 0-2.2 0-2.2 0-2.2 0-2.2 0-2.2 0-2.2 0-2.3 0-2.2 0-2.2 0-2.2 0-2.2 0-2.2 0-2.2 0-2.3 0-2.2 0-2.2 0-2.2 0-2.2 0-2.2 0-2.3 0-2.2 0-2.2 0-2.2 0-2.2 0-2.2 0-2.2 0-2.3 0-2.2 0-2.2 0-2.2 0-2.2 0-2.2 0-2.3 0-2.2 0-2.2 0-2.2 0-2.2 0-2.2 0-2.2 0-2.3 0-2.2 0-2.2 0-2.2 0-2.2 0-2.2 0-2.2 0-2.3 0-2.2 0-2.2 0-2.2 0-2.2 0-2.2 0-2.3 0-2.2 0-2.2 0-2.2 0-2.2 0-2.2 0-2.2 0-2.3 0-2.2 0-2.2 0-2.2 0-2.2 0-2.2 0-2.2 0-2.3 0-2.2 0-2.2 0-2.2 0-2.2 0-2.2 0-2.3 0-2.2 0-2.2 0-2.2 0-2.2 0-2.2 0-2.2 0-2.3 0-2.2 0-2.2 0-2.2 0-2.2 0-2.2 0-2.2 0-2.3 0-2.2 0-2.2 0-2.2 0-2.2 0-2.2 0-2.3 0-2.2 0-2.2 0-2.2 0-2.2 0-2.2 0-2.2 0-2.3 0-2.2 0-2.2 0-2.2 0-2.2 0-2.2 0-2.2 0-2.3 0-2.2 0-2.2 0-2.2 0-2.2 0-2.2 0-2.3 0-2.2 0-2.2 0-2.2 0-2.2 0-2.2 0-2.2 0-2.3 0-2.2 0-2.2 0-2.2 0-2.2 0-2.2 0-2.2 0-2.3 0-2.2 0-2.2 0-2.2 0-2.2 0-2.2 0-2.3 0-2.2 0-2.2 0-2.2 0-2.2 0-2.2 0-2.2 0-2.3 0-2.2 0-2.2 0-2.2-2.2 0-2.2 0-2.2 0-2.3 0-2.2 0-2.2 0-2.2 0-2.2 0-2.2 0-2.3 0-2.2 0-2.2 0-2.2 0-2.2 0-2.2 0-2.3 0-2.2 0-2.2 0-2.2 0-2.2 0-2.2 0-2.3 0-2.2 0-2.2 0-2.2 0-2.2 0-2.2 0-2.3 0-2.2 0-2.2 0-2.2 0-2.2 0-2.2 0-2.2 0-2.3 0-2.1 0 1.5 2.2 0.6 0.8 1 1.4 1.3 1.6 0.4 0.6 1.7 2.3 0.1 0 1.6 2.2 0.6 0.7 1 1.5 1.2 1.6 0.4 0.6 1.6 2.2 0.2 0.4 1.2 1.8 1 1.6 0.4 0.6 1.4 2.3 0.4 0.7 1 1.5 1.3 2.1 0 0.1 1.3 2.2 0.9 1.4 0.5 0.8 1.4 2.2 0.3 0.6 1 1.7 1.2 1.8 0.3 0.4 1.4 2.2 0.5 0.8 1 1.4 1.2 1.9 0.2 0.3 1.5 2.2 0.6 0.9 0.9 1.3 1.3 2.1 0.1 0.2 1.4 2.2 0.7 1.2 0.6 1 1.3 2.2 0.3 0.6 0.9 1.6 1.1 2.2 0.2 0.5 0.8 1.7 1 2.3 0.4 1.1 0.5 1.1 0.7 2.2 0.7 2.2 0.4 1.3 0.2 0.9 0.5 2.2 0.4 2.3 0.3 2.2 0.2 2.2 0.2 2.2 0 2.2-0.1 2.2-0.1 2.2-0.3 2.3-0.4 2.2-0.4 2.2-0.5 2-0.1 0.2-0.7 2.2-0.7 2.2-0.8 1.9-0.1 0.3-1 2.3-1 2.2-0.1 0.1-1 2.1-1.2 2.1 0 0.1-1.3 2.2-0.9 1.5-0.5 0.7-1.3 2.3-0.4 0.5-1.1 1.7-1.1 1.7-0.4 0.5-1.5 2.2-0.4 0.6-1.1 1.6-1.1 1.6-0.4 0.6-1.5 2.2-0.3 0.4-1.2 1.9-1 1.5-0.5 0.7-1.4 2.2-0.3 0.5-1.1 1.7-1.1 1.8-0.3 0.4-1.4 2.2-0.6 0.9-0.8 1.3-1.4 2.2 0 0.1-1.4 2.2-0.8 1.1-0.7 1.1-1.5 2.2-1.5 2.2-0.7 1.1-0.9 1.1-1.3 2.1-0.2 0.2-1.5 2.2-0.5 0.8-1 1.4-1.3 2-0.1 0.2-1.4 2.2-0.7 1.4-0.5 0.8-1 2.2-0.6 2.3-0.1 0.4-0.3 1.8 0.2 2.2 0.1 0.5 0.3 1.7 0.7 2.2 0.9 2.2 0.3 0.6 0.6 1.6 1 2.3 0.6 1.3 0.4 0.9 1 2.2 0.9 1.8 0.1 0.4 1 2.2 1.1 2.2 1 2.3 1.1 2.2 0.1 0.2 1 2 1 2.2 0.2 0.4 0.9 1.8 1.1 2.2 0.2 0.5 0.9 1.7 1 2.3 0.3 0.6 0.8 1.6 1.1 2.2 0.3 0.7 0.8 1.5 1.1 2.2 0.4 0.8 0.7 1.4 1.1 2.2 0.4 0.9 0.7 1.4 1.1 2.2 0.4 0.9 0.7 1.3 1.1 2.2 0.4 1 0.6 1.2 1.1 2.2 0.5 1.3 0.5 1 0.9 2.2 0.8 2.2 0 0.1 0.8 2.1 0.7 2.2 0.6 2.2 0.2 0.8 0.3 1.4 0.5 2.3 0.3 2.2 0.3 2.2 0.3 2.2 0.2 2.2 0.1 2.2 0.1 2.3 0.1 2.2 0 2.2-0.1 2.2-0.1 2.2-0.1 2.2-0.2 2.2-0.3 2.3-0.3 2.2-0.4 2.2-0.5 2.2-0.2 0.8-0.4 1.4-0.6 2.2-0.7 2.2-0.6 1.5-0.2 0.8-0.9 2.2-1 2.2-0.1 0.2-0.9 2-1.1 2.2-0.2 0.4-0.9 1.8-1.1 2.2-0.2 0.4-1 1.9-1.2 2.2 0 0.1-1.1 2.1-1.1 2.1-0.1 0.1-1.2 2.2-1 1.8-0.2 0.4-1.2 2.3-0.8 1.4-0.4 0.8-1.2 2.2-0.6 1-0.6 1.2-1.3 2.2-0.3 0.6-0.9 1.6-1.3 2.2-1.3 2.3-0.9 1.6-0.4 0.6-1.3 2.2-0.5 0.9-0.8 1.3-1.3 2.2-0.2 0.3-1.1 1.9-1.1 2-0.1 0.3-1.3 2.2-0.8 1.9-0.2 0.3-0.9 2.2-0.6 2.2-0.2 2.2 0.2 2.2 0.6 2.3 0.9 2.2 0.2 0.3z"/>
<path fill="#14fff0" d="M86.4 482.3l2.2 0 2.2 0 2.2 0 2.3 0 2.2 0 2.2 0 2.2 0 2.2 0 2.2 0 2.3 0 2.2 0 2.2 0 2.2 0 2.2 0 2.2 0 2.3 0 2.2 0 2.2 0 2.2 0 2.2 0 2.2 0 2.3 0 2.2 0 1.2 0 0.6-2.2 0.4-1.5 0.2-0.7 0.5-2.2 0.4-2.3 0.3-2.2 0.3-2.2 0.1-2.2 0-2.2-0.1-2.2-0.2-2.2-0.2-2.3-0.4-2.2-0.5-2.2-0.4-1.7-0.1-0.5-0.6-2.2-0.7-2.2-0.8-2.3-0.8-2.2-0.9-2.2-0.5-1.3-0.4-0.9-1-2.2-0.9-2-0.1-0.2-1-2.2-1-2.3-0.1-0.1-0.9-2.1-1-2.2-0.3-0.6-0.7-1.6-0.9-2.2-0.6-1.4-0.4-0.8-0.8-2.3-0.8-2.2-0.2-0.6-0.6-1.6-0.6-2.2-0.7-2.2-0.3-1.6-0.2-0.6-0.5-2.2-0.4-2.3-0.4-2.2-0.3-2.2-0.3-2.2-0.2-2 0-0.2-0.2-2.2-0.1-2.2-0.1-2.3-0.1-2.2-0.1-2.2-0.1-2.2 0-2.2 0-2.2-0.1-2.2 0-2.3 0-2.2-0.1-2.2 0-2.2 0-2.2 0-2.2 0-2.3 0-2.2 0-2.2 0.1-2.2 0-2.2 0.1-2.2 0.1-2.2 0.1-2.3 0.1-2.2 0.2-2.2 0.2-1.9 0.1-0.3 0.2-2.2 0.4-2.2 0.3-2.3 0.5-2.2 0.4-2.2 0.4-1.4 0.1-0.8 0.6-2.2 0.6-2.2 0.7-2.2 0.2-0.8 0.4-1.5 0.7-2.2 0.8-2.2 0.3-1 0.4-1.2 0.7-2.2 0.8-2.2 0.3-1.1 0.4-1.1 0.7-2.3 0.7-2.2 0.4-1.5 0.2-0.7 0.6-2.2 0.6-2.2 0.5-2.2 0.3-2 0.1-0.3 0.3-2.2 0.3-2.2 0.2-2.2 0.2-2.2 0-2.2-0.1-2.2-0.1-2.3-0.3-2.2-0.4-2.2-0.2-0.9-0.2-1.3-0.6-2.2-0.6-2.2-0.8-2.2-0.8-2.3-0.9-2.2-0.5-1-0.5-1.2-1-2.2-0.7-1.5-0.3-0.7-1-2.2-0.9-2.1-0.1-0.2-0.9-2.2-0.9-2.2-0.3-0.8-0.5-1.4-0.8-2.2-0.8-2.2-0.2-0.4-0.5-1.8-0.7-2.3-0.7-2.2-0.3-0.9-0.3-1.3-0.7-2.2-0.6-2.2-0.5-2.2-0.1-0.3-0.5-1.9-0.5-2.3-0.5-2.2-0.5-2.2-0.2-0.9-0.3-1.3-0.4-2.2-0.4-2.2-0.4-2.3-0.3-2.2-0.3-2.2-0.1-1-0.2-1.2-0.2-2.2-0.1-2.2-0.1-2.2 0-2.3 0-2.2 0-2.2 0.1-2.2 0.2-2.2 0.2-2.2 0.1-0.8 0.1-1.4 0.3-2.3 0.3-2.2 0.4-2.2 0.4-2.2 0.4-2.2 0.3-1.3 0.2-0.9 0.5-2.3 0.5-2.2 0.6-2.2 0.4-1.5 0.2-0.7 0.7-2.2 0.6-2.2 0.7-2 0.1-0.2 0.8-2.3 0.8-2.2 0.5-1.4 0.4-0.8 0.9-2.2 0.9-2.2 0.1-0.2 0.9-2 1-2.2 0.3-0.7 0.7-1.6 1-2.2 0.5-1.1 0.5-1.1 1-2.2 0.7-1.6 0.3-0.6 0.9-2.2 1-2.3 0-0.1 0.9-2.1 0.9-2.2 0.4-1.3 0.4-0.9 0.9-2.2 0.7-2.2 0.3-0.6 0.5-1.6 0.8-2.3 0.7-2.2 0.2-0.4 0.5-1.8 0.7-2.2-1.2 0-2.2 0-2.3 0-2.2 0-2.2 0-2.2 0-2.2 0-2.2 0-2.3 0-2.2 0-2.2 0-2.2 0-2.2 0-2.2 0-2.3 0-2.2 0-2.2 0-2.2 0-2.2 0-2.2 0-2.3 0-2.2 0-2.2 0-2.2 0 0 2.2 0 2.2 0 2.2 0 2.3 0 2.2 0 2.2 0 2.2 0 2.2 0 2.2 0 2.2 0 2.3 0 2.2 0 2.2 0 2.2 0 2.2 0 2.2 0 2.3 0 2.2 0 2.2 0 2.2 0 2.2 0 2.2 0 2.2 0 2.3 0 2.2 0 2.2 0 2.2 0 2.2 0 2.2 0 2.2 0 2.3 0 2.2 0 2.2 0 2.2 0 2.2 0 2.2 0 2.3 0 2.2 0 2.2 0 2.2 0 2.2 0 2.2 0 2.2 0 2.3 0 2.2 0 2.2 0 2.2 0 2.2 0 2.2 0 2.2 0 2.3 0 2.2 0 2.2 0 2.2 0 2.2 0 2.2 0 2.3 0 2.2 0 2.2 0 2.2 0 2.2 0 2.2 0 2.2 0 2.3 0 2.2 0 2.2 0 2.2 0 2.2 0 2.2 0 2.2 0 2.3 0 2.2 0 2.2 0 2.2 0 2.2 0 2.2 0 2.3 0 2.2 0 2.2 0 2.2 0 2.2 0 2.2 0 2.2 0 2.3 0 2.2 0 2.2 0 2.2 0 2.2 0 2.2 0 2.2 0 2.3 0 2.2 0 2.2 0 2.2 0 2.2 0 2.2 0 2.3 0 2.2 0 2.2 0 2.2 0 2.2 0 2.2 0 2.2 0 2.3 0 2.2 0 2.2 0 2.2 0 2.2 0 2.2 0 2.2 0 2.3 0 2.2 0 2.2 0 2.2 0 2.2 0 2.2 0 2.3 0 2.2 0 2.2 0 2.2 0 2.2 0 2.2 0 2.2 0 2.3 0 2.2 0 2.2 0 2.2 0 2.2 0 2.2 0 2.3 0 2.2 0 2.2 0 2.2 0 2.2 0 2.2 0 2.2 0 2.3 0 2.2 0 2.2 0 2.2 0 2.2 0 2.2 0 2.2 0 2.3 0 2.2 0 2.2 0 2.2 0 2.2 0 2.2 0 2.2 0 2.3 0 2.2 0 2.2 0 2.2 0 2.2 0 2.2 0 2.3 0 2.2 0 2.2 0 2.2 0 2.2 0 2.2 0 2.2 0 2.3 0 2.2 0 2.2 0 2.2 0 2.2 0 2.2 0 2.3 0 2.2 0 2.2 0 2.2 0 2.2 0 2.2 0 2.2 0 2.3 0 2.2 0 2.2zM260.4 482.3l1.1 0 2.2 0 2.2 0 2.2 0 2.2 0 2.3 0 2.2 0 2.2 0 2.2 0 2.2 0 2.2 0 2.2 0 2.3 0 2.2 0 2.2 0 2.2 0 2.2 0 2.2 0 2.3 0 2.2 0 2.2 0 2.2 0 2.2 0 2.2 0 2.3 0 2.2 0 2.2 0 2.2 0 2.2 0 2.2 0 2.3 0 2.2 0 2.2 0 2.2 0 2.2 0 2.2 0 2.3 0 2.2 0 2.2 0 2.2 0 2.2 0 2.2 0 2.2 0 2.3 0 2.2 0 2.2 0 2.2 0 2.2 0 2.2 0 2.3 0 2.2 0 2.2 0 2.2 0 2.2 0 2.2 0 0.4 0 0.9-2.2 0.8-2.2 0.2-0.7 0.5-1.5 0.5-2.3 0.3-2.2 0.1-2.2-0.2-2.2-0.3-2.2-0.4-2.2-0.5-1.7-0.2-0.5-0.8-2.3-1-2.2-0.3-0.6-0.7-1.6-1.2-2.2-0.3-0.4-1.1-1.8-1.1-1.7-0.3-0.5-1.5-2.3-0.4-0.5-1.2-1.7-1-1.3-0.7-0.9-1.5-2-0.2-0.2-1.7-2.2-0.4-0.5-1.3-1.7-0.9-1.1-1-1.1-1.2-1.5-0.6-0.8-1.6-1.7-0.5-0.5-1.7-1.8-0.5-0.4-1.7-1.7-0.7-0.5-1.6-1.4-0.8-0.8-1.4-1.2-1-1-1.2-1.2-0.9-1.1-1.3-1.5-0.4-0.7-1.3-2.2-0.5-1-0.5-1.2-0.6-2.2-0.4-2.2-0.2-2.2 0.1-2.3 0.2-2.2 0.3-2.2 0.4-2.2 0.5-2.2 0.2-1 0.2-1.2 0.5-2.2 0.5-2.3 0.4-2.2 0.5-2.2 0.1-0.7 0.3-1.5 0.4-2.2 0.3-2.2 0.4-2.2 0.3-2.3 0.4-2.2 0.1-0.9 0.2-1.3 0.3-2.2 0.4-2.2 0.4-2.2 0.4-2.3 0.4-2.2 0.1-0.6 0.4-1.6 0.5-2.2 0.6-2.2 0.7-2.2 0-0.1 0.8-2.1 1-2.3 0.5-1 0.5-1.2 1.1-2.2 0.6-0.9 0.7-1.3 1.3-2.2 0.2-0.3 1.1-1.9 1.1-1.8 0.3-0.5 1.3-2.2 0.6-1 0.7-1.2 1.3-2.2 0.2-0.5 1-1.7 1.2-2.2 0.1-0.1 1.1-2.1 1.1-2.1 0.1-0.2 1.1-2.2 1-1.8 0.2-0.4 1.1-2.2 0.9-1.6 0.3-0.6 1.2-2.2 0.7-1.4 0.5-0.8 1.2-2.3 0.5-1.1 0.6-1.1 1.1-2.2 0.6-1.1 0.5-1.1 1-2.2 0.7-1.6 0.3-0.6 0.8-2.3 0.7-2.2 0.4-1.6 0.2-0.6 0.3-2.2 0.2-2.2-0.1-2.2-0.4-2.2-0.2-0.7-0.4-1.6-0.9-2.2-0.9-1.7-0.3-0.5-1.3-2.2-0.6-1-0.8-1.2-1.5-2.1 0-0.1-1.6-2.2-0.6-0.9-0.9-1.4-1.3-1.9-0.2-0.3-1.4-2.2-0.6-0.9-0.8-1.3-1.4-2.2-1.4-2.2-0.8-1.4-0.6-0.9-1.3-2.2-0.4-0.5-1-1.7-1.2-1.8-0.3-0.4-1.4-2.2-0.5-0.8-1-1.4-1.2-1.9-0.2-0.3-1.5-2.3-0.5-0.7-1-1.5-1.2-1.8-0.3-0.4-1.5-2.2-0.5-0.7-1-1.5-1.2-1.9-0.2-0.3-1.5-2.2-0.5-0.8-0.9-1.5-1.3-2-0.1-0.2-1.4-2.2-0.7-1.2-0.6-1-1.2-2.2-0.4-0.8-0.8-1.4-1.1-2.3-0.3-0.8-0.7-1.4-0.8-2.2-0.8-2.2-0.6-2.2-0.5-2.2-0.4-2.2-0.3-2.3-0.1-2.2 0-2.2 0-2.2 0.2-2.2 0.3-2.2 0.5-2.2 0.5-2.3 0.4-1.7 0.2-0.5 0.6-2.2 0.8-2.2 0.7-1.7 0.1-0.5 0.9-2.2 1-2.3 0.2-0.4 0.8-1.8 1-2.2 0.4-0.8 0.7-1.4 1.1-2.2 0.4-0.8 0.7-1.4 1.2-2.2 0.3-0.6 0.9-1.7 1.3-2.2 1.3-2.2 0.9-1.6 0.4-0.6 1.3-2.2 0.6-0.9 0.8-1.3 1.4-2.2 1.4-2.3 0.8-1.1 0.7-1.1 1.4-2.2 0.1-0.1 1.4-2.1 0.8-1.3 0.6-0.9 1.5-2.2 0.1-0.3 1.3-2 1-1.5 0.4-0.7 1.3-2.2 0.5-0.7 0.9-1.5 1.3-2.2 1.3-2.2 0.9-1.8 0.3-0.4 1.2-2.3 0.7-1.4 0.4-0.8 1.1-2.2 0.7-1.6 0.4-0.6-0.4 0-2.2 0-2.2 0-2.2 0-2.2 0-2.2 0-2.3 0-2.2 0-2.2 0-2.2 0-2.2 0-2.2 0-2.3 0-2.2 0-2.2 0-2.2 0-2.2 0-2.2 0-2.2 0-2.3 0-2.2 0-2.2 0-2.2 0-2.2 0-2.2 0-2.3 0-2.2 0-2.2 0-2.2 0-2.2 0-2.2 0-2.3 0-2.2 0-2.2 0-2.2 0-2.2 0-2.2 0-2.3 0-2.2 0-2.2 0-2.2 0-2.2 0-2.2 0-2.3 0-2.2 0-2.2 0-2.2 0-2.2 0-2.2 0-2.2 0-2.3 0-2.2 0-2.2 0-2.2 0-2.2 0-1.1 0 0.8 2.2 0.3 0.8 0.5 1.4 0.9 2.2 0.8 1.7 0.2 0.6 1.1 2.2 0.9 1.9 0.1 0.3 1.1 2.2 1 2.2 0.1 0 0.9 2.2 1 2.2 0.2 0.5 0.7 1.8 0.9 2.2 0.7 1.8 0.1 0.4 0.8 2.2 0.7 2.2 0.6 1.9 0.1 0.3 0.6 2.3 0.6 2.2 0.6 2.2 0.3 0.9 0.3 1.3 0.6 2.2 0.5 2.2 0.6 2.2 0.2 1 0.3 1.3 0.5 2.2 0.5 2.2 0.5 2.2 0.4 2.1 0 0.1 0.5 2.2 0.4 2.2 0.3 2.3 0.3 2.2 0.3 2.2 0.2 2.2 0.2 2.2 0 0.6 0.1 1.6 0.1 2.3 0.1 2.2 0 2.2-0.1 2.2-0.1 2.2-0.1 0.7-0.1 1.5-0.2 2.2-0.2 2.3-0.3 2.2-0.3 2.2-0.4 2.2-0.4 2.2-0.3 1.6-0.1 0.6-0.5 2.2-0.5 2.3-0.5 2.2-0.6 2.1 0 0.1-0.6 2.2-0.7 2.2-0.7 2.2-0.2 0.7-0.6 1.6-0.8 2.2-0.8 2.2-0.9 2.2-0.9 2.2-0.4 0.9-0.6 1.3-1 2.2-0.7 1.4-0.4 0.9-1 2.2-0.8 1.5-0.3 0.7-1 2.2-0.9 1.9-0.2 0.3-1 2.2-1 2.2 0 0.2-0.9 2.1-1 2.2-0.3 0.9-0.6 1.3-0.9 2.2-0.7 2-0.1 0.2-0.9 2.2-0.9 2.3-0.4 1.1-0.4 1.1-0.8 2.2-0.7 2.2-0.3 0.8-0.5 1.4-0.7 2.2-0.6 2.2-0.4 2 0 0.3-0.5 2.2-0.3 2.2-0.2 2.2-0.1 2.2 0.1 2.2 0.2 2.2 0.2 2.3 0.4 2.2 0.2 0.7 0.3 1.5 0.6 2.2 0.7 2.2 0.6 1.8 0.2 0.4 0.8 2.3 1 2.2 0.2 0.5 0.8 1.7 1 2.2 0.5 0.8 0.7 1.4 1.1 2.2 0.4 0.7 0.8 1.5 1.2 2.3 0.2 0.4 0.9 1.8 1.2 2.2 0.1 0.2 1 2 1.1 2.2 0.1 0.3 0.9 1.9 0.9 2.2 0.4 1.1 0.5 1.2 0.7 2.2 0.7 2.2 0.4 1.5 0.1 0.7 0.5 2.2 0.4 2.2 0.4 2.3 0.2 2.2 0.2 2.2 0.2 2.2 0.2 2.2 0 0.3 0.1 1.9 0.1 2.2 0 2.3 0.1 2.2 0.1 2.2 0 2.2 0.1 2.2 0.1 2.2 0.1 2.3 0 2.2 0.1 2.2 0.1 2.2 0.1 2.2 0.1 2.2 0.1 2.2 0.1 2.3 0.1 2.2 0 2.2 0 2.2 0 2.2 0 2.2-0.1 2.2-0.2 2.3-0.2 2.2-0.2 2.2-0.4 2.2-0.3 2.2-0.5 2.2-0.5 2.2-0.6 2.3-0.6 2.2 0 0.2-0.7 2-0.7 2.2-0.8 2.2-0.1 0.3-0.7 1.9-0.9 2.3-0.6 1.5-0.3 0.7-0.9 2.2-0.9 2.2-0.1 0.2-0.9 2-0.9 2.2-0.4 1.1-0.5 1.1-0.9 2.3-0.8 2.2-0.8 2.2-0.7 2.2-0.6 2.2-0.1 0.6-0.5 1.6-0.4 2.3-0.3 2.2-0.2 2.2-0.1 2.2 0 2.2 0.2 2.2 0.3 2.2 0.3 2.3 0.5 2.2 0.2 0.4 0.4 1.8zM409.2 480.1l0.8 1.4 0.3 0.8 1.9 0 2.2 0 2.2 0 2.2 0 2.2 0 2.2 0 2.3 0 2.2 0 2.2 0 2.2 0 2.2 0 2.2 0 2.3 0 2.2 0 2.2 0 2.2 0 2.2 0 2.2 0 2.3 0 2.2 0 2.2 0 2.2 0 2.2 0 2.2 0 2.3 0 2.2 0 2.2 0 2.2 0 2.2 0 2.2 0 2.3 0 2.2 0 2.2 0 2.2 0 0-2.2 0-2.2 0-2.2 0-2.3 0-2.2 0-2.2 0-2.2 0-2.2 0-2.2 0-2.2 0-2.3 0-2.2 0-2.2 0-2.2 0-2.2 0-2.2 0-2.3 0-2.2 0-2.2 0-2.2 0-2.2 0-2.2 0-2.2 0-2.3 0-2.2 0-2.2 0-2.2 0-2.2 0-2.2 0-2.3 0-2.2 0-2.2 0-2.2 0-2.2 0-2.2 0-2.2 0-2.3 0-2.2 0-2.2 0-2.2 0-2.2 0-2.2 0-2.2 0-2.3 0-2.2 0-2.2 0-2.2 0-2.2 0-2.2 0-2.2 0-2.3 0-2.2 0-2.2 0-2.2 0-2.2 0-2.2 0-2.3 0-2.2 0-2.2 0-2.2 0-2.2 0-2.2 0-2.2 0-2.3 0-2.2 0-2.2 0-2.2 0-2.2 0-2.2 0-2.3 0-2.2 0-2.2 0-2.2 0-2.2 0-2.2 0-2.2 0-2.3 0-2.2 0-2.2 0-2.2 0-2.2 0-2.2 0-2.2 0-2.3 0-2.2 0-2.2 0-2.2 0-2.2 0-2.2 0-2.3 0-2.2 0-2.2 0-2.2 0-2.2 0-2.2 0-2.2 0-2.3 0-2.2 0-2.2 0-2.2 0-2.2 0-2.2 0-2.2 0-2.3 0-2.2 0-2.2 0-2.2 0-2.2 0-2.2 0-2.3 0-2.2 0-2.2 0-2.2 0-2.2 0-2.2 0-2.2 0-2.3 0-2.2 0-2.2 0-2.2 0-2.2 0-2.2 0-2.2 0-2.3 0-2.2 0-2.2 0-2.2 0-2.2 0-2.2 0-2.3 0-2.2 0-2.2 0-2.2 0-2.2 0-2.2 0-2.2 0-2.3 0-2.2 0-2.2 0-2.2 0-2.2 0-2.2 0-2.2 0-2.3 0-2.2 0-2.2 0-2.2 0-2.2 0-2.2 0-2.3 0-2.2 0-2.2 0-2.2 0-2.2 0-2.2 0-2.2 0-2.3 0-2.2 0-2.2 0-2.2 0-2.2 0-2.2 0-2.2 0-2.3 0-2.2 0-2.2 0-2.2 0-2.2 0-2.2 0-2.3 0-2.2 0-2.2 0-2.2 0-2.2 0-2.2 0-2.2 0-2.3 0-2.2 0-2.2 0-2.2-2.2 0-2.2 0-2.2 0-2.3 0-2.2 0-2.2 0-2.2 0-2.2 0-2.2 0-2.3 0-2.2 0-2.2 0-2.2 0-2.2 0-2.2 0-2.3 0-2.2 0-2.2 0-2.2 0-2.2 0-2.2 0-2.3 0-2.2 0-2.2 0-2.2 0-2.2 0-2.2 0-2.3 0-2.2 0-2.2 0-2.2 0-2.2 0-2.2 0-1.9 0 1.3 2.2 0.6 0.9 0.8 1.3 1.4 2.1 0.1 0.1 1.5 2.3 0.6 0.9 0.8 1.3 1.4 2 0.1 0.2 1.4 2.2 0.7 1.1 0.7 1.1 1.4 2.2 0.1 0.3 1.2 1.9 1.1 1.9 0.2 0.4 1.3 2.2 0.7 1.1 0.6 1.1 1.4 2.2 0.2 0.4 1.1 1.8 1.1 1.8 0.3 0.4 1.4 2.3 0.5 0.8 1 1.4 1.2 1.9 0.2 0.3 1.5 2.2 0.6 0.9 0.9 1.3 1.3 2 0.1 0.2 1.5 2.2 0.6 1 0.8 1.3 1.4 2.2 0 0.1 1.3 2.1 0.9 1.7 0.3 0.5 1.2 2.2 0.7 1.5 0.4 0.7 1 2.2 0.9 2.2 0 0.1 0.8 2.2 0.8 2.2 0.6 2 0 0.2 0.6 2.2 0.5 2.2 0.4 2.3 0.3 2.2 0.2 2.2 0.1 2.2 0.1 2.2-0.1 2.2-0.1 2.2-0.3 2.3-0.3 2.2-0.5 2.2-0.5 2.2-0.4 1.4-0.3 0.8-0.7 2.2-0.9 2.2-0.3 0.9-0.6 1.4-1.1 2.2-0.6 1.1-0.5 1.1-1.2 2.2-0.5 0.8-0.8 1.4-1.3 2.2-0.1 0.2-1.3 2.1-0.9 1.4-0.5 0.8-1.5 2.2-0.2 0.3-1.3 1.9-0.9 1.4-0.6 0.8-1.5 2.2-0.2 0.2-1.4 2-0.8 1.2-0.7 1.1-1.4 2.2-0.1 0.1-1.4 2.1-0.8 1.3-0.6 0.9-1.3 2.2-0.3 0.5-1.1 1.7-1.1 2-0.2 0.2-1.3 2.3-0.8 1.2-0.5 1-1.4 2.2-0.3 0.5-1 1.7-1.2 2-0.2 0.2-1.3 2.2-0.7 1.2-0.6 1.1-1.3 2.2-0.3 0.5-1 1.7-1.1 2.2-0.1 0.2-1 2-0.8 2.2-0.4 1.4-0.3 0.8-0.6 2.3-0.3 2.2-0.1 2.2 0.2 2.2 0.2 2.2 0.5 2.2 0.4 1.5 0.1 0.7 0.7 2.3 0.7 2.2 0.7 1.9 0.1 0.3 0.8 2.2 0.9 2.2 0.4 0.9 0.5 1.3 1 2.3 0.7 1.5 0.3 0.7 1 2.2 0.9 2 0.1 0.2 1.1 2.2 1 2.2 1.1 2.2 1.1 2.3 0 0.1 1.1 2.1 1 2.2 0.2 0.2 1 2 1.1 2.2 0.1 0.3 1 1.9 1.1 2.2 0.1 0.2 1.1 2.1 1.1 2.1 0.1 0.1 1.1 2.2 1 2 0.2 0.2 1.1 2.2 0.9 2.1 0.1 0.1 1 2.3 0.9 2.2 0.3 0.7 0.5 1.5 0.7 2.2 0.6 2.2 0.4 1.5 0.2 0.7 0.4 2.2 0.4 2.3 0.4 2.2 0.2 2.2 0.2 2.2 0.2 2.2 0.1 2.2 0.1 1.7 0 0.6 0.1 2.2 0 2.2-0.1 2.2 0 0.8-0.1 1.4-0.1 2.2-0.1 2.2-0.3 2.3-0.2 2.2-0.4 2.2-0.4 2.2-0.5 2.2-0.1 0.4-0.5 1.8-0.6 2.2-0.8 2.3-0.3 0.8-0.5 1.4-1 2.2-0.8 1.6-0.2 0.6-1.1 2.2-0.9 1.7-0.2 0.5-1.2 2.2-0.8 1.5-0.4 0.8-1.2 2.2-0.6 1-0.6 1.2-1.3 2.2-0.3 0.6-0.9 1.6-1.2 2.2-0.1 0.3-1.1 2-1.2 2 0 0.2-1.2 2.2-1 1.7-0.3 0.5-1.2 2.2-0.7 1.3-0.5 0.9-1.2 2.2-0.5 1-0.7 1.3-1.1 2.2-0.4 0.7-0.8 1.5-1.1 2.2-0.3 0.6-0.8 1.6-1 2.2-0.4 1-0.6 1.3-0.8 2.2-0.7 2.2-0.2 0.9-0.3 1.3-0.3 2.2-0.1 2.2 0.2 2.2 0.5 2.3 0 0.2 0.6 2z"/>
<path fill="#46ffd2" d="M86.4 482.3l2.2 0 2.2 0 2.2 0 2.3 0 2.2 0 2.2 0 2.2 0 2.2 0 2.2 0 2.3 0 2.2 0 2.2 0 2.2 0 2.2 0 2.2 0 2.3 0 2.2 0 2.2 0 2.2 0 2.2 0 2.2 0 2.3 0 0.5 0 0.5-2.2 0.5-2.2 0.4-2.2 0.3-1.9 0-0.4 0.3-2.2 0.2-2.2 0.1-2.2 0.1-2.2-0.1-2.2-0.2-2.2-0.2-2.3-0.2-1.5-0.1-0.7-0.4-2.2-0.5-2.2-0.6-2.2-0.6-2.2 0-0.1-0.7-2.2-0.8-2.2-0.8-2 0-0.2-0.9-2.2-0.9-2.2-0.4-1-0.5-1.2-0.9-2.2-0.8-1.8-0.2-0.5-0.9-2.2-1-2.2-0.1-0.3-0.8-1.9-0.9-2.2-0.5-1.4-0.4-0.8-0.8-2.3-0.7-2.2-0.3-1-0.4-1.2-0.6-2.2-0.6-2.2-0.5-2.2-0.2-0.7-0.3-1.5-0.4-2.3-0.3-2.2-0.3-2.2-0.2-2.2-0.2-2.2-0.1-2.2-0.2-2.2-0.1-2.3 0-2.2-0.1-2.1 0-0.1 0-2.2 0-2.2-0.1-2.2 0-2.3 0-2.2 0-2.2-0.1-2.2 0-2.2 0-2.2 0-2.2 0-2.3 0-2.2 0-2.2 0-2.2 0-2.2 0.1-2.2 0-2.2 0.1-2 0-0.3 0.2-2.2 0.1-2.2 0.3-2.2 0.2-2.2 0.3-2.2 0.4-2.3 0.4-2.2 0.3-1.9 0.1-0.3 0.5-2.2 0.5-2.2 0.6-2.2 0.6-2.2 0.6-2.3 0.7-2.2 0.6-2.2 0.3-0.8 0.4-1.4 0.7-2.2 0.7-2.2 0.4-1.4 0.3-0.8 0.6-2.3 0.6-2.2 0.6-2.2 0.1-0.5 0.4-1.7 0.5-2.2 0.5-2.2 0.3-2.3 0.3-2.2 0.2-2 0-0.2 0.2-2.2 0.1-2.2 0-2.2-0.1-2.2-0.2-1.8 0-0.5-0.3-2.2-0.4-2.2-0.4-2.2-0.6-2.2-0.5-1.7-0.1-0.5-0.8-2.2-0.8-2.3-0.5-1.3-0.3-0.9-0.9-2.2-0.9-2.2-0.1-0.2-0.8-2-0.9-2.2-0.5-1.3-0.4-1-0.8-2.2-0.9-2.2-0.2-0.6-0.5-1.6-0.8-2.2-0.7-2.2-0.2-0.6-0.5-1.6-0.6-2.3-0.7-2.2-0.4-1.5-0.2-0.7-0.6-2.2-0.6-2.2-0.6-2.2-0.2-1-0.3-1.2-0.6-2.3-0.5-2.2-0.5-2.2-0.3-1.5-0.2-0.7-0.4-2.2-0.4-2.2-0.4-2.3-0.3-2.2-0.3-2.2-0.2-2.2 0-0.1-0.2-2.1-0.1-2.2-0.1-2.2 0-2.3 0-2.2 0.1-2.2 0.1-2.2 0.2-1.9 0-0.3 0.2-2.2 0.3-2.2 0.2-2.3 0.4-2.2 0.4-2.2 0.4-2.2 0.3-1.4 0.1-0.8 0.5-2.2 0.5-2.3 0.6-2.2 0.5-2 0-0.2 0.6-2.2 0.7-2.2 0.6-2.2 0.3-0.8 0.5-1.4 0.7-2.3 0.8-2.2 0.2-0.6 0.6-1.6 0.9-2.2 0.7-1.9 0.2-0.3 0.9-2.2 1-2.2 0.2-0.4 0.8-1.9 0.9-2.2 0.5-0.9 0.5-1.3 1-2.2 0.7-1.6 0.3-0.6 0.9-2.2 0.9-2.3 0.1-0.2 0.8-2 0.8-2.2 0.6-1.6 0.2-0.6 0.8-2.2 0.8-2.2 0.4-1.6 0.3-0.6 0.7-2.3 0.6-2.2 0.6-2.2 0.1-0.2 0.5-2-0.5 0-2.3 0-2.2 0-2.2 0-2.2 0-2.2 0-2.2 0-2.3 0-2.2 0-2.2 0-2.2 0-2.2 0-2.2 0-2.3 0-2.2 0-2.2 0-2.2 0-2.2 0-2.2 0-2.3 0-2.2 0-2.2 0-2.2 0 0 2.2 0 2.2 0 2.2 0 2.3 0 2.2 0 2.2 0 2.2 0 2.2 0 2.2 0 2.2 0 2.3 0 2.2 0 2.2 0 2.2 0 2.2 0 2.2 0 2.3 0 2.2 0 2.2 0 2.2 0 2.2 0 2.2 0 2.2 0 2.3 0 2.2 0 2.2 0 2.2 0 2.2 0 2.2 0 2.2 0 2.3 0 2.2 0 2.2 0 2.2 0 2.2 0 2.2 0 2.3 0 2.2 0 2.2 0 2.2 0 2.2 0 2.2 0 2.2 0 2.3 0 2.2 0 2.2 0 2.2 0 2.2 0 2.2 0 2.2 0 2.3 0 2.2 0 2.2 0 2.2 0 2.2 0 2.2 0 2.3 0 2.2 0 2.2 0 2.2 0 2.2 0 2.2 0 2.2 0 2.3 0 2.2 0 2.2 0 2.2 0 2.2 0 2.2 0 2.2 0 2.3 0 2.2 0 2.2 0 2.2 0 2.2 0 2.2 0 2.3 0 2.2 0 2.2 0 2.2 0 2.2 0 2.2 0 2.2 0 2.3 0 2.2 0 2.2 0 2.2 0 2.2 0 2.2 0 2.2 0 2.3 0 2.2 0 2.2 0 2.2 0 2.2 0 2.2 0 2.3 0 2.2 0 2.2 0 2.2 0 2.2 0 2.2 0 2.2 0 2.3 0 2.2 0 2.2 0 2.2 0 2.2 0 2.2 0 2.2 0 2.3 0 2.2 0 2.2 0 2.2 0 2.2 0 2.2 0 2.3 0 2.2 0 2.2 0 2.2 0 2.2 0 2.2 0 2.2 0 2.3 0 2.2 0 2.2 0 2.2 0 2.2 0 2.2 0 2.3 0 2.2 0 2.2 0 2.2 0 2.2 0 2.2 0 2.2 0 2.3 0 2.2 0 2.2 0 2.2 0 2.2 0 2.2 0 2.2 0 2.3 0 2.2 0 2.2 0 2.2 0 2.2 0 2.2 0 2.2 0 2.3 0 2.2 0 2.2 0 2.2 0 2.2 0 2.2 0 2.3 0 2.2 0 2.2 0 2.2 0 2.2 0 2.2 0 2.2 0 2.3 0 2.2 0 2.2 0 2.2 0 2.2 0 2.2 0 2.3 0 2.2 0 2.2 0 2.2 0 2.2 0 2.2 0 2.2 0 2.3 0 2.2 0 2.2zM263.5 482.3l0.2 0 2.2 0 2.2 0 2.2 0 2.3 0 2.2 0 2.2 0 2.2 0 2.2 0 2.2 0 2.2 0 2.3 0 2.2 0 2.2 0 2.2 0 2.2 0 2.2 0 2.3 0 2.2 0 2.2 0 2.2 0 2.2 0 2.2 0 2.3 0 2.2 0 2.2 0 2.2 0 2.2 0 2.2 0 2.3 0 2.2 0 2.2 0 2.2 0 2.2 0 2.2 0 2.3 0 2.2 0 2.2 0 2.2 0 2.2 0 2.2 0 2.2 0 2.3 0 2.2 0 2.2 0 2.2 0 2.2 0 2.2 0 2.3 0 2.2 0 2.2 0 2.2 0 0.8 0 0.8-2.2 0.6-2 0.1-0.2 0.6-2.2 0.4-2.3 0.2-2.2 0.1-2.2-0.1-2.2-0.2-2.2-0.5-2.2-0.6-2.2-0.8-2.3-0.9-2.2-0.5-0.9-0.6-1.3-1.3-2.2-0.3-0.6-1.1-1.6-1.1-1.8-0.3-0.4-1.6-2.3-0.3-0.4-1.3-1.8-1-1.2-0.7-1-1.5-1.8-0.3-0.4-1.8-2.2-0.1-0.1-1.8-2.1-0.4-0.5-1.7-1.7-0.5-0.6-1.8-1.7-0.4-0.3-2.2-1.9-0.1 0-2.2-1.8-0.5-0.4-1.7-1.4-1-0.8-1.2-1.1-1.2-1.1-1-1.1-0.9-1.1-1.3-1.8-0.3-0.5-1.3-2.2-0.6-1.4-0.3-0.8-0.7-2.2-0.5-2.2-0.3-2.2-0.1-2.2 0.2-2.3 0.3-2.2 0.4-2.2 0.6-2.2 0.4-1.1 0.3-1.1 0.6-2.2 0.7-2.2 0.6-1.7 0.1-0.6 0.6-2.2 0.6-2.2 0.6-2.2 0.3-1.2 0.2-1 0.4-2.2 0.5-2.2 0.3-2.3 0.4-2.2 0.4-2.2 0-0.1 0.3-2.1 0.3-2.2 0.4-2.2 0.3-2.3 0.4-2.2 0.4-2.2 0.1-0.7 0.3-1.5 0.5-2.2 0.6-2.2 0.6-2.2 0.2-0.6 0.6-1.7 0.9-2.2 0.7-1.6 0.3-0.6 1.2-2.2 0.8-1.3 0.5-0.9 1.4-2.2 0.3-0.5 1.1-1.8 1.1-1.6 0.4-0.6 1.4-2.2 0.4-0.7 0.9-1.5 1.3-2.1 0.1-0.1 1.2-2.2 0.9-1.6 0.4-0.6 1.2-2.3 0.7-1.2 0.5-1 1.1-2.2 0.6-1.1 0.5-1.1 1.2-2.2 0.5-1 0.6-1.2 1.1-2.2 0.5-1 0.6-1.3 1.1-2.2 0.5-1.1 0.5-1.1 1-2.2 0.7-1.8 0.2-0.4 0.8-2.2 0.7-2.3 0.6-2.2 0.3-2.2 0.2-2.2 0-2.2-0.2-2.2-0.3-1.8-0.1-0.4-0.7-2.3-0.9-2.2-0.6-1.2-0.4-1-1.2-2.2-0.6-1-0.7-1.2-1.3-2.2-0.2-0.3-1.1-1.9-1.1-1.9-0.2-0.4-1.3-2.2-0.7-1.1-0.6-1.1-1.3-2.2-0.3-0.6-1-1.6-1.3-2.2-1.3-2.3-0.9-1.4-0.4-0.8-1.4-2.2-0.4-0.6-1-1.6-1.2-1.9-0.2-0.3-1.4-2.2-0.6-0.9-0.9-1.3-1.3-2-0.2-0.3-1.5-2.2-0.6-0.9-0.8-1.3-1.4-2-0.1-0.2-1.5-2.2-0.6-0.9-0.9-1.3-1.3-2-0.1-0.2-1.5-2.3-0.6-0.9-0.8-1.3-1.4-2.2 0-0.1-1.3-2.1-0.9-1.7-0.3-0.5-1.2-2.2-0.8-1.7-0.2-0.6-1-2.2-0.8-2.2-0.2-0.4-0.6-1.8-0.6-2.2-0.5-2.2-0.4-2.2-0.1-1.2-0.1-1.1-0.2-2.2 0-2.2 0.1-2.2 0.2-1.8 0-0.4 0.4-2.2 0.4-2.2 0.5-2.3 0.6-2.2 0.3-0.8 0.4-1.4 0.8-2.2 0.9-2.2 0.1-0.4 0.8-1.8 0.9-2.3 0.6-1.1 0.5-1.1 1-2.2 0.7-1.3 0.4-0.9 1.1-2.2 0.7-1.3 0.4-0.9 1.2-2.2 0.6-1.1 0.6-1.2 1.2-2.2 0.4-0.7 0.9-1.5 1.3-2.2 0-0.1 1.3-2.1 0.9-1.6 0.4-0.6 1.4-2.2 0.5-0.9 0.8-1.4 1.4-2.1 0-0.1 1.5-2.2 0.7-1.2 0.7-1 1.4-2.2 0.1-0.2 1.3-2 0.9-1.6 0.4-0.7 1.4-2.2 0.4-0.7 0.9-1.5 1.3-2.2 0.1-0.1 1.1-2.1 1.1-2 0.1-0.2 1.2-2.2 0.9-2 0.1-0.3 1.1-2.2 0.9-2.2 0.1-0.2 0.8-2-0.8 0-2.2 0-2.2 0-2.2 0-2.3 0-2.2 0-2.2 0-2.2 0-2.2 0-2.2 0-2.3 0-2.2 0-2.2 0-2.2 0-2.2 0-2.2 0-2.2 0-2.3 0-2.2 0-2.2 0-2.2 0-2.2 0-2.2 0-2.3 0-2.2 0-2.2 0-2.2 0-2.2 0-2.2 0-2.3 0-2.2 0-2.2 0-2.2 0-2.2 0-2.2 0-2.3 0-2.2 0-2.2 0-2.2 0-2.2 0-2.2 0-2.3 0-2.2 0-2.2 0-2.2 0-2.2 0-2.2 0-2.2 0-2.3 0-2.2 0-2.2 0-2.2 0-0.2 0 0.2 0.5 0.6 1.7 0.8 2.2 0.8 2 0.1 0.2 1 2.3 0.9 2.2 0.2 0.4 0.8 1.8 1 2.2 0.4 1 0.5 1.2 0.9 2.2 0.9 2.1 0 0.1 0.8 2.3 0.8 2.2 0.6 1.7 0.1 0.5 0.7 2.2 0.7 2.2 0.6 2.2 0.1 0.4 0.5 1.9 0.6 2.2 0.6 2.2 0.5 2 0 0.2 0.6 2.2 0.6 2.2 0.5 2.2 0.5 2.3 0.5 2.2 0.5 2.2 0.5 2.2 0.4 2.2 0.3 1.6 0.2 0.6 0.4 2.2 0.3 2.3 0.3 2.2 0.3 2.2 0.2 2.2 0.2 2.2 0.1 2.2 0.1 2.3 0 2.2 0 2.2-0.1 2.2-0.1 2.2-0.1 2.2-0.2 2.2-0.3 2.3-0.2 2.2-0.4 2.2-0.3 2.2-0.4 1.7-0.1 0.5-0.4 2.2-0.4 2.2-0.5 2.3-0.6 2.2-0.2 0.7-0.4 1.5-0.6 2.2-0.6 2.2-0.6 1.9-0.1 0.3-0.7 2.3-0.8 2.2-0.6 1.7-0.2 0.5-0.8 2.2-1 2.2-0.2 0.7-0.7 1.5-1 2.2-0.5 1.3-0.5 1-1 2.2-0.8 1.5-0.3 0.7-1 2.2-0.9 1.8-0.2 0.4-1 2.2-1 2.2 0 0.1-0.9 2.2-0.9 2.2-0.4 1-0.5 1.2-0.9 2.2-0.8 2.2 0 0.2-0.8 2-0.7 2.3-0.7 2.1-0.1 0.1-0.7 2.2-0.7 2.2-0.6 2.2-0.2 0.8-0.4 1.4-0.5 2.2-0.4 2.3-0.4 2.2-0.3 2.2-0.1 2.2-0.1 0.9 0 1.3 0 2.2 0 0.5 0.1 1.7 0.2 2.3 0.4 2.2 0.4 2.2 0.6 2.2 0.5 2 0.1 0.2 0.7 2.2 0.8 2.3 0.7 1.5 0.2 0.7 1 2.2 1 2.1 0 0.1 1.1 2.2 1.1 2.2 1.1 2.2 1.1 2.2 0 0.1 1.2 2.2 1 2 0.1 0.2 1.1 2.2 1 2.2 0 0.1 0.9 2.1 0.9 2.2 0.5 1.2 0.3 1.1 0.7 2.2 0.6 2.2 0.5 2.2 0.1 0.2 0.4 2 0.3 2.2 0.3 2.3 0.2 2.2 0.2 2.2 0.1 2.2 0.2 2.2 0 2.2 0.1 2.2 0 2.3 0.1 2.2 0 2.2 0.1 2.2 0 2.2 0.1 2.2 0.1 2.3 0 0.6 0 1.6 0.1 2.2 0.1 2.2 0.1 2.2 0.2 2.2 0.1 2.2 0.1 2.3 0 2.2 0.1 2.2 0 2.2 0 2.2 0 2.2-0.1 2.2-0.1 2.3-0.2 2.2-0.3 2.2-0.1 1.2-0.2 1-0.3 2.2-0.5 2.2-0.4 2.2-0.6 2.3-0.2 0.9-0.4 1.3-0.6 2.2-0.7 2.2-0.5 1.5-0.3 0.7-0.8 2.2-0.8 2.3-0.4 1.1-0.4 1.1-0.8 2.2-0.9 2.2-0.1 0.3-0.7 1.9-0.9 2.2-0.6 1.7-0.2 0.5-0.8 2.3-0.8 2.2-0.4 1.5-0.2 0.7-0.7 2.2-0.5 2.2-0.5 2.2-0.3 2.1-0.1 0.2-0.2 2.2-0.2 2.2-0.1 2.2 0.1 2.2 0.2 2.2 0.2 2.2 0.1 0.3 0.3 2 0.5 2.2 0.5 2.2zM413.4 480.1l1 2 0.1 0.2 2.1 0 2.2 0 2.2 0 2.2 0 2.3 0 2.2 0 2.2 0 2.2 0 2.2 0 2.2 0 2.3 0 2.2 0 2.2 0 2.2 0 2.2 0 2.2 0 2.3 0 2.2 0 2.2 0 2.2 0 2.2 0 2.2 0 2.3 0 2.2 0 2.2 0 2.2 0 2.2 0 2.2 0 2.3 0 2.2 0 2.2 0 2.2 0 0-2.2 0-2.2 0-2.2 0-2.3 0-2.2 0-2.2 0-2.2 0-2.2 0-2.2 0-2.2 0-2.3 0-2.2 0-2.2 0-2.2 0-2.2 0-2.2 0-2.3 0-2.2 0-2.2 0-2.2 0-2.2 0-2.2 0-2.2 0-2.3 0-2.2 0-2.2 0-2.2 0-2.2 0-2.2 0-2.3 0-2.2 0-2.2 0-2.2 0-2.2 0-2.2 0-2.2 0-2.3 0-2.2 0-2.2 0-2.2 0-2.2 0-2.2 0-2.2 0-2.3 0-2.2 0-2.2 0-2.2 0-2.2 0-2.2 0-2.2 0-2.3 0-2.2 0-2.2 0-2.2 0-2.2 0-2.2 0-2.3 0-2.2 0-2.2 0-2.2 0-2.2 0-2.2 0-2.2 0-2.3 0-2.2 0-2.2 0-2.2 0-2.2 0-2.2 0-2.3 0-2.2 0-2.2 0-2.2 0-2.2 0-2.2 0-2.2 0-2.3 0-2.2 0-2.2 0-2.2 0-2.2 0-2.2 0-2.2 0-2.3 0-2.2 0-2.2 0-2.2 0-2.2 0-2.2 0-2.3 0-2.2 0-2.2 0-2.2 0-2.2 0-2.2 0-2.2 0-2.3 0-2.2 0-2.2 0-2.2 0-2.2 0-2.2 0-2.2 0-2.3 0-2.2 0-2.2 0-2.2 0-2.2 0-2.2 0-2.3 0-2.2 0-2.2 0-2.2 0-2.2 0-2.2 0-2.2 0-2.3 0-2.2 0-2.2 0-2.2 0-2.2 0-2.2 0-2.2 0-2.3 0-2.2 0-2.2 0-2.2 0-2.2 0-2.2 0-2.3 0-2.2 0-2.2 0-2.2 0-2.2 0-2.2 0-2.2 0-2.3 0-2.2 0-2.2 0-2.2 0-2.2 0-2.2 0-2.2 0-2.3 0-2.2 0-2.2 0-2.2 0-2.2 0-2.2 0-2.3 0-2.2 0-2.2 0-2.2 0-2.2 0-2.2 0-2.2 0-2.3 0-2.2 0-2.2 0-2.2 0-2.2 0-2.2 0-2.2 0-2.3 0-2.2 0-2.2 0-2.2 0-2.2 0-2.2 0-2.3 0-2.2 0-2.2 0-2.2 0-2.2 0-2.2 0-2.2 0-2.3 0-2.2 0-2.2 0-2.2-2.2 0-2.2 0-2.2 0-2.3 0-2.2 0-2.2 0-2.2 0-2.2 0-2.2 0-2.3 0-2.2 0-2.2 0-2.2 0-2.2 0-2.2 0-2.3 0-2.2 0-2.2 0-2.2 0-2.2 0-2.2 0-2.3 0-2.2 0-2.2 0-2.2 0-2.2 0-2.2 0-2.3 0-2.2 0-2.2 0-2.2 0-2.1 0 1.1 2.2 1 1.7 0.3 0.5 1.3 2.2 0.6 1 0.8 1.3 1.3 2.2 0.1 0.2 1.2 2 1 1.7 0.3 0.5 1.3 2.2 0.7 1.2 0.6 1 1.2 2.2 0.4 0.6 0.9 1.7 1.3 2.2 1.3 2.2 0.9 1.5 0.4 0.7 1.4 2.2 0.4 0.7 1 1.5 1.2 2 0.2 0.3 1.5 2.2 0.6 0.8 0.9 1.4 1.3 1.9 0.2 0.3 1.5 2.2 0.5 0.8 0.9 1.4 1.3 2 0.2 0.2 1.4 2.3 0.6 1 0.7 1.2 1.3 2.2 0.2 0.4 1 1.8 1.2 2.2 0.1 0.2 0.9 2 1 2.2 0.3 0.8 0.6 1.5 0.8 2.2 0.7 2.2 0.1 0.3 0.6 1.9 0.5 2.2 0.5 2.2 0.4 2.3 0.2 1.7 0.1 0.5 0.2 2.2 0.1 2.2 0.1 2.2-0.1 2.2-0.1 2.2-0.2 2.3-0.1 0.4-0.2 1.8-0.5 2.2-0.5 2.2-0.7 2.2-0.3 1-0.4 1.2-0.9 2.2-0.9 2.3-1 2.2-1.2 2.2 0 0.1-1.2 2.1-1.1 1.9-0.2 0.3-1.3 2.2-0.7 1.2-0.7 1.1-1.4 2.2-0.1 0.1-1.4 2.1-0.8 1.2-0.7 1-1.5 2.2 0 0.1-1.5 2.1-0.7 1.1-0.8 1.1-1.5 2.1 0 0.2-1.5 2.2-0.7 1-0.8 1.2-1.4 2.2-1.3 2.2-0.9 1.5-0.5 0.7-1.2 2.2-0.5 0.9-0.8 1.4-1.3 2.2-0.1 0.3-1.1 1.9-1.2 2.1 0 0.1-1.2 2.2-1 1.7-0.2 0.5-1.3 2.3-0.7 1.4-0.4 0.8-1.1 2.2-0.7 1.4-0.4 0.8-0.9 2.2-0.9 2.2 0 0.2-0.6 2-0.6 2.3-0.3 2.2-0.2 2.2 0 2.2 0.1 2.2 0.3 2.2 0.4 2.2 0.5 2.3 0.4 1.4 0.2 0.8 0.7 2.2 0.7 2.2 0.6 1.6 0.2 0.6 0.9 2.2 0.9 2.3 0.2 0.5 0.8 1.7 0.9 2.2 0.5 1.1 0.5 1.1 1.1 2.2 0.6 1.4 0.4 0.8 1.1 2.2 0.8 1.6 0.3 0.7 1.1 2.2 0.8 1.5 0.3 0.7 1.2 2.2 0.7 1.4 0.5 0.8 1.2 2.2 0.5 1.1 0.7 1.1 1.2 2.3 0.3 0.5 1 1.7 1.2 2.2 0 0.1 1.2 2.1 1.1 2.2 1 2.2 1 2.3 0.2 0.5 0.6 1.7 0.7 2.2 0.7 2.2 0.2 0.9 0.3 1.3 0.5 2.2 0.4 2.2 0.3 2.3 0.3 2.2 0.2 2.2 0.2 2.2 0 0.5 0.1 1.7 0.1 2.2 0.1 2.3 0 2.2 0.1 2.2-0.1 2.2 0 2.2-0.1 2.2-0.2 2.2 0 0.3-0.1 2-0.3 2.2-0.2 2.2-0.4 2.2-0.4 2.2-0.5 2.2-0.3 1.1-0.3 1.1-0.7 2.3-0.8 2.2-0.4 1.1-0.5 1.1-0.9 2.2-0.8 1.6-0.3 0.6-1.2 2.2-0.8 1.4-0.4 0.8-1.3 2.3-0.5 0.8-0.8 1.4-1.3 2.2-0.1 0.2-1.1 2-1.1 1.8-0.2 0.4-1.3 2.2-0.7 1.3-0.5 1-1.3 2.2-0.4 0.8-0.8 1.4-1.2 2.2-0.3 0.4-0.9 1.8-1.2 2.2-0.1 0.1-1.1 2.1-1.1 2.2 0 0.1-1.1 2.2-1.1 2.2-1 2.2-1 2.2-0.2 0.6-0.7 1.6-0.8 2.3-0.6 2.2-0.1 0.4-0.5 1.8-0.3 2.2-0.2 2.2 0 2.2 0.3 2.2 0.4 2.3 0.3 0.8 0.4 1.4z"/>
<path fill="#6effb4" d="M86.4 482.3l2.2 0 2.2 0 2.2 0 2.3 0 2.2 0 2.2 0 2.2 0 2.2 0 2.2 0 2.3 0 2.2 0 2.2 0 2.2 0 2.2 0 2.2 0 2.3 0 2.2 0 2.2 0 2.2 0 2.2 0 2.2 0 0.1 0 0.5-2.2 0.4-2.2 0.4-2.2 0.3-2.3 0.2-2.2 0.1-2.2 0.1-2.2 0.1-2.2-0.1-2.2-0.1-2.2-0.3-2.3-0.3-2.2-0.4-2.2-0.4-2.2-0.6-2.2 0-0.1-0.5-2.1-0.7-2.3-0.7-2.2-0.3-0.7-0.5-1.5-0.8-2.2-0.8-2.2-0.1-0.2-0.8-2-0.9-2.2-0.5-1.3-0.4-1-0.9-2.2-0.9-2.2 0-0.1-0.8-2.1-0.9-2.2-0.5-1.5-0.3-0.7-0.8-2.3-0.7-2.2-0.5-1.6-0.1-0.6-0.6-2.2-0.6-2.2-0.5-2.2-0.4-2.2 0-0.1-0.3-2.2-0.3-2.2-0.3-2.2-0.2-2.2-0.2-2.2-0.1-2.2-0.1-2.2-0.1-2.3 0-2.2 0-2.2-0.1-2.2 0-2.2 0-2.2 0-2.2 0-2.3 0-2.2 0-2.2-0.1-2.2 0-2.2 0-2.2 0-2.3 0-2.2-0.1-2.2 0-2.2 0.1-2.2 0-2.2 0.1-2.2 0.1-2.3 0.1-2.2 0.1-2.2 0.2-2.2 0.3-2.2 0.3-2.2 0.3-2.3 0.3-1.9 0.1-0.3 0.4-2.2 0.5-2.2 0.5-2.2 0.5-2.2 0.2-1 0.4-1.2 0.6-2.3 0.6-2.2 0.6-2.2 0.1-0.1 0.6-2.1 0.6-2.2 0.6-2.2 0.4-1.2 0.3-1 0.6-2.3 0.6-2.2 0.5-2.2 0.2-1 0.3-1.2 0.4-2.2 0.4-2.2 0.3-2.3 0.3-2.2 0.2-2.2 0.1-2.2 0-2.2 0-2.2-0.2-2.2-0.2-2.3-0.3-2.2-0.4-2.2-0.5-2.2-0.4-1.7-0.1-0.5-0.7-2.2-0.7-2.2-0.7-2.2 0-0.1-0.8-2.2-0.9-2.2-0.5-1.5-0.3-0.7-0.8-2.2-0.9-2.2-0.3-0.9-0.4-1.4-0.8-2.2-0.8-2.2-0.2-0.6-0.5-1.6-0.7-2.2-0.7-2.2-0.3-1-0.4-1.2-0.6-2.3-0.7-2.2-0.5-1.9-0.1-0.3-0.6-2.2-0.6-2.2-0.6-2.2-0.3-1.3-0.3-0.9-0.6-2.3-0.5-2.2-0.5-2.2-0.3-1.4-0.2-0.8-0.5-2.2-0.4-2.2-0.4-2.3-0.3-2.2-0.3-2.2-0.2-1.8 0-0.4-0.2-2.2-0.1-2.2 0-2.2 0-2.3 0-2.2 0.1-2.2 0.2-2.2 0-0.4 0.2-1.8 0.2-2.2 0.3-2.2 0.4-2.3 0.3-2.2 0.4-2.2 0.5-2 0-0.2 0.4-2.2 0.5-2.2 0.6-2.3 0.5-2.2 0.2-0.6 0.4-1.6 0.6-2.2 0.6-2.2 0.6-1.9 0.1-0.3 0.7-2.2 0.7-2.3 0.7-2.1 0-0.1 0.8-2.2 0.9-2.2 0.5-1.4 0.3-0.8 0.9-2.2 1-2.2 0-0.2 0.9-2.1 1-2.2 0.4-0.8 0.5-1.4 1-2.2 0.7-1.6 0.3-0.6 0.9-2.2 0.9-2.3 0.1-0.3 0.7-1.9 0.9-2.2 0.6-1.8 0.1-0.4 0.8-2.2 0.7-2.2 0.6-2.1 0.1-0.1 0.6-2.3 0.6-2.2 0.5-2.2 0.4-1.8 0.1-0.4-0.1 0-2.2 0-2.2 0-2.2 0-2.2 0-2.2 0-2.3 0-2.2 0-2.2 0-2.2 0-2.2 0-2.2 0-2.3 0-2.2 0-2.2 0-2.2 0-2.2 0-2.2 0-2.3 0-2.2 0-2.2 0-2.2 0 0 2.2 0 2.2 0 2.2 0 2.3 0 2.2 0 2.2 0 2.2 0 2.2 0 2.2 0 2.2 0 2.3 0 2.2 0 2.2 0 2.2 0 2.2 0 2.2 0 2.3 0 2.2 0 2.2 0 2.2 0 2.2 0 2.2 0 2.2 0 2.3 0 2.2 0 2.2 0 2.2 0 2.2 0 2.2 0 2.2 0 2.3 0 2.2 0 2.2 0 2.2 0 2.2 0 2.2 0 2.3 0 2.2 0 2.2 0 2.2 0 2.2 0 2.2 0 2.2 0 2.3 0 2.2 0 2.2 0 2.2 0 2.2 0 2.2 0 2.2 0 2.3 0 2.2 0 2.2 0 2.2 0 2.2 0 2.2 0 2.3 0 2.2 0 2.2 0 2.2 0 2.2 0 2.2 0 2.2 0 2.3 0 2.2 0 2.2 0 2.2 0 2.2 0 2.2 0 2.2 0 2.3 0 2.2 0 2.2 0 2.2 0 2.2 0 2.2 0 2.3 0 2.2 0 2.2 0 2.2 0 2.2 0 2.2 0 2.2 0 2.3 0 2.2 0 2.2 0 2.2 0 2.2 0 2.2 0 2.2 0 2.3 0 2.2 0 2.2 0 2.2 0 2.2 0 2.2 0 2.3 0 2.2 0 2.2 0 2.2 0 2.2 0 2.2 0 2.2 0 2.3 0 2.2 0 2.2 0 2.2 0 2.2 0 2.2 0 2.2 0 2.3 0 2.2 0 2.2 0 2.2 0 2.2 0 2.2 0 2.3 0 2.2 0 2.2 0 2.2 0 2.2 0 2.2 0 2.2 0 2.3 0 2.2 0 2.2 0 2.2 0 2.2 0 2.2 0 2.3 0 2.2 0 2.2 0 2.2 0 2.2 0 2.2 0 2.2 0 2.3 0 2.2 0 2.2 0 2.2 0 2.2 0 2.2 0 2.2 0 2.3 0 2.2 0 2.2 0 2.2 0 2.2 0 2.2 0 2.2 0 2.3 0 2.2 0 2.2 0 2.2 0 2.2 0 2.2 0 2.3 0 2.2 0 2.2 0 2.2 0 2.2 0 2.2 0 2.2 0 2.3 0 2.2 0 2.2 0 2.2 0 2.2 0 2.2 0 2.3 0 2.2 0 2.2 0 2.2 0 2.2 0 2.2 0 2.2 0 2.3 0 2.2 0 2.2zM265.8 480.1l0.1 0.3 0.6 1.9 1.6 0 2.2 0 2.3 0 2.2 0 2.2 0 2.2 0 2.2 0 2.2 0 2.2 0 2.3 0 2.2 0 2.2 0 2.2 0 2.2 0 2.2 0 2.3 0 2.2 0 2.2 0 2.2 0 2.2 0 2.2 0 2.3 0 2.2 0 2.2 0 2.2 0 2.2 0 2.2 0 2.3 0 2.2 0 2.2 0 2.2 0 2.2 0 2.2 0 2.3 0 2.2 0 2.2 0 2.2 0 2.2 0 2.2 0 2.2 0 2.3 0 2.2 0 2.2 0 2.2 0 2.2 0 2.2 0 2.3 0 2.2 0 1.5 0 0.7-2.2 0-0.1 0.6-2.1 0.4-2.2 0.4-2.3 0.1-2.2 0.1-2.2-0.2-2.2-0.3-2.2-0.5-2.2-0.6-2.2-0.9-2.3-1-2.2-0.3-0.6-0.9-1.6-1.3-2.2 0-0.1-1.4-2.1-0.9-1.3-0.6-0.9-1.6-2.2 0-0.1-1.7-2.2-0.5-0.6-1.2-1.6-1-1.1-0.9-1.1-1.3-1.4-0.8-0.8-1.4-1.4-0.9-0.8-1.4-1.2-1.1-1-1.1-0.9-1.7-1.4-0.5-0.3-2.2-1.8-0.1-0.1-2.1-1.9-0.4-0.3-1.8-1.9-0.3-0.3-1.8-2.2-0.1-0.2-1.4-2-0.9-1.6-0.3-0.7-1-2.2-0.9-2.2-0.6-2.2-0.5-2.2-0.3-2.2-0.1-2.2 0.1-2.3 0.2-2.2 0.5-2.2 0.5-2.2 0.2-0.6 0.5-1.6 0.9-2.2 0.8-2.2 0.9-2.3 0.8-2.2 0.6-1.3 0.2-0.9 0.7-2.2 0.7-2.2 0.6-2.1 0-0.1 0.5-2.2 0.4-2.3 0.5-2.2 0.3-2.2 0.4-2.2 0.1-0.6 0.2-1.6 0.3-2.2 0.3-2.3 0.3-2.2 0.3-2.2 0.4-2.2 0.4-2.2 0-0.1 0.4-2.1 0.5-2.2 0.7-2.3 0.6-2 0.1-0.2 0.8-2.2 1-2.2 0.3-0.7 0.9-1.5 1.3-2.2 0-0.2 1.4-2.1 0.9-1.2 0.6-1 1.6-2.1 0-0.1 1.5-2.2 0.7-1 0.8-1.2 1.4-2.2 1.3-2.2 0.9-1.6 0.4-0.7 1.2-2.2 0.6-1.1 0.6-1.1 1.1-2.2 0.6-1 0.5-1.2 1.1-2.2 0.6-1.1 0.5-1.1 1-2.3 0.7-1.4 0.3-0.8 1-2.2 0.9-2.2 0.8-2.2 0.7-2.2 0.6-2.3 0.1-0.6 0.3-1.6 0.3-2.2 0.1-2.2-0.1-2.2-0.3-2.2-0.3-1.2-0.2-1-0.7-2.3-0.8-2.2-0.5-1-0.5-1.2-1-2.2-0.7-1.3-0.4-0.9-1.2-2.2-0.6-1.3-0.5-0.9-1.1-2.3-0.6-1.1-0.6-1.1-1.1-2.2-0.6-0.9-0.6-1.3-1.2-2.2-0.4-0.6-0.9-1.6-1.2-2.3-0.1-0.1-1.2-2.1-1-1.6-0.4-0.6-1.3-2.2-0.5-0.7-1-1.5-1.2-2-0.2-0.2-1.4-2.2-0.7-1-0.8-1.3-1.4-2-0.1-0.2-1.5-2.2-0.6-0.9-0.9-1.3-1.3-2-0.1-0.2-1.5-2.2-0.6-0.9-0.9-1.3-1.3-2.1-0.2-0.2-1.4-2.2-0.6-1-0.8-1.2-1.3-2.2-0.2-0.4-1-1.8-1.1-2.2-0.1-0.1-1-2.2-0.9-2.2-0.3-0.7-0.6-1.5-0.7-2.2-0.6-2.2-0.3-1.4-0.2-0.8-0.4-2.2-0.2-2.3-0.2-2.2 0-2.2 0.1-2.2 0.3-2.2 0.3-2.2 0.3-1.4 0.1-0.8 0.6-2.3 0.6-2.2 0.8-2.2 0.1-0.3 0.7-1.9 0.9-2.2 0.6-1.6 0.3-0.6 1-2.3 0.9-2 0.1-0.2 1.1-2.2 1.1-2.1 0-0.1 1.1-2.2 1.1-2.1 0.1-0.1 1.1-2.2 1-1.8 0.2-0.5 1.2-2.2 0.8-1.4 0.4-0.8 1.3-2.2 0.5-0.9 0.8-1.3 1.3-2.2 0.1-0.3 1.2-1.9 1-1.8 0.3-0.5 1.4-2.2 0.6-0.9 0.8-1.3 1.3-2.2 0.1-0.1 1.3-2.1 0.9-1.5 0.5-0.7 1.3-2.3 0.4-0.7 0.9-1.5 1.3-2.2 0-0.1 1.2-2.1 1-2 0.2-0.2 1.1-2.2 1-2 0.1-0.2 1-2.3 0.9-2.2 0.2-0.4 0.7-1.8 0.8-2.2-1.5 0-2.2 0-2.3 0-2.2 0-2.2 0-2.2 0-2.2 0-2.2 0-2.3 0-2.2 0-2.2 0-2.2 0-2.2 0-2.2 0-2.2 0-2.3 0-2.2 0-2.2 0-2.2 0-2.2 0-2.2 0-2.3 0-2.2 0-2.2 0-2.2 0-2.2 0-2.2 0-2.3 0-2.2 0-2.2 0-2.2 0-2.2 0-2.2 0-2.3 0-2.2 0-2.2 0-2.2 0-2.2 0-2.2 0-2.3 0-2.2 0-2.2 0-2.2 0-2.2 0-2.2 0-2.2 0-2.3 0-2.2 0-1.6 0 0.7 2.2 0.8 2.2 0.1 0.2 0.8 2 0.9 2.3 0.5 1.2 0.4 1 0.9 2.2 0.9 2.2 0.1 0.1 0.7 2.1 0.9 2.2 0.6 1.7 0.1 0.5 0.8 2.3 0.7 2.2 0.6 2 0.1 0.2 0.6 2.2 0.6 2.2 0.6 2.2 0.3 1.1 0.3 1.2 0.6 2.2 0.5 2.2 0.6 2.2 0.2 0.8 0.4 1.4 0.5 2.2 0.6 2.2 0.5 2.3 0.2 1 0.3 1.2 0.5 2.2 0.5 2.2 0.5 2.2 0.4 2.2 0 0.5 0.4 1.7 0.3 2.3 0.3 2.2 0.3 2.2 0.2 2.2 0.2 2.2 0.1 2.2 0.1 2.3 0 2.2 0 2.2-0.1 2.2-0.1 2.2-0.1 2.2-0.2 2.2-0.3 2.3-0.3 2.2-0.3 2.2-0.4 2.2-0.1 0.2-0.3 2-0.4 2.2-0.5 2.2-0.5 2.3-0.5 1.8-0.1 0.4-0.5 2.2-0.6 2.2-0.6 2.2-0.4 1.2-0.3 1-0.7 2.3-0.7 2.2-0.5 1.3-0.3 0.9-0.8 2.2-0.9 2.2-0.2 0.5-0.7 1.7-1 2.2-0.5 1.2-0.5 1.1-1 2.2-0.7 1.5-0.4 0.7-1 2.2-0.9 1.8-0.2 0.4-1 2.2-1 2.2 0 0.1-0.9 2.2-0.9 2.2-0.4 0.9-0.5 1.3-0.9 2.2-0.7 2.2-0.1 0.2-0.7 2-0.7 2.3-0.7 2.2-0.1 0.4-0.6 1.8-0.6 2.2-0.5 2.2-0.5 2.2 0 0.1-0.5 2.1-0.4 2.3-0.3 2.2-0.3 2.2-0.1 2.2-0.1 2.2 0 2.2 0.1 2.2 0.2 2.3 0.4 2.2 0.4 2.2 0.5 2.2 0.1 0.2 0.5 2 0.7 2.2 0.8 2.3 0.2 0.5 0.6 1.7 0.9 2.2 0.7 1.4 0.3 0.8 1.1 2.2 0.8 1.8 0.2 0.4 1.1 2.2 0.9 1.8 0.2 0.5 1.1 2.2 0.9 1.8 0.2 0.4 1.1 2.2 1 2.2 0.9 2.2 0.8 2.2 0.5 1.4 0.3 0.9 0.6 2.2 0.6 2.2 0.5 2.2 0.2 1.3 0.1 0.9 0.4 2.2 0.2 2.3 0.2 2.2 0.1 2.2 0.1 2.2 0.1 2.2 0.1 2.2 0 2.2 0 2.3 0 2.2 0.1 2.2 0 2.2 0 2.2 0.1 2.2 0 2.3 0.1 2.2 0.1 2.2 0.1 2.2 0.1 2.2 0.1 2.2 0.2 2.2 0 1.1 0.1 1.2 0.1 2.2 0 2.2 0.1 2.2 0 2.2 0 2.2-0.1 2.2-0.1 2.3-0.1 0.7-0.1 1.5-0.3 2.2-0.2 2.2-0.4 2.2-0.4 2.2-0.5 2.2-0.3 1.3-0.2 1-0.6 2.2-0.7 2.2-0.6 2.2-0.1 0.3-0.6 1.9-0.8 2.2-0.7 2.3-0.1 0.3-0.7 1.9-0.8 2.2-0.8 2.1 0 0.1-0.8 2.2-0.8 2.2-0.6 1.8-0.1 0.4-0.8 2.3-0.6 2.2-0.6 2.2-0.1 0.2-0.5 2-0.5 2.2-0.4 2.2-0.3 2.3-0.3 2.2-0.1 2.2 0 2.2 0.1 2.2 0.1 2.2 0.3 2.2 0.4 2.3 0.5 2.2zM418.4 482.3l0.4 0 2.2 0 2.2 0 2.3 0 2.2 0 2.2 0 2.2 0 2.2 0 2.2 0 2.3 0 2.2 0 2.2 0 2.2 0 2.2 0 2.2 0 2.3 0 2.2 0 2.2 0 2.2 0 2.2 0 2.2 0 2.3 0 2.2 0 2.2 0 2.2 0 2.2 0 2.2 0 2.3 0 2.2 0 2.2 0 2.2 0 0-2.2 0-2.2 0-2.2 0-2.3 0-2.2 0-2.2 0-2.2 0-2.2 0-2.2 0-2.2 0-2.3 0-2.2 0-2.2 0-2.2 0-2.2 0-2.2 0-2.3 0-2.2 0-2.2 0-2.2 0-2.2 0-2.2 0-2.2 0-2.3 0-2.2 0-2.2 0-2.2 0-2.2 0-2.2 0-2.3 0-2.2 0-2.2 0-2.2 0-2.2 0-2.2 0-2.2 0-2.3 0-2.2 0-2.2 0-2.2 0-2.2 0-2.2 0-2.2 0-2.3 0-2.2 0-2.2 0-2.2 0-2.2 0-2.2 0-2.2 0-2.3 0-2.2 0-2.2 0-2.2 0-2.2 0-2.2 0-2.3 0-2.2 0-2.2 0-2.2 0-2.2 0-2.2 0-2.2 0-2.3 0-2.2 0-2.2 0-2.2 0-2.2 0-2.2 0-2.3 0-2.2 0-2.2 0-2.2 0-2.2 0-2.2 0-2.2 0-2.3 0-2.2 0-2.2 0-2.2 0-2.2 0-2.2 0-2.2 0-2.3 0-2.2 0-2.2 0-2.2 0-2.2 0-2.2 0-2.3 0-2.2 0-2.2 0-2.2 0-2.2 0-2.2 0-2.2 0-2.3 0-2.2 0-2.2 0-2.2 0-2.2 0-2.2 0-2.2 0-2.3 0-2.2 0-2.2 0-2.2 0-2.2 0-2.2 0-2.3 0-2.2 0-2.2 0-2.2 0-2.2 0-2.2 0-2.2 0-2.3 0-2.2 0-2.2 0-2.2 0-2.2 0-2.2 0-2.2 0-2.3 0-2.2 0-2.2 0-2.2 0-2.2 0-2.2 0-2.3 0-2.2 0-2.2 0-2.2 0-2.2 0-2.2 0-2.2 0-2.3 0-2.2 0-2.2 0-2.2 0-2.2 0-2.2 0-2.2 0-2.3 0-2.2 0-2.2 0-2.2 0-2.2 0-2.2 0-2.3 0-2.2 0-2.2 0-2.2 0-2.2 0-2.2 0-2.2 0-2.3 0-2.2 0-2.2 0-2.2 0-2.2 0-2.2 0-2.2 0-2.3 0-2.2 0-2.2 0-2.2 0-2.2 0-2.2 0-2.3 0-2.2 0-2.2 0-2.2 0-2.2 0-2.2 0-2.2 0-2.3 0-2.2 0-2.2 0-2.2-2.2 0-2.2 0-2.2 0-2.3 0-2.2 0-2.2 0-2.2 0-2.2 0-2.2 0-2.3 0-2.2 0-2.2 0-2.2 0-2.2 0-2.2 0-2.3 0-2.2 0-2.2 0-2.2 0-2.2 0-2.2 0-2.3 0-2.2 0-2.2 0-2.2 0-2.2 0-2.2 0-2.3 0-2.2 0-2.2 0-0.4 0 0.4 0.8 0.7 1.4 1.2 2.2 0.3 0.7 0.9 1.5 1.2 2.3 0.1 0.3 1.1 1.9 1.2 2.2 1.2 2.2 1 1.9 0.2 0.3 1.2 2.2 0.8 1.5 0.4 0.7 1.3 2.3 0.5 0.9 0.7 1.3 1.3 2.2 0.2 0.3 1.2 1.9 1 1.7 0.4 0.5 1.4 2.2 0.5 0.7 1 1.6 1.2 1.8 0.3 0.4 1.5 2.2 0.4 0.6 1.1 1.6 1.1 1.7 0.3 0.5 1.5 2.2 0.4 0.7 1 1.5 1.2 2 0.2 0.3 1.3 2.2 0.8 1.2 0.5 1 1.2 2.2 0.5 1 0.6 1.2 1 2.2 0.6 1.4 0.4 0.8 0.9 2.3 0.7 2.2 0.2 0.5 0.6 1.7 0.6 2.2 0.5 2.2 0.5 2.2 0 0.2 0.4 2.1 0.3 2.2 0.2 2.2 0.2 2.2 0 2.2 0 2.2-0.1 2.2-0.2 2.3-0.3 2.2-0.5 2.2 0 0.1-0.5 2.1-0.6 2.2-0.7 2.2-0.4 1-0.5 1.2-0.9 2.3-0.8 1.6-0.3 0.6-1.1 2.2-0.8 1.5-0.4 0.7-1.3 2.2-0.5 0.9-0.8 1.3-1.4 2.3-0.1 0-1.4 2.2-0.8 1.2-0.6 1-1.5 2.2-0.1 0.1-1.4 2.1-0.8 1.1-0.8 1.1-1.4 2.1-0.1 0.1-1.5 2.3-0.6 0.8-0.9 1.4-1.4 2-0.1 0.2-1.4 2.2-0.7 1.1-0.7 1.1-1.3 2.2-0.2 0.4-1.1 1.8-1.1 2.1-0.1 0.2-1.2 2.2-0.9 1.7-0.3 0.5-1.1 2.2-0.8 1.7-0.3 0.5-1.1 2.2-0.9 1.7-0.2 0.6-1.1 2.2-0.9 1.9-0.1 0.3-1 2.2-0.9 2.2-0.2 0.6-0.6 1.6-0.6 2.2-0.6 2.3-0.4 2.2 0 0.1-0.2 2.1-0.1 2.2 0 2.2 0.2 2.2 0.1 0.9 0.2 1.3 0.4 2.3 0.5 2.2 0.6 2.2 0.5 1.6 0.2 0.6 0.8 2.2 0.8 2.2 0.4 1.1 0.5 1.2 0.9 2.2 0.8 1.9 0.2 0.3 1 2.2 1 2.2 0.1 0.1 1 2.1 1.1 2.2 0.1 0.3 1 2 1.2 2.2 0 0.1 1.2 2.1 1 1.9 0.2 0.3 1.3 2.2 0.7 1.3 0.6 0.9 1.4 2.2 0.2 0.5 1.2 1.8 1.1 1.8 0.2 0.4 1.3 2.2 0.7 1.3 0.5 0.9 1.1 2.2 0.6 1.5 0.3 0.7 0.9 2.3 0.7 2.2 0.3 1.1 0.3 1.1 0.6 2.2 0.4 2.2 0.4 2.2 0.3 2.2 0.2 1.9 0.1 0.4 0.2 2.2 0.2 2.2 0.1 2.2 0.1 2.2 0.1 2.2 0.1 2.3 0 2.2 0 2.2 0 2.2 0 2.2-0.1 2.2-0.1 2.2-0.1 2.3-0.2 2.2-0.2 2.2-0.2 1.1-0.1 1.1-0.3 2.2-0.4 2.2-0.5 2.2-0.6 2.3-0.3 0.8-0.4 1.4-0.8 2.2-1 2.2 0 0.1-1 2.1-1.2 2.2 0 0.1-1.2 2.1-1 1.7-0.4 0.6-1.3 2.2-0.6 0.8-0.8 1.4-1.4 2.1 0 0.1-1.4 2.2-0.8 1.3-0.5 0.9-1.3 2.3-0.4 0.6-0.9 1.6-1.3 2.2-1.2 2.2-1 1.8-0.3 0.4-1.1 2.2-0.9 1.6-0.3 0.6-1.1 2.3-0.8 1.5-0.3 0.7-1 2.2-0.9 2-0.1 0.2-0.8 2.2-0.9 2.2-0.4 1.5-0.2 0.8-0.6 2.2-0.4 2.2-0.3 2.2-0.1 2.2 0.1 2.2 0.3 2.2 0.5 2.3 0.7 2.2 0.8 2.2z"/>
<path fill="#91ff91" d="M86.4 482.3l2.2 0 2.2 0 2.2 0 2.3 0 2.2 0 2.2 0 2.2 0 2.2 0 2.2 0 2.3 0 2.2 0 2.2 0 2.2 0 2.2 0 2.2 0 2.3 0 2.2 0 2.2 0 2.2 0 2.1 0 0.1-0.9 0.3-1.3 0.3-2.2 0.4-2.2 0.2-2.3 0.2-2.2 0.1-2.2 0.1-2.2 0-2.2-0.1-2.2-0.1-2.2-0.2-2.3-0.3-2.2-0.4-2.2-0.4-2.2-0.1-0.3-0.4-1.9-0.6-2.2-0.6-2.3-0.6-1.9-0.1-0.3-0.7-2.2-0.8-2.2-0.6-1.8-0.2-0.4-0.8-2.2-0.8-2.2-0.4-1-0.5-1.3-0.8-2.2-0.9-2.2 0-0.1-0.8-2.1-0.8-2.2-0.7-1.8-0.1-0.4-0.7-2.3-0.7-2.2-0.7-2.2 0-0.1-0.5-2.1-0.6-2.2-0.4-2.2-0.4-2.2-0.3-1.7-0.1-0.6-0.3-2.2-0.2-2.2-0.2-2.2-0.1-2.2-0.2-2.2 0-2.2-0.1-2.3 0-2.2 0-2.2 0-2.2 0-2.2 0-2.2 0-2.2 0-2.3 0-2.2 0-2.2 0-2.2-0.1-2.2 0-2.2 0-2.3 0-2.2-0.1-2.2 0-2.2 0.1-2.2 0-2.2 0-2.2 0.1-2.3 0.1-2.2 0.2-2.2 0.2-2.2 0.2-2.2 0.3-2.2 0.2-1.5 0.1-0.8 0.4-2.2 0.4-2.2 0.4-2.2 0.5-2.2 0.4-1.7 0.2-0.5 0.5-2.2 0.6-2.3 0.6-2.2 0.3-1.3 0.3-0.9 0.6-2.2 0.6-2.2 0.6-2.2 0.2-0.6 0.4-1.6 0.6-2.3 0.5-2.2 0.5-2.2 0.2-0.8 0.3-1.4 0.4-2.2 0.3-2.2 0.3-2.3 0.2-2.2 0.2-2.2 0.1-2.2 0-2.2-0.1-2.2-0.2-2.2-0.2-2.3-0.4-2.2-0.4-2.2-0.5-2.2 0-0.2-0.5-2-0.7-2.2-0.7-2.2-0.3-1.2-0.4-1.1-0.7-2.2-0.8-2.2-0.4-1-0.4-1.2-0.7-2.2-0.8-2.2-0.3-0.8-0.5-1.5-0.7-2.2-0.7-2.2-0.3-0.8-0.4-1.4-0.7-2.2-0.7-2.2-0.4-1.5-0.2-0.7-0.7-2.3-0.7-2.2-0.6-2.2-0.7-2.2-0.6-2.2-0.6-2.2-0.3-1.2-0.4-1-0.6-2.3-0.6-2.2-0.5-2.2-0.2-0.6-0.3-1.6-0.5-2.2-0.5-2.2-0.4-2.3-0.3-2.2-0.2-1.4-0.1-0.8-0.2-2.2-0.2-2.2-0.1-2.2 0-2.2 0-2.3 0.1-2.2 0.1-2.2 0.2-2.2 0.2-1.6 0.1-0.6 0.3-2.2 0.3-2.2 0.4-2.3 0.4-2.2 0.4-2.2 0.3-1.4 0.2-0.8 0.5-2.2 0.5-2.2 0.6-2.3 0.5-1.9 0-0.3 0.6-2.2 0.6-2.2 0.7-2.2 0.3-1.1 0.3-1.1 0.7-2.2 0.7-2.3 0.5-1.4 0.2-0.8 0.8-2.2 0.8-2.2 0.4-1.1 0.4-1.1 0.9-2.2 0.9-2.2 0-0.1 0.9-2.2 0.9-2.2 0.4-0.9 0.6-1.3 0.9-2.2 0.8-1.7 0.2-0.5 0.9-2.2 0.9-2.3 0.2-0.4 0.7-1.8 0.8-2.2 0.7-2 0.1-0.2 0.7-2.2 0.7-2.2 0.6-2.2 0.1-0.4 0.5-1.9 0.6-2.2 0.5-2.2 0.5-2.2-2.1 0-2.2 0-2.2 0-2.2 0-2.3 0-2.2 0-2.2 0-2.2 0-2.2 0-2.2 0-2.3 0-2.2 0-2.2 0-2.2 0-2.2 0-2.2 0-2.3 0-2.2 0-2.2 0-2.2 0 0 2.2 0 2.2 0 2.2 0 2.3 0 2.2 0 2.2 0 2.2 0 2.2 0 2.2 0 2.2 0 2.3 0 2.2 0 2.2 0 2.2 0 2.2 0 2.2 0 2.3 0 2.2 0 2.2 0 2.2 0 2.2 0 2.2 0 2.2 0 2.3 0 2.2 0 2.2 0 2.2 0 2.2 0 2.2 0 2.2 0 2.3 0 2.2 0 2.2 0 2.2 0 2.2 0 2.2 0 2.3 0 2.2 0 2.2 0 2.2 0 2.2 0 2.2 0 2.2 0 2.3 0 2.2 0 2.2 0 2.2 0 2.2 0 2.2 0 2.2 0 2.3 0 2.2 0 2.2 0 2.2 0 2.2 0 2.2 0 2.3 0 2.2 0 2.2 0 2.2 0 2.2 0 2.2 0 2.2 0 2.3 0 2.2 0 2.2 0 2.2 0 2.2 0 2.2 0 2.2 0 2.3 0 2.2 0 2.2 0 2.2 0 2.2 0 2.2 0 2.3 0 2.2 0 2.2 0 2.2 0 2.2 0 2.2 0 2.2 0 2.3 0 2.2 0 2.2 0 2.2 0 2.2 0 2.2 0 2.2 0 2.3 0 2.2 0 2.2 0 2.2 0 2.2 0 2.2 0 2.3 0 2.2 0 2.2 0 2.2 0 2.2 0 2.2 0 2.2 0 2.3 0 2.2 0 2.2 0 2.2 0 2.2 0 2.2 0 2.2 0 2.3 0 2.2 0 2.2 0 2.2 0 2.2 0 2.2 0 2.3 0 2.2 0 2.2 0 2.2 0 2.2 0 2.2 0 2.2 0 2.3 0 2.2 0 2.2 0 2.2 0 2.2 0 2.2 0 2.3 0 2.2 0 2.2 0 2.2 0 2.2 0 2.2 0 2.2 0 2.3 0 2.2 0 2.2 0 2.2 0 2.2 0 2.2 0 2.2 0 2.3 0 2.2 0 2.2 0 2.2 0 2.2 0 2.2 0 2.2 0 2.3 0 2.2 0 2.2 0 2.2 0 2.2 0 2.2 0 2.3 0 2.2 0 2.2 0 2.2 0 2.2 0 2.2 0 2.2 0 2.3 0 2.2 0 2.2 0 2.2 0 2.2 0 2.2 0 2.3 0 2.2 0 2.2 0 2.2 0 2.2 0 2.2 0 2.2 0 2.3 0 2.2 0 2.2zM269.3 482.3l1 0 2.3 0 2.2 0 2.2 0 2.2 0 2.2 0 2.2 0 2.2 0 2.3 0 2.2 0 2.2 0 2.2 0 2.2 0 2.2 0 2.3 0 2.2 0 2.2 0 2.2 0 2.2 0 2.2 0 2.3 0 2.2 0 2.2 0 2.2 0 2.2 0 2.2 0 2.3 0 2.2 0 2.2 0 2.2 0 2.2 0 2.2 0 2.3 0 2.2 0 2.2 0 2.2 0 2.2 0 2.2 0 2.2 0 2.3 0 2.2 0 2.2 0 2.2 0 2.2 0 2.2 0 2.2 0 0.1-0.1 0.5-2.1 0.5-2.2 0.4-2.2 0.2-2.3 0.1-2.2-0.1-2.2-0.2-2.2-0.4-2.2-0.6-2.2-0.4-1.3-0.4-0.9-0.9-2.3-1-2-0.1-0.2-1.2-2.2-0.9-1.5-0.4-0.7-1.4-2.2-0.4-0.6-1.1-1.6-1.1-1.5-0.6-0.8-1.6-2-0.1-0.2-2-2.2-0.1-0.2-2-2-0.3-0.3-2.1-1.9-0.1-0.1-2.2-1.9-0.2-0.2-2-1.7-0.7-0.5-1.5-1.4-0.9-0.9-1.3-1.2-1-1-1.2-1.4-0.7-0.8-1.6-2-0.1-0.2-1.4-2.2-0.7-1.1-0.6-1.1-1.1-2.3-0.5-1.1-0.4-1.1-0.8-2.2-0.6-2.2-0.4-1.6-0.1-0.6-0.4-2.2-0.2-2.2 0-2.3 0.1-2.2 0.2-2.2 0.4-1.8 0.1-0.4 0.6-2.2 0.7-2.2 0.8-1.9 0.1-0.3 1-2.3 1-2.2 0.1-0.2 0.9-2 0.9-2.2 0.4-1.1 0.4-1.1 0.8-2.2 0.6-2.2 0.5-1.6 0.1-0.7 0.5-2.2 0.4-2.2 0.4-2.2 0.4-2.2 0.3-2.2 0.1-0.8 0.2-1.5 0.2-2.2 0.3-2.2 0.3-2.2 0.3-2.2 0.3-2.2 0.4-2.2 0.2-0.9 0.3-1.4 0.5-2.2 0.7-2.2 0.7-2.1 0-0.1 1-2.2 1.1-2.2 0.1-0.3 1.1-2 1.1-1.6 0.4-0.6 1.6-2.2 0.2-0.4 1.4-1.8 0.9-1.1 0.7-1.1 1.5-2 0.1-0.2 1.5-2.2 0.6-0.9 0.9-1.4 1.3-2.2 1.2-2.2 1-1.9 0.2-0.3 1.1-2.2 0.9-2 0.2-0.2 1-2.2 1-2.3 0.1-0.2 0.8-2 0.9-2.2 0.5-1.4 0.3-0.8 0.7-2.2 0.6-2.2 0.5-2.3 0.1-0.7 0.2-1.5 0.2-2.2 0-2.2-0.1-2.2-0.3-2 0-0.2-0.5-2.2-0.6-2.3-0.8-2.2-0.3-1-0.5-1.2-0.8-2.2-0.9-2.2-1-2.2-0.9-2.2-0.4-0.8-0.6-1.5-1-2.2-0.6-1-0.5-1.2-1.1-2.2-0.6-1.1-0.6-1.1-1.2-2.2-0.4-0.8-0.8-1.5-1.3-2.2-0.1-0.2-1.2-2-1-1.6-0.4-0.6-1.4-2.2-0.5-0.7-0.9-1.5-1.3-2-0.1-0.2-1.5-2.3-0.6-0.8-0.9-1.4-1.3-1.9-0.2-0.3-1.5-2.2-0.5-0.8-1-1.4-1.2-1.8-0.3-0.4-1.5-2.2-0.4-0.7-1.1-1.6-1.2-1.9-0.2-0.3-1.3-2.2-0.7-1.1-0.6-1.1-1.3-2.2-0.3-0.7-0.8-1.5-1-2.3-0.4-0.8-0.6-1.4-0.9-2.2-0.7-2.2 0-0.1-0.6-2.1-0.5-2.2-0.4-2.2-0.3-2.3-0.1-2.2 0-2.2 0.1-2.2 0.2-2.2 0.4-2.2 0.4-2.2 0.6-2.3 0.2-0.5 0.5-1.7 0.7-2.2 0.9-2.2 0.1-0.2 0.8-2 1-2.2 0.4-0.9 0.6-1.4 1.1-2.2 0.5-1 0.6-1.2 1.1-2.2 0.5-0.9 0.7-1.3 1.2-2.2 0.4-0.8 0.7-1.4 1.2-2.3 0.3-0.4 0.9-1.8 1.2-2.2 0.1-0.1 1.1-2.1 1.1-1.9 0.2-0.3 1.2-2.2 0.8-1.4 0.5-0.8 1.3-2.3 0.4-0.7 0.9-1.5 1.3-2.1 0.1-0.1 1.3-2.2 0.9-1.4 0.4-0.8 1.4-2.2 0.4-0.8 0.9-1.5 1.2-2.2 0.1-0.1 1.2-2.1 1-1.9 0.2-0.3 1.1-2.2 0.9-2 0.2-0.2 1-2.2 0.9-2.3 0.1-0.3 0.8-1.9 0.7-2.2 0.7-2.2-2.2 0-2.2 0-2.2 0-2.2 0-2.2 0-2.2 0-2.3 0-2.2 0-2.2 0-2.2 0-2.2 0-2.2 0-2.2 0-2.3 0-2.2 0-2.2 0-2.2 0-2.2 0-2.2 0-2.3 0-2.2 0-2.2 0-2.2 0-2.2 0-2.2 0-2.3 0-2.2 0-2.2 0-2.2 0-2.2 0-2.2 0-2.3 0-2.2 0-2.2 0-2.2 0-2.2 0-2.2 0-2.3 0-2.2 0-2.2 0-2.2 0-2.2 0-2.2 0-2.2 0-2.3 0-1 0 0.7 2.2 0.3 0.9 0.5 1.3 0.8 2.2 0.9 2.3 0.1 0.2 0.7 2 0.8 2.2 0.7 1.7 0.1 0.5 0.8 2.2 0.8 2.2 0.5 1.6 0.2 0.6 0.7 2.3 0.6 2.2 0.6 2.2 0.1 0.2 0.6 2 0.6 2.2 0.5 2.2 0.5 1.9 0.1 0.4 0.6 2.2 0.6 2.2 0.5 2.2 0.4 1.6 0.2 0.6 0.6 2.2 0.6 2.2 0.5 2.3 0.3 1.5 0.2 0.7 0.6 2.2 0.5 2.2 0.4 2.2 0.5 2.2 0.1 0.7 0.3 1.5 0.3 2.3 0.3 2.2 0.3 2.2 0.2 2.2 0.2 2.2 0.1 2.2 0.1 2.3 0 2.2 0 2.2-0.1 2.2-0.1 2.2-0.2 2.2-0.2 2.2-0.2 2.3-0.3 2.2-0.4 2.2-0.3 2-0.1 0.2-0.4 2.2-0.4 2.2-0.5 2.2-0.5 2.3-0.4 1.3-0.2 0.9-0.5 2.2-0.6 2.2-0.6 2.2-0.3 0.8-0.4 1.4-0.7 2.3-0.7 2.2-0.4 1.1-0.4 1.1-0.8 2.2-0.8 2.2-0.2 0.4-0.7 1.8-1 2.2-0.5 1.3-0.4 1-1.1 2.2-0.7 1.6-0.3 0.6-1 2.2-0.9 1.9-0.2 0.3-1 2.2-1.1 2.2 0 0.1-0.9 2.2-1 2.2-0.3 0.7-0.6 1.5-0.8 2.2-0.8 2.2-0.8 2.2-0.7 2.3-0.6 2.2-0.1 0.3-0.5 1.9-0.6 2.2-0.5 2.2-0.5 2.2-0.1 0.8-0.3 1.4-0.4 2.3-0.3 2.2-0.2 2.2-0.1 2.2-0.1 2.2 0.1 2.2 0.1 2.2 0.2 2.3 0.3 2.2 0.4 2.2 0.3 1 0.2 1.2 0.6 2.2 0.7 2.2 0.7 2.1 0 0.2 0.9 2.2 0.9 2.2 0.4 1 0.5 1.2 1 2.2 0.7 1.4 0.4 0.8 1.1 2.2 0.7 1.6 0.4 0.7 1.1 2.2 0.8 1.6 0.2 0.6 1 2.2 1 2.2 0.9 2.2 0.8 2.2 0.5 1.6 0.2 0.7 0.6 2.2 0.6 2.2 0.4 2.2 0.4 2.2 0 0.2 0.3 2 0.2 2.3 0.1 2.2 0.2 2.2 0 2.2 0.1 2.2 0 2.2 0 2.2 0 2.3 0 2.2 0 2.2 0 2.2 0 2.2 0.1 2.2 0 2.2 0.1 2.3 0.1 2.2 0.1 2.2 0.1 2.2 0.1 2.2 0.1 2.2 0.2 2.3 0.1 2.2 0 2.2 0.1 2.2 0 2.2 0 2.2-0.1 2.2-0.1 2.3-0.2 2.2-0.2 2.2-0.3 2.2-0.4 2.2-0.4 2.2-0.3 1.5-0.2 0.7-0.5 2.3-0.6 2.2-0.6 2.2-0.3 1.1-0.4 1.1-0.6 2.2-0.8 2.2-0.4 1.5-0.3 0.8-0.7 2.2-0.8 2.2-0.4 1.4-0.3 0.8-0.8 2.2-0.7 2.2-0.5 1.5-0.2 0.7-0.7 2.3-0.6 2.2-0.5 2.2-0.2 0.7-0.3 1.5-0.5 2.2-0.3 2.2-0.3 2.3-0.2 2.2-0.1 2.2 0 2.2 0.1 2.2 0.3 2.2 0.3 2.2 0.4 2.3 0.5 2.2 0.1 0.4 0.5 1.8zM422.3 482.3l0.9 0 2.3 0 2.2 0 2.2 0 2.2 0 2.2 0 2.2 0 2.3 0 2.2 0 2.2 0 2.2 0 2.2 0 2.2 0 2.3 0 2.2 0 2.2 0 2.2 0 2.2 0 2.2 0 2.3 0 2.2 0 2.2 0 2.2 0 2.2 0 2.2 0 2.3 0 2.2 0 2.2 0 2.2 0 0-2.2 0-2.2 0-2.2 0-2.3 0-2.2 0-2.2 0-2.2 0-2.2 0-2.2 0-2.2 0-2.3 0-2.2 0-2.2 0-2.2 0-2.2 0-2.2 0-2.3 0-2.2 0-2.2 0-2.2 0-2.2 0-2.2 0-2.2 0-2.3 0-2.2 0-2.2 0-2.2 0-2.2 0-2.2 0-2.3 0-2.2 0-2.2 0-2.2 0-2.2 0-2.2 0-2.2 0-2.3 0-2.2 0-2.2 0-2.2 0-2.2 0-2.2 0-2.2 0-2.3 0-2.2 0-2.2 0-2.2 0-2.2 0-2.2 0-2.2 0-2.3 0-2.2 0-2.2 0-2.2 0-2.2 0-2.2 0-2.3 0-2.2 0-2.2 0-2.2 0-2.2 0-2.2 0-2.2 0-2.3 0-2.2 0-2.2 0-2.2 0-2.2 0-2.2 0-2.3 0-2.2 0-2.2 0-2.2 0-2.2 0-2.2 0-2.2 0-2.3 0-2.2 0-2.2 0-2.2 0-2.2 0-2.2 0-2.2 0-2.3 0-2.2 0-2.2 0-2.2 0-2.2 0-2.2 0-2.3 0-2.2 0-2.2 0-2.2 0-2.2 0-2.2 0-2.2 0-2.3 0-2.2 0-2.2 0-2.2 0-2.2 0-2.2 0-2.2 0-2.3 0-2.2 0-2.2 0-2.2 0-2.2 0-2.2 0-2.3 0-2.2 0-2.2 0-2.2 0-2.2 0-2.2 0-2.2 0-2.3 0-2.2 0-2.2 0-2.2 0-2.2 0-2.2 0-2.2 0-2.3 0-2.2 0-2.2 0-2.2 0-2.2 0-2.2 0-2.3 0-2.2 0-2.2 0-2.2 0-2.2 0-2.2 0-2.2 0-2.3 0-2.2 0-2.2 0-2.2 0-2.2 0-2.2 0-2.2 0-2.3 0-2.2 0-2.2 0-2.2 0-2.2 0-2.2 0-2.3 0-2.2 0-2.2 0-2.2 0-2.2 0-2.2 0-2.2 0-2.3 0-2.2 0-2.2 0-2.2 0-2.2 0-2.2 0-2.2 0-2.3 0-2.2 0-2.2 0-2.2 0-2.2 0-2.2 0-2.3 0-2.2 0-2.2 0-2.2 0-2.2 0-2.2 0-2.2 0-2.3 0-2.2 0-2.2 0-2.2-2.2 0-2.2 0-2.2 0-2.3 0-2.2 0-2.2 0-2.2 0-2.2 0-2.2 0-2.3 0-2.2 0-2.2 0-2.2 0-2.2 0-2.2 0-2.3 0-2.2 0-2.2 0-2.2 0-2.2 0-2.2 0-2.3 0-2.2 0-2.2 0-2.2 0-2.2 0-2.2 0-2.3 0-0.9 0 0.9 2.1 0.1 0.1 1 2.2 1.1 2.2 0.1 0.2 1 2.1 1.1 2.2 0.1 0.2 1 2 1.1 2.2 0.1 0.2 1.1 2 1.1 2.2 1.2 2.2 1 1.8 0.3 0.5 1.3 2.2 0.6 1.1 0.7 1.1 1.4 2.2 0.2 0.3 1.2 1.9 1 1.5 0.4 0.7 1.5 2.3 0.3 0.4 1.2 1.8 1 1.4 0.5 0.8 1.5 2.2 0.2 0.3 1.3 1.9 0.9 1.4 0.6 0.8 1.4 2.2 0.3 0.5 1.1 1.8 1.1 1.9 0.2 0.3 1.2 2.2 0.8 1.5 0.4 0.7 1.1 2.2 0.7 1.7 0.3 0.5 0.9 2.2 0.9 2.3 0.1 0.4 0.7 1.8 0.7 2.2 0.6 2.2 0.2 1 0.3 1.2 0.5 2.2 0.4 2.3 0.3 2.2 0.3 2.2 0.1 2.2 0.1 2.2 0 2.2-0.1 2.2-0.2 2.3-0.3 2.2-0.4 2.2-0.5 2.2-0.5 1.6-0.1 0.6-0.7 2.2-0.9 2.2-0.5 1.2-0.4 1.1-1.1 2.2-0.7 1.3-0.4 0.9-1.3 2.2-0.5 0.9-0.8 1.3-1.3 2.2-0.1 0.2-1.4 2.1-0.8 1.3-0.6 0.9-1.5 2.2-0.2 0.2-1.3 2-0.9 1.3-0.6 0.9-1.5 2.2-0.1 0.1-1.5 2.1-0.7 1.1-0.8 1.2-1.4 2-0.1 0.2-1.5 2.2-0.6 1-0.8 1.2-1.4 2.2-0.1 0-1.3 2.2-0.9 1.6-0.3 0.6-1.2 2.3-0.7 1.2-0.5 1-1.1 2.2-0.6 1.2-0.5 1-1.1 2.2-0.6 1.5-0.4 0.7-1 2.3-0.8 2-0.1 0.2-1 2.2-0.8 2.2-0.4 0.8-0.5 1.4-0.7 2.2-0.7 2.2-0.3 1.2-0.2 1.1-0.4 2.2-0.3 2.2-0.2 2.2 0 2.2 0.1 2.2 0.2 2.2 0.4 2.3 0.4 2.2 0.6 2.2 0.7 2.2 0.7 2.2 0.2 0.7 0.6 1.5 0.9 2.3 0.8 1.9 0.1 0.3 1 2.2 1 2.2 0.1 0.2 1 2 1.1 2.2 0.1 0.3 1 1.9 1.2 2.2 0 0.1 1.3 2.2 0.9 1.5 0.5 0.7 1.4 2.2 0.3 0.6 1.2 1.6 1.1 1.7 0.4 0.5 1.5 2.2 0.3 0.5 1.1 1.8 1.1 1.7 0.3 0.5 1.3 2.2 0.6 1.3 0.5 0.9 0.9 2.2 0.8 2.1 0.1 0.1 0.7 2.3 0.6 2.2 0.5 2.2 0.3 1.6 0.2 0.6 0.3 2.2 0.3 2.2 0.3 2.2 0.2 2.3 0.1 2.2 0.2 2.2 0.1 2.2 0 2.2 0.1 2.2 0 2.2 0 2.3 0 2.2 0 2.2 0 2.2-0.1 2.2 0 2.2-0.1 2.3-0.1 2.2-0.2 2.2-0.2 2.2-0.3 2.2-0.3 2.2-0.4 2.2-0.1 0.4-0.4 1.9-0.5 2.2-0.7 2.2-0.6 1.4-0.3 0.8-0.9 2.2-1 2-0.1 0.2-1.2 2.2-0.9 1.5-0.5 0.8-1.4 2.2-0.3 0.4-1.2 1.8-1 1.5-0.5 0.7-1.5 2.2-0.3 0.4-1.2 1.8-1 1.5-0.4 0.8-1.4 2.2-0.4 0.6-0.9 1.6-1.3 2.1-0.1 0.1-1.2 2.2-0.9 1.7-0.3 0.5-1.2 2.2-0.7 1.5-0.4 0.8-1.1 2.2-0.8 1.7-0.2 0.5-0.9 2.2-0.8 2.2-0.3 0.7-0.5 1.5-0.6 2.3-0.5 2.2-0.3 2.2-0.2 2.2 0 2.2 0.2 2.2 0.3 2.2 0.5 2.3 0.7 2.2 0.4 1.1 0.4 1.1z"/>
<path fill="#b4ff6e" d="M86.4 482.3l2.2 0 2.2 0 2.2 0 2.3 0 2.2 0 2.2 0 2.2 0 2.2 0 2.2 0 2.3 0 2.2 0 2.2 0 2.2 0 2.2 0 2.2 0 2.3 0 2.2 0 2.2 0 1.9 0 0.3-1.9 0.1-0.3 0.3-2.2 0.3-2.2 0.2-2.3 0.2-2.2 0.1-2.2 0.1-2.2 0-2.2-0.1-2.2-0.2-2.2-0.2-2.3-0.3-2.2-0.3-2.2-0.2-0.9-0.2-1.3-0.5-2.2-0.5-2.2-0.6-2.3-0.4-1.2-0.3-1-0.7-2.2-0.7-2.2-0.5-1.5-0.3-0.7-0.7-2.2-0.9-2.2-0.3-1-0.5-1.3-0.8-2.2-0.8-2.2-0.2-0.3-0.6-1.9-0.8-2.2-0.8-2.2-0.7-2.3-0.7-2.2-0.6-2.2-0.2-0.7-0.4-1.5-0.5-2.2-0.5-2.2-0.4-2.2-0.3-2.3-0.1-0.8-0.2-1.4-0.2-2.2-0.2-2.2-0.1-2.2-0.1-2.2-0.1-2.2 0-2.3 0-2.2 0-2.2 0-2.2 0-2.2 0-2.2 0.1-2.2 0-2.3 0-2.2 0-2.2 0-2.2-0.1-2.2 0-2.2 0-2.3 0-2.2 0-2.2-0.1-2.2 0.1-2.2 0-2.2 0-2.2 0.1-2.3 0.1-2.2 0.2-2.2 0.2-2.2 0.2-2.2 0.1-0.5 0.2-1.7 0.3-2.3 0.4-2.2 0.4-2.2 0.4-2.2 0.5-2.1 0-0.1 0.5-2.2 0.6-2.2 0.6-2.3 0.5-2.2 0.6-2.2 0.6-2.2 0.6-2.2 0.4-1.7 0.2-0.5 0.5-2.2 0.6-2.3 0.5-2.2 0.4-2.2 0.1-0.1 0.4-2.1 0.3-2.2 0.4-2.2 0.2-2.3 0.2-2.2 0.1-2.2 0.1-2.2-0.1-2.2-0.1-2.2-0.2-2.2-0.2-2.3-0.4-2.2-0.4-2.2-0.3-1.4-0.2-0.8-0.6-2.2-0.6-2.2-0.6-2.2-0.3-0.7-0.4-1.6-0.7-2.2-0.8-2.2-0.3-0.9-0.4-1.3-0.7-2.2-0.8-2.2-0.3-1-0.4-1.3-0.7-2.2-0.7-2.2-0.4-1.3-0.3-0.9-0.7-2.2-0.7-2.2-0.5-1.8-0.2-0.4-0.6-2.3-0.7-2.2-0.7-2.2-0.7-2.2-0.7-2.2-0.7-2.2-0.2-0.5-0.5-1.7-0.7-2.3-0.6-2.2-0.4-1.3-0.2-0.9-0.6-2.2-0.6-2.2-0.4-2.2-0.4-2 0-0.3-0.4-2.2-0.3-2.2-0.3-2.2-0.1-2.2-0.1-2.2 0-2.2 0-2.3 0.1-2.2 0.2-2.2 0.2-2.2 0.3-2.2 0.4-2.2 0-0.3 0.3-1.9 0.4-2.3 0.5-2.2 0.5-2.2 0.5-2.1 0.1-0.1 0.5-2.2 0.5-2.2 0.6-2.3 0.5-1.7 0.2-0.5 0.6-2.2 0.6-2.2 0.6-2.2 0.3-0.7 0.4-1.5 0.7-2.2 0.7-2.3 0.4-1.1 0.3-1.1 0.8-2.2 0.7-2.2 0.4-1 0.4-1.2 0.9-2.2 0.8-2.2 0.1-0.2 0.8-2.1 0.9-2.2 0.5-1.1 0.5-1.1 0.9-2.2 0.8-2 0.2-0.2 0.9-2.2 0.9-2.3 0.3-0.7 0.5-1.5 0.9-2.2 0.8-2.2 0-0.1 0.7-2.1 0.7-2.2 0.6-2.2 0.2-0.7 0.4-1.6 0.5-2.2 0.5-2.2 0.5-2.2-1.9 0-2.2 0-2.2 0-2.3 0-2.2 0-2.2 0-2.2 0-2.2 0-2.2 0-2.3 0-2.2 0-2.2 0-2.2 0-2.2 0-2.2 0-2.3 0-2.2 0-2.2 0-2.2 0 0 2.2 0 2.2 0 2.2 0 2.3 0 2.2 0 2.2 0 2.2 0 2.2 0 2.2 0 2.2 0 2.3 0 2.2 0 2.2 0 2.2 0 2.2 0 2.2 0 2.3 0 2.2 0 2.2 0 2.2 0 2.2 0 2.2 0 2.2 0 2.3 0 2.2 0 2.2 0 2.2 0 2.2 0 2.2 0 2.2 0 2.3 0 2.2 0 2.2 0 2.2 0 2.2 0 2.2 0 2.3 0 2.2 0 2.2 0 2.2 0 2.2 0 2.2 0 2.2 0 2.3 0 2.2 0 2.2 0 2.2 0 2.2 0 2.2 0 2.2 0 2.3 0 2.2 0 2.2 0 2.2 0 2.2 0 2.2 0 2.3 0 2.2 0 2.2 0 2.2 0 2.2 0 2.2 0 2.2 0 2.3 0 2.2 0 2.2 0 2.2 0 2.2 0 2.2 0 2.2 0 2.3 0 2.2 0 2.2 0 2.2 0 2.2 0 2.2 0 2.3 0 2.2 0 2.2 0 2.2 0 2.2 0 2.2 0 2.2 0 2.3 0 2.2 0 2.2 0 2.2 0 2.2 0 2.2 0 2.2 0 2.3 0 2.2 0 2.2 0 2.2 0 2.2 0 2.2 0 2.3 0 2.2 0 2.2 0 2.2 0 2.2 0 2.2 0 2.2 0 2.3 0 2.2 0 2.2 0 2.2 0 2.2 0 2.2 0 2.2 0 2.3 0 2.2 0 2.2 0 2.2 0 2.2 0 2.2 0 2.3 0 2.2 0 2.2 0 2.2 0 2.2 0 2.2 0 2.2 0 2.3 0 2.2 0 2.2 0 2.2 0 2.2 0 2.2 0 2.3 0 2.2 0 2.2 0 2.2 0 2.2 0 2.2 0 2.2 0 2.3 0 2.2 0 2.2 0 2.2 0 2.2 0 2.2 0 2.2 0 2.3 0 2.2 0 2.2 0 2.2 0 2.2 0 2.2 0 2.2 0 2.3 0 2.2 0 2.2 0 2.2 0 2.2 0 2.2 0 2.3 0 2.2 0 2.2 0 2.2 0 2.2 0 2.2 0 2.2 0 2.3 0 2.2 0 2.2 0 2.2 0 2.2 0 2.2 0 2.3 0 2.2 0 2.2 0 2.2 0 2.2 0 2.2 0 2.2 0 2.3 0 2.2 0 2.2zM271.9 482.3l0.7 0 2.2 0 2.2 0 2.2 0 2.2 0 2.2 0 2.2 0 2.3 0 2.2 0 2.2 0 2.2 0 2.2 0 2.2 0 2.3 0 2.2 0 2.2 0 2.2 0 2.2 0 2.2 0 2.3 0 2.2 0 2.2 0 2.2 0 2.2 0 2.2 0 2.3 0 2.2 0 2.2 0 2.2 0 2.2 0 2.2 0 2.3 0 2.2 0 2.2 0 2.2 0 2.2 0 2.2 0 2.2 0 2.3 0 2.2 0 2.2 0 2.2 0 2.2 0 0.6 0 0.5-2.2 0.4-2.2 0.2-2.2 0.2-2.3-0.1-2.2-0.2-2.2-0.3-2.2-0.5-2.2-0.7-2.2-0.1-0.3-0.7-1.9-1-2.3-0.5-1-0.5-1.2-1.2-2.2-0.5-0.8-0.8-1.4-1.4-2.1-0.1-0.1-1.5-2.2-0.6-0.8-1.1-1.5-1.2-1.3-0.7-0.9-1.5-1.5-0.6-0.7-1.6-1.5-0.7-0.7-1.5-1.4-0.9-0.8-1.3-1.2-1.1-1-1.1-1.1-1.1-1.1-1.1-1.3-0.9-1-1.4-1.6-0.4-0.6-1.6-2.2-0.2-0.2-1.2-2-1-1.6-0.3-0.6-1.2-2.2-0.7-1.6-0.3-0.7-0.9-2.2-0.8-2.2-0.2-0.7-0.5-1.5-0.5-2.2-0.4-2.2-0.3-2.2-0.2-2.3 0-2.2 0.1-2.2 0.3-2.2 0.4-2.2 0.6-2.2 0.5-1.6 0.2-0.6 0.9-2.3 1-2.2 0.1-0.2 0.9-2 1.1-2.2 0.2-0.5 0.8-1.7 0.9-2.2 0.5-1.3 0.4-0.9 0.7-2.3 0.6-2.2 0.5-2 0.1-0.2 0.4-2.2 0.4-2.2 0.3-2.2 0.3-2.3 0.3-2.2 0.3-2.2 0.2-1.6 0-0.6 0.3-2.2 0.3-2.2 0.3-2.2 0.3-2.3 0.5-2.2 0.5-2.1 0-0.1 0.6-2.2 0.8-2.2 0.8-2.2 1-2.3 1.2-2.1 0-0.1 1.4-2.2 0.8-1.2 0.7-1 1.5-2 0.2-0.2 1.7-2.2 0.3-0.5 1.3-1.7 1-1.3 0.6-1 1.5-2.2 0.1-0.1 1.3-2.1 0.9-1.6 0.4-0.6 1.1-2.2 0.7-1.4 0.4-0.8 1-2.2 0.8-2.1 0.1-0.2 0.9-2.2 0.7-2.2 0.5-1.6 0.2-0.6 0.7-2.2 0.5-2.2 0.4-2.3 0.3-2.2 0.1-2.2 0-2.2-0.1-2.2-0.2-2.2-0.4-2.2-0.4-2.3-0.6-2.2-0.5-1.6-0.1-0.6-0.7-2.2-0.7-2.2-0.7-1.8-0.1-0.4-0.8-2.2-0.9-2.3-0.4-0.8-0.6-1.4-1-2.2-0.6-1.3-0.4-0.9-1.1-2.2-0.7-1.3-0.5-0.9-1.2-2.3-0.5-0.8-0.8-1.4-1.3-2.2-0.2-0.2-1.2-2-1-1.5-0.4-0.7-1.4-2.2-0.4-0.6-1.1-1.6-1.1-1.7-0.3-0.6-1.5-2.2-0.4-0.5-1.1-1.7-1.1-1.6-0.5-0.6-1.5-2.2-0.2-0.4-1.3-1.8-1-1.5-0.5-0.7-1.4-2.3-0.3-0.4-1.1-1.8-1.1-1.7-0.3-0.5-1.3-2.2-0.6-1.1-0.7-1.1-1.1-2.2-0.4-0.9-0.7-1.4-1-2.2-0.5-1.3-0.4-0.9-0.8-2.2-0.7-2.2-0.4-1.6-0.1-0.6-0.4-2.2-0.3-2.3-0.2-2.2 0-2.2 0.1-2.2 0.3-2.2 0.4-2.2 0.2-1.2 0.3-1 0.6-2.3 0.7-2.2 0.7-1.8 0.1-0.4 0.9-2.2 1-2.2 0.2-0.4 0.8-1.8 1.1-2.3 0.3-0.4 0.9-1.8 1.1-2.2 0.2-0.3 1-1.9 1.2-2.2 1.2-2.2 1-1.9 0.2-0.3 1.2-2.3 0.9-1.6 0.3-0.6 1.2-2.2 0.7-1.3 0.5-0.9 1.2-2.2 0.5-0.9 0.7-1.3 1.3-2.2 0.2-0.5 1-1.8 1.2-2 0.1-0.2 1.3-2.2 0.8-1.4 0.5-0.8 1.3-2.2 0.4-0.8 0.9-1.4 1.2-2.3 0.2-0.2 1.1-2 1.1-2 0.1-0.2 1.1-2.2 1-2 0.1-0.2 1-2.2 1-2.2 0.1-0.4 0.7-1.9 0.8-2.2 0.7-2.2 0.6-2.2-0.6 0-2.2 0-2.2 0-2.2 0-2.2 0-2.3 0-2.2 0-2.2 0-2.2 0-2.2 0-2.2 0-2.2 0-2.3 0-2.2 0-2.2 0-2.2 0-2.2 0-2.2 0-2.3 0-2.2 0-2.2 0-2.2 0-2.2 0-2.2 0-2.3 0-2.2 0-2.2 0-2.2 0-2.2 0-2.2 0-2.3 0-2.2 0-2.2 0-2.2 0-2.2 0-2.2 0-2.3 0-2.2 0-2.2 0-2.2 0-2.2 0-2.2 0-2.2 0-0.7 0 0.7 1.9 0 0.3 0.8 2.2 0.8 2.2 0.6 1.7 0.2 0.6 0.7 2.2 0.8 2.2 0.5 1.4 0.2 0.8 0.7 2.2 0.7 2.2 0.6 1.9 0.1 0.3 0.7 2.3 0.6 2.2 0.6 2.2 0.2 0.8 0.4 1.4 0.6 2.2 0.6 2.2 0.6 2.3 0 0.2 0.6 2 0.6 2.2 0.6 2.2 0.4 1.8 0.2 0.4 0.6 2.2 0.6 2.2 0.5 2.3 0.4 1.2 0.2 1 0.6 2.2 0.5 2.2 0.5 2.2 0.4 2 0 0.2 0.5 2.2 0.4 2.3 0.3 2.2 0.3 2.2 0.2 2.2 0.2 2.2 0.1 2.2 0.1 2.3 0 2.2 0 2.2-0.1 2.2-0.1 2.2-0.2 2.2-0.2 2.2-0.2 2.3-0.3 2.2-0.4 2.2-0.4 2.2-0.2 0.9-0.3 1.3-0.4 2.2-0.5 2.2-0.6 2.3-0.4 1.7-0.1 0.5-0.6 2.2-0.6 2.2-0.7 2.2-0.3 0.9-0.3 1.3-0.7 2.3-0.8 2.2-0.4 1.2-0.3 1-0.8 2.2-0.8 2.2-0.3 0.6-0.6 1.6-0.9 2.2-0.7 1.6-0.3 0.7-1 2.2-0.9 1.9-0.1 0.3-1.1 2.2-1 2.1-0.1 0.1-1 2.2-1.1 2.2 0 0.2-1 2.1-1 2.2-0.3 0.7-0.6 1.5-0.9 2.2-0.7 2-0.1 0.2-0.7 2.2-0.7 2.3-0.7 2.1 0 0.1-0.6 2.2-0.6 2.2-0.5 2.2-0.4 2.2-0.1 0.7-0.3 1.5-0.3 2.3-0.3 2.2-0.2 2.2-0.1 2.2 0 2.2 0 2.2 0.2 2.2 0.2 2.3 0.3 2.2 0.4 2.2 0.1 0.4 0.4 1.8 0.6 2.2 0.6 2.2 0.6 1.8 0.2 0.5 0.8 2.2 0.9 2.2 0.3 0.8 0.6 1.4 1 2.2 0.6 1.3 0.5 0.9 1.1 2.2 0.7 1.4 0.4 0.9 1 2.2 0.8 1.5 0.3 0.7 1 2.2 0.9 2.1 0 0.1 0.9 2.2 0.8 2.2 0.5 1.6 0.2 0.7 0.6 2.2 0.5 2.2 0.5 2.2 0.3 2.2 0.1 1 0.2 1.2 0.2 2.3 0.1 2.2 0.1 2.2 0 2.2 0 2.2 0 2.2 0 2.2-0.1 2.3 0 2.2 0 2.2 0 2.2 0 2.2 0 2.2 0.1 2.3 0.1 2.2 0.1 2.2 0.1 2.2 0.1 2.2 0.1 2.2 0.1 2.2 0.1 2.3 0.1 2.2 0.1 2.2 0.1 2.2 0 2.2 0 2.2-0.1 2.2-0.1 2.3-0.2 2.2-0.3 2.2-0.3 2.2-0.3 2.2-0.3 1.4-0.1 0.8-0.5 2.2-0.5 2.3-0.6 2.2-0.5 1.7-0.1 0.5-0.7 2.2-0.7 2.2-0.7 2.2 0 0.2-0.7 2.1-0.7 2.2-0.7 2.2-0.1 0.3-0.7 1.9-0.7 2.2-0.6 2.2-0.2 0.8-0.5 1.4-0.6 2.3-0.6 2.2-0.5 2.2-0.1 0.5-0.3 1.7-0.4 2.2-0.3 2.2-0.2 2.3-0.2 2.2 0 2.2 0 2.2 0.2 2.2 0.2 2.2 0.4 2.2 0.4 2.3 0.2 0.9 0.3 1.3 0.6 2.2zM425.4 480.1l0.1 0.2 0.7 2 1.5 0 2.2 0 2.2 0 2.2 0 2.2 0 2.3 0 2.2 0 2.2 0 2.2 0 2.2 0 2.2 0 2.3 0 2.2 0 2.2 0 2.2 0 2.2 0 2.2 0 2.3 0 2.2 0 2.2 0 2.2 0 2.2 0 2.2 0 2.3 0 2.2 0 2.2 0 2.2 0 0-2.2 0-2.2 0-2.2 0-2.3 0-2.2 0-2.2 0-2.2 0-2.2 0-2.2 0-2.2 0-2.3 0-2.2 0-2.2 0-2.2 0-2.2 0-2.2 0-2.3 0-2.2 0-2.2 0-2.2 0-2.2 0-2.2 0-2.2 0-2.3 0-2.2 0-2.2 0-2.2 0-2.2 0-2.2 0-2.3 0-2.2 0-2.2 0-2.2 0-2.2 0-2.2 0-2.2 0-2.3 0-2.2 0-2.2 0-2.2 0-2.2 0-2.2 0-2.2 0-2.3 0-2.2 0-2.2 0-2.2 0-2.2 0-2.2 0-2.2 0-2.3 0-2.2 0-2.2 0-2.2 0-2.2 0-2.2 0-2.3 0-2.2 0-2.2 0-2.2 0-2.2 0-2.2 0-2.2 0-2.3 0-2.2 0-2.2 0-2.2 0-2.2 0-2.2 0-2.3 0-2.2 0-2.2 0-2.2 0-2.2 0-2.2 0-2.2 0-2.3 0-2.2 0-2.2 0-2.2 0-2.2 0-2.2 0-2.2 0-2.3 0-2.2 0-2.2 0-2.2 0-2.2 0-2.2 0-2.3 0-2.2 0-2.2 0-2.2 0-2.2 0-2.2 0-2.2 0-2.3 0-2.2 0-2.2 0-2.2 0-2.2 0-2.2 0-2.2 0-2.3 0-2.2 0-2.2 0-2.2 0-2.2 0-2.2 0-2.3 0-2.2 0-2.2 0-2.2 0-2.2 0-2.2 0-2.2 0-2.3 0-2.2 0-2.2 0-2.2 0-2.2 0-2.2 0-2.2 0-2.3 0-2.2 0-2.2 0-2.2 0-2.2 0-2.2 0-2.3 0-2.2 0-2.2 0-2.2 0-2.2 0-2.2 0-2.2 0-2.3 0-2.2 0-2.2 0-2.2 0-2.2 0-2.2 0-2.2 0-2.3 0-2.2 0-2.2 0-2.2 0-2.2 0-2.2 0-2.3 0-2.2 0-2.2 0-2.2 0-2.2 0-2.2 0-2.2 0-2.3 0-2.2 0-2.2 0-2.2 0-2.2 0-2.2 0-2.2 0-2.3 0-2.2 0-2.2 0-2.2 0-2.2 0-2.2 0-2.3 0-2.2 0-2.2 0-2.2 0-2.2 0-2.2 0-2.2 0-2.3 0-2.2 0-2.2 0-2.2-2.2 0-2.2 0-2.2 0-2.3 0-2.2 0-2.2 0-2.2 0-2.2 0-2.2 0-2.3 0-2.2 0-2.2 0-2.2 0-2.2 0-2.2 0-2.3 0-2.2 0-2.2 0-2.2 0-2.2 0-2.2 0-2.3 0-2.2 0-2.2 0-2.2 0-2.2 0-1.5 0 0.9 2.2 0.6 1.5 0.3 0.7 0.9 2.2 1 2.3 1 2.2 1 2.2 0.2 0.4 0.9 1.8 1.1 2.2 0.2 0.4 1 1.8 1.2 2.2 0 0.2 1.2 2.1 1.1 1.8 0.2 0.4 1.4 2.2 0.6 1 0.8 1.2 1.4 2.2 1.5 2.2 0.7 1.1 0.8 1.2 1.4 2 0.1 0.2 1.6 2.2 0.5 0.9 1 1.3 1.3 1.9 0.1 0.3 1.5 2.2 0.6 1 0.8 1.2 1.3 2.3 0.1 0.1 1.2 2.1 1 1.8 0.3 0.4 1.1 2.2 0.8 1.7 0.3 0.5 1 2.2 0.9 2.2 0.1 0 0.9 2.3 0.7 2.2 0.6 1.6 0.2 0.6 0.6 2.2 0.6 2.2 0.5 2.2 0.3 1.6 0.1 0.7 0.3 2.2 0.3 2.2 0.2 2.2 0.1 2.2 0 2.2-0.1 2.2-0.2 2.3-0.3 2.2-0.4 2.1 0 0.1-0.5 2.2-0.6 2.2-0.8 2.2-0.3 0.9-0.5 1.3-1 2.3-0.8 1.5-0.3 0.7-1.2 2.2-0.7 1.2-0.5 1-1.4 2.2-0.3 0.5-1.1 1.7-1.1 1.8-0.3 0.5-1.5 2.2-0.4 0.6-1.1 1.6-1.1 1.6-0.4 0.6-1.5 2.2-0.4 0.5-1.2 1.7-1 1.5-0.5 0.7-1.6 2.3-0.1 0.1-1.4 2.1-0.8 1.2-0.7 1-1.4 2.2-0.1 0.1-1.3 2.1-0.9 1.5-0.5 0.7-1.3 2.2-0.5 0.9-0.7 1.4-1.2 2.2-0.3 0.6-0.7 1.6-1.1 2.2-0.4 0.9-0.6 1.3-0.9 2.2-0.7 1.7-0.2 0.6-0.9 2.2-0.8 2.2-0.3 0.9-0.5 1.3-0.7 2.2-0.7 2.2-0.3 1.4-0.3 0.8-0.5 2.3-0.4 2.2-0.3 2.2-0.2 2.2 0 2.2 0.1 2.2 0.2 2.2 0.3 2.3 0.4 2.2 0.5 2.2 0.2 0.4 0.5 1.8 0.7 2.2 0.8 2.2 0.2 0.5 0.7 1.8 0.9 2.2 0.6 1.3 0.4 0.9 1.1 2.2 0.7 1.4 0.5 0.8 1.2 2.2 0.5 1 0.8 1.2 1.4 2.3 0 0.1 1.5 2.1 0.8 1.1 0.8 1.1 1.4 1.9 0.2 0.3 1.7 2.2 0.3 0.5 1.3 1.7 0.9 1.4 0.6 0.8 1.3 2.3 0.3 0.5 0.9 1.7 1.1 2.2 0.2 0.6 0.7 1.6 0.8 2.2 0.8 2.2 0.6 2.3 0.5 2.2 0.5 2.2 0.4 2.2 0.2 1.5 0.1 0.7 0.2 2.2 0.2 2.2 0.2 2.3 0.1 2.2 0.1 2.2 0 2.2 0.1 2.2 0 2.2 0 2.2 0 2.3-0.1 2.2 0 2.2 0 2.2-0.1 2.2-0.1 2.2 0 2.3-0.1 2.2-0.2 2.2-0.1 2.2-0.3 2.2 0 0.6-0.2 1.6-0.3 2.2-0.4 2.3-0.5 2.2-0.6 2.2-0.2 0.8-0.5 1.4-0.8 2.2-1 2.2-1.1 2.2-1.1 2-0.1 0.3-1.4 2.2-0.7 1-0.8 1.2-1.4 1.9-0.2 0.3-1.6 2.2-0.4 0.6-1.2 1.6-1 1.4-0.6 0.9-1.6 2.2-0.1 0.1-1.3 2.1-0.9 1.3-0.5 0.9-1.3 2.2-0.4 0.6-0.9 1.6-1.2 2.2-0.1 0.2-1 2.1-1.1 2.2-0.1 0.2-0.9 2-0.9 2.2-0.4 1.2-0.4 1-0.7 2.2-0.6 2.3-0.4 2.2-0.2 0.9-0.1 1.3-0.1 2.2 0 2.2 0.2 2.2 0 0.4 0.3 1.8 0.5 2.3 0.7 2.2z"/>
<path fill="#d7ff46" d="M86.4 482.3l2.2 0 2.2 0 2.2 0 2.3 0 2.2 0 2.2 0 2.2 0 2.2 0 2.2 0 2.3 0 2.2 0 2.2 0 2.2 0 2.2 0 2.2 0 2.3 0 2.2 0 1.8 0 0.3-2.2 0.1-0.4 0.3-1.8 0.2-2.2 0.3-2.3 0.1-2.2 0.1-2.2 0.1-2.2 0-2.2-0.1-2.2-0.2-2.2-0.2-2.3-0.3-2.2-0.3-2.2 0-0.1-0.4-2.1-0.4-2.2-0.6-2.2-0.5-2.3-0.3-1-0.3-1.2-0.7-2.2-0.7-2.2-0.5-1.6-0.3-0.6-0.7-2.2-0.8-2.2-0.5-1.3-0.3-1-0.8-2.2-0.8-2.2-0.3-0.7-0.5-1.5-0.8-2.2-0.7-2.2-0.2-0.5-0.6-1.8-0.7-2.2-0.6-2.2-0.3-1.2-0.3-1-0.5-2.2-0.5-2.2-0.4-2.2-0.4-2.3-0.1-1.2-0.2-1-0.2-2.2-0.2-2.2-0.1-2.2-0.1-2.2 0-2.2-0.1-2.3 0.1-2.2 0-2.2 0-2.2 0.1-2.2 0-2.2 0.1-2.2 0-2.3 0-2.2 0-2.2 0-2.2 0-2.2 0-2.2 0-2.3 0-2.2-0.1-2.2 0-2.2 0-2.2 0.1-2.2 0-2.2 0.1-2.3 0.2-2.2 0.1-2.2 0.2-1.7 0-0.5 0.3-2.2 0.2-2.2 0.4-2.3 0.4-2.2 0.4-2.2 0.4-2.2 0.1-0.3 0.4-1.9 0.5-2.2 0.6-2.2 0.5-2.3 0.2-0.7 0.4-1.5 0.6-2.2 0.6-2.2 0.5-2.2 0.1-0.4 0.5-1.8 0.5-2.2 0.6-2.3 0.4-2.2 0.2-1.1 0.3-1.1 0.4-2.2 0.3-2.2 0.3-2.2 0.2-2.3 0.2-2.2 0.1-2.2 0-2.2-0.1-2.2-0.1-2.2-0.2-2.2-0.3-2.3-0.4-2.2-0.4-2.2-0.3-1.1-0.2-1.1-0.5-2.2-0.6-2.2-0.7-2.2-0.2-0.7-0.4-1.6-0.7-2.2-0.7-2.2-0.4-1.2-0.3-1-0.7-2.2-0.7-2.2-0.5-1.6-0.2-0.7-0.7-2.2-0.7-2.2-0.6-1.8-0.1-0.4-0.8-2.2-0.7-2.2-0.6-2.1-0.1-0.1-0.8-2.3-0.7-2.2-0.7-1.9-0.1-0.3-0.7-2.2-0.8-2.2-0.6-1.6-0.2-0.6-0.8-2.2-0.7-2.3-0.5-1.3-0.3-0.9-0.7-2.2-0.7-2.2-0.5-2-0.1-0.2-0.5-2.2-0.5-2.3-0.5-2.2-0.3-2.2-0.3-2.2 0-0.8-0.2-1.4-0.1-2.2 0-2.2 0-2.3 0.2-2.2 0.1-1.1 0.1-1.1 0.2-2.2 0.3-2.2 0.4-2.2 0.5-2.2 0.6-2.3 0.1-0.4 0.4-1.8 0.6-2.2 0.6-2.2 0.6-1.9 0.1-0.3 0.6-2.2 0.7-2.3 0.7-2.2 0.1-0.4 0.5-1.8 0.7-2.2 0.7-2.2 0.3-1 0.4-1.2 0.7-2.2 0.7-2.3 0.5-1.3 0.2-0.9 0.8-2.2 0.7-2.2 0.5-1.2 0.3-1 0.8-2.2 0.9-2.2 0.2-0.6 0.6-1.7 0.9-2.2 0.7-1.6 0.3-0.6 0.9-2.2 0.9-2.2 0.1-0.3 0.8-1.9 0.9-2.3 0.5-1.2 0.4-1 0.9-2.2 0.8-2.2 0.2-0.5 0.5-1.7 0.7-2.2 0.7-2.2 0.3-1.1 0.3-1.2 0.5-2.2 0.5-2.2 0.5-2.2-1.8 0-2.2 0-2.3 0-2.2 0-2.2 0-2.2 0-2.2 0-2.2 0-2.3 0-2.2 0-2.2 0-2.2 0-2.2 0-2.2 0-2.3 0-2.2 0-2.2 0-2.2 0 0 2.2 0 2.2 0 2.2 0 2.3 0 2.2 0 2.2 0 2.2 0 2.2 0 2.2 0 2.2 0 2.3 0 2.2 0 2.2 0 2.2 0 2.2 0 2.2 0 2.3 0 2.2 0 2.2 0 2.2 0 2.2 0 2.2 0 2.2 0 2.3 0 2.2 0 2.2 0 2.2 0 2.2 0 2.2 0 2.2 0 2.3 0 2.2 0 2.2 0 2.2 0 2.2 0 2.2 0 2.3 0 2.2 0 2.2 0 2.2 0 2.2 0 2.2 0 2.2 0 2.3 0 2.2 0 2.2 0 2.2 0 2.2 0 2.2 0 2.2 0 2.3 0 2.2 0 2.2 0 2.2 0 2.2 0 2.2 0 2.3 0 2.2 0 2.2 0 2.2 0 2.2 0 2.2 0 2.2 0 2.3 0 2.2 0 2.2 0 2.2 0 2.2 0 2.2 0 2.2 0 2.3 0 2.2 0 2.2 0 2.2 0 2.2 0 2.2 0 2.3 0 2.2 0 2.2 0 2.2 0 2.2 0 2.2 0 2.2 0 2.3 0 2.2 0 2.2 0 2.2 0 2.2 0 2.2 0 2.2 0 2.3 0 2.2 0 2.2 0 2.2 0 2.2 0 2.2 0 2.3 0 2.2 0 2.2 0 2.2 0 2.2 0 2.2 0 2.2 0 2.3 0 2.2 0 2.2 0 2.2 0 2.2 0 2.2 0 2.2 0 2.3 0 2.2 0 2.2 0 2.2 0 2.2 0 2.2 0 2.3 0 2.2 0 2.2 0 2.2 0 2.2 0 2.2 0 2.2 0 2.3 0 2.2 0 2.2 0 2.2 0 2.2 0 2.2 0 2.3 0 2.2 0 2.2 0 2.2 0 2.2 0 2.2 0 2.2 0 2.3 0 2.2 0 2.2 0 2.2 0 2.2 0 2.2 0 2.2 0 2.3 0 2.2 0 2.2 0 2.2 0 2.2 0 2.2 0 2.2 0 2.3 0 2.2 0 2.2 0 2.2 0 2.2 0 2.2 0 2.3 0 2.2 0 2.2 0 2.2 0 2.2 0 2.2 0 2.2 0 2.3 0 2.2 0 2.2 0 2.2 0 2.2 0 2.2 0 2.3 0 2.2 0 2.2 0 2.2 0 2.2 0 2.2 0 2.2 0 2.3 0 2.2 0 2.2zM274.4 482.3l0.4 0 2.2 0 2.2 0 2.2 0 2.2 0 2.2 0 2.3 0 2.2 0 2.2 0 2.2 0 2.2 0 2.2 0 2.3 0 2.2 0 2.2 0 2.2 0 2.2 0 2.2 0 2.3 0 2.2 0 2.2 0 2.2 0 2.2 0 2.2 0 2.3 0 2.2 0 2.2 0 2.2 0 2.2 0 2.2 0 2.3 0 2.2 0 2.2 0 2.2 0 2.2 0 2.2 0 2.2 0 2.3 0 2.2 0 2.2 0 1.1 0 0.4-2.2 0.3-2.2 0.2-2.2 0-2.3-0.2-2.2-0.2-2.2-0.4-2.2-0.6-2.2-0.6-1.9-0.1-0.3-0.8-2.2-1-2.3-0.3-0.7-0.7-1.5-1.2-2.2-0.3-0.6-1-1.6-1.3-1.9-0.2-0.3-1.6-2.2-0.4-0.5-1.4-1.8-0.8-0.8-1.2-1.4-1-1-1.1-1.2-1.1-1.1-1-1.1-1.2-1.2-0.9-1-1.3-1.4-0.8-0.8-1.5-1.8-0.3-0.4-1.7-2.3-0.2-0.2-1.4-2-0.8-1.2-0.6-1-1.3-2.2-0.3-0.5-0.9-1.7-1.1-2.2-0.2-0.5-0.8-1.8-0.9-2.2-0.5-1.4-0.3-0.8-0.7-2.2-0.6-2.2-0.5-2.2-0.2-1-0.2-1.2-0.2-2.3-0.2-2.2 0-2.2 0.1-2.2 0.3-2.2 0.2-1.5 0.2-0.7 0.5-2.2 0.7-2.3 0.8-2.2 0.1-0.2 0.8-2 1-2.2 0.4-0.8 0.7-1.4 1-2.2 0.5-1.1 0.5-1.1 0.9-2.3 0.8-2.1 0-0.1 0.7-2.2 0.6-2.2 0.5-2.2 0.4-2.2 0.4-2.3 0.3-2.2 0.3-2.2 0.2-2.2 0.3-2.2 0.3-2.2 0.3-2.2 0.1-1.2 0.2-1.1 0.4-2.2 0.4-2.2 0.6-2.2 0.6-2.2 0.1-0.3 0.6-1.9 0.8-2.3 0.8-1.7 0.2-0.5 1.1-2.2 0.9-1.5 0.4-0.7 1.4-2.2 0.4-0.5 1.2-1.7 1-1.4 0.6-0.8 1.6-2.2 0.1-0.1 1.6-2.2 0.5-0.8 1-1.4 1.3-1.9 0.1-0.3 1.3-2.2 0.8-1.5 0.3-0.7 1.1-2.2 0.8-2 0.1-0.3 0.8-2.2 0.8-2.2 0.5-1.8 0.1-0.4 0.6-2.2 0.5-2.2 0.3-2.3 0.3-2.2 0.2-2.2 0-2.2 0-2.2-0.1-2.2-0.3-2.2-0.3-2.3-0.4-2.2-0.5-2.2-0.4-1.7-0.1-0.5-0.6-2.2-0.7-2.2-0.8-2.2 0-0.1-0.8-2.2-0.9-2.2-0.5-1.2-0.4-1-1.1-2.2-0.7-1.5-0.4-0.7-1.1-2.2-0.8-1.3-0.5-1-1.2-2.2-0.5-0.7-0.9-1.5-1.3-2.1 0-0.1-1.4-2.2-0.8-1.2-0.7-1-1.4-2.2-0.1-0.2-1.4-2.1-0.8-1.2-0.7-1-1.5-2.2 0-0.1-1.5-2.1-0.8-1.1-0.7-1.1-1.5-2.2-1.5-2.2-0.7-1.1-0.8-1.2-1.4-2.2-1.4-2.2-0.8-1.3-0.6-0.9-1.3-2.2-0.3-0.7-0.9-1.5-1.2-2.3-0.2-0.3-0.9-1.9-1-2.2-0.3-0.7-0.6-1.5-0.8-2.2-0.6-2.2-0.2-1.1-0.3-1.1-0.3-2.3-0.2-2.2 0-2.2 0.1-2.2 0.3-2.2 0.4-2 0-0.2 0.6-2.2 0.6-2.3 0.8-2.2 0.2-0.4 0.7-1.8 1-2.2 0.5-1.1 0.6-1.1 1.1-2.2 0.6-1 0.6-1.3 1.3-2.2 0.3-0.5 0.9-1.7 1.3-2.2 1.3-2.2 0.9-1.7 0.3-0.5 1.3-2.2 0.6-1.2 0.6-1.1 1.2-2.2 0.4-0.8 0.8-1.4 1.2-2.2 0.3-0.4 0.9-1.8 1.2-2.2 0.1-0.1 1.1-2.1 1.1-2 0.1-0.3 1.2-2.2 0.9-1.5 0.4-0.7 1.2-2.2 0.6-1 0.7-1.2 1.2-2.2 0.3-0.6 1-1.7 1.2-2.2 0-0.1 1.1-2.1 1.1-2.2 0.1-0.1 1-2.1 1-2.2 0.2-0.6 0.7-1.6 0.8-2.3 0.7-2.1 0-0.1 0.6-2.2 0.5-2.2-1.1 0-2.2 0-2.2 0-2.3 0-2.2 0-2.2 0-2.2 0-2.2 0-2.2 0-2.2 0-2.3 0-2.2 0-2.2 0-2.2 0-2.2 0-2.2 0-2.3 0-2.2 0-2.2 0-2.2 0-2.2 0-2.2 0-2.3 0-2.2 0-2.2 0-2.2 0-2.2 0-2.2 0-2.3 0-2.2 0-2.2 0-2.2 0-2.2 0-2.2 0-2.3 0-2.2 0-2.2 0-2.2 0-2.2 0-2.2 0-0.4 0 0.4 1.2 0.3 1 0.7 2.2 0.7 2.2 0.5 1.3 0.3 1 0.7 2.2 0.7 2.2 0.5 1.5 0.2 0.7 0.7 2.2 0.6 2.2 0.7 2.2 0 0.2 0.6 2.1 0.6 2.2 0.6 2.2 0.4 1.4 0.2 0.8 0.7 2.2 0.6 2.2 0.6 2.3 0.1 0.5 0.5 1.7 0.7 2.2 0.6 2.2 0.5 1.6 0.2 0.6 0.6 2.2 0.7 2.2 0.6 2.3 0.1 0.2 0.6 2 0.6 2.2 0.5 2.2 0.5 2.1 0 0.1 0.6 2.2 0.4 2.2 0.4 2.3 0.4 2.2 0.3 2.2 0.1 1.1 0.2 1.1 0.2 2.2 0.2 2.2 0.1 2.3 0.1 2.2 0 2.2-0.1 2.2-0.1 2.2-0.2 2.2-0.2 2.2-0.2 1.3-0.1 1-0.3 2.2-0.4 2.2-0.5 2.2-0.5 2.2-0.4 1.7-0.1 0.5-0.6 2.2-0.6 2.3-0.6 2.2-0.3 1-0.3 1.2-0.7 2.2-0.7 2.2-0.5 1.7-0.2 0.5-0.7 2.3-0.7 2.2-0.7 1.7-0.1 0.5-0.8 2.2-0.8 2.2-0.5 1.1-0.4 1.1-0.9 2.2-0.9 2.1-0.1 0.2-1 2.2-1 2.2-0.1 0.2-1 2-1.1 2.2-0.1 0.3-0.9 1.9-1.1 2.2-0.2 0.4-0.9 1.9-1 2.2-0.3 0.7-0.7 1.5-0.9 2.2-0.7 1.7-0.1 0.5-0.8 2.2-0.8 2.3-0.5 1.7-0.1 0.5-0.6 2.2-0.6 2.2-0.5 2.2-0.4 2.1 0 0.1-0.4 2.2-0.3 2.3-0.2 2.2-0.2 2.2-0.1 2.2 0 2.2 0 2.2 0.2 2.2 0.2 2.3 0.3 2.2 0.4 2.2 0.1 0.4 0.4 1.8 0.6 2.2 0.6 2.2 0.6 1.7 0.2 0.6 0.8 2.2 0.9 2.2 0.3 0.7 0.7 1.5 1 2.2 0.6 1.2 0.4 1 1.1 2.2 0.7 1.4 0.4 0.9 1.1 2.2 0.7 1.4 0.3 0.8 1 2.2 0.9 2 0.1 0.2 0.9 2.2 0.8 2.2 0.4 1.5 0.3 0.8 0.6 2.2 0.5 2.2 0.4 2.2 0.3 2.2 0.1 0.8 0.2 1.4 0.2 2.3 0.1 2.2 0.1 2.2 0 2.2 0 2.2-0.1 2.2 0 2.2-0.1 2.3-0.1 2.2 0 2.2 0 2.2 0 2.2 0 2.2 0 2.3 0.1 2.2 0.1 2.2 0.1 2.2 0.1 2.2 0.1 2.2 0.1 2.2 0.2 2.3 0.1 2.2 0 2.2 0.1 2.2 0 2.2-0.1 2.2 0 2.2-0.2 2.3-0.2 2.2-0.2 2.2-0.4 2.2-0.2 1.2-0.1 1-0.5 2.2-0.4 2.2-0.6 2.3-0.6 2.2 0 0.1-0.6 2.1-0.6 2.2-0.7 2.2-0.3 0.9-0.4 1.3-0.7 2.3-0.7 2.2-0.4 1.2-0.3 1-0.7 2.2-0.7 2.2-0.5 1.9-0.1 0.3-0.6 2.2-0.6 2.3-0.5 2.2-0.4 2-0.1 0.2-0.4 2.2-0.3 2.2-0.3 2.2-0.2 2.3-0.1 2.2 0 2.2 0.1 2.2 0.2 2.2 0.3 2.2 0.4 2.2 0.4 1.9 0 0.4 0.5 2.2 0.6 2.2zM429.4 480.1l0.5 1.7 0.1 0.5 2.1 0 2.2 0 2.2 0 2.3 0 2.2 0 2.2 0 2.2 0 2.2 0 2.2 0 2.3 0 2.2 0 2.2 0 2.2 0 2.2 0 2.2 0 2.3 0 2.2 0 2.2 0 2.2 0 2.2 0 2.2 0 2.3 0 2.2 0 2.2 0 2.2 0 0-2.2 0-2.2 0-2.2 0-2.3 0-2.2 0-2.2 0-2.2 0-2.2 0-2.2 0-2.2 0-2.3 0-2.2 0-2.2 0-2.2 0-2.2 0-2.2 0-2.3 0-2.2 0-2.2 0-2.2 0-2.2 0-2.2 0-2.2 0-2.3 0-2.2 0-2.2 0-2.2 0-2.2 0-2.2 0-2.3 0-2.2 0-2.2 0-2.2 0-2.2 0-2.2 0-2.2 0-2.3 0-2.2 0-2.2 0-2.2 0-2.2 0-2.2 0-2.2 0-2.3 0-2.2 0-2.2 0-2.2 0-2.2 0-2.2 0-2.2 0-2.3 0-2.2 0-2.2 0-2.2 0-2.2 0-2.2 0-2.3 0-2.2 0-2.2 0-2.2 0-2.2 0-2.2 0-2.2 0-2.3 0-2.2 0-2.2 0-2.2 0-2.2 0-2.2 0-2.3 0-2.2 0-2.2 0-2.2 0-2.2 0-2.2 0-2.2 0-2.3 0-2.2 0-2.2 0-2.2 0-2.2 0-2.2 0-2.2 0-2.3 0-2.2 0-2.2 0-2.2 0-2.2 0-2.2 0-2.3 0-2.2 0-2.2 0-2.2 0-2.2 0-2.2 0-2.2 0-2.3 0-2.2 0-2.2 0-2.2 0-2.2 0-2.2 0-2.2 0-2.3 0-2.2 0-2.2 0-2.2 0-2.2 0-2.2 0-2.3 0-2.2 0-2.2 0-2.2 0-2.2 0-2.2 0-2.2 0-2.3 0-2.2 0-2.2 0-2.2 0-2.2 0-2.2 0-2.2 0-2.3 0-2.2 0-2.2 0-2.2 0-2.2 0-2.2 0-2.3 0-2.2 0-2.2 0-2.2 0-2.2 0-2.2 0-2.2 0-2.3 0-2.2 0-2.2 0-2.2 0-2.2 0-2.2 0-2.2 0-2.3 0-2.2 0-2.2 0-2.2 0-2.2 0-2.2 0-2.3 0-2.2 0-2.2 0-2.2 0-2.2 0-2.2 0-2.2 0-2.3 0-2.2 0-2.2 0-2.2 0-2.2 0-2.2 0-2.2 0-2.3 0-2.2 0-2.2 0-2.2 0-2.2 0-2.2 0-2.3 0-2.2 0-2.2 0-2.2 0-2.2 0-2.2 0-2.2 0-2.3 0-2.2 0-2.2 0-2.2-2.2 0-2.2 0-2.2 0-2.3 0-2.2 0-2.2 0-2.2 0-2.2 0-2.2 0-2.3 0-2.2 0-2.2 0-2.2 0-2.2 0-2.2 0-2.3 0-2.2 0-2.2 0-2.2 0-2.2 0-2.2 0-2.3 0-2.2 0-2.2 0-2.1 0 0.8 2.2 0.8 2.2 0.5 1.4 0.3 0.8 0.9 2.3 0.9 2.2 0.1 0.2 0.9 2 1.1 2.2 0.2 0.6 0.9 1.6 1.1 2.2 0.3 0.5 0.9 1.7 1.3 2.3 1.3 2.2 0.9 1.4 0.5 0.8 1.4 2.2 0.3 0.4 1.2 1.8 1 1.5 0.5 0.7 1.6 2.3 0.1 0.2 1.4 2 0.9 1.2 0.6 1 1.5 2.2 0.1 0.1 1.4 2.1 0.8 1.3 0.6 0.9 1.4 2.2 0.2 0.3 1.2 2 1 1.8 0.3 0.4 1.2 2.2 0.7 1.4 0.5 0.8 1.1 2.2 0.7 1.4 0.4 0.8 1 2.2 0.8 1.9 0.1 0.4 0.9 2.2 0.8 2.2 0.4 1.4 0.3 0.8 0.6 2.2 0.6 2.2 0.4 2.3 0.3 1.8 0.1 0.4 0.3 2.2 0.2 2.2 0.1 2.2 0 2.2-0.1 2.2-0.3 2.3-0.3 2.2-0.4 2.2-0.5 2.2-0.7 2.2-0.6 1.7-0.2 0.5-0.9 2.2-1 2.3-0.1 0.2-1 2-1.2 2.1-0.1 0.1-1.3 2.2-0.9 1.3-0.5 0.9-1.5 2.2-0.2 0.3-1.3 2-0.9 1.3-0.6 0.9-1.6 2.2-1.5 2.2-0.7 1-0.9 1.2-1.3 2-0.2 0.2-1.5 2.2-0.6 0.8-1 1.5-1.2 1.7-0.3 0.5-1.5 2.2-0.4 0.6-1.1 1.6-1.1 1.8-0.3 0.4-1.3 2.2-0.6 1-0.8 1.2-1.2 2.3-0.2 0.4-0.9 1.8-1.1 2.2-0.3 0.5-0.7 1.7-1 2.2-0.5 1.2-0.4 1-0.8 2.3-0.8 2.2-0.2 0.6-0.5 1.6-0.7 2.2-0.6 2.2-0.4 1.7-0.1 0.5-0.5 2.2-0.4 2.3-0.4 2.2-0.2 2.2-0.1 2.2-0.1 2.2 0.1 2.2 0.2 2.2 0.4 2.3 0.4 2.2 0.5 2.2 0.2 0.6 0.5 1.6 0.7 2.2 0.8 2.2 0.2 0.6 0.7 1.7 1 2.2 0.5 1 0.6 1.2 1.2 2.2 0.4 0.8 0.9 1.4 1.4 2.1 0 0.1 1.6 2.2 0.6 0.9 1 1.4 1.2 1.5 0.5 0.7 1.7 2.2 0 0.1 1.6 2.1 0.6 1 0.8 1.2 1.4 2.2 0 0.1 1.2 2.1 1.1 2 0.1 0.3 1 2.2 0.9 2.2 0.2 0.4 0.6 1.8 0.8 2.2 0.7 2.2 0.1 0.4 0.5 1.9 0.5 2.2 0.5 2.2 0.4 2.2 0.3 1.9 0.1 0.3 0.2 2.2 0.3 2.2 0.1 2.3 0.1 2.2 0.1 2.2 0 2.2 0 2.2 0 2.2-0.1 2.3-0.1 2.2 0 2.2-0.1 2.2-0.1 2.2-0.1 2.2-0.1 2.2-0.2 2.3-0.1 2.1 0 0.1-0.1 2.2-0.2 2.2-0.2 2.2-0.3 2.2-0.3 2.2-0.3 2.3-0.4 2.2-0.4 1.7-0.1 0.5-0.6 2.2-0.7 2.2-0.8 2.2 0 0.1-1 2.1-1 2.3-0.2 0.4-1.1 1.8-1.2 1.9-0.1 0.3-1.6 2.2-0.5 0.7-1.1 1.5-1.1 1.5-0.6 0.7-1.6 2.2-0.1 0.1-1.6 2.2-0.5 0.7-1.1 1.5-1.1 1.6-0.4 0.6-1.5 2.2-0.4 0.6-0.9 1.6-1.3 2.2-1.2 2.3-1 2-0.1 0.2-0.9 2.2-0.9 2.2-0.3 0.7-0.5 1.5-0.7 2.2-0.6 2.3-0.4 2.2 0 0.2-0.3 2-0.1 2.2 0.1 2.2 0.1 2.2 0.2 1.2 0.1 1 0.4 2.3 0.6 2.2z"/>
<path fill="#f0ff1e" d="M86.4 482.3l2.2 0 2.2 0 2.2 0 2.3 0 2.2 0 2.2 0 2.2 0 2.2 0 2.2 0 2.3 0 2.2 0 2.2 0 2.2 0 2.2 0 2.2 0 2.3 0 1.6 0 0.4-2.2 0.2-0.9 0.2-1.3 0.2-2.2 0.3-2.3 0.1-2.2 0.1-2.2 0.1-2.2 0-2.2-0.1-2.2-0.2-2.2-0.2-2.3-0.2-2.2-0.3-2.1 0-0.1-0.4-2.2-0.5-2.2-0.4-2.2-0.6-2.3-0.3-1.2-0.3-1-0.6-2.2-0.7-2.2-0.7-1.9-0.1-0.3-0.7-2.2-0.8-2.2-0.6-1.7-0.2-0.6-0.8-2.2-0.8-2.2-0.4-1.1-0.4-1.1-0.8-2.2-0.7-2.2-0.3-0.9-0.5-1.4-0.7-2.2-0.7-2.2-0.3-1.3-0.3-0.9-0.6-2.2-0.5-2.2-0.4-2.2-0.4-2.3 0-0.2-0.3-2-0.3-2.2-0.2-2.2-0.1-2.2-0.1-2.2-0.1-2.2 0-2.3 0.1-2.2 0-2.2 0.1-2.2 0.1-2.2 0-2.2 0.1-2.2 0.1-2.3 0-2.2 0-2.2 0.1-2.2 0-2.2 0-2.2 0-2.3-0.1-2.2 0-2.2 0.1-2.2 0-2.2 0-2.2 0.1-2.2 0.1-2.3 0.1-2.2 0.2-1.3 0-0.9 0.2-2.2 0.3-2.2 0.3-2.2 0.4-2.3 0.4-2.2 0.4-2.2 0.2-0.8 0.3-1.4 0.5-2.2 0.5-2.2 0.5-2.2 0.4-1.4 0.2-0.9 0.6-2.2 0.6-2.2 0.5-2.2 0.3-1.1 0.3-1.1 0.6-2.2 0.5-2.2 0.5-2.3 0.3-1.7 0.1-0.5 0.5-2.2 0.3-2.2 0.4-2.2 0.2-2.2 0.2-2.3 0.2-2.2 0-2.2 0-2.2-0.1-2.2-0.1-2.2-0.2-2.2-0.3-2.3-0.4-2.2-0.5-2.2-0.3-1.4-0.1-0.8-0.6-2.2-0.5-2.2-0.7-2.2-0.3-1.1-0.3-1.2-0.7-2.2-0.6-2.2-0.6-1.8-0.1-0.4-0.7-2.2-0.7-2.2-0.7-2.3-0.7-2.2-0.8-2.2-0.7-2.2 0-0.1-0.8-2.1-0.7-2.2-0.8-2.1 0-0.1-0.9-2.3-0.8-2.2-0.5-1.2-0.4-1-0.9-2.2-0.8-2.2-0.1-0.1-0.9-2.1-0.9-2.2-0.4-1.1-0.5-1.2-0.9-2.2-0.8-2.1 0-0.1-0.9-2.2-0.8-2.2-0.5-1.8-0.2-0.4-0.7-2.3-0.6-2.2-0.5-2.2-0.3-1.1-0.2-1.1-0.4-2.2-0.3-2.2-0.2-2.2 0-2.3 0.1-2.2 0.3-2.2 0.4-2.2 0.3-1.4 0.2-0.8 0.5-2.2 0.7-2.2 0.8-2.3 0.1-0.1 0.6-2.1 0.9-2.2 0.7-1.7 0.1-0.5 0.8-2.2 0.9-2.2 0.4-1 0.4-1.3 0.8-2.2 0.9-2.2 0.1-0.3 0.6-1.9 0.8-2.2 0.8-2.2 0.8-2.2 0.7-2.3 0.7-2 0.1-0.2 0.7-2.2 0.8-2.2 0.7-1.8 0.1-0.4 0.8-2.2 0.8-2.2 0.5-1.3 0.3-1 0.9-2.2 0.9-2.2 0.1-0.2 0.8-2 0.9-2.2 0.5-1.1 0.5-1.1 0.9-2.3 0.8-2 0.1-0.2 0.9-2.2 0.8-2.2 0.4-1.2 0.4-1 0.7-2.2 0.7-2.2 0.5-1.7 0.1-0.6 0.6-2.2 0.5-2.2 0.4-2.2-1.6 0-2.3 0-2.2 0-2.2 0-2.2 0-2.2 0-2.2 0-2.3 0-2.2 0-2.2 0-2.2 0-2.2 0-2.2 0-2.3 0-2.2 0-2.2 0-2.2 0 0 2.2 0 2.2 0 2.2 0 2.3 0 2.2 0 2.2 0 2.2 0 2.2 0 2.2 0 2.2 0 2.3 0 2.2 0 2.2 0 2.2 0 2.2 0 2.2 0 2.3 0 2.2 0 2.2 0 2.2 0 2.2 0 2.2 0 2.2 0 2.3 0 2.2 0 2.2 0 2.2 0 2.2 0 2.2 0 2.2 0 2.3 0 2.2 0 2.2 0 2.2 0 2.2 0 2.2 0 2.3 0 2.2 0 2.2 0 2.2 0 2.2 0 2.2 0 2.2 0 2.3 0 2.2 0 2.2 0 2.2 0 2.2 0 2.2 0 2.2 0 2.3 0 2.2 0 2.2 0 2.2 0 2.2 0 2.2 0 2.3 0 2.2 0 2.2 0 2.2 0 2.2 0 2.2 0 2.2 0 2.3 0 2.2 0 2.2 0 2.2 0 2.2 0 2.2 0 2.2 0 2.3 0 2.2 0 2.2 0 2.2 0 2.2 0 2.2 0 2.3 0 2.2 0 2.2 0 2.2 0 2.2 0 2.2 0 2.2 0 2.3 0 2.2 0 2.2 0 2.2 0 2.2 0 2.2 0 2.2 0 2.3 0 2.2 0 2.2 0 2.2 0 2.2 0 2.2 0 2.3 0 2.2 0 2.2 0 2.2 0 2.2 0 2.2 0 2.2 0 2.3 0 2.2 0 2.2 0 2.2 0 2.2 0 2.2 0 2.2 0 2.3 0 2.2 0 2.2 0 2.2 0 2.2 0 2.2 0 2.3 0 2.2 0 2.2 0 2.2 0 2.2 0 2.2 0 2.2 0 2.3 0 2.2 0 2.2 0 2.2 0 2.2 0 2.2 0 2.3 0 2.2 0 2.2 0 2.2 0 2.2 0 2.2 0 2.2 0 2.3 0 2.2 0 2.2 0 2.2 0 2.2 0 2.2 0 2.2 0 2.3 0 2.2 0 2.2 0 2.2 0 2.2 0 2.2 0 2.2 0 2.3 0 2.2 0 2.2 0 2.2 0 2.2 0 2.2 0 2.3 0 2.2 0 2.2 0 2.2 0 2.2 0 2.2 0 2.2 0 2.3 0 2.2 0 2.2 0 2.2 0 2.2 0 2.2 0 2.3 0 2.2 0 2.2 0 2.2 0 2.2 0 2.2 0 2.2 0 2.3 0 2.2 0 2.2zM276.7 482.3l0.3 0 2.2 0 2.2 0 2.2 0 2.2 0 2.3 0 2.2 0 2.2 0 2.2 0 2.2 0 2.2 0 2.3 0 2.2 0 2.2 0 2.2 0 2.2 0 2.2 0 2.3 0 2.2 0 2.2 0 2.2 0 2.2 0 2.2 0 2.3 0 2.2 0 2.2 0 2.2 0 2.2 0 2.2 0 2.3 0 2.2 0 2.2 0 2.2 0 2.2 0 2.2 0 2.2 0 2.3 0 1.6 0 0.3-2.2 0.3-2.2 0-0.6 0-1.6 0-2.3 0-0.2-0.2-2-0.3-2.2-0.4-2.2-0.6-2.2-0.7-2.2 0-0.2-0.8-2-0.9-2.3-0.6-1.1-0.5-1.1-1.1-2.2-0.6-0.9-0.8-1.3-1.4-2.1-0.1-0.1-1.6-2.2-0.5-0.6-1.3-1.7-0.9-1-1-1.2-1.2-1.3-0.8-0.9-1.4-1.7-0.5-0.5-1.8-2.1 0-0.1-1.8-2.2-0.4-0.6-1.2-1.6-1-1.5-0.5-0.8-1.4-2.2-0.3-0.4-1-1.8-1.2-2.1-0.1-0.1-1.2-2.2-0.9-2-0.2-0.2-1-2.3-0.9-2.2-0.2-0.5-0.6-1.7-0.7-2.2-0.7-2.2-0.2-0.8-0.3-1.4-0.5-2.2-0.3-2.3-0.2-2.2-0.2-2.2 0-2.2 0.2-2.2 0.2-2.2 0.3-2.2 0.5-2.3 0.3-1.3 0.3-0.9 0.7-2.2 0.8-2.2 0.4-1.1 0.5-1.1 1-2.2 0.8-1.6 0.3-0.6 1-2.3 0.9-2.1 0-0.1 0.8-2.2 0.8-2.2 0.6-1.9 0.1-0.3 0.5-2.2 0.5-2.3 0.4-2.2 0.4-2.2 0.3-2.2 0.3-2.2 0.3-2.2 0.3-2.2 0.4-2.3 0.4-2.2 0.4-2.2 0.1-0.5 0.4-1.7 0.6-2.2 0.6-2.2 0.6-2 0.1-0.3 0.9-2.2 0.9-2.2 0.4-0.6 0.7-1.6 1.2-2.2 0.3-0.4 1.1-1.8 1.1-1.7 0.4-0.5 1.5-2.3 0.3-0.4 1.3-1.8 0.9-1.3 0.6-0.9 1.5-2.2 0.1-0.2 1.3-2 0.9-1.7 0.4-0.5 1.1-2.2 0.8-1.8 0.2-0.5 0.9-2.2 0.7-2.2 0.4-1.2 0.3-1 0.6-2.2 0.5-2.2 0.3-2.3 0.3-2.2 0.2-1.9 0-0.3 0.1-2.2 0.1-2.2-0.1-2.2-0.1-1.5 0-0.7-0.3-2.3-0.3-2.2-0.4-2.2-0.5-2.2-0.5-2.2-0.2-0.7-0.4-1.5-0.8-2.2-0.8-2.3-0.2-0.7-0.6-1.5-1-2.2-0.7-1.4-0.3-0.8-1.1-2.2-0.8-1.4-0.4-0.8-1.2-2.3-0.6-0.9-0.7-1.3-1.3-2.2-0.2-0.2-1.2-2-1-1.6-0.4-0.6-1.4-2.2-0.4-0.7-1.1-1.5-1.1-1.8-0.3-0.5-1.5-2.2-0.5-0.6-1-1.6-1.2-1.7-0.3-0.5-1.5-2.2-0.4-0.5-1.2-1.7-1-1.6-0.5-0.6-1.5-2.3-0.2-0.4-1.3-1.8-0.9-1.4-0.6-0.8-1.4-2.2-0.3-0.4-1.2-1.8-1-1.6-0.4-0.6-1.4-2.3-0.4-0.6-1-1.6-1.2-2.2-1.2-2.2-0.9-2.2-0.1-0.3-0.8-1.9-0.6-2.2-0.4-2.3-0.2-2.2-0.1-2.2 0.2-2.2 0.3-2.2 0.6-2.2 0.7-2.2 0.3-0.8 0.5-1.5 0.9-2.2 0.8-1.5 0.3-0.7 1.1-2.2 0.8-1.3 0.5-0.9 1.3-2.2 0.4-0.6 1-1.7 1.2-1.9 0.2-0.3 1.4-2.2 0.7-0.9 0.8-1.3 1.4-2.2 1.3-2.2 0.9-1.4 0.5-0.8 1.3-2.3 0.4-0.7 0.8-1.5 1.3-2.2 0.1-0.2 1.1-2 1.1-2.1 0.1-0.1 1.2-2.2 1-1.9 0.2-0.3 1.1-2.3 0.9-1.5 0.3-0.7 1.2-2.2 0.7-1.3 0.5-0.9 1.2-2.2 0.5-1 0.7-1.2 1.1-2.3 0.4-0.7 0.8-1.5 1.1-2.2 0.3-0.6 0.8-1.6 1-2.2 0.4-1 0.6-1.2 0.8-2.2 0.8-2.3 0.1-0.1 0.6-2.1 0.6-2.2 0.4-2.2-1.6 0-2.3 0-2.2 0-2.2 0-2.2 0-2.2 0-2.2 0-2.2 0-2.3 0-2.2 0-2.2 0-2.2 0-2.2 0-2.2 0-2.3 0-2.2 0-2.2 0-2.2 0-2.2 0-2.2 0-2.3 0-2.2 0-2.2 0-2.2 0-2.2 0-2.2 0-2.3 0-2.2 0-2.2 0-2.2 0-2.2 0-2.2 0-2.3 0-2.2 0-2.2 0-2.2 0-2.2 0-0.3 0 0.3 0.8 0.4 1.4 0.7 2.2 0.7 2.2 0.4 1.4 0.3 0.9 0.6 2.2 0.7 2.2 0.6 2 0.1 0.2 0.6 2.2 0.7 2.2 0.6 2.2 0.2 0.9 0.4 1.4 0.7 2.2 0.6 2.2 0.5 2 0.1 0.2 0.7 2.2 0.6 2.2 0.7 2.3 0.2 0.5 0.5 1.7 0.7 2.2 0.7 2.2 0.3 0.8 0.5 1.4 0.7 2.2 0.8 2.2 0.2 0.8 0.5 1.5 0.7 2.2 0.7 2.2 0.3 1.1 0.4 1.1 0.6 2.2 0.6 2.2 0.5 2.2 0.1 0.6 0.5 1.7 0.4 2.2 0.5 2.2 0.3 2.2 0.4 2.2 0.1 1.6 0.1 0.6 0.3 2.3 0.2 2.2 0.1 2.2 0.1 2.2-0.1 2.2-0.2 2.2-0.3 2.2-0.2 1-0.1 1.3-0.4 2.2-0.6 2.2-0.6 2.2-0.5 1.4-0.2 0.8-0.6 2.2-0.8 2.2-0.6 1.7-0.2 0.6-0.7 2.2-0.8 2.2-0.5 1.4-0.3 0.8-0.7 2.2-0.8 2.2-0.4 1.1-0.4 1.2-0.8 2.2-0.8 2.2-0.2 0.5-0.6 1.7-0.9 2.2-0.8 1.9-0.1 0.3-0.9 2.2-0.9 2.3-0.3 0.5-0.7 1.7-1.1 2.2-0.4 0.8-0.6 1.4-1.1 2.2-0.5 0.9-0.7 1.3-1.1 2.2-0.4 0.9-0.7 1.4-1.1 2.2-0.4 1-0.6 1.2-1 2.2-0.6 1.7-0.3 0.5-0.8 2.2-0.8 2.3-0.4 1.2-0.3 1-0.6 2.2-0.6 2.2-0.5 2.2-0.2 1.1-0.2 1.1-0.4 2.2-0.3 2.3-0.2 2.2-0.2 2.2-0.1 2.2 0 2.2 0.1 2.2 0.2 2.2 0.2 2.3 0.3 2.2 0.4 2.2 0.2 0.8 0.3 1.4 0.6 2.2 0.7 2.2 0.6 1.9 0.1 0.4 0.9 2.2 0.9 2.2 0.4 0.8 0.6 1.4 1 2.2 0.6 1.2 0.5 1 1 2.2 0.7 1.3 0.5 1 1 2.2 0.7 1.3 0.4 0.9 1 2.2 0.8 1.8 0.2 0.4 0.9 2.2 0.8 2.2 0.3 1.2 0.4 1.1 0.6 2.2 0.6 2.2 0.4 2.2 0.2 1.7 0.1 0.5 0.3 2.2 0.2 2.3 0.1 2.2 0.1 2.2 0 2.2 0 2.2-0.1 2.2-0.1 2.2-0.1 2.3-0.1 2.2 0 2.2-0.1 2.2 0 2.2 0 2.2 0 2.3 0 2.2 0.1 2.2 0.1 2.2 0.1 2.2 0.1 2.2 0.1 2.2 0.1 2.3 0.1 2.2 0.1 2.2 0 2.2 0 2.2-0.1 2.2-0.1 2.2-0.1 2.3-0.3 2.2-0.2 2.2-0.3 1.4-0.1 0.8-0.4 2.2-0.4 2.2-0.5 2.2-0.6 2.3-0.2 0.7-0.4 1.5-0.6 2.2-0.7 2.2-0.5 1.7-0.1 0.5-0.7 2.2-0.7 2.3-0.7 2 0 0.2-0.7 2.2-0.7 2.2-0.7 2.2-0.1 0.6-0.5 1.6-0.6 2.2-0.5 2.3-0.5 2.2-0.1 0.8-0.3 1.4-0.4 2.2-0.3 2.2-0.2 2.2-0.1 2.3-0.1 2.2 0.1 2.2 0.1 2.2 0.2 2.2 0.3 2.2 0.4 2.2 0.3 1.3 0.2 1 0.5 2.2 0.6 2.2zM433.8 482.3l0.5 0 2.2 0 2.3 0 2.2 0 2.2 0 2.2 0 2.2 0 2.2 0 2.3 0 2.2 0 2.2 0 2.2 0 2.2 0 2.2 0 2.3 0 2.2 0 2.2 0 2.2 0 2.2 0 2.2 0 2.3 0 2.2 0 2.2 0 2.2 0 0-2.2 0-2.2 0-2.2 0-2.3 0-2.2 0-2.2 0-2.2 0-2.2 0-2.2 0-2.2 0-2.3 0-2.2 0-2.2 0-2.2 0-2.2 0-2.2 0-2.3 0-2.2 0-2.2 0-2.2 0-2.2 0-2.2 0-2.2 0-2.3 0-2.2 0-2.2 0-2.2 0-2.2 0-2.2 0-2.3 0-2.2 0-2.2 0-2.2 0-2.2 0-2.2 0-2.2 0-2.3 0-2.2 0-2.2 0-2.2 0-2.2 0-2.2 0-2.2 0-2.3 0-2.2 0-2.2 0-2.2 0-2.2 0-2.2 0-2.2 0-2.3 0-2.2 0-2.2 0-2.2 0-2.2 0-2.2 0-2.3 0-2.2 0-2.2 0-2.2 0-2.2 0-2.2 0-2.2 0-2.3 0-2.2 0-2.2 0-2.2 0-2.2 0-2.2 0-2.3 0-2.2 0-2.2 0-2.2 0-2.2 0-2.2 0-2.2 0-2.3 0-2.2 0-2.2 0-2.2 0-2.2 0-2.2 0-2.2 0-2.3 0-2.2 0-2.2 0-2.2 0-2.2 0-2.2 0-2.3 0-2.2 0-2.2 0-2.2 0-2.2 0-2.2 0-2.2 0-2.3 0-2.2 0-2.2 0-2.2 0-2.2 0-2.2 0-2.2 0-2.3 0-2.2 0-2.2 0-2.2 0-2.2 0-2.2 0-2.3 0-2.2 0-2.2 0-2.2 0-2.2 0-2.2 0-2.2 0-2.3 0-2.2 0-2.2 0-2.2 0-2.2 0-2.2 0-2.2 0-2.3 0-2.2 0-2.2 0-2.2 0-2.2 0-2.2 0-2.3 0-2.2 0-2.2 0-2.2 0-2.2 0-2.2 0-2.2 0-2.3 0-2.2 0-2.2 0-2.2 0-2.2 0-2.2 0-2.2 0-2.3 0-2.2 0-2.2 0-2.2 0-2.2 0-2.2 0-2.3 0-2.2 0-2.2 0-2.2 0-2.2 0-2.2 0-2.2 0-2.3 0-2.2 0-2.2 0-2.2 0-2.2 0-2.2 0-2.2 0-2.3 0-2.2 0-2.2 0-2.2 0-2.2 0-2.2 0-2.3 0-2.2 0-2.2 0-2.2 0-2.2 0-2.2 0-2.2 0-2.3 0-2.2 0-2.2 0-2.2-2.2 0-2.2 0-2.2 0-2.3 0-2.2 0-2.2 0-2.2 0-2.2 0-2.2 0-2.3 0-2.2 0-2.2 0-2.2 0-2.2 0-2.2 0-2.3 0-2.2 0-2.2 0-2.2 0-2.2 0-2.2 0-2.3 0-2.2 0-0.5 0 0.5 1.7 0.2 0.5 0.7 2.2 0.7 2.2 0.6 1.7 0.3 0.6 0.9 2.2 0.9 2.2 0.2 0.3 0.8 1.9 1.1 2.2 0.3 0.5 0.9 1.7 1.2 2.2 0.1 0.1 1.2 2.2 1 1.5 0.4 0.7 1.4 2.2 0.4 0.6 1.1 1.6 1.1 1.7 0.4 0.5 1.5 2.2 0.4 0.6 1.1 1.7 1.1 1.5 0.5 0.7 1.5 2.2 0.2 0.3 1.3 1.9 0.9 1.4 0.6 0.8 1.4 2.2 0.2 0.4 1.2 1.8 1 1.7 0.4 0.6 1.4 2.2 0.5 0.8 0.8 1.4 1.3 2.2 0.1 0.2 1.1 2 1.1 2 0.1 0.2 1.2 2.2 0.9 2 0.1 0.3 1.1 2.2 0.9 2.2 0.1 0.3 0.8 1.9 0.8 2.2 0.6 2 0.1 0.2 0.7 2.3 0.5 2.2 0.4 2.2 0.3 2.2 0.1 2.2 0 2.2-0.1 2.2-0.3 2.3-0.4 2.2-0.7 2.2-0.6 1.7-0.1 0.5-0.8 2.2-1 2.2-0.3 0.5-0.8 1.7-1.2 2.3-0.2 0.3-1.1 1.9-1.1 1.8-0.3 0.4-1.4 2.2-0.5 0.7-1.1 1.5-1.1 1.6-0.5 0.6-1.6 2.3-0.2 0.2-1.4 2-0.8 1-0.9 1.2-1.3 1.8-0.3 0.4-1.6 2.2-0.3 0.5-1.2 1.7-1 1.4-0.6 0.8-1.5 2.3-0.1 0.2-1.4 2-0.9 1.2-0.6 1-1.5 2.2-0.1 0.2-1.3 2-0.9 1.5-0.4 0.7-1.4 2.2-0.4 0.8-0.8 1.5-1.2 2.2-0.2 0.5-0.9 1.7-1 2.2-0.3 0.9-0.6 1.3-0.9 2.2-0.7 2.3-0.1 0-0.6 2.2-0.7 2.2-0.5 2.2-0.4 1.5-0.1 0.7-0.5 2.2-0.3 2.2-0.3 2.3-0.2 2.2-0.1 2.2-0.1 2.2 0.1 2.2 0.2 2.2 0.2 2.2 0.4 2.3 0.5 2.2 0.2 1 0.3 1.2 0.7 2.2 0.8 2.2 0.4 1.1 0.5 1.1 1 2.3 0.8 1.5 0.3 0.7 1.2 2.2 0.7 1.1 0.6 1.1 1.5 2.2 0.1 0.2 1.4 2 0.8 1.2 0.7 1 1.5 2.1 0.1 0.2 1.5 2.2 0.6 1 0.8 1.2 1.3 2.2 0.2 0.3 1 1.9 1.2 2.2 1 2.2 1 2.3 0.2 0.3 0.8 1.9 0.9 2.2 0.5 1.5 0.3 0.7 0.7 2.2 0.8 2.2 0.4 1.5 0.2 0.8 0.7 2.2 0.5 2.2 0.5 2.2 0.3 1.7 0.1 0.5 0.4 2.2 0.3 2.2 0.2 2.3 0.1 2.2 0.1 2.2 0 2.2 0 2.2-0.1 2.2-0.1 2.3-0.1 2.2-0.2 2.2-0.1 2.2-0.2 2.2-0.2 2.2-0.2 1.9 0 0.3-0.2 2.3-0.2 2.2-0.2 2.2-0.2 2.2-0.3 2.2-0.2 2.2-0.4 2.2-0.3 2.3-0.2 0.9-0.2 1.3-0.5 2.2-0.5 2.2-0.6 2.2-0.4 1.3-0.3 0.9-0.8 2.2-0.9 2.3-0.2 0.4-0.9 1.8-1.2 2.2-0.1 0.3-1.2 1.9-1 1.6-0.5 0.6-1.6 2.2-0.2 0.3-1.5 2-0.7 0.9-1 1.3-1.2 1.6-0.4 0.6-1.6 2.2-0.2 0.2-1.4 2-0.8 1.3-0.6 0.9-1.3 2.2-0.3 0.6-1 1.7-1.1 2.2-0.2 0.3-0.8 1.9-0.9 2.2-0.5 1.3-0.3 0.9-0.7 2.2-0.6 2.3-0.4 2.2-0.2 1.4-0.1 0.8-0.2 2.2 0 2.2 0.1 2.2 0.2 2.2 0 0.3 0.3 2 0.4 2.2 0.5 2.2z"/>
<path fill="#fffa00" d="M86.4 482.3l2.2 0 2.2 0 2.2 0 2.3 0 2.2 0 2.2 0 2.2 0 2.2 0 2.2 0 2.3 0 2.2 0 2.2 0 2.2 0 2.2 0 2.2 0 1.6 0 0.4-2.2 0.3-1.4 0.1-0.8 0.3-2.2 0.2-2.3 0.2-2.2 0.1-2.2 0.1-2.2 0-2.2-0.1-2.2-0.1-2.2-0.2-2.3-0.3-2.2-0.3-2.2 0-0.3-0.3-1.9-0.5-2.2-0.4-2.2-0.6-2.3-0.5-1.7-0.1-0.5-0.6-2.2-0.7-2.2-0.7-2.2-0.1-0.2-0.6-2-0.8-2.2-0.8-2.2 0-0.1-0.8-2.2-0.8-2.2-0.6-1.5-0.3-0.7-0.8-2.2-0.8-2.2-0.3-1.1-0.5-1.2-0.7-2.2-0.7-2.2-0.3-1-0.4-1.2-0.7-2.2-0.5-2.2-0.5-2.2-0.2-0.6-0.3-1.7-0.4-2.2-0.3-2.2-0.3-2.2-0.1-2.2-0.1-2.2-0.1-2.2 0-2.3 0.1-2.2 0-2.2 0.1-2.2 0.1-2.2 0.2-2.2 0.1-2.2 0-2.3 0.1-2.2 0.1-2.2 0-2.2 0.1-2.2 0-2.2 0-2.3 0-2.2 0.1-2.2 0-2.2 0.1-2.2 0-2.2 0.1-2.2 0.2-2.3 0.2-2.2 0-0.8 0.2-1.4 0.2-2.2 0.3-2.2 0.4-2.2 0.4-2.3 0.4-2.2 0.4-1.7 0.1-0.5 0.5-2.2 0.5-2.2 0.5-2.2 0.6-2.1 0-0.1 0.6-2.3 0.6-2.2 0.5-2.2 0.5-1.7 0.1-0.5 0.6-2.2 0.5-2.2 0.5-2.2 0.5-2.2 0-0.1 0.5-2.2 0.4-2.2 0.4-2.2 0.3-2.2 0.2-2.2 0.2-2.3 0.1-2.2 0-2.2 0-2.2-0.1-2.2-0.1-2.2-0.3-2.2-0.3-2.3-0.4-2.2-0.4-2.2-0.5-2.2 0-0.1-0.5-2.1-0.6-2.2-0.6-2.2-0.5-2-0.1-0.3-0.6-2.2-0.7-2.2-0.7-2.2-0.1-0.5-0.6-1.7-0.7-2.2-0.7-2.3-0.2-0.7-0.5-1.5-0.8-2.2-0.8-2.2-0.2-0.5-0.6-1.7-0.9-2.2-0.7-1.8-0.2-0.4-0.9-2.3-1-2.2-0.1-0.3-0.9-1.9-1-2.2-0.3-0.6-0.8-1.6-1.1-2.2-0.3-0.6-0.9-1.6-1.2-2.3-0.1-0.3-1.1-1.9-1.2-2.1 0-0.1-1.4-2.2-0.8-1.3-0.7-0.9-1.5-2.1-0.2-0.1-2-1.8 0 1.8 0 2.2 0 2.2 0 2.2 0 2.2 0 2.2 0 2.3 0 2.2 0 2.2 0 2.2 0 2.2 0 2.2 0 2.2 0 2.3 0 2.2 0 2.2 0 2.2 0 2.2 0 2.2 0 2.2 0 2.3 0 2.2 0 2.2 0 2.2 0 2.2 0 2.2 0 2.3 0 2.2 0 2.2 0 2.2 0 2.2 0 2.2 0 2.2 0 2.3 0 2.2 0 2.2 0 2.2 0 2.2 0 2.2 0 2.2 0 2.3 0 2.2 0 2.2 0 2.2 0 2.2 0 2.2 0 2.3 0 2.2 0 2.2 0 2.2 0 2.2 0 2.2 0 2.2 0 2.3 0 2.2 0 2.2 0 2.2 0 2.2 0 2.2 0 2.2 0 2.3 0 2.2 0 2.2 0 2.2 0 2.2 0 2.2 0 2.3 0 2.2 0 2.2 0 2.2 0 2.2 0 2.2 0 2.2 0 2.3 0 2.2 0 2.2 0 2.2 0 2.2 0 2.2 0 2.3 0 2.2 0 2.2 0 2.2 0 2.2 0 2.2 0 2.2 0 2.3 0 2.2 0 2.2 0 2.2 0 2.2 0 2.2 0 2.2 0 2.3 0 2.2 0 2.2 0 2.2 0 2.2 0 2.2 0 2.2 0 2.3 0 2.2 0 2.2 0 2.2 0 2.2 0 2.2 0 2.3 0 2.2 0 2.2 0 2.2 0 2.2 0 2.2 0 2.2 0 2.3 0 2.2 0 2.2 0 2.2 0 2.2 0 2.2 0 2.3 0 2.2 0 2.2 0 2.2 0 2.2 0 2.2 0 2.2 0 2.3 0 2.2 0 2.2zM278.9 482.3l0.3 0 2.2 0 2.2 0 2.2 0 2.3 0 2.2 0 2.2 0 2.2 0 2.2 0 2.2 0 2.3 0 2.2 0 2.2 0 2.2 0 2.2 0 2.2 0 2.3 0 2.2 0 2.2 0 2.2 0 2.2 0 2.2 0 2.3 0 2.2 0 2.2 0 2.2 0 2.2 0 2.2 0 2.3 0 2.2 0 2.2 0 2.2 0 2.2 0 2.2 0 2.2 0 0-0.4 0.3-1.8 0.2-2.2 0.1-2.2-0.1-2.3-0.2-2.2-0.3-2 0-0.2-0.4-2.2-0.5-2.2-0.7-2.2-0.6-1.6-0.2-0.6-0.9-2.3-1.1-2.2-1.2-2.2-1-1.6-0.3-0.6-1.5-2.2-0.4-0.5-1.2-1.7-1-1.3-0.7-1-1.5-1.8-0.3-0.4-1.7-2.2-0.3-0.3-1.4-1.9-0.8-1-0.8-1.2-1.4-2-0.2-0.2-1.4-2.2-0.6-0.9-0.9-1.4-1.3-2.2-1.3-2.2-0.9-1.7-0.3-0.5-1.2-2.2-0.8-1.6-0.3-0.6-1-2.3-0.9-2-0.1-0.2-0.8-2.2-0.8-2.2-0.5-1.5-0.2-0.7-0.6-2.2-0.5-2.2-0.4-2.3-0.4-2.2-0.1-1.6-0.1-0.6-0.1-2.2 0-2.2 0.1-2.2 0.1-1 0.1-1.2 0.3-2.3 0.4-2.2 0.5-2.2 0.6-2.2 0.3-0.9 0.5-1.3 0.8-2.2 0.9-2.2 0-0.2 0.9-2.1 1-2.2 0.3-0.8 0.6-1.4 0.9-2.2 0.8-1.9 0.1-0.3 0.7-2.2 0.6-2.3 0.6-2.2 0.2-0.8 0.3-1.4 0.4-2.2 0.4-2.2 0.4-2.2 0.4-2.2 0.3-1.5 0.1-0.8 0.4-2.2 0.5-2.2 0.5-2.2 0.6-2.2 0.1-0.5 0.5-1.7 0.7-2.3 0.8-2.2 0.2-0.7 0.6-1.5 1-2.2 0.6-1.3 0.5-0.9 1.2-2.2 0.6-1.1 0.6-1.1 1.4-2.3 0.2-0.2 1.3-2 0.9-1.3 0.6-0.9 1.5-2.2 0.1-0.2 1.3-2 0.9-1.6 0.4-0.6 1.2-2.2 0.6-1.2 0.5-1.1 1-2.2 0.7-2 0.1-0.2 0.8-2.2 0.6-2.2 0.5-2.2 0.3-1.5 0.1-0.8 0.3-2.2 0.3-2.2 0.1-2.2 0.1-2.2 0-2.2-0.1-2.2-0.2-2.3-0.3-2.2-0.3-2-0.1-0.2-0.4-2.2-0.6-2.2-0.6-2.2-0.6-1.8-0.1-0.4-0.8-2.3-0.9-2.2-0.4-0.9-0.5-1.3-1.1-2.2-0.6-1.2-0.5-1-1.2-2.2-0.5-1-0.7-1.3-1.3-2.2-0.2-0.3-1.1-1.9-1.1-1.8-0.2-0.4-1.4-2.2-0.6-1-0.8-1.2-1.5-2.2 0-0.1-1.4-2.2-0.8-1.1-0.7-1.1-1.5-2.2-1.5-2.2-0.7-1.1-0.8-1.1-1.4-2-0.2-0.2-1.6-2.2-0.4-0.7-1.2-1.6-1.1-1.4-0.5-0.8-1.7-2.1 0-0.1-1.8-2.2-0.4-0.5-1.5-1.7-0.7-0.9-1.3-1.3-0.9-1.1-1.2-1.2-1-1.1-1.3-1.1-1-0.9-1.7-1.3-0.5-0.4-2.2-0.9-2.2 0.2-1.5 1.1-0.7 0.5-1.4 1.7-0.8 1-0.7 1.2-1.4 2.3-0.2 0.1-1 2.1-1.2 2.1 0 0.1-1 2.2-1.1 2.2-0.1 0.3-0.8 1.9-1 2.3-0.4 0.9-0.5 1.3-0.9 2.2-0.8 1.9-0.1 0.3-0.9 2.2-0.9 2.2-0.3 0.7-0.7 1.5-0.9 2.3-0.7 1.3-0.3 0.9-1.1 2.2-0.8 1.6-0.2 0.6-1.2 2.2-0.8 1.6-0.3 0.6-1.1 2.2-0.8 1.5-0.4 0.8-1.1 2.2-0.7 1.4-0.4 0.8-1 2.2-0.8 1.8-0.2 0.4-0.9 2.2-0.8 2.3-0.3 0.8-0.5 1.4-0.7 2.2-0.6 2.2-0.5 2.2-0.4 2.2-0.4 2.2-0.3 2.3-0.2 2.2-0.2 2.2-0.1 2.2 0 2.2 0.1 2.2 0.2 2.2 0.2 2.3 0.3 2.2 0.5 2.2 0.3 1.6 0.2 0.6 0.6 2.2 0.7 2.2 0.7 2.3 0.1 0 0.8 2.2 0.9 2.2 0.5 1 0.5 1.2 1.1 2.2 0.6 1.3 0.5 0.9 1.1 2.2 0.6 1.3 0.5 1 1.1 2.2 0.6 1.2 0.5 1 1.1 2.2 0.6 1.6 0.3 0.6 1 2.2 0.8 2.2 0.1 0.6 0.6 1.7 0.7 2.2 0.6 2.2 0.4 1.7 0.1 0.5 0.4 2.2 0.3 2.2 0.2 2.3 0.2 2.2 0.1 2.2 0 2.2 0 2.2-0.1 2.2-0.1 2.2-0.1 2.3-0.2 2.2-0.1 2.2-0.1 2.2 0 2.2-0.1 2.2 0 2.2 0 2.3 0.1 2.2 0 2.2 0.1 2.2 0.1 2.2 0.1 2.2 0.1 2.3 0 2.2 0 2.2 0 2.2 0 2.2-0.1 2.2-0.1 2.2-0.2 2.3-0.3 2.2-0.3 2.2 0 0.1-0.4 2.1-0.4 2.2-0.5 2.2-0.5 2.2-0.5 1.7-0.1 0.6-0.6 2.2-0.7 2.2-0.7 2.2-0.1 0.4-0.5 1.8-0.7 2.2-0.8 2.3-0.2 0.6-0.5 1.6-0.7 2.2-0.6 2.2-0.4 1.3-0.3 0.9-0.6 2.2-0.5 2.2-0.5 2.3-0.3 1.4-0.2 0.8-0.4 2.2-0.3 2.2-0.3 2.2-0.2 2.2-0.1 2.3 0 2.2 0.1 2.2 0.2 2.2 0.2 2.2 0.3 2.2 0.4 2.2 0.3 1.2 0.2 1.1 0.5 2.2 0.6 2.2zM437.6 482.3l1.2 0 2.2 0 2.2 0 2.2 0 2.2 0 2.2 0 2.3 0 2.2 0 2.2 0 2.2 0 2.2 0 2.2 0 2.3 0 2.2 0 2.2 0 2.2 0 2.2 0 2.2 0 2.3 0 2.2 0 2.2 0 2.2 0 0-2.2 0-2.2 0-2.2 0-2.3 0-2.2 0-2.2 0-2.2 0-2.2 0-2.2 0-2.2 0-2.3 0-2.2 0-2.2 0-2.2 0-2.2 0-2.2 0-2.3 0-2.2 0-2.2 0-2.2 0-2.2 0-2.2 0-2.2 0-2.3 0-2.2 0-2.2 0-2.2 0-2.2 0-2.2 0-2.3 0-2.2 0-2.2 0-2.2 0-2.2 0-2.2 0-2.2 0-2.3 0-2.2 0-2.2 0-2.2 0-2.2 0-2.2 0-2.2 0-2.3 0-2.2 0-2.2 0-2.2 0-2.2 0-2.2 0-2.2 0-2.3 0-2.2 0-2.2 0-2.2 0-2.2 0-2.2 0-2.3 0-2.2 0-2.2 0-2.2 0-2.2 0-2.2 0-2.2 0-2.3 0-2.2 0-2.2 0-2.2 0-2.2 0-2.2 0-2.3 0-2.2 0-2.2 0-2.2 0-2.2 0-2.2 0-2.2 0-2.3 0-2.2 0-2.2 0-2.2 0-2.2 0-2.2 0-2.2 0-2.3 0-2.2 0-2.2 0-2.2 0-2.2 0-2.2 0-2.3 0-2.2 0-2.2 0-2.2 0-2.2 0-2.2 0-2.2 0-2.3 0-2.2 0-2.2 0-2.2 0-2.2 0-2.2 0-2.2 0-2.3 0-2.2 0-2.2 0-2.2 0-2.2 0-2.2 0-2.3 0-2.2 0-2.2 0-2.2 0-2.2 0-2.2 0-2.2 0-2.3 0-2.2 0-2.2 0-2.2 0-2.2 0-2.2 0-2.2 0-2.3 0-2.2 0-2.2 0-2.2 0-2.2 0-2.2 0-1.8-2.2-0.4-2.2 0.9-1.5 1.3-0.7 0.5-1.7 1.7-0.6 0.5-1.4 1.7-0.8 0.8-1.1 1.4-1.1 1.2-0.8 1-1.4 1.6-0.5 0.6-1.7 2-0.2 0.3-1.8 2.2-0.2 0.2-1.6 2-0.7 0.8-1.1 1.4-1.1 1.5-0.5 0.7-1.7 2.2 0 0.1-1.6 2.1-0.6 1-0.9 1.3-1.3 1.9-0.2 0.3-1.5 2.2-0.5 0.9-0.9 1.3-1.4 2.2-1.3 2.2-0.9 1.5-0.4 0.7-1.3 2.3-0.5 1-0.6 1.2-1.1 2.2-0.5 1-0.5 1.2-1 2.2-0.7 2-0.1 0.2-0.7 2.3-0.7 2.2-0.6 2.2-0.1 0.7-0.4 1.5-0.4 2.2-0.3 2.2-0.3 2.2-0.2 2.3-0.1 2.2 0 2.2 0.1 2.2 0.2 2.2 0.2 2.2 0.4 2.2 0.4 2.3 0.4 1.3 0.2 0.9 0.6 2.2 0.8 2.2 0.6 1.6 0.2 0.6 1 2.2 1 2.2 0 0.1 1.2 2.2 1 1.8 0.2 0.4 1.3 2.2 0.7 1.1 0.7 1.1 1.4 2.2 0.1 0.3 1.2 1.9 1.1 1.8 0.2 0.5 1.2 2.2 0.8 1.3 0.4 0.9 1.2 2.2 0.6 1.2 0.5 1 1 2.2 0.7 1.5 0.3 0.7 1 2.3 0.9 2.1 0 0.1 1 2.2 0.8 2.2 0.4 1.1 0.5 1.1 0.8 2.2 0.8 2.3 0.2 0.5 0.5 1.7 0.7 2.2 0.6 2.2 0.4 1.8 0.1 0.4 0.4 2.2 0.4 2.2 0.2 2.3 0.2 2.2 0.1 2.2 0.1 2.2 0 2.2-0.1 2.2-0.1 2.3-0.2 2.2-0.2 2.2-0.3 2.2-0.2 2.2-0.3 2.2-0.1 1.1-0.2 1.1-0.2 2.3-0.3 2.2-0.3 2.2-0.3 2.2-0.4 2.2-0.3 2.2-0.2 1.6-0.2 0.6-0.3 2.3-0.5 2.2-0.4 2.2-0.5 2.2-0.4 1.3-0.2 0.9-0.7 2.2-0.7 2.2-0.6 1.7-0.2 0.6-0.9 2.2-1.1 2.2-1.2 2.2-1 1.8-0.3 0.4-1.4 2.2-0.5 0.8-1 1.5-1.2 1.6-0.5 0.6-1.6 2.2-0.2 0.2-1.4 2-0.8 1-0.8 1.2-1.4 2-0.1 0.2-1.4 2.2-0.7 1.2-0.6 1.1-1.2 2.2-0.4 0.9-0.6 1.3-1 2.2-0.6 1.8-0.2 0.4-0.7 2.2-0.6 2.3-0.5 2.2-0.3 1.7 0 0.5-0.3 2.2-0.1 2.2 0 2.2 0.1 2.2 0.2 2.3 0.1 0.9 0.2 1.3 0.4 2.2zM306.5 158.9l1.5 0.9 2.2-0.6 0.3-0.3 1.9-1.4 0.7-0.8 1.6-1.5 0.5-0.7 1.7-1.8 0.3-0.4 1.9-2.3 1.8-2.2 0.4-0.4 1.4-1.8 0.8-1 0.9-1.2 1.3-1.7 0.4-0.5 1.6-2.2 0.3-0.4 1.2-1.8 1-1.5 0.4-0.8 1.4-2.2 0.4-0.5 1-1.7 1.2-2.1 0-0.1 1.3-2.2 0.9-1.8 0.3-0.4 1.1-2.2 0.8-1.6 0.4-0.7 1.1-2.2 0.8-1.4 0.3-0.8 1.2-2.2 0.7-1.4 0.4-0.8 1.1-2.2 0.7-1.4 0.4-0.9 1.1-2.2 0.7-1.3 0.4-0.9 1.1-2.2 0.7-1.7 0.2-0.5 1-2.2 0.8-2.2 0.2-0.7 0.6-1.6 0.6-2.2 0.6-2.2 0.4-2.2-2.2 0-2.2 0-2.2 0-2.2 0-2.2 0-2.2 0-2.3 0-2.2 0-2.2 0-2.2 0-2.2 0-2.2 0-2.3 0-2.2 0-2.2 0-2.2 0-2.2 0-2.2 0-2.3 0-2.2 0-2.2 0-2.2 0-2.2 0-2.2 0-2.3 0-2.2 0-2.2 0-2.2 0-2.2 0-2.2 0-2.3 0-2.2 0-2.2 0-2.2 0-0.3 0 0.3 1 0.3 1.2 0.7 2.2 0.6 2.2 0.6 2 0.1 0.3 0.6 2.2 0.7 2.2 0.6 2.2 0.2 0.6 0.5 1.6 0.6 2.2 0.7 2.2 0.4 1.7 0.2 0.6 0.7 2.2 0.7 2.2 0.6 2.2 0.1 0.1 0.7 2.1 0.7 2.2 0.7 2.3 0.1 0.1 0.8 2.1 0.8 2.2 0.6 1.7 0.2 0.5 0.9 2.2 0.8 2.2 0.3 0.8 0.6 1.4 0.9 2.3 0.7 1.8 0.2 0.4 0.9 2.2 0.8 2.2 0.3 0.9 0.6 1.3 0.9 2.2 0.8 2.2 1 2.3 0.9 2.2 0.3 0.6 1 1.6 1.2 1.8zM86.4 156.7l0 1.5 2.2-0.3 1.8-1.2 0.4-0.3 1.7-1.9 0.5-0.5 1.2-1.7 1.1-1.6 0.3-0.7 1.2-2.2 0.7-1.1 0.5-1.1 1.1-2.2 0.6-1.3 0.4-0.9 0.9-2.2 0.9-2.2 0.8-2.3 0.9-2.2 0.5-1.4 0.3-0.8 0.8-2.2 0.8-2.2 0.3-0.8 0.5-1.4 0.9-2.2 0.8-2.3 0.1-0.1 0.8-2.1 0.8-2.2 0.6-1.3 0.3-0.9 1-2.2 0.9-2.2 0.9-2.3 0.9-2.2 0.4-0.9 0.5-1.3 0.9-2.2 0.8-2.2 0.8-2.2 0.7-2.2 0.7-2.3 0-0.1 0.6-2.1 0.5-2.2 0.5-2.2-1.6 0-2.2 0-2.2 0-2.2 0-2.2 0-2.2 0-2.3 0-2.2 0-2.2 0-2.2 0-2.2 0-2.2 0-2.3 0-2.2 0-2.2 0-2.2 0 0 2.2 0 2.2 0 2.2 0 2.3 0 2.2 0 2.2 0 2.2 0 2.2 0 2.2 0 2.2 0 2.3 0 2.2 0 2.2 0 2.2 0 2.2 0 2.2 0 2.3 0 2.2 0 2.2 0 2.2 0 2.2 0 2.2 0 2.2 0 2.3 0 2.2 0 2.2 0 2.2 0 2.2 0 2.2 0 2.2 0 2.3 0 2.2zM482.6 156.7l0.5 0.5 2.2 1 0-1.5 0-2.2 0-2.2 0-2.3 0-2.2 0-2.2 0-2.2 0-2.2 0-2.2 0-2.2 0-2.3 0-2.2 0-2.2 0-2.2 0-2.2 0-2.2 0-2.2 0-2.3 0-2.2 0-2.2 0-2.2 0-2.2 0-2.2 0-2.3 0-2.2 0-2.2 0-2.2 0-2.2 0-2.2 0-2.2 0-2.3 0-2.2 0-2.2 0-2.2-2.2 0-2.2 0-2.2 0-2.3 0-2.2 0-2.2 0-2.2 0-2.2 0-2.2 0-2.3 0-2.2 0-2.2 0-2.2 0-2.2 0-2.2 0-2.3 0-2.2 0-2.2 0-2.2 0-2.2 0-2.2 0-1.2 0 0.5 2.2 0.7 2.2 0.7 2.2 0.8 2.3 0.7 1.7 0.2 0.5 0.9 2.2 1.1 2.2 0 0.1 1.1 2.1 1.1 2.1 0.1 0.1 1.2 2.2 0.9 1.5 0.5 0.8 1.4 2.2 0.3 0.6 1.1 1.6 1.2 1.8 0.3 0.4 1.5 2.2 0.4 0.6 1.1 1.6 1.1 1.7 0.4 0.6 1.5 2.2 0.3 0.4 1.2 1.8 1 1.4 0.6 0.8 1.5 2.2 0.1 0.2 1.4 2 0.9 1.3 0.6 0.9 1.5 2.3 0.1 0 1.4 2.2 0.8 1.1 0.8 1.1 1.4 2.1 0.1 0.1 1.5 2.2 0.6 0.9 1 1.3 1.2 1.8 0.4 0.4 1.7 2.3 0.2 0.3 1.6 1.9 0.6 0.7z"/>
<path fill="#ffe100" d="M86.4 482.3l2.2 0 2.2 0 2.2 0 2.3 0 2.2 0 2.2 0 2.2 0 2.2 0 2.2 0 2.3 0 2.2 0 2.2 0 2.2 0 2.2 0 1.5 0 0.4-2.2 0.3-1.8 0.1-0.4 0.3-2.2 0.3-2.3 0.2-2.2 0.1-2.2 0.1-2.2 0-2.2 0-2.2-0.1-2.2-0.2-2.3-0.2-2.2-0.3-2.2-0.3-1.4-0.1-0.8-0.4-2.2-0.5-2.2-0.5-2.3-0.6-2.2-0.1-0.3-0.5-1.9-0.7-2.2-0.7-2.2-0.3-0.9-0.4-1.3-0.8-2.2-0.8-2.3-0.2-0.4-0.7-1.8-0.8-2.2-0.7-1.9-0.2-0.3-0.8-2.2-0.9-2.2-0.3-1-0.5-1.3-0.9-2.2-0.8-2.2-0.1-0.2-0.7-2-0.7-2.2-0.7-2.2-0.1-0.3-0.6-1.9-0.6-2.3-0.5-2.2-0.4-2.2-0.1-0.9-0.2-1.3-0.3-2.2-0.1-2.2-0.1-2.2 0-2.3 0-2.2 0.1-2.2 0.2-2.2 0.1-2.2 0.2-2.2 0.1-1.1 0.1-1.1 0.1-2.3 0.2-2.2 0.1-2.2 0.1-2.2 0.1-2.2 0.1-2.2 0-2.3 0.1-2.2 0.1-2.2 0.1-2.2 0.1-2.2 0.1-2.2 0.1-2.2 0.2-2.3 0.3-2.2 0.3-2.2 0-0.3 0.3-1.9 0.3-2.2 0.4-2.2 0.5-2.3 0.5-2.2 0.2-1 0.3-1.2 0.5-2.2 0.6-2.2 0.6-2.2 0.3-0.9 0.3-1.3 0.6-2.3 0.6-2.2 0.6-2.2 0.1-0.2 0.5-2 0.6-2.2 0.5-2.2 0.5-2.2 0.1-0.3 0.4-2 0.5-2.2 0.4-2.2 0.3-2.2 0.3-2.2 0.2-2.2 0.1-1.1 0.1-1.2 0.1-2.2 0-2.2 0-2.2-0.1-2.2-0.1-1-0.1-1.2-0.2-2.2-0.3-2.3-0.4-2.2-0.4-2.2-0.5-2.2-0.3-1.3-0.2-0.9-0.6-2.2-0.5-2.2-0.7-2.3-0.2-0.9-0.4-1.3-0.7-2.2-0.6-2.2-0.5-1.5-0.3-0.7-0.7-2.2-0.7-2.3-0.6-1.4-0.2-0.8-0.9-2.2-0.8-2.2-0.3-0.6-0.7-1.6-0.9-2.2-0.6-1.3-0.5-0.9-1-2.3-0.7-1.3-0.5-0.9-1.2-2.2-0.5-0.9-0.9-1.3-1.3-2.2-1.6-2.2-0.7-1-1-1.2-1.2-1.5-0.8-0.8-1.4-1.3-1.4-0.9-0.8-0.5 0 0.5 0 2.2 0 2.3 0 2.2 0 2.2 0 2.2 0 2.2 0 2.2 0 2.2 0 2.3 0 2.2 0 2.2 0 2.2 0 2.2 0 2.2 0 2.2 0 2.3 0 2.2 0 2.2 0 2.2 0 2.2 0 2.2 0 2.3 0 2.2 0 2.2 0 2.2 0 2.2 0 2.2 0 2.2 0 2.3 0 2.2 0 2.2 0 2.2 0 2.2 0 2.2 0 2.2 0 2.3 0 2.2 0 2.2 0 2.2 0 2.2 0 2.2 0 2.3 0 2.2 0 2.2 0 2.2 0 2.2 0 2.2 0 2.2 0 2.3 0 2.2 0 2.2 0 2.2 0 2.2 0 2.2 0 2.2 0 2.3 0 2.2 0 2.2 0 2.2 0 2.2 0 2.2 0 2.3 0 2.2 0 2.2 0 2.2 0 2.2 0 2.2 0 2.2 0 2.3 0 2.2 0 2.2 0 2.2 0 2.2 0 2.2 0 2.3 0 2.2 0 2.2 0 2.2 0 2.2 0 2.2 0 2.2 0 2.3 0 2.2 0 2.2 0 2.2 0 2.2 0 2.2 0 2.2 0 2.3 0 2.2 0 2.2 0 2.2 0 2.2 0 2.2 0 2.2 0 2.3 0 2.2 0 2.2 0 2.2 0 2.2 0 2.2 0 2.3 0 2.2 0 2.2 0 2.2 0 2.2 0 2.2 0 2.2 0 2.3 0 2.2 0 2.2 0 2.2 0 2.2 0 2.2 0 2.3 0 2.2 0 2.2 0 2.2 0 2.2 0 2.2 0 2.2 0 2.3 0 2.2 0 2.2zM280.9 482.3l0.5 0 2.2 0 2.2 0 2.3 0 2.2 0 2.2 0 2.2 0 2.2 0 2.2 0 2.3 0 2.2 0 2.2 0 2.2 0 2.2 0 2.2 0 2.3 0 2.2 0 2.2 0 2.2 0 2.2 0 2.2 0 2.3 0 2.2 0 2.2 0 2.2 0 2.2 0 2.2 0 2.3 0 2.2 0 2.2 0 2.2 0 2.2 0 0.6 0 0.3-2.2 0.2-2.2 0.1-2.2-0.1-2.3-0.1-2.2-0.3-2.2-0.4-2.2-0.3-1.1-0.2-1.1-0.7-2.2-0.8-2.2-0.5-1.3-0.4-1-1-2.2-0.8-1.4-0.4-0.8-1.3-2.2-0.5-0.8-1-1.4-1.2-1.9-0.3-0.3-1.5-2.3-0.5-0.5-1.1-1.7-1.1-1.5-0.4-0.7-1.6-2.2-0.2-0.3-1.2-1.9-1-1.5-0.5-0.7-1.4-2.2-0.3-0.6-1-1.7-1.2-2-0.2-0.2-1.2-2.2-0.9-1.5-0.4-0.7-1.1-2.2-0.7-1.3-0.5-0.9-1-2.3-0.7-1.4-0.4-0.8-0.9-2.2-0.8-2.2-0.1-0.2-0.7-2-0.7-2.2-0.6-2.2-0.2-1.2-0.3-1.1-0.4-2.2-0.3-2.2-0.2-2.2-0.1-2.2-0.1-2.2 0.1-2.2 0.1-2.3 0.2-2.2 0.4-2.2 0.4-2.2 0.2-0.7 0.3-1.5 0.6-2.2 0.7-2.2 0.6-1.6 0.2-0.7 0.9-2.2 0.9-2.2 0.2-0.4 0.8-1.8 0.9-2.2 0.5-1.2 0.4-1 0.8-2.3 0.8-2.2 0.2-0.7 0.5-1.5 0.6-2.2 0.6-2.2 0.5-2.2 0.1-0.1 0.4-2.1 0.5-2.3 0.5-2.2 0.6-2.2 0.2-0.7 0.3-1.5 0.6-2.2 0.7-2.2 0.6-1.9 0.1-0.4 0.7-2.2 0.9-2.2 0.5-1.3 0.4-0.9 1-2.2 0.8-1.7 0.3-0.5 1.1-2.2 0.8-1.5 0.5-0.8 1.3-2.2 0.5-0.7 0.9-1.5 1.3-2 0.1-0.2 1.4-2.2 0.7-1.1 0.7-1.1 1.3-2.2 0.2-0.5 0.9-1.8 1.1-2.2 0.2-0.6 0.7-1.6 0.8-2.2 0.7-2.2 0-0.3 0.5-1.9 0.5-2.3 0.4-2.2 0.2-2.2 0.2-2.2 0.1-2.2 0-2.2-0.1-2.2-0.2-2.3-0.2-2.2-0.4-2.2-0.5-2.2-0.5-2 0-0.2-0.7-2.2-0.7-2.2-0.8-2.2 0-0.1-0.9-2.2-1-2.2-0.3-0.6-0.8-1.6-1.1-2.2-0.3-0.7-0.8-1.5-1.3-2.3-0.1-0.3-1.1-1.9-1.1-1.9-0.2-0.3-1.3-2.2-0.8-1.3-0.5-0.9-1.4-2.2-0.3-0.5-1.1-1.7-1.1-1.7-0.3-0.6-1.5-2.2-0.4-0.6-1.1-1.6-1.1-1.6-0.5-0.6-1.6-2.2-0.1-0.2-1.6-2-0.7-0.9-1.1-1.3-1.1-1.4-0.8-0.9-1.4-1.5-0.7-0.7-1.5-1.5-0.9-0.7-1.3-1.1-1.6-1.1-0.6-0.4-2.3-1.2-2.2-0.6-1.1 0-1.1-0.1-0.1 0.1-2.1 0.5-2.2 1.3-0.4 0.4-1.8 1.7-0.4 0.5-1.8 2.2-0.1 0.1-1.3 2.1-0.9 1.5-0.4 0.8-1.2 2.2-0.6 1.1-0.5 1.1-1 2.2-0.7 1.4-0.4 0.8-1 2.2-0.8 1.9-0.2 0.3-1 2.3-1 2.2-1 2.2-1.1 2.2-0.2 0.3-0.9 1.9-1.2 2.2-0.1 0.2-1 2-1.2 2.2 0 0.1-1.2 2.2-1 1.9-0.1 0.3-1.1 2.2-1 2-0.1 0.2-1 2.2-0.9 2.3-0.2 0.7-0.6 1.5-0.7 2.2-0.6 2.2-0.3 1.3-0.3 0.9-0.4 2.2-0.4 2.2-0.4 2.3-0.2 2.2-0.2 2.2 0 2.2 0 2.2 0 2.2 0.2 2.2 0.3 2.3 0.3 2.2 0.4 2.2 0.6 2.2 0.1 0.3 0.5 1.9 0.7 2.2 0.8 2.3 0.2 0.4 0.7 1.8 0.9 2.2 0.6 1.2 0.5 1 1.1 2.2 0.6 1.3 0.5 0.9 1.1 2.2 0.6 1.2 0.6 1.1 1.2 2.2 0.4 0.9 0.7 1.3 1.1 2.2 0.4 1.1 0.6 1.1 1 2.2 0.7 1.8 0.2 0.4 0.8 2.3 0.7 2.2 0.5 1.5 0.2 0.7 0.6 2.2 0.5 2.2 0.4 2.2 0.3 2.3 0.2 2.2 0.2 2.2 0 2.2 0 2.2 0 2.2-0.1 2.2-0.1 0.8-0.1 1.5-0.1 2.2-0.2 2.2-0.1 2.2-0.1 2.2-0.1 2.2-0.1 2.3 0 2.2 0 2.2 0 2.2 0 2.2 0 2.2 0.1 2.2 0 2.3 0 2.2 0 2.2-0.1 2.2-0.1 2.2-0.1 2.2-0.2 2.2-0.3 2.3-0.3 2.2-0.4 2.2-0.4 2.2-0.5 2.2-0.5 2.2-0.6 2.2-0.2 0.8-0.4 1.5-0.7 2.2-0.7 2.2-0.5 1.4-0.2 0.8-0.7 2.2-0.7 2.2-0.6 1.7-0.2 0.6-0.7 2.2-0.7 2.2-0.6 2 0 0.2-0.7 2.2-0.6 2.2-0.5 2.2-0.4 1.8-0.1 0.5-0.4 2.2-0.4 2.2-0.3 2.2-0.2 2.2-0.2 2.2-0.1 2.3 0 2.2 0.1 2.2 0.2 2.2 0.3 2.2 0.3 2.2 0.4 2.2 0.4 1.8 0.1 0.5 0.5 2.2 0.5 2.2zM440.9 480.1l0.1 0.5 0.3 1.7 1.9 0 2.2 0 2.2 0 2.2 0 2.3 0 2.2 0 2.2 0 2.2 0 2.2 0 2.2 0 2.3 0 2.2 0 2.2 0 2.2 0 2.2 0 2.2 0 2.3 0 2.2 0 2.2 0 2.2 0 0-2.2 0-2.2 0-2.2 0-2.3 0-2.2 0-2.2 0-2.2 0-2.2 0-2.2 0-2.2 0-2.3 0-2.2 0-2.2 0-2.2 0-2.2 0-2.2 0-2.3 0-2.2 0-2.2 0-2.2 0-2.2 0-2.2 0-2.2 0-2.3 0-2.2 0-2.2 0-2.2 0-2.2 0-2.2 0-2.3 0-2.2 0-2.2 0-2.2 0-2.2 0-2.2 0-2.2 0-2.3 0-2.2 0-2.2 0-2.2 0-2.2 0-2.2 0-2.2 0-2.3 0-2.2 0-2.2 0-2.2 0-2.2 0-2.2 0-2.2 0-2.3 0-2.2 0-2.2 0-2.2 0-2.2 0-2.2 0-2.3 0-2.2 0-2.2 0-2.2 0-2.2 0-2.2 0-2.2 0-2.3 0-2.2 0-2.2 0-2.2 0-2.2 0-2.2 0-2.3 0-2.2 0-2.2 0-2.2 0-2.2 0-2.2 0-2.2 0-2.3 0-2.2 0-2.2 0-2.2 0-2.2 0-2.2 0-2.2 0-2.3 0-2.2 0-2.2 0-2.2 0-2.2 0-2.2 0-2.3 0-2.2 0-2.2 0-2.2 0-2.2 0-2.2 0-2.2 0-2.3 0-2.2 0-2.2 0-2.2 0-2.2 0-2.2 0-2.2 0-2.3 0-2.2 0-2.2 0-2.2 0-2.2 0-2.2 0-2.3 0-2.2 0-2.2 0-2.2 0-2.2 0-2.2 0-2.2 0-2.3 0-2.2 0-2.2 0-2.2 0-2.2 0-2.2 0-2.2 0-2.3 0-2.2 0-0.5-2.2-0.6-2.2 0.1-2.2 0.9-0.3 0.1-2 1.2-1.3 1-0.9 0.7-1.8 1.6-0.4 0.3-1.9 1.9-0.3 0.3-1.8 1.9-0.4 0.4-1.6 1.8-0.6 0.7-1.3 1.5-1 1.2-0.8 1-1.4 1.8-0.3 0.4-1.6 2.3-0.3 0.4-1.2 1.8-1 1.5-0.4 0.7-1.5 2.2-0.3 0.6-1 1.6-1.2 2.1-0.1 0.1-1.3 2.2-0.9 1.7-0.3 0.6-1.1 2.2-0.8 1.5-0.3 0.7-1 2.2-0.9 2.2-0.8 2.2-0.8 2.3-0.6 2.2-0.6 2.2-0.4 2.2-0.4 2.2-0.3 2.2-0.2 2.2-0.1 2.3 0 2.2 0.1 2.2 0.1 2.2 0.3 2.2 0.3 2.2 0.4 2.2 0.5 2.3 0.3 1 0.3 1.2 0.7 2.2 0.8 2.2 0.4 1.1 0.4 1.1 1 2.2 0.8 1.7 0.3 0.6 1.1 2.2 0.8 1.6 0.3 0.6 1.2 2.2 0.8 1.4 0.4 0.8 1.2 2.2 0.6 1.1 0.5 1.1 1.2 2.3 0.5 0.9 0.6 1.3 1.1 2.2 0.5 1 0.6 1.2 1 2.2 0.6 1.3 0.5 0.9 1 2.2 0.7 1.7 0.3 0.6 1 2.2 1 2 0 0.2 1 2.2 1 2.2 0.2 0.4 0.8 1.8 0.9 2.3 0.5 1.4 0.3 0.8 0.8 2.2 0.7 2.2 0.4 1.6 0.2 0.6 0.5 2.2 0.4 2.2 0.4 2.3 0.2 2.2 0.2 2.2 0 2.2 0.1 2.2-0.1 2.2-0.1 2.3-0.2 2.2-0.2 2.2-0.3 2.2-0.3 2.2-0.3 2.2-0.4 2.2-0.1 0.6-0.3 1.7-0.4 2.2-0.4 2.2-0.4 2.2-0.4 2.2-0.3 1.5-0.2 0.7-0.4 2.2-0.5 2.3-0.4 2.2-0.6 2.2-0.1 0.6-0.4 1.6-0.6 2.2-0.6 2.2-0.6 1.9-0.2 0.3-0.7 2.3-0.9 2.2-0.5 1.1-0.4 1.1-1.1 2.2-0.7 1.4-0.5 0.8-1.2 2.2-0.5 0.8-0.9 1.5-1.3 1.9-0.2 0.3-1.6 2.2-0.4 0.6-1.2 1.6-1 1.5-0.6 0.7-1.5 2.2-0.2 0.2-1.3 2-0.9 1.5-0.4 0.8-1.3 2.2-0.5 1-0.6 1.2-0.9 2.2-0.7 1.7-0.2 0.5-0.8 2.2-0.6 2.3-0.5 2.2-0.1 0.6-0.3 1.6-0.3 2.2-0.2 2.2-0.1 2.2 0.1 2.2 0.1 2.3 0.2 2.2zM86.4 145.6l0 1.2 2.2-0.1 2.2-0.9 0.2-0.2 2-1.6 0.6-0.6 1.7-1.9 0.1-0.3 1.5-2.2 0.6-1 0.6-1.2 1.2-2.3 0.4-0.8 0.6-1.4 1-2.2 0.6-1.4 0.3-0.8 0.9-2.2 0.9-2.2 0.1-0.4 0.7-1.8 0.9-2.3 0.6-1.6 0.3-0.6 0.8-2.2 1-2.2 0.2-0.5 0.7-1.7 0.9-2.2 0.6-1.4 0.3-0.9 1-2.2 0.9-2.2 0.9-2.2 0.9-2.2 0.4-1.1 0.4-1.1 0.8-2.2 0.7-2.3 0.3-1 0.4-1.2 0.5-2.2 0.6-2.2-1.5 0-2.2 0-2.2 0-2.2 0-2.2 0-2.3 0-2.2 0-2.2 0-2.2 0-2.2 0-2.2 0-2.3 0-2.2 0-2.2 0-2.2 0 0 2.2 0 2.2 0 2.2 0 2.3 0 2.2 0 2.2 0 2.2 0 2.2 0 2.2 0 2.2 0 2.3 0 2.2 0 2.2 0 2.2 0 2.2 0 2.2 0 2.3 0 2.2 0 2.2 0 2.2 0 2.2 0 2.2 0 2.2 0 2.3 0 2.2 0 2.2 0 2.2zM306.7 145.6l1.3 1 2.2 0.5 2.2-0.3 2.3-0.9 0.3-0.3 1.9-1.1 1.3-1.1 0.9-0.7 1.6-1.5 0.6-0.5 1.6-1.7 0.6-0.7 1.3-1.5 0.9-1.1 0.9-1.2 1.4-1.8 0.2-0.4 1.5-2.2 0.5-0.6 0.9-1.6 1.3-2.1 0.1-0.1 1.2-2.2 0.9-1.6 0.3-0.6 1.2-2.3 0.7-1.4 0.4-0.8 1.1-2.2 0.7-1.5 0.4-0.7 1.1-2.2 0.8-1.7 0.2-0.5 1.1-2.3 0.9-1.9 0.1-0.3 1-2.2 1-2.2 0.1-0.2 0.9-2 0.9-2.2 0.4-1.2 0.4-1 0.7-2.3 0.7-2.2 0.4-1.8 0.1-0.4 0.5-2.2-0.6 0-2.2 0-2.2 0-2.2 0-2.2 0-2.3 0-2.2 0-2.2 0-2.2 0-2.2 0-2.2 0-2.3 0-2.2 0-2.2 0-2.2 0-2.2 0-2.2 0-2.3 0-2.2 0-2.2 0-2.2 0-2.2 0-2.2 0-2.3 0-2.2 0-2.2 0-2.2 0-2.2 0-2.2 0-2.3 0-2.2 0-2.2 0-0.5 0 0.5 1.7 0.2 0.5 0.6 2.2 0.6 2.2 0.6 2.3 0.2 0.6 0.5 1.6 0.6 2.2 0.7 2.2 0.4 1.7 0.2 0.5 0.7 2.2 0.6 2.2 0.7 2.3 0.1 0.1 0.6 2.1 0.8 2.2 0.7 2.2 0.1 0.2 0.7 2 0.9 2.2 0.6 1.6 0.3 0.7 0.9 2.2 1 2.2 0 0.1 1 2.1 1 2.2 0.2 0.4 1 1.8 1.1 2.2 0.1 0.4 1.1 1.9 1.2 2 0.1 0.2 1.4 2.2 0.7 1.1 0.9 1.1 1.3 1.5zM481.9 145.6l1.2 0.7 2.2 0.5 0-1.2 0-2.2 0-2.2 0-2.2 0-2.2 0-2.3 0-2.2 0-2.2 0-2.2 0-2.2 0-2.2 0-2.2 0-2.3 0-2.2 0-2.2 0-2.2 0-2.2 0-2.2 0-2.3 0-2.2 0-2.2 0-2.2 0-2.2 0-2.2 0-2.2 0-2.3 0-2.2 0-2.2 0-2.2-2.2 0-2.2 0-2.2 0-2.3 0-2.2 0-2.2 0-2.2 0-2.2 0-2.2 0-2.3 0-2.2 0-2.2 0-2.2 0-2.2 0-2.2 0-2.3 0-2.2 0-2.2 0-2.2 0-1.9 0 0.5 2.2 0.6 2.2 0.7 2.2 0.1 0.2 0.7 2.1 0.9 2.2 0.6 1.4 0.4 0.8 1 2.2 0.8 1.6 0.4 0.6 1.2 2.2 0.6 1.2 0.6 1 1.4 2.3 0.3 0.4 1.1 1.8 1.1 1.7 0.3 0.5 1.4 2.2 0.5 0.7 1 1.5 1.2 1.7 0.3 0.5 1.6 2.3 0.3 0.5 1.2 1.7 1 1.4 0.6 0.8 1.6 2.2 0.1 0.1 1.6 2.1 0.6 0.9 1 1.3 1.2 1.5 0.6 0.7 1.6 2.1 0.2 0.2 1.9 2.2 0.1 0.1 2 2.1 0.2 0.2 2.2 2 0.1 0 2.2 1.7z"/>
<path fill="#ffc800" d="M86.4 482.3l2.2 0 2.2 0 2.2 0 2.3 0 2.2 0 2.2 0 2.2 0 2.2 0 2.2 0 2.3 0 2.2 0 2.2 0 2.2 0 1.3 0 0.5-2.2 0.4-2.2 0.4-2.2 0.3-2.3 0.2-2.2 0.2-2.2 0.1-2.2 0-2.2 0-2.2-0.1-2.2-0.1-2.3-0.2-2.2-0.3-2.2-0.4-2.2-0.1-0.6-0.3-1.6-0.4-2.2-0.5-2.3-0.6-2.2-0.4-1.3-0.3-0.9-0.6-2.2-0.8-2.2-0.5-1.6-0.2-0.6-0.8-2.2-0.9-2.3-0.3-0.9-0.5-1.3-0.9-2.2-0.8-2-0.1-0.2-1-2.2-0.9-2.2-0.3-0.6-0.7-1.7-1-2.2-0.5-1.2-0.4-1-1-2.2-0.8-2-0.1-0.2-0.9-2.2-0.9-2.2-0.3-1-0.5-1.3-0.8-2.2-0.6-2.2-0.3-1.2-0.3-1-0.5-2.2-0.4-2.2-0.2-2.2-0.1-2.3 0-2.2 0.1-2.2 0.1-2.2 0.3-2.2 0.3-2.2 0.3-2.2 0.4-2.1 0-0.2 0.3-2.2 0.2-2.2 0.2-2.2 0.3-2.2 0.2-2.2 0.2-2.3 0.2-2.2 0.2-2.2 0.2-2.2 0.2-1.8 0-0.4 0.3-2.2 0.2-2.2 0.3-2.3 0.4-2.2 0.4-2.2 0.4-2.2 0.2-0.9 0.3-1.3 0.5-2.2 0.5-2.3 0.6-2.2 0.3-1.1 0.3-1.1 0.6-2.2 0.6-2.2 0.7-2.2 0-0.2 0.6-2 0.7-2.3 0.6-2.2 0.4-1.1 0.3-1.1 0.6-2.2 0.6-2.2 0.5-2.2 0.2-0.7 0.3-1.5 0.5-2.3 0.5-2.2 0.4-2.2 0.3-2.2 0.2-1.5 0.1-0.7 0.2-2.2 0.2-2.3 0.1-2.2 0-2.2-0.1-2.2-0.1-2.2-0.1-2.2-0.3-2.2 0-0.1-0.3-2.2-0.4-2.2-0.4-2.2-0.4-2.2-0.5-2.2-0.2-0.7-0.4-1.5-0.6-2.2-0.6-2.3-0.6-2.2-0.7-2.2-0.7-2.2-0.7-2.2-0.2-0.3-0.6-1.9-0.8-2.3-0.8-1.9-0.1-0.3-0.9-2.2-1-2.2-0.2-0.5-0.8-1.7-1.2-2.2-0.2-0.5-1-1.7-1.2-2.2-0.1-0.1-1.5-2.2-0.6-1-1-1.2-1.3-1.6-0.5-0.6-1.7-1.8-0.5-0.4-1.7-1.4-1.4-0.8-0.8-0.5 0 0.5 0 2.2 0 2.2 0 2.2 0 2.2 0 2.2 0 2.3 0 2.2 0 2.2 0 2.2 0 2.2 0 2.2 0 2.2 0 2.3 0 2.2 0 2.2 0 2.2 0 2.2 0 2.2 0 2.3 0 2.2 0 2.2 0 2.2 0 2.2 0 2.2 0 2.2 0 2.3 0 2.2 0 2.2 0 2.2 0 2.2 0 2.2 0 2.2 0 2.3 0 2.2 0 2.2 0 2.2 0 2.2 0 2.2 0 2.3 0 2.2 0 2.2 0 2.2 0 2.2 0 2.2 0 2.2 0 2.3 0 2.2 0 2.2 0 2.2 0 2.2 0 2.2 0 2.2 0 2.3 0 2.2 0 2.2 0 2.2 0 2.2 0 2.2 0 2.3 0 2.2 0 2.2 0 2.2 0 2.2 0 2.2 0 2.2 0 2.3 0 2.2 0 2.2 0 2.2 0 2.2 0 2.2 0 2.3 0 2.2 0 2.2 0 2.2 0 2.2 0 2.2 0 2.2 0 2.3 0 2.2 0 2.2 0 2.2 0 2.2 0 2.2 0 2.2 0 2.3 0 2.2 0 2.2 0 2.2 0 2.2 0 2.2 0 2.2 0 2.3 0 2.2 0 2.2 0 2.2 0 2.2 0 2.2 0 2.3 0 2.2 0 2.2 0 2.2 0 2.2 0 2.2 0 2.2 0 2.3 0 2.2 0 2.2 0 2.2 0 2.2 0 2.2 0 2.3 0 2.2 0 2.2 0 2.2 0 2.2 0 2.2 0 2.2 0 2.3 0 2.2 0 2.2zM282.9 482.3l0.7 0 2.2 0 2.3 0 2.2 0 2.2 0 2.2 0 2.2 0 2.2 0 2.3 0 2.2 0 2.2 0 2.2 0 2.2 0 2.2 0 2.3 0 2.2 0 2.2 0 2.2 0 2.2 0 2.2 0 2.3 0 2.2 0 2.2 0 2.2 0 2.2 0 2.2 0 2.3 0 2.2 0 2.2 0 1.3 0 0.3-2.2 0.2-2.2 0.1-2.2 0-2.3-0.1-2.2-0.2-2.2-0.4-2.2-0.5-2.2-0.6-2.2-0.1-0.2-0.7-2-0.9-2.3-0.6-1.3-0.4-0.9-1.1-2.2-0.7-1.2-0.6-1-1.3-2.2-0.4-0.6-1-1.6-1.2-1.9-0.2-0.4-1.4-2.2-0.6-0.8-0.8-1.4-1.4-2.1-0.1-0.1-1.3-2.2-0.8-1.2-0.6-1-1.4-2.2-0.2-0.5-1.1-1.8-1.2-1.9-0.1-0.3-1.3-2.2-0.8-1.3-0.5-0.9-1.2-2.2-0.5-0.9-0.7-1.3-1.2-2.3-0.3-0.7-0.8-1.5-1-2.2-0.4-1-0.5-1.2-0.9-2.2-0.8-2.2 0-0.2-0.7-2-0.7-2.3-0.5-2.2-0.4-2 0-0.2-0.4-2.2-0.3-2.2-0.2-2.2-0.1-2.2-0.1-2.3 0-2.2 0.2-2.2 0.1-2.2 0.3-2.2 0.4-2.2 0.1-0.7 0.3-1.5 0.6-2.3 0.7-2.2 0.7-1.8 0.1-0.4 0.9-2.2 1-2.2 0.2-0.4 0.8-1.8 1.1-2.3 0.3-0.5 0.7-1.7 1-2.2 0.5-1 0.4-1.2 0.9-2.2 0.8-2.2 0.1-0.3 0.6-1.9 0.7-2.3 0.7-2.2 0.2-0.6 0.5-1.6 0.7-2.2 0.7-2.2 0.4-1 0.3-1.2 0.8-2.3 0.8-2.2 0.3-0.6 0.6-1.6 0.9-2.2 0.7-1.6 0.2-0.6 1.1-2.2 0.9-1.9 0.2-0.3 1.1-2.3 0.9-1.5 0.4-0.7 1.3-2.2 0.5-1 0.8-1.2 1.3-2.2 0.2-0.2 1.1-2 1.1-1.8 0.2-0.4 1.2-2.3 0.8-1.5 0.3-0.7 1-2.2 0.9-2.2 0-0.1 0.7-2.1 0.7-2.2 0.5-2.3 0.3-1.9 0.1-0.3 0.3-2.2 0.2-2.2 0.1-2.2 0-2.2-0.1-2.2-0.2-2.3-0.3-2.2-0.1-0.4-0.3-1.8-0.5-2.2-0.6-2.2-0.6-2.2-0.2-0.5-0.6-1.7-0.8-2.3-0.8-1.9-0.1-0.3-1-2.2-1.1-2.2 0-0.1-1.1-2.1-1.1-2.2 0-0.1-1.1-2.2-1.2-2-0.1-0.2-1.2-2.2-0.9-1.5-0.4-0.7-1.3-2.2-0.5-0.9-0.8-1.3-1.4-2.2 0-0.1-1.4-2.2-0.8-1.1-0.8-1.1-1.4-2.1-0.1-0.1-1.7-2.2-0.5-0.6-1.4-1.6-0.8-1-1.2-1.2-1-1.1-1.3-1.1-0.9-0.9-2-1.4-0.2-0.2-2.2-1.2-2.3-0.7-0.2-0.1-2-0.3-2.2 0.3-0.2 0-2 0.7-2.2 1.4-0.1 0.1-2.1 2-0.3 0.3-1.8 2.2-0.2 0.2-1.3 2-0.9 1.4-0.4 0.8-1.3 2.2-0.5 0.9-0.6 1.3-1.2 2.2-0.4 0.9-0.6 1.4-1.1 2.2-0.5 1-0.6 1.2-1.1 2.2-0.5 1.1-0.6 1.1-1.1 2.2-0.6 1-0.6 1.2-1.2 2.3-0.4 0.6-0.8 1.6-1.2 2.2-0.2 0.3-1 1.9-1.1 2.2-0.1 0.3-0.9 1.9-1 2.3-0.3 0.8-0.6 1.4-0.7 2.2-0.7 2.2-0.2 0.7-0.4 1.5-0.5 2.2-0.5 2.2-0.3 2.3-0.3 2.2-0.1 2.2-0.1 2.2 0 2.2 0.1 2.2 0.1 2.2 0.3 2.3 0.4 2.2 0.4 2.2 0.6 2.2 0.3 1.1 0.3 1.1 0.7 2.2 0.9 2.3 0.3 0.8 0.6 1.4 1 2.2 0.6 1.3 0.4 0.9 1.2 2.2 0.6 1.2 0.6 1 1.2 2.2 0.4 0.9 0.8 1.4 1.2 2.2 0.2 0.5 1 1.7 1.1 2.2 0.2 0.3 0.9 1.9 1.1 2.2 0.2 0.5 0.8 1.7 0.9 2.3 0.5 1.2 0.4 1 0.8 2.2 0.7 2.2 0.3 1 0.4 1.2 0.6 2.2 0.5 2.3 0.5 2.2 0.2 2 0.1 0.2 0.2 2.2 0.2 2.2 0.1 2.2-0.1 2.2-0.1 2.3-0.1 2.2-0.3 2.1 0 0.1-0.2 2.2-0.2 2.2-0.2 2.2-0.2 2.3-0.1 2.2-0.2 2.2-0.1 2.2-0.1 2.2-0.1 2.2-0.1 2.2-0.1 2.3-0.1 2.2-0.2 2.2-0.2 2.2-0.1 1.1-0.1 1.1-0.2 2.2-0.3 2.2-0.4 2.3-0.4 2.2-0.5 2.2-0.3 1.2-0.2 1-0.6 2.2-0.6 2.2-0.6 2.2-0.2 0.6-0.5 1.7-0.7 2.2-0.8 2.2-0.2 0.7-0.5 1.5-0.8 2.2-0.8 2.2-0.2 0.6-0.5 1.7-0.7 2.2-0.8 2.2-0.2 0.7-0.4 1.5-0.7 2.2-0.6 2.2-0.5 2.2-0.5 2.3-0.4 2.2-0.4 2.2-0.2 2.2-0.3 2.2-0.1 2.2 0 2.3 0 2.2 0.1 2.2 0.2 2.2 0.3 2.2 0.3 2.2 0.4 2.2 0.5 2.3 0.1 0.6 0.4 1.6 0.5 2.2zM445 482.3l0.4 0 2.2 0 2.2 0 2.3 0 2.2 0 2.2 0 2.2 0 2.2 0 2.2 0 2.3 0 2.2 0 2.2 0 2.2 0 2.2 0 2.2 0 2.3 0 2.2 0 2.2 0 2.2 0 0-2.2 0-2.2 0-2.2 0-2.3 0-2.2 0-2.2 0-2.2 0-2.2 0-2.2 0-2.2 0-2.3 0-2.2 0-2.2 0-2.2 0-2.2 0-2.2 0-2.3 0-2.2 0-2.2 0-2.2 0-2.2 0-2.2 0-2.2 0-2.3 0-2.2 0-2.2 0-2.2 0-2.2 0-2.2 0-2.3 0-2.2 0-2.2 0-2.2 0-2.2 0-2.2 0-2.2 0-2.3 0-2.2 0-2.2 0-2.2 0-2.2 0-2.2 0-2.2 0-2.3 0-2.2 0-2.2 0-2.2 0-2.2 0-2.2 0-2.2 0-2.3 0-2.2 0-2.2 0-2.2 0-2.2 0-2.2 0-2.3 0-2.2 0-2.2 0-2.2 0-2.2 0-2.2 0-2.2 0-2.3 0-2.2 0-2.2 0-2.2 0-2.2 0-2.2 0-2.3 0-2.2 0-2.2 0-2.2 0-2.2 0-2.2 0-2.2 0-2.3 0-2.2 0-2.2 0-2.2 0-2.2 0-2.2 0-2.2 0-2.3 0-2.2 0-2.2 0-2.2 0-2.2 0-2.2 0-2.3 0-2.2 0-2.2 0-2.2 0-2.2 0-2.2 0-2.2 0-2.3 0-2.2 0-2.2 0-2.2 0-2.2 0-2.2 0-2.2 0-2.3 0-2.2 0-2.2 0-2.2 0-2.2 0-2.2 0-2.3 0-2.2 0-2.2 0-2.2 0-2.2 0-2.2 0-2.2 0-2.3 0-2.2 0-2.2 0-2.2 0-2.2 0-2.2 0-0.5-2.2-0.7-2.2-0.1-2.2 0.5-1.8 0.8-0.5 0.2-2.2 1.3-0.9 0.7-1.3 0.9-1.4 1.3-0.8 0.7-1.6 1.5-0.6 0.7-1.4 1.5-0.8 0.9-1.1 1.3-1.2 1.5-0.6 0.8-1.6 2.2-1.5 2.2-0.7 1.1-0.7 1.1-1.3 2.2-0.2 0.3-1.1 1.9-1.1 2-0.1 0.2-1.2 2.3-0.9 1.8-0.2 0.4-1.1 2.2-0.9 2.2-0.1 0.1-0.8 2.1-0.8 2.2-0.6 1.8-0.1 0.5-0.6 2.2-0.6 2.2-0.4 2.2-0.4 2.2-0.1 1.2-0.1 1-0.2 2.2-0.1 2.3 0.1 2.2 0.1 2.2 0.1 2.2 0.1 0.5 0.2 1.7 0.4 2.2 0.4 2.2 0.5 2.3 0.6 2.2 0.1 0.2 0.6 2 0.8 2.2 0.8 2.1 0.1 0.1 0.9 2.2 1 2.3 0.3 0.5 0.7 1.7 1 2.2 0.5 0.9 0.6 1.3 1.1 2.2 0.5 1.1 0.5 1.1 1.1 2.2 0.6 1.2 0.5 1.1 1 2.2 0.7 1.4 0.4 0.8 1.1 2.2 0.7 1.5 0.4 0.7 1.1 2.2 0.8 1.6 0.3 0.6 1.1 2.3 0.8 1.4 0.4 0.8 1.1 2.2 0.7 1.3 0.5 0.9 1.2 2.2 0.5 1.1 0.6 1.1 1.1 2.3 0.5 1.2 0.5 1 0.9 2.2 0.8 2.2 0.8 2.2 0.6 2.2 0.6 2.2 0.3 1.6 0.1 0.7 0.4 2.2 0.3 2.2 0.2 2.2 0.1 2.2 0.1 2.2-0.1 2.3-0.1 2.2-0.1 2.2-0.3 2.2-0.4 2.2-0.2 1.3-0.2 0.9-0.5 2.2-0.5 2.3-0.6 2.2-0.5 1.4-0.2 0.8-0.6 2.2-0.6 2.2-0.7 2.2-0.1 0.3-0.5 1.9-0.7 2.3-0.6 2.2-0.4 1.2-0.3 1-0.6 2.2-0.7 2.2-0.6 1.9-0.1 0.3-0.8 2.2-0.8 2.3-0.5 1.5-0.3 0.7-0.9 2.2-1 2.2 0 0.1-1.1 2.1-1.1 2.2-0.1 0.1-1.2 2.2-1 1.6-0.4 0.6-1.4 2.2-0.4 0.5-1.1 1.7-1.1 1.5-0.5 0.7-1.5 2.2-0.2 0.3-1.3 1.9-0.9 1.5-0.5 0.8-1.3 2.2-0.5 0.8-0.7 1.4-1 2.2-0.5 1.1-0.5 1.1-0.7 2.2-0.7 2.3-0.3 1-0.3 1.2-0.4 2.2-0.4 2.2-0.2 2.2-0.1 2.2 0 2.2 0.1 2.3 0.2 2.2 0.3 2.2zM86.4 139l0.2 0 2-0.3 2.2-0.9 1.4-1 0.8-0.7 1.4-1.6 0.9-0.9 0.8-1.3 1.4-2.1 0-0.1 1.2-2.2 1-1.9 0.1-0.3 1-2.2 1-2.2 0.1-0.3 0.8-2 0.9-2.2 0.5-1.1 0.5-1.1 0.9-2.2 0.8-2.1 0.1-0.1 0.9-2.2 1-2.3 0.3-0.6 0.6-1.6 1-2.2 0.6-1.4 0.3-0.8 0.9-2.2 0.9-2.2 0.1-0.2 0.8-2 0.7-2.3 0.7-2 0.1-0.2 0.6-2.2 0.6-2.2-1.3 0-2.2 0-2.2 0-2.2 0-2.3 0-2.2 0-2.2 0-2.2 0-2.2 0-2.2 0-2.3 0-2.2 0-2.2 0-2.2 0 0 2.2 0 2.2 0 2.2 0 2.3 0 2.2 0 2.2 0 2.2 0 2.2 0 2.2 0 2.2 0 2.3 0 2.2 0 2.2 0 2.2 0 2.2 0 2.2 0 2.3 0 2.2 0 2.2 0 2.2 0 2.2 0 2.2 0 2.2 0 2.3zM311.6 139l0.8 0 0.4 0 1.9-0.3 2.2-1 1.6-0.9 0.6-0.4 2.2-1.8 0.1-0.1 2.1-2 0.2-0.2 1.9-2.2 0.1-0.2 1.6-2 0.7-0.9 0.8-1.3 1.4-2.1 0-0.1 1.3-2.2 0.9-1.6 0.3-0.7 1.2-2.2 0.7-1.4 0.4-0.8 1.1-2.2 0.7-1.6 0.3-0.6 1.1-2.2 0.8-2 0.2-0.3 0.9-2.2 1-2.2 0.2-0.4 0.7-1.8 0.9-2.2 0.6-1.4 0.3-0.8 0.8-2.2 0.7-2.3 0.4-1.3 0.2-0.9 0.6-2.2 0.5-2.2-1.3 0-2.2 0-2.2 0-2.3 0-2.2 0-2.2 0-2.2 0-2.2 0-2.2 0-2.3 0-2.2 0-2.2 0-2.2 0-2.2 0-2.2 0-2.3 0-2.2 0-2.2 0-2.2 0-2.2 0-2.2 0-2.3 0-2.2 0-2.2 0-2.2 0-2.2 0-2.2 0-2.3 0-2.2 0-0.7 0 0.5 2.2 0.2 0.7 0.4 1.5 0.7 2.2 0.6 2.3 0.5 1.9 0.1 0.3 0.7 2.2 0.6 2.2 0.7 2.2 0.2 0.6 0.5 1.6 0.7 2.2 0.8 2.3 0.2 0.6 0.5 1.6 0.9 2.2 0.8 2.1 0 0.1 1 2.2 1 2.2 0.2 0.6 0.8 1.7 1.2 2.2 0.2 0.5 1 1.7 1.2 2.1 0.1 0.1 1.4 2.2 0.8 1.1 0.8 1.1 1.4 1.8 0.4 0.4 1.8 1.9 0.5 0.4 1.7 1.2 2.2 0.9zM485.1 139l0.2 0 0-2.2 0-2.3 0-2.2 0-2.2 0-2.2 0-2.2 0-2.2 0-2.2 0-2.3 0-2.2 0-2.2 0-2.2 0-2.2 0-2.2 0-2.3 0-2.2 0-2.2 0-2.2 0-2.2 0-2.2 0-2.2 0-2.3 0-2.2 0-2.2 0-2.2-2.2 0-2.2 0-2.2 0-2.3 0-2.2 0-2.2 0-2.2 0-2.2 0-2.2 0-2.3 0-2.2 0-2.2 0-2.2 0-2.2 0-2.2 0-2.3 0-2.2 0-2.2 0-0.4 0 0.4 1.7 0.1 0.5 0.6 2.2 0.7 2.2 0.8 2.3 0.9 2.2 1 2.2 0.3 0.8 0.7 1.4 1.2 2.2 0.4 0.8 0.8 1.4 1.2 2.2 0.2 0.3 1.1 2 1.1 1.7 0.3 0.5 1.4 2.2 0.5 0.7 1 1.5 1.2 1.9 0.3 0.3 1.5 2.2 0.4 0.6 1.2 1.7 1.1 1.4 0.5 0.8 1.7 2.1 0 0.1 1.9 2.2 0.3 0.4 1.6 1.8 0.6 0.7 1.5 1.5 0.7 0.8 1.7 1.4 0.5 0.5 2.3 1.6 0.2 0.2 2 1.1 2.2 0.8z"/>
<path fill="#ffb200" d="M86.4 482.3l2.2 0 2.2 0 2.2 0 2.3 0 2.2 0 2.2 0 2.2 0 2.2 0 2.2 0 2.3 0 2.2 0 2.2 0 1.1 0 0.5-2.2 0.5-2.2 0.1-0.4 0.4-1.8 0.3-2.3 0.3-2.2 0.2-2.2 0.1-2.2 0.1-2.2 0-2.2-0.1-2.2-0.1-2.3-0.2-2.2-0.3-2.2-0.3-2.2-0.4-2.1 0-0.1-0.5-2.2-0.5-2.3-0.6-2.2-0.6-2.2-0.7-2.2-0.7-2.2-0.8-2.2-0.9-2.2-0.9-2.3-0.4-1.1-0.5-1.1-1-2.2-0.8-1.7-0.2-0.5-1.1-2.2-0.9-1.9-0.1-0.3-1.2-2.3-0.9-1.7-0.3-0.5-1.2-2.2-0.7-1.3-0.6-0.9-1.3-2.2-0.3-0.6-1.1-1.6-1.1-1.8-0.4-0.4-1.6-2.3-0.3-0.4-1.6-1.8-0.6-0.7-2.1-1.5-0.1-0.1-2.2-0.3 0 0.4 0 2.2 0 2.2 0 2.3 0 2.2 0 2.2 0 2.2 0 2.2 0 2.2 0 2.2 0 2.3 0 2.2 0 2.2 0 2.2 0 2.2 0 2.2 0 2.3 0 2.2 0 2.2 0 2.2 0 2.2 0 2.2 0 2.2 0 2.3 0 2.2 0 2.2 0 2.2 0 2.2 0 2.2 0 2.3 0 2.2 0 2.2 0 2.2 0 2.2 0 2.2 0 2.2 0 2.3 0 2.2 0 2.2zM284.7 482.3l1.1 0 2.3 0 2.2 0 2.2 0 2.2 0 2.2 0 2.2 0 2.3 0 2.2 0 2.2 0 2.2 0 2.2 0 2.2 0 2.3 0 2.2 0 2.2 0 2.2 0 2.2 0 2.2 0 2.3 0 2.2 0 2.2 0 2.2 0 2.2 0 2.2 0 2.3 0 2.1 0 0.1-0.1 0.3-2.1 0.3-2.2 0.1-2.2 0.1-2.3-0.1-2.2-0.3-2.2-0.3-2.2-0.1-0.6-0.4-1.6-0.5-2.2-0.8-2.2-0.5-1.5-0.3-0.8-1-2.2-1-2 0-0.2-1.2-2.2-1-1.8-0.2-0.4-1.3-2.2-0.7-1.3-0.6-1-1.3-2.2-0.3-0.5-1-1.7-1.2-1.9-0.2-0.3-1.3-2.2-0.7-1.2-0.7-1-1.3-2.2-0.3-0.4-1.1-1.9-1.1-1.8-0.2-0.4-1.4-2.2-0.6-1-0.7-1.2-1.3-2.2-0.2-0.3-1.1-1.9-1.1-2-0.2-0.3-1.2-2.2-0.8-1.5-0.4-0.7-1.2-2.2-0.7-1.5-0.3-0.7-1.1-2.2-0.8-1.9-0.1-0.3-1.1-2.3-0.8-2.2-0.2-0.5-0.9-1.7-0.9-2.2-0.4-1.2-0.9-1-1.3-1.8-2.2 1.4-0.2 0.4-0.8 2.2-0.9 2.2-0.4 0.7-0.4 1.5-0.6 2.2-0.8 2.3-0.4 1.1-0.3 1.1-0.6 2.2-0.8 2.2-0.5 1.4-0.2 0.8-0.8 2.2-0.8 2.2-0.4 1.1-0.4 1.2-0.8 2.2-0.8 2.2-0.2 0.5-0.6 1.7-0.9 2.2-0.7 2-0.1 0.2-0.8 2.3-0.8 2.2-0.6 1.7-0.1 0.5-0.7 2.2-0.6 2.2-0.7 2.2-0.1 0.5-0.4 1.7-0.5 2.3-0.4 2.2-0.3 2.2-0.3 2.2-0.2 2.2-0.1 1.5 0 0.7-0.1 2.3 0.1 2.2 0 0.5 0.1 1.7 0.2 2.2 0.3 2.2 0.3 2.2 0.4 2.2 0.4 2.3 0.5 2.2 0.5 2.2zM448.7 482.3l1.1 0 2.3 0 2.2 0 2.2 0 2.2 0 2.2 0 2.2 0 2.3 0 2.2 0 2.2 0 2.2 0 2.2 0 2.2 0 2.3 0 2.2 0 2.2 0 2.2 0 0-2.2 0-2.2 0-2.2 0-2.3 0-2.2 0-2.2 0-2.2 0-2.2 0-2.2 0-2.2 0-2.3 0-2.2 0-2.2 0-2.2 0-2.2 0-2.2 0-2.3 0-2.2 0-2.2 0-2.2 0-2.2 0-2.2 0-2.2 0-2.3 0-2.2 0-2.2 0-2.2 0-2.2 0-2.2 0-2.3 0-2.2 0-2.2 0-2.2 0-2.2 0-2.2 0-2.2 0-2.3 0-2.2 0-2.2 0-0.4-0.8 0.4-1.4 0.7-1.4 1.5-0.8 0.9-0.8 1.3-1.4 2.3-0.1 0-1 2.2-1.1 2.2-0.1 0-0.9 2.2-0.9 2.2-0.4 0.8-0.5 1.4-0.9 2.2-0.8 2-0.1 0.3-0.9 2.2-1 2.2-0.2 0.6-0.7 1.6-1.1 2.2-0.4 0.9-0.7 1.3-1.2 2.3-0.3 0.6-0.9 1.6-1.4 2.2-1.4 2.2-0.8 1.2-0.7 1-1.4 2.2-0.1 0.1-1.4 2.1-0.8 1.3-0.7 1-1.3 2.2-0.2 0.4-1 1.8-1.1 2.2-0.1 0.2-0.9 2-0.9 2.2-0.5 1.5-0.2 0.8-0.6 2.2-0.5 2.2-0.4 2.2-0.2 2.2-0.2 2.2 0 2.2 0.1 2.3 0.2 2.2 0.3 2.2zM88.1 353.8l0.5 0.7 2.2-0.2 0.3-0.5 1.5-2.2 0.4-0.6 0.6-1.6 0.7-2.2 0.8-2.2 0.2-0.4 0.5-1.8 0.6-2.3 0.7-2.2 0.4-1.2 0.2-1 0.7-2.2 0.7-2.2 0.6-1.9 0.1-0.3 0.7-2.3 0.7-2.2 0.7-2 0.1-0.2 0.7-2.2 0.7-2.2 0.7-2.1 0.1-0.1 0.7-2.2 0.7-2.3 0.7-2.2 0-0.2 0.6-2 0.7-2.2 0.6-2.2 0.4-1.3 0.2-0.9 0.5-2.2 0.5-2.3 0.5-2.2 0.4-2.2 0.1-0.6 0.2-1.6 0.3-2.2 0.2-2.2 0.2-2.3 0.1-2.2 0-2.2 0-2.2-0.2-2.2-0.1-2.2-0.3-2.2-0.3-2.3-0.1-0.8-0.2-1.4-0.5-2.2-0.4-2.2-0.5-2.2-0.6-2.2 0-0.3-0.5-1.9-0.7-2.3-0.6-2.2-0.5-1.4-0.2-0.8-0.8-2.2-0.7-2.2-0.5-1.2-0.4-1-0.9-2.3-0.9-2.1 0-0.1-1.1-2.2-1.1-2.2 0-0.1-1.2-2.1-1-1.7-0.3-0.5-1.6-2.2-0.3-0.6-1.4-1.7-0.9-1-1.1-1.2-1.1-1-1.5-1.2-0.7-0.6-2.2-1.2 0 1.8 0 2.2 0 2.2 0 2.3 0 2.2 0 2.2 0 2.2 0 2.2 0 2.2 0 2.2 0 2.3 0 2.2 0 2.2 0 2.2 0 2.2 0 2.2 0 2.3 0 2.2 0 2.2 0 2.2 0 2.2 0 2.2 0 2.2 0 2.3 0 2.2 0 2.2 0 2.2 0 2.2 0 2.2 0 2.2 0 2.3 0 2.2 0 2.2 0 2.2 0 2.2 0 2.2 0 2.3 0 2.2 0 2.2 0 2.2 0 2.2 0 2.2 0 2.2 0 2.3 0 2.2 0 2.2 0 2.2 0 2.2 0 2.2 0 2.2 0 2.3 0 2.2 0 2.2 0 2.2 0 2.2 0 2.2 0 2.3 0 2.2 0 2.2 0 2.2 0 2.2 0 0.6zM485 351.6l0.3 0.6 0-0.6 0-2.2 0-2.2 0-2.2 0-2.2 0-2.3 0-2.2 0-2.2 0-2.2 0-2.2 0-2.2 0-2.3 0-2.2 0-2.2 0-2.2 0-2.2 0-2.2 0-2.2 0-2.3 0-2.2 0-2.2 0-2.2 0-2.2 0-2.2 0-2.2 0-2.3 0-2.2 0-2.2 0-2.2 0-2.2 0-2.2 0-2.3 0-2.2 0-2.2 0-2.2 0-2.2 0-2.2 0-2.2 0-2.3 0-2.2 0-2.2 0-2.2 0-2.2 0-2.2 0-2.2 0-2.3 0-2.2 0-2.2 0-2.2 0-2.2 0-2.2 0-2.3 0-2.2 0-2.2 0-2.2 0-2.2 0-2.2 0-2.2 0-2.3 0-2.2 0-2.2 0-1.8-1.4-0.4-0.8-0.3-2.2-0.2-2.2 0.4-0.5 0.1-1.8 0.6-2.2 1.2-0.6 0.4-1.6 1.1-1.4 1.1-0.8 0.7-1.5 1.5-0.7 0.7-1.4 1.6-0.8 1-1 1.2-1.3 1.7-0.3 0.5-1.5 2.2-0.4 0.6-1 1.6-1.2 2.1-0.1 0.1-1.2 2.2-0.9 1.9-0.2 0.4-1.1 2.2-0.9 2.1-0.1 0.1-0.9 2.2-0.8 2.2-0.4 1.2-0.4 1-0.7 2.3-0.6 2.2-0.5 2.2-0.1 0.2-0.3 2-0.4 2.2-0.2 2.2-0.2 2.2-0.1 2.3 0.1 2.2 0.1 2.2 0.1 2.2 0.3 2.2 0.4 2.2 0.2 1.3 0.2 0.9 0.5 2.3 0.6 2.2 0.7 2.2 0.3 0.7 0.5 1.5 0.8 2.2 0.8 2.2 0.1 0.1 0.8 2.2 1 2.2 0.4 0.9 0.5 1.3 1 2.2 0.7 1.5 0.3 0.7 1 2.2 0.9 1.9 0.2 0.3 1 2.3 1 2.1 0.1 0.1 1.1 2.2 1.1 2.1 0 0.1 1.2 2.2 1 1.8 0.2 0.4 1.3 2.2 0.7 1.2 0.7 1.1 1.3 2.2 0.2 0.3 1.3 1.9 0.9 1.5 0.6 0.7 1.5 2.2 0.1 0.3 1.4 1.9 0.9 1.4 0.6 0.9 1.4 2.2 0.2 0.3 1.2 1.9 1 1.7 0.4 0.5zM306.3 349.4l1.7 1.3 2.2 0 2.2-1.2 0.1-0.1 2.2-1.9 0.2-0.3 1.8-2.2 0.2-0.3 1.2-1.9 1-1.6 0.3-0.7 1.2-2.2 0.7-1.4 0.3-0.8 1-2.2 0.9-2.1 0.1-0.1 0.9-2.2 0.9-2.3 0.3-0.7 0.6-1.5 1-2.2 0.7-1.5 0.3-0.7 1-2.2 0.9-1.9 0.1-0.3 1.1-2.2 1-2 0.1-0.3 1.2-2.2 0.9-1.6 0.3-0.6 1.3-2.2 0.6-1.2 0.6-1 1.3-2.2 0.3-0.6 0.9-1.6 1.2-2.3 0.2-0.2 0.9-2 1.1-2.2 0.2-0.5 0.7-1.7 0.8-2.2 0.6-2.2 0.1-0.2 0.5-2.1 0.4-2.2 0.4-2.2 0.2-2.2 0.1-2.2 0-2.2-0.1-2.2-0.2-2.3-0.4-2.2-0.4-2.2-0.5-2.2 0-0.2-0.6-2-0.6-2.2-0.8-2.2-0.2-0.6-0.6-1.7-0.9-2.2-0.7-1.6-0.3-0.6-1-2.2-1-2.1 0-0.1-1.1-2.2-1.1-2.2 0-0.1-1.1-2.2-1.1-1.9-0.1-0.3-1.3-2.2-0.8-1.4-0.5-0.8-1.3-2.2-0.4-0.7-1-1.5-1.2-1.8-0.4-0.5-1.6-2.2-0.3-0.3-1.5-1.9-0.7-0.8-1.3-1.4-0.9-0.9-1.5-1.3-0.7-0.6-2.2-1.5-0.3-0.1-1.9-1-2.3-0.6-2.2-0.1-2.2 0.3-2.2 1-0.6 0.4-1.6 1-1.2 1.2-1 1-1 1.2-1.3 1.5-0.4 0.7-1.5 2.2-0.3 0.5-1 1.7-1.2 2.2 0 0.1-1.2 2.2-1 1.9-0.1 0.3-1.2 2.2-0.9 1.9-0.2 0.3-1.1 2.2-0.9 1.8-0.3 0.4-1.2 2.3-0.8 1.4-0.4 0.8-1.2 2.2-0.6 1-0.6 1.2-1.2 2.2-0.4 0.8-0.7 1.4-1 2.3-0.5 1-0.5 1.2-0.8 2.2-0.8 2.2-0.1 0.4-0.6 1.8-0.5 2.2-0.5 2.2-0.4 2.3-0.2 2.1 0 0.1-0.2 2.2-0.1 2.2 0 2.2 0.1 2.2 0.1 2.2 0.1 0.3 0.2 2 0.4 2.2 0.5 2.2 0.5 2.2 0.6 1.8 0.1 0.4 0.8 2.2 0.8 2.3 0.5 1 0.5 1.2 1.1 2.2 0.6 1.3 0.5 0.9 1.2 2.2 0.5 1.1 0.7 1.1 1.3 2.2 0.2 0.6 1.1 1.7 1.2 2.1 0 0.1 1.3 2.2 0.9 1.6 0.4 0.6 1.2 2.2 0.6 1.2 0.6 1 1.2 2.2 0.4 0.9 0.8 1.4 1.1 2.2 0.3 0.7 0.8 1.5 1.1 2.2 0.3 0.8 0.8 1.4 1.1 2.2 0.4 1 0.7 1.3 1.1 2.2 0.4 0.7 1 1.5 1.2 1.8zM86.4 132.3l0 0.3 1.4-0.3 0.8-0.1 2.2-1.2 1.2-0.9 1-0.9 1.1-1.3 1.2-1.4 0.5-0.8 1.4-2.2 0.3-0.5 0.9-1.7 1.1-2.3 0.2-0.3 0.8-1.9 1-2.2 0.4-0.8 0.6-1.4 1-2.2 0.6-1.5 0.3-0.7 1-2.3 0.9-2.2 1-2.2 1-2.2 0.3-0.6 0.6-1.6 1-2.2 0.6-1.5 0.3-0.7 0.8-2.3 0.8-2.2 0.3-0.9 0.4-1.3 0.7-2.2-1.1 0-2.2 0-2.2 0-2.3 0-2.2 0-2.2 0-2.2 0-2.2 0-2.2 0-2.3 0-2.2 0-2.2 0-2.2 0 0 2.2 0 2.2 0 2.2 0 2.3 0 2.2 0 2.2 0 2.2 0 2.2 0 2.2 0 2.2 0 2.3 0 2.2 0 2.2 0 2.2 0 2.2 0 2.2 0 2.3 0 2.2 0 2.2 0 2.2 0 2.2zM310.2 132.3l0 0.1 2.2 0.3 2.3-0.1 0.7-0.3 1.5-0.4 2.2-1.2 0.8-0.6 1.4-1 1.2-1.2 1-1 1.1-1.2 1.1-1.4 0.7-0.8 1.5-2.2 0.1-0.1 1.3-2.2 0.9-1.4 0.4-0.8 1.2-2.2 0.6-1.2 0.5-1 1-2.2 0.7-1.5 0.3-0.7 1-2.3 0.9-2.1 0.1-0.1 0.9-2.2 0.9-2.2 0.3-1 0.5-1.2 0.8-2.2 0.8-2.2 0.2-0.5 0.5-1.8 0.6-2.2 0.6-2.2 0.4-2.2-2.1 0-2.3 0-2.2 0-2.2 0-2.2 0-2.2 0-2.2 0-2.3 0-2.2 0-2.2 0-2.2 0-2.2 0-2.2 0-2.3 0-2.2 0-2.2 0-2.2 0-2.2 0-2.2 0-2.3 0-2.2 0-2.2 0-2.2 0-2.2 0-2.2 0-2.3 0-1.1 0 0.6 2.2 0.5 2.2 0.1 0 0.6 2.2 0.6 2.3 0.6 2.2 0.4 1.1 0.3 1.1 0.7 2.2 0.7 2.2 0.5 1.5 0.2 0.7 0.8 2.2 0.8 2.3 0.4 0.9 0.5 1.3 1 2.2 0.7 1.7 0.3 0.5 1.1 2.2 0.8 1.6 0.4 0.6 1.4 2.3 0.4 0.8 1 1.4 1.3 1.7 0.4 0.5 1.8 2.1 0.1 0.1 2.1 2 0.4 0.2 1.8 1.3zM482.2 132.3l0.9 0.3 2.2 0 0-0.3 0-2.2 0-2.2 0-2.2 0-2.2 0-2.2 0-2.3 0-2.2 0-2.2 0-2.2 0-2.2 0-2.2 0-2.3 0-2.2 0-2.2 0-2.2 0-2.2 0-2.2 0-2.2 0-2.3 0-2.2 0-2.2 0-2.2-2.2 0-2.2 0-2.2 0-2.3 0-2.2 0-2.2 0-2.2 0-2.2 0-2.2 0-2.3 0-2.2 0-2.2 0-2.2 0-2.2 0-2.2 0-2.3 0-1.1 0 0.5 2.2 0.6 2.2 0 0.2 0.7 2 0.8 2.3 0.8 1.9 0 0.3 1 2.2 1.1 2.2 0.1 0.2 1 2 1.1 2.2 0.1 0.1 1.2 2.1 1 1.8 0.3 0.5 1.3 2.2 0.6 0.9 0.9 1.3 1.3 2.1 0.1 0.1 1.6 2.2 0.6 0.8 1 1.4 1.2 1.5 0.6 0.8 1.6 1.9 0.2 0.3 2 2.1 0.1 0.1 2.1 2 0.2 0.2 2 1.6 1 0.6 1.3 0.9 2.2 1z"/>
<path fill="#ff9b00" d="M86.4 482.3l2.2 0 2.2 0 2.2 0 2.3 0 2.2 0 2.2 0 2.2 0 2.2 0 2.2 0 2.3 0 2.2 0 0.8 0 0.6-2.2 0.6-2.2 0.2-0.9 0.3-1.3 0.4-2.3 0.3-2.2 0.3-2.2 0.1-2.2 0.2-2.2 0-2.2-0.1-2.2-0.1-2.3-0.2-2.2-0.2-2.2-0.3-2.2-0.4-2.2-0.3-1.4-0.2-0.8-0.5-2.3-0.6-2.2-0.7-2.2-0.2-0.8-0.5-1.4-0.8-2.2-0.8-2.2-0.1-0.4-0.8-1.8-1-2.3-0.5-1.1-0.5-1.1-1.1-2.2-0.6-1.1-0.6-1.1-1.2-2.2-0.4-0.7-1-1.5-1.2-1.9-0.3-0.4-1.6-2.2-0.3-0.4-1.6-1.8-0.6-0.7-1.8-1.5-0.5-0.4-2.2-1.3-1.8-0.5-0.4-0.1-1.4 0.1-0.8 0.1 0 2.1 0 2.2 0 2.2 0 2.2 0 2.3 0 2.2 0 2.2 0 2.2 0 2.2 0 2.2 0 2.3 0 2.2 0 2.2 0 2.2 0 2.2 0 2.2 0 2.2 0 2.3 0 2.2 0 2.2 0 2.2 0 2.2 0 2.2 0 2.3 0 2.2 0 2.2 0 2.2 0 2.2 0 2.2 0 2.2 0 2.3 0 2.2 0 2.2zM286.4 482.3l1.7 0 2.2 0 2.2 0 2.2 0 2.2 0 2.2 0 2.3 0 2.2 0 2.2 0 2.2 0 2.2 0 2.2 0 2.3 0 2.2 0 2.2 0 2.2 0 2.2 0 2.2 0 2.3 0 2.2 0 2.2 0 2.2 0 2.2 0 2.2 0 1.2 0 0.4-2.2 0.3-2.2 0.1-2.2 0.1-2.3-0.1-2.2-0.1-2.2-0.3-2.2-0.5-2.2-0.5-2.2-0.6-1.8-0.1-0.4-0.8-2.3-0.9-2.2-0.4-0.9-0.5-1.3-1.1-2.2-0.6-1.1-0.5-1.1-1.2-2.2-0.5-0.9-0.7-1.4-1.3-2.2-0.2-0.3-1.1-1.9-1.1-1.9-0.2-0.3-1.3-2.2-0.8-1.2-0.6-1-1.4-2.2-0.2-0.4-1.2-1.9-1-1.6-0.4-0.6-1.4-2.2-0.4-0.6-1.1-1.6-1.1-1.7-0.4-0.5-1.5-2.2-0.3-0.6-1.2-1.7-1.1-1.6-0.4-0.6-1.6-2.2-0.2-0.2-1.6-2-0.6-0.8-1.7-1.4-0.5-0.5-2.2-0.7-2.2 1.1-0.1 0.1-1.8 2.2-0.4 0.4-0.9 1.8-1.3 2.2-1 2.2-1.1 2.3-0.1 0.2-0.8 2-1 2.2-0.4 0.8-0.6 1.4-0.9 2.2-0.7 1.8-0.2 0.4-0.9 2.3-0.8 2.2-0.3 0.9-0.5 1.3-0.7 2.2-0.7 2.2-0.4 1.3-0.2 0.9-0.6 2.2-0.5 2.3-0.4 2.2-0.3 2.2-0.2 1.1-0.1 1.1-0.2 2.2-0.1 2.2 0 2.3 0 2.2 0.1 2.2 0.2 2.2 0.1 0.8 0.2 1.4 0.3 2.2 0.4 2.2 0.4 2.3 0.5 2.2 0.4 1.9 0.1 0.3zM451.9 480.1l0.2 1.1 0.1 1.1 2.1 0 2.2 0 2.2 0 2.2 0 2.2 0 2.3 0 2.2 0 2.2 0 2.2 0 2.2 0 2.2 0 2.3 0 2.2 0 2.2 0 2.2 0 0-2.2 0-2.2 0-2.2 0-2.3 0-2.2 0-2.2 0-2.2 0-2.2 0-2.2 0-2.2 0-2.3 0-2.2 0-2.2 0-2.2 0-2.2 0-2.2 0-2.3 0-2.2 0-2.2 0-2.2 0-2.2 0-2.2 0-2.2 0-2.3 0-2.2 0-2.2 0-2.2 0-2.2 0-2.2 0-2.3 0-2.2 0-2.2 0-2.2 0-2.1-2.2 1-1.2 1.1-1 1-0.9 1.2-1.3 1.8-0.3 0.4-1.3 2.2-0.7 1.3-0.4 1-1.2 2.2-0.6 1.2-0.4 1-1.1 2.2-0.7 1.4-0.4 0.8-1.1 2.2-0.7 1.4-0.4 0.9-1.2 2.2-0.6 1-0.7 1.2-1.3 2.2-0.2 0.4-1.2 1.8-1.1 1.7-0.3 0.5-1.4 2.2-0.5 0.7-1 1.6-1.2 2-0.1 0.2-1.3 2.2-0.8 1.5-0.4 0.7-1 2.2-0.8 2-0.1 0.2-0.8 2.3-0.7 2.2-0.5 2.2-0.1 0.8-0.3 1.4-0.3 2.2-0.1 2.2-0.1 2.2 0.1 2.3 0.2 2.2zM86.4 336.1l0 2.1 2.2 0 2.2-1 1-1.1 1.2-1.4 0.5-0.8 1.4-2.2 0.4-0.6 0.8-1.6 1.1-2.3 0.3-0.6 0.6-1.6 1-2.2 0.6-1.3 0.3-0.9 0.9-2.2 0.9-2.2 0.1-0.3 0.7-1.9 0.8-2.3 0.7-1.9 0.1-0.3 0.8-2.2 0.7-2.2 0.6-2.2 0-0.1 0.6-2.1 0.6-2.2 0.5-2.3 0.5-2.2 0.1-0.3 0.3-1.9 0.4-2.2 0.3-2.2 0.2-2.2 0.1-2.3 0.1-2.2 0.1-2.2-0.1-2.2-0.1-2.2-0.2-2.2-0.2-2.2-0.3-2.3-0.4-2.2-0.2-1.4-0.2-0.8-0.4-2.2-0.5-2.2-0.6-2.2-0.6-2.1 0-0.1-0.6-2.3-0.7-2.2-0.7-2.2-0.2-0.4-0.6-1.8-0.9-2.2-0.7-1.8-0.2-0.4-1-2.3-1-2.1 0-0.1-1.3-2.2-0.9-1.7-0.4-0.5-1.5-2.2-0.3-0.5-1.4-1.7-0.9-1-1.2-1.2-1-1-1.6-1.3-0.6-0.4-2.2-1.2 0 1.6 0 2.3 0 2.2 0 2.2 0 2.2 0 2.2 0 2.2 0 2.2 0 2.3 0 2.2 0 2.2 0 2.2 0 2.2 0 2.2 0 2.3 0 2.2 0 2.2 0 2.2 0 2.2 0 2.2 0 2.2 0 2.3 0 2.2 0 2.2 0 2.2 0 2.2 0 2.2 0 2.2 0 2.3 0 2.2 0 2.2 0 2.2 0 2.2 0 2.2 0 2.3 0 2.2 0 2.2 0 2.2 0 2.2 0 2.2 0 2.2 0 2.3 0 2.2 0 2.2 0 2.2 0 2.2 0 2.2 0 2.2 0 2.3 0 2.2 0 2.2zM307 336.1l1 0.6 2.2 0.3 2.2-0.4 0.9-0.5 1.4-0.8 1.4-1.4 0.8-0.7 1.1-1.5 1.1-1.4 0.5-0.8 1.3-2.3 0.4-0.5 0.9-1.7 1.2-2.2 0.1-0.2 1-2 1.2-2.2 0-0.1 1.1-2.1 1.2-2.2 1.1-2.3 1.1-1.9 0.1-0.3 1.2-2.2 0.9-1.6 0.3-0.6 1.2-2.2 0.7-1.3 0.5-0.9 1.2-2.2 0.5-1 0.7-1.3 1.1-2.2 0.4-1 0.6-1.2 0.9-2.2 0.8-2.1 0-0.1 0.7-2.2 0.6-2.3 0.5-2.2 0.3-2.2 0.1-0.7 0.1-1.5 0.1-2.2 0-2.2-0.1-2.2-0.1-1.5-0.1-0.8-0.3-2.2-0.4-2.2-0.5-2.2-0.6-2.2-0.3-1.1-0.4-1.1-0.7-2.2-0.8-2.3-0.4-0.9-0.5-1.3-0.8-2.2-0.9-1.9-0.1-0.3-0.9-2.2-1.1-2.2-0.1-0.3-0.9-2-1.2-2.2-0.1-0.2-1-2-1.2-2.1-0.1-0.1-1.3-2.2-0.8-1.4-0.6-0.8-1.6-2.2-0.1-0.2-1.6-2.1-0.6-0.7-1.3-1.5-0.9-0.9-1.5-1.3-0.7-0.6-2.2-1.5-0.2-0.1-2-0.9-2.3-0.6-2.2 0-2.2 0.5-2.2 1-2.2 1.6-0.6 0.6-1.6 1.6-0.5 0.6-1.7 2.2-0.1 0.1-1.4 2.2-0.8 1.2-0.5 1-1.3 2.2-0.4 0.7-0.8 1.5-1.2 2.2-0.2 0.4-1 1.8-1.1 2.2-0.1 0.2-1.1 2.1-1.1 2.1-0.1 0.1-1.2 2.2-1 1.7-0.2 0.5-1.2 2.2-0.8 1.4-0.4 0.8-1.1 2.3-0.7 1.4-0.3 0.8-0.9 2.2-0.9 2.2-0.1 0.3-0.6 1.9-0.6 2.2-0.5 2.2-0.5 2.3 0 0.4-0.3 1.8-0.2 2.2-0.1 2.2 0 2.2 0.1 2.2 0.2 2.2 0.3 2.3 0 0.1 0.4 2.1 0.4 2.2 0.6 2.2 0.7 2.2 0.1 0.2 0.8 2 0.9 2.3 0.5 1.1 0.5 1.1 1.1 2.2 0.6 1.2 0.6 1 1.3 2.2 0.3 0.7 1 1.5 1.3 2.2 1.4 2.3 0.8 1.2 0.6 1 1.5 2.2 0.1 0.2 1.3 2 0.9 1.4 0.6 0.8 1.5 2.2 0.1 0.3 1.4 1.9 0.8 1.2 0.9 1.1 1.4 1.8 0.4 0.4 1.8 2 0.3 0.2 1.9 1.6zM481.5 336.1l1.6 1.1 2.2 1 0-2.1 0-2.2 0-2.2 0-2.2 0-2.3 0-2.2 0-2.2 0-2.2 0-2.2 0-2.2 0-2.2 0-2.3 0-2.2 0-2.2 0-2.2 0-2.2 0-2.2 0-2.2 0-2.3 0-2.2 0-2.2 0-2.2 0-2.2 0-2.2 0-2.3 0-2.2 0-2.2 0-2.2 0-2.2 0-2.2 0-2.2 0-2.3 0-2.2 0-2.2 0-2.2 0-2.2 0-2.2 0-2.2 0-2.3 0-2.2 0-2.2 0-2.2 0-2.2 0-2.2 0-2.3 0-2.2 0-2.2 0-2.2 0-2.2 0-2.2 0-2.2 0-2.3 0-1.6-1.8-0.6-0.4-0.1-2.2-0.2-2.2 0.2-0.5 0.1-1.8 0.6-2.2 1.1-0.8 0.5-1.4 1-1.5 1.3-0.7 0.5-1.6 1.7-0.6 0.6-1.3 1.6-0.9 1.2-0.8 1-1.5 2.2-1.3 2.2-0.9 1.5-0.4 0.7-1.1 2.3-0.7 1.4-0.4 0.8-0.9 2.2-0.9 2.2-0.8 2.2-0.8 2.2-0.6 2.3-0.6 2.2-0.5 2.2-0.4 2.2-0.3 2.2-0.3 2.2-0.1 2.2 0 0.1-0.1 2.2 0 2.2 0.1 1.3 0 0.9 0.2 2.2 0.2 2.2 0.4 2.2 0.4 2.2 0.5 2.3 0.5 1.8 0.1 0.4 0.6 2.2 0.7 2.2 0.8 2.2 0 0.1 0.7 2.1 0.9 2.3 0.6 1.5 0.3 0.7 0.9 2.2 0.9 2.2 0.1 0.2 0.9 2 1 2.2 0.3 0.7 0.8 1.5 1 2.3 0.5 0.8 0.7 1.4 1.2 2.2 0.3 0.5 1 1.7 1.2 2 0.1 0.2 1.5 2.2 0.6 0.9 1 1.3 1.2 1.7 0.5 0.6 1.7 2 0.3 0.2 2 2 0.1 0.2 2.1 1.8zM86.4 125.7l0 1.3 2.2-0.6 1.1-0.7 1.1-0.7 1.7-1.5 0.5-0.6 1.3-1.6 1-1.3 0.5-1 1.4-2.2 0.3-0.5 0.8-1.7 1.1-2.2 0.3-0.5 0.8-1.7 1-2.2 0.4-1 0.6-1.3 1-2.2 0.6-1.4 0.4-0.8 1-2.2 0.8-2 0.1-0.2 1-2.2 0.9-2.2 0.3-0.6 0.6-1.7 0.9-2.2 0.7-1.9 0.1-0.3 0.7-2.2-0.8 0-2.2 0-2.3 0-2.2 0-2.2 0-2.2 0-2.2 0-2.2 0-2.3 0-2.2 0-2.2 0-2.2 0 0 2.2 0 2.2 0 2.2 0 2.3 0 2.2 0 2.2 0 2.2 0 2.2 0 2.2 0 2.2 0 2.3 0 2.2 0 2.2 0 2.2 0 2.2 0 2.2 0 2.3 0 2.2zM307.6 125.7l0.4 0.2 2.2 1 2.2 0.4 2.3-0.1 2.2-0.6 1.7-0.9 0.5-0.2 2.2-1.7 0.3-0.3 1.9-1.9 0.3-0.3 1.8-2.3 0.1-0.2 1.4-2 0.9-1.4 0.4-0.8 1.3-2.2 0.5-1 0.6-1.2 1.1-2.2 0.5-1.2 0.5-1.1 0.9-2.2 0.8-1.9 0.1-0.3 0.9-2.2 0.8-2.2 0.4-1.2 0.4-1 0.7-2.2 0.7-2.3 0.4-1.5 0.2-0.7 0.6-2.2 0.4-2.2-1.2 0-2.2 0-2.2 0-2.2 0-2.2 0-2.2 0-2.3 0-2.2 0-2.2 0-2.2 0-2.2 0-2.2 0-2.3 0-2.2 0-2.2 0-2.2 0-2.2 0-2.2 0-2.3 0-2.2 0-2.2 0-2.2 0-2.2 0-2.2 0-1.7 0 0.6 2.2 0.6 2.2 0.5 1.8 0.1 0.4 0.6 2.3 0.7 2.2 0.7 2.2 0.1 0.3 0.6 1.9 0.8 2.2 0.8 2.2 0 0.1 0.9 2.1 0.9 2.3 0.4 0.9 0.6 1.3 1.1 2.2 0.5 0.9 0.8 1.3 1.3 2.2 0.1 0.2 1.5 2 0.8 1 1.1 1.3 1.1 1.2 1.1 1 1.1 1zM478.4 125.7l0.3 0.2 2.2 0.8 2.2 0.5 2.2-0.2 0-1.3 0-2.2 0-2.2 0-2.3 0-2.2 0-2.2 0-2.2 0-2.2 0-2.2 0-2.3 0-2.2 0-2.2 0-2.2 0-2.2 0-2.2 0-2.2 0-2.3 0-2.2 0-2.2 0-2.2-2.2 0-2.2 0-2.2 0-2.3 0-2.2 0-2.2 0-2.2 0-2.2 0-2.2 0-2.3 0-2.2 0-2.2 0-2.2 0-2.2 0-2.1 0 0.5 2.2 0.6 2.2 0.7 2.2 0.3 0.8 0.5 1.5 0.8 2.2 0.9 2 0.1 0.2 1 2.2 1.1 2.2 1.1 2.2 1.1 2 0.2 0.2 1.3 2.3 0.7 1.2 0.7 1 1.4 2.2 0.2 0.1 1.4 2.1 0.8 1 0.9 1.2 1.3 1.6 0.6 0.6 1.6 1.8 0.5 0.5 1.7 1.6 0.8 0.6 1.4 1.1z"/>
<path fill="#ff8800" d="M86.4 482.3l2.2 0 2.2 0 2.2 0 2.3 0 2.2 0 2.2 0 2.2 0 2.2 0 2.2 0 2.3 0 0.5 0 0.7-2.2 0.6-2.2 0.4-1.4 0.2-0.8 0.5-2.3 0.3-2.2 0.3-2.2 0.3-2.2 0.1-2.2 0.1-2.2 0-2.2-0.1-2.3-0.2-2.2-0.3-2.2-0.3-2.2-0.4-2.2-0.4-2.2-0.1-0.5-0.5-1.8-0.6-2.2-0.7-2.2-0.4-1.4-0.3-0.8-0.9-2.2-0.9-2.2-0.2-0.5-0.8-1.7-1.1-2.3-0.3-0.6-0.9-1.6-1.2-2.2-0.1-0.1-1.5-2.1-0.7-1.1-0.9-1.1-1.3-1.6-0.7-0.6-1.5-1.5-1.3-0.8-1-0.7-2.2-0.8-2.2-0.2-2.2 0.5 0 1.2 0 2.3 0 2.2 0 2.2 0 2.2 0 2.2 0 2.2 0 2.3 0 2.2 0 2.2 0 2.2 0 2.2 0 2.2 0 2.2 0 2.3 0 2.2 0 2.2 0 2.2 0 2.2 0 2.2 0 2.3 0 2.2 0 2.2 0 2.2 0 2.2 0 2.2 0 2.2 0 2.3 0 2.2 0 2.2zM287.6 480.1l0.5 1.9 0 0.3 2.2 0 2.2 0 2.2 0 2.2 0 2.2 0 2.3 0 2.2 0 2.2 0 2.2 0 2.2 0 2.2 0 2.3 0 2.2 0 2.2 0 2.2 0 2.2 0 2.2 0 2.3 0 2.2 0 2.2 0 2.2 0 2.2 0 0.5 0 0.4-2.2 0.2-2.2 0.2-2.2 0.1-2.3 0-2.2-0.2-2.2-0.2-2.2-0.4-2.2-0.6-2.2 0-0.1-0.6-2.1-0.7-2.3-0.8-2.2-0.1-0.2-0.8-2-1-2.2-0.4-0.8-0.7-1.4-1.1-2.2-0.4-0.8-0.8-1.5-1.2-2.2-0.2-0.4-1.1-1.8-1.2-2-0.1-0.2-1.3-2.2-0.8-1.2-0.6-1-1.5-2.2-0.1-0.2-1.4-2.1-0.8-1.1-0.8-1.1-1.4-2-0.2-0.2-1.7-2.2-0.3-0.5-1.5-1.7-0.8-0.9-1.2-1.3-1-1.1-1.4-1.2-0.8-0.6-2.2-1.2-2.2-0.1-2.2 1-1 0.9-1.3 1.3-0.6 1-1.5 2.2-0.1 0-1.2 2.2-1 1.8-0.2 0.4-1 2.2-1 2-0.1 0.2-1 2.3-0.9 2.2-0.2 0.5-0.6 1.7-0.8 2.2-0.8 2.2 0 0.2-0.6 2-0.6 2.2-0.5 2.3-0.5 2.2-0.1 0.5-0.2 1.7-0.3 2.2-0.2 2.2-0.1 2.2 0 2.3 0 2.2 0.1 2.2 0.2 2.2 0.3 2.2 0.2 2 0.1 0.2 0.3 2.2 0.5 2.3 0.4 2.2zM455.6 482.3l0.9 0 2.2 0 2.2 0 2.2 0 2.3 0 2.2 0 2.2 0 2.2 0 2.2 0 2.2 0 2.3 0 2.2 0 2.2 0 2.2 0 0-2.2 0-2.2 0-2.2 0-2.3 0-2.2 0-2.2 0-2.2 0-2.2 0-2.2 0-2.2 0-2.3 0-2.2 0-2.2 0-2.2 0-2.2 0-2.2 0-2.3 0-2.2 0-2.2 0-2.2 0-2.2 0-2.2 0-2.2 0-2.3 0-2.2 0-2.2 0-2.2 0-2.2 0-2.2 0-2.3 0-1.2-2 1.2-0.2 0.2-2.1 2.1-0.1 0.1-1.6 2.1-0.6 0.9-0.9 1.3-1.3 2.2-0.1 0.1-1.1 2.1-1.1 2-0.1 0.2-1.2 2.3-0.9 1.6-0.3 0.6-1.2 2.2-0.7 1.2-0.6 1-1.3 2.2-0.3 0.5-1.1 1.7-1.1 2-0.2 0.2-1.4 2.3-0.7 1.1-0.6 1.1-1.3 2.2-0.3 0.5-0.9 1.7-1.1 2.2-0.2 0.5-0.8 1.7-0.8 2.3-0.6 1.9-0.1 0.3-0.6 2.2-0.4 2.2-0.3 2.2-0.2 2.2-0.1 2.2 0 2.3 0.2 2.2 0.3 2.2zM86.4 329.5l0 0.7 2.2-0.4 0.6-0.3 1.6-1 1.4-1.3 0.8-0.8 1.1-1.4 1.2-1.6 0.3-0.6 1.3-2.2 0.6-1 0.6-1.2 1.1-2.2 0.5-1.1 0.5-1.1 0.9-2.3 0.8-1.8 0.1-0.4 0.9-2.2 0.8-2.2 0.4-1.4 0.3-0.8 0.6-2.2 0.7-2.2 0.5-2.3 0.1-0.5 0.4-1.7 0.4-2.2 0.4-2.2 0.3-2.2 0.3-2.2 0.1-2.3 0.1-2.2 0-2.2 0-2.2-0.1-2.2-0.2-2.2-0.2-2.2-0.3-2.3-0.4-2.2-0.4-2.2-0.4-1.9 0-0.3-0.5-2.2-0.6-2.2-0.6-2.2-0.5-1.6-0.2-0.7-0.7-2.2-0.8-2.2-0.5-1.4-0.3-0.8-1-2.2-0.9-2.1-0.1-0.1-1.1-2.3-1-1.8-0.3-0.4-1.4-2.2-0.5-0.8-1.2-1.4-1.1-1.3-0.9-0.9-1.3-1.3-1.2-0.9-1-0.8-2.2-1.2 0 2 0 2.2 0 2.2 0 2.2 0 2.2 0 2.2 0 2.3 0 2.2 0 2.2 0 2.2 0 2.2 0 2.2 0 2.3 0 2.2 0 2.2 0 2.2 0 2.2 0 2.2 0 2.2 0 2.3 0 2.2 0 2.2 0 2.2 0 2.2 0 2.2 0 2.2 0 2.3 0 2.2 0 2.2 0 2.2 0 2.2 0 2.2 0 2.3 0 2.2 0 2.2 0 2.2 0 2.2 0 2.2 0 2.2 0 2.3 0 2.2 0 2.2 0 2.2 0 2.2 0 2.2 0 2.2zM482.2 329.5l0.9 0.4 2.2 0.3 0-0.7 0-2.3 0-2.2 0-2.2 0-2.2 0-2.2 0-2.2 0-2.2 0-2.3 0-2.2 0-2.2 0-2.2 0-2.2 0-2.2 0-2.2 0-2.3 0-2.2 0-2.2 0-2.2 0-2.2 0-2.2 0-2.3 0-2.2 0-2.2 0-2.2 0-2.2 0-2.2 0-2.2 0-2.3 0-2.2 0-2.2 0-2.2 0-2.2 0-2.2 0-2.2 0-2.3 0-2.2 0-2.2 0-2.2 0-2.2 0-2.2 0-2.3 0-2.2 0-2.2 0-2.2 0-2.2 0-2.2 0-2-0.9-0.2-1.3-0.5-2.2-0.2-2.2 0.2-1.7 0.5-0.6 0.1-2.2 1.1-1.3 1-0.9 0.6-1.8 1.6-0.4 0.4-1.7 1.8-0.5 0.7-1.2 1.5-1 1.5-0.5 0.7-1.3 2.2-0.5 0.8-0.7 1.5-1.1 2.2-0.4 0.8-0.6 1.4-0.9 2.2-0.7 2-0.1 0.2-0.7 2.2-0.6 2.3-0.6 2.2-0.2 1-0.3 1.2-0.4 2.2-0.3 2.2-0.2 2.2-0.2 2.2-0.1 2.3 0 2.2 0.1 2.2 0.2 2.2 0.2 2.2 0.4 2.2 0.4 2.2 0.2 1 0.2 1.3 0.6 2.2 0.6 2.2 0.6 2.2 0.2 0.5 0.5 1.7 0.8 2.2 0.8 2.3 0.1 0.3 0.7 1.9 0.9 2.2 0.6 1.4 0.4 0.8 1 2.2 0.9 1.9 0.1 0.3 1.1 2.2 1 1.8 0.2 0.5 1.3 2.2 0.7 1.1 0.7 1.1 1.5 2.2 1.8 2.2 0.4 0.5 1.7 1.7 0.5 0.7 1.9 1.5 0.4 0.3 2.2 1.4zM305.2 327.2l0.6 0.4 2.2 0.8 2.2 0.1 2.2-0.6 1.2-0.7 1.1-0.5 1.8-1.7 0.4-0.3 1.5-1.9 0.7-0.7 1-1.5 1.2-1.7 0.3-0.5 1.4-2.2 0.5-0.9 0.8-1.3 1.3-2.3 0.1-0.3 1.1-1.9 1.2-2 0-0.2 1.3-2.2 0.9-1.7 0.3-0.5 1.2-2.2 0.7-1.4 0.4-0.8 1.1-2.3 0.7-1.4 0.4-0.8 1-2.2 0.8-2 0.1-0.2 0.8-2.2 0.7-2.2 0.6-2.3 0.5-2.2 0.3-2.2 0.3-2.2 0.1-2.2 0-2.2-0.1-2.2-0.2-2.3-0.3-2.2-0.4-2.2-0.2-0.7-0.3-1.5-0.5-2.2-0.6-2.2-0.7-2.2-0.1-0.2-0.6-2.1-0.8-2.2-0.8-2-0.1-0.2-0.8-2.2-1-2.2-0.3-0.7-0.7-1.5-1-2.3-0.5-1-0.6-1.2-1.2-2.2-0.4-0.7-0.9-1.5-1.4-2.1-0.1-0.1-1.6-2.2-0.5-0.7-1.3-1.5-0.9-1.1-1.3-1.2-0.9-0.8-2-1.4-0.2-0.1-2.2-1-2.3-0.5-2.2 0-2.2 0.5-2.1 1.1-0.1 0.1-2.2 1.7-0.5 0.4-1.7 1.9-0.3 0.4-1.7 2.2-0.3 0.4-1.1 1.8-1.1 1.7-0.3 0.5-1.2 2.2-0.7 1.1-0.6 1.1-1.2 2.2-0.4 0.8-0.8 1.5-1.2 2.2-0.2 0.5-1 1.7-1.2 2.2 0 0.1-1.2 2.1-1.1 2-0.1 0.2-1.1 2.3-1 1.9-0.1 0.3-1 2.2-0.9 2.2-0.2 0.6-0.6 1.6-0.6 2.2-0.6 2.2-0.4 1.9-0.1 0.4-0.3 2.2-0.3 2.2-0.1 2.2 0 2.2 0.1 2.2 0.2 2.2 0.2 2.3 0.3 1.4 0.2 0.8 0.5 2.2 0.6 2.2 0.8 2.2 0.1 0.4 0.7 1.8 1 2.3 0.5 1 0.6 1.2 1.2 2.2 0.4 0.8 0.9 1.4 1.3 2.2 0.1 0.1 1.4 2.1 0.8 1.3 0.7 0.9 1.5 2.2 0 0.1 1.7 2.2 0.5 0.8 1.2 1.4 1 1.4 0.8 0.8 1.4 1.7 0.6 0.5 1.7 1.7 0.6 0.5 1.6 1.3zM86.4 121.3l0 0.6 1.6-0.6 0.6-0.3 2.2-1.6 0.4-0.4 1.8-2 0.2-0.2 1.6-2.2 0.5-0.8 0.8-1.4 1.2-2.2 0.2-0.3 1-1.9 1.1-2.3 0.1-0.2 0.9-2 1-2.2 0.3-0.6 0.8-1.6 1-2.2 0.4-1.1 0.5-1.1 1-2.2 0.7-1.7 0.3-0.6 0.9-2.2 0.8-2.2 0.3-0.7 0.5-1.5-0.5 0-2.3 0-2.2 0-2.2 0-2.2 0-2.2 0-2.2 0-2.3 0-2.2 0-2.2 0-2.2 0 0 2.2 0 2.2 0 2.2 0 2.3 0 2.2 0 2.2 0 2.2 0 2.2 0 2.2 0 2.2 0 2.3 0 2.2 0 2.2 0 2.2 0 2.2 0 2.2zM308.2 121.3l2 0.8 2.2 0.4 2.3-0.1 2.2-0.7 0.9-0.4 1.3-0.8 1.9-1.5 0.3-0.2 1.8-2 0.4-0.4 1.4-1.8 0.8-1.2 0.6-1 1.3-2.2 0.4-0.6 0.8-1.6 1.1-2.3 0.3-0.6 0.7-1.6 0.9-2.2 0.6-1.4 0.3-0.8 0.8-2.2 0.8-2.2 0.3-1 0.4-1.2 0.7-2.3 0.6-2.2 0.5-2.2 0.5-2.2-0.5 0-2.2 0-2.2 0-2.2 0-2.2 0-2.3 0-2.2 0-2.2 0-2.2 0-2.2 0-2.2 0-2.3 0-2.2 0-2.2 0-2.2 0-2.2 0-2.2 0-2.3 0-2.2 0-2.2 0-2.2 0-2.2 0-2.2 0 0.6 2.2 0.6 2.2 0.6 2.2 0.4 1.3 0.3 1 0.7 2.2 0.7 2.2 0.5 1.5 0.3 0.7 0.8 2.2 0.9 2.2 0.2 0.5 0.8 1.7 1.1 2.3 0.3 0.6 0.9 1.6 1.3 2.1 0.1 0.1 1.6 2.2 0.6 0.8 1.3 1.4 0.9 1 1.4 1.2 0.8 0.8 2.2 1.4zM479 121.3l1.9 0.6 2.2 0.3 2.2-0.3 0-0.6 0-2.3 0-2.2 0-2.2 0-2.2 0-2.2 0-2.2 0-2.3 0-2.2 0-2.2 0-2.2 0-2.2 0-2.2 0-2.2 0-2.3 0-2.2 0-2.2 0-2.2-2.2 0-2.2 0-2.2 0-2.3 0-2.2 0-2.2 0-2.2 0-2.2 0-2.2 0-2.3 0-2.2 0-2.2 0-2.2 0-0.9 0 0.5 2.2 0.4 1.5 0.2 0.7 0.6 2.2 0.8 2.3 0.6 1.6 0.2 0.6 0.9 2.2 1.1 2.2 0 0.1 1 2.1 1.2 2.2 0 0.1 1.3 2.1 1 1.7 0.3 0.6 1.5 2.2 0.4 0.5 1.3 1.7 0.9 1.2 0.9 1 1.3 1.5 0.8 0.7 1.4 1.4 1.1 0.8 1.1 0.9 2.3 1.2z"/>
<path fill="#ff7600" d="M86.4 482.3l2.2 0 2.2 0 2.2 0 2.3 0 2.2 0 2.2 0 2.2 0 2.2 0 2.2 0 0.3 0 0.7-2.2 0.7-2.2 0.6-1.9 0.1-0.3 0.5-2.3 0.4-2.2 0.4-2.2 0.2-2.2 0.2-2.2 0.1-2.2 0-2.2 0-2.3-0.2-2.2-0.2-2.2-0.3-2.2-0.4-2.2-0.5-2.2-0.3-1.4-0.3-0.9-0.6-2.2-0.8-2.2-0.6-1.6-0.2-0.6-0.9-2.2-1-2.2-0.1-0.1-1.1-2.1-1.1-1.9-0.2-0.4-1.5-2.2-0.5-0.7-1.3-1.5-0.9-1-1.4-1.2-0.8-0.7-2.3-1.2-1.1-0.3-1.1-0.3-2.2 0.1-0.6 0.2-1.6 0.6 0 1.6 0 2.2 0 2.2 0 2.2 0 2.3 0 2.2 0 2.2 0 2.2 0 2.2 0 2.2 0 2.2 0 2.3 0 2.2 0 2.2 0 2.2 0 2.2 0 2.2 0 2.3 0 2.2 0 2.2 0 2.2 0 2.2 0 2.2 0 2.2 0 2.3 0 2.2 0 2.2zM289.8 482.3l0.5 0 2.2 0 2.2 0 2.2 0 2.2 0 2.3 0 2.2 0 2.2 0 2.2 0 2.2 0 2.2 0 2.3 0 2.2 0 2.2 0 2.2 0 2.2 0 2.2 0 2.3 0 2.2 0 2.2 0 2.2 0 0-0.3 0.3-1.9 0.3-2.2 0.2-2.2 0.1-2.3 0-2.2-0.1-2.2-0.3-2.2-0.3-2.2-0.2-0.9-0.3-1.3-0.5-2.2-0.7-2.3-0.7-1.9-0.1-0.3-0.8-2.2-1-2.2-0.3-0.7-0.7-1.5-1.1-2.2-0.4-0.9-0.8-1.4-1.2-2.2-0.3-0.5-1-1.7-1.2-2-0.1-0.2-1.4-2.2-0.7-1-0.8-1.2-1.4-2-0.2-0.2-1.7-2.3-0.3-0.4-1.6-1.8-0.6-0.8-1.4-1.4-0.9-0.9-1.5-1.3-0.7-0.6-2.2-1.4-0.6-0.2-1.6-0.6-2.2 0.2-0.9 0.4-1.3 0.6-1.7 1.6-0.6 0.5-1.2 1.7-1 1.2-0.6 1-1.3 2.2-0.3 0.6-0.8 1.7-1.1 2.2-0.3 0.6-0.7 1.6-0.8 2.2-0.7 1.8-0.2 0.4-0.7 2.2-0.6 2.2-0.5 2.3-0.2 0.8-0.3 1.4-0.4 2.2-0.3 2.2-0.2 2.2-0.1 2.2-0.1 2.3 0.1 2.2 0.1 2.2 0.1 2.2 0.3 2.2 0.3 2.2 0.3 2.2 0.2 0.7 0.2 1.6 0.5 2.2 0.5 2.2zM458.5 480.1l0.2 1.2 0.2 1 2 0 2.2 0 2.3 0 2.2 0 2.2 0 2.2 0 2.2 0 2.2 0 2.3 0 2.2 0 2.2 0 2.2 0 0-2.2 0-2.2 0-2.2 0-2.3 0-2.2 0-2.2 0-2.2 0-2.2 0-2.2 0-2.2 0-2.3 0-2.2 0-2.2 0-2.2 0-2.2 0-2.2 0-2.3 0-2.2 0-2.2 0-2.2 0-2.2 0-2.2 0-2.2 0-2.3 0-2.2 0-2.2 0-2.2 0-1.6-2.2 1.6-2.1 2.2-0.1 0.1-1.6 2.1-0.6 1-0.8 1.2-1.4 2.3-0.1 0-1.2 2.2-1 1.7-0.3 0.5-1.2 2.2-0.7 1.1-0.6 1.1-1.3 2.2-0.3 0.5-1 1.7-1.2 2.1-0.1 0.2-1.3 2.2-0.8 1.4-0.5 0.8-1.2 2.2-0.6 1.1-0.5 1.1-1 2.2-0.7 1.7-0.2 0.6-0.8 2.2-0.6 2.2-0.5 2.2-0.1 0.7-0.2 1.5-0.3 2.2-0.1 2.2 0 2.3 0.2 2.2zM86.4 322.8l0 1.3 2.2-0.5 1.3-0.8 0.9-0.5 1.8-1.7 0.4-0.4 1.5-1.8 0.8-1 0.7-1.2 1.4-2.2 0.1-0.1 1.1-2.2 1.1-2.2 0.9-2.2 0.9-2.2 0.4-1 0.4-1.2 0.8-2.2 0.7-2.2 0.3-1.3 0.3-1 0.5-2.2 0.5-2.2 0.4-2.2 0.3-2.2 0.2-2.2 0-0.2 0.2-2.1 0.1-2.2 0.1-2.2-0.1-2.2-0.1-2.2-0.1-2.2-0.1-0.2-0.2-2-0.3-2.3-0.3-2.2-0.4-2.2-0.5-2.2-0.5-2 0-0.2-0.6-2.2-0.6-2.2-0.7-2.3-0.3-0.7-0.5-1.5-0.9-2.2-0.8-2-0.1-0.2-1.1-2.2-1-2.1-0.1-0.1-1.4-2.3-0.7-1.1-0.8-1.1-1.5-1.8-0.3-0.4-1.9-1.8-0.4-0.4-1.8-1.3-1.6-0.9-0.6-0.3 0 0.3 0 2.2 0 2.2 0 2.2 0 2.2 0 2.3 0 2.2 0 2.2 0 2.2 0 2.2 0 2.2 0 2.3 0 2.2 0 2.2 0 2.2 0 2.2 0 2.2 0 2.2 0 2.3 0 2.2 0 2.2 0 2.2 0 2.2 0 2.2 0 2.2 0 2.3 0 2.2 0 2.2 0 2.2 0 2.2 0 2.2 0 2.3 0 2.2 0 2.2 0 2.2 0 2.2 0 2.2 0 2.2 0 2.3 0 2.2 0 2.2 0 2.2zM479.8 322.8l1.1 0.6 2.2 0.7 2.2 0 0-1.3 0-2.2 0-2.2 0-2.2 0-2.2 0-2.3 0-2.2 0-2.2 0-2.2 0-2.2 0-2.2 0-2.2 0-2.3 0-2.2 0-2.2 0-2.2 0-2.2 0-2.2 0-2.3 0-2.2 0-2.2 0-2.2 0-2.2 0-2.2 0-2.2 0-2.3 0-2.2 0-2.2 0-2.2 0-2.2 0-2.2 0-2.2 0-2.3 0-2.2 0-2.2 0-2.2 0-2.2 0-2.2 0-2.3 0-2.2 0-2.2 0-2.2 0-2.2 0-0.3-2.2-0.7-2.2-0.3-2.2 0.2-2.3 0.7-0.7 0.4-1.5 0.8-1.9 1.4-0.3 0.2-2 2-0.2 0.2-1.6 2-0.6 0.9-1 1.3-1.2 2.2-0.1 0.1-1.1 2.2-1.1 2.2-0.9 2.2-0.8 2.2-0.5 1.5-0.2 0.7-0.7 2.3-0.5 2.2-0.5 2.2-0.3 1.8-0.1 0.4-0.3 2.2-0.2 2.2-0.2 2.2-0.1 2.3 0 2.2 0.1 2.2 0.2 2.2 0.2 2.2 0.3 2.2 0.1 0.6 0.3 1.6 0.4 2.3 0.5 2.2 0.6 2.2 0.4 1.5 0.2 0.7 0.7 2.2 0.7 2.2 0.6 1.7 0.2 0.6 0.9 2.2 0.9 2.2 0.3 0.5 0.7 1.7 1 2.2 0.5 0.9 0.7 1.3 1.2 2.2 0.3 0.5 1.1 1.8 1.1 1.6 0.5 0.6 1.7 2.1 0.1 0.1 2.1 2.1 0.1 0.1 2.2 1.6zM304.1 320.6l1.7 0.8 2.2 0.4 2.2-0.1 2.2-0.7 0.7-0.4 1.6-0.9 1.4-1.3 0.8-0.7 1.4-1.5 0.8-1 0.9-1.2 1.3-1.8 0.3-0.5 1.5-2.2 0.4-0.7 0.9-1.5 1.3-2.1 0.1-0.1 1.2-2.2 1-1.7 0.2-0.5 1.2-2.2 0.8-1.5 0.3-0.8 1.1-2.2 0.8-1.8 0.2-0.4 0.9-2.2 0.8-2.2 0.3-1.1 0.4-1.1 0.6-2.3 0.5-2.2 0.3-2.2 0.3-2.2 0.1-2.2 0-2.1 0-0.1 0-0.1-0.1-2.1-0.1-2.3-0.3-2.2-0.3-2.2-0.5-2.2-0.5-2.2-0.4-1.7-0.1-0.5-0.6-2.2-0.7-2.3-0.8-2.2 0-0.1-0.8-2.1-0.8-2.2-0.6-1.4-0.3-0.8-1-2.2-0.9-1.9-0.2-0.4-1.2-2.2-0.9-1.5-0.4-0.7-1.4-2.2-0.4-0.5-1.3-1.7-0.9-1.1-1.1-1.1-1.1-1.1-1.6-1.1-0.6-0.5-2.2-1.1-2.3-0.5-2.2 0.1-2.2 0.6-2.2 1.2-0.2 0.2-2 1.6-0.5 0.6-1.7 1.9-0.3 0.3-1.6 2.2-0.4 0.6-1 1.6-1.2 1.9-0.1 0.3-1.3 2.2-0.8 1.4-0.4 0.9-1.2 2.2-0.6 1-0.6 1.2-1.2 2.2-0.4 0.7-0.8 1.5-1.2 2.2-0.2 0.5-1 1.8-1.1 2.2-0.2 0.3-0.8 1.9-1 2.2-0.4 1-0.4 1.2-0.8 2.2-0.6 2.2-0.4 1.7-0.1 0.6-0.4 2.2-0.3 2.2-0.1 2.2-0.1 2.2 0.1 2.2 0.2 2.2 0.3 2.3 0.4 2 0 0.2 0.6 2.2 0.7 2.2 0.8 2.2 0.1 0.4 0.8 1.8 1.1 2.3 0.3 0.7 0.9 1.5 1.3 2.2 0.1 0.2 1.3 2 0.9 1.4 0.6 0.8 1.6 2.2 1.8 2.2 0.4 0.6 1.5 1.7 0.7 0.9 1.4 1.3 0.8 0.9 1.6 1.3 0.7 0.5 2.2 1.5zM86.4 116.8l0 0.2 0.3-0.2 1.9-0.9 1.5-1.3 0.7-0.6 1.4-1.6 0.8-1 0.8-1.2 1.5-2.2 1.2-2.3 1-1.8 0.2-0.4 1.1-2.2 0.9-1.9 0.1-0.3 1.1-2.2 1-2.2 1-2.2 1-2.3 0.2-0.5 0.7-1.7 0.9-2.2 0.6-1.6 0.3-0.6-0.3 0-2.2 0-2.2 0-2.2 0-2.2 0-2.2 0-2.3 0-2.2 0-2.2 0-2.2 0 0 2.2 0 2.2 0 2.2 0 2.3 0 2.2 0 2.2 0 2.2 0 2.2 0 2.2 0 2.2 0 2.3 0 2.2 0 2.2 0 2.2zM308 116.8l2.2 0.9 2.2 0.4 2.3-0.2 2.2-0.7 0.5-0.4 1.7-1 1.4-1.2 0.8-0.7 1.3-1.5 0.9-1.1 0.8-1.1 1.4-2.2 0-0.1 1.2-2.2 1.1-2.1 0-0.1 1-2.2 0.9-2.2 0.3-0.6 0.6-1.6 0.8-2.2 0.7-2.2 0.1-0.4 0.6-1.9 0.6-2.2 0.5-2.2 0.5-2.2-2.2 0-2.2 0-2.2 0-2.3 0-2.2 0-2.2 0-2.2 0-2.2 0-2.2 0-2.3 0-2.2 0-2.2 0-2.2 0-2.2 0-2.2 0-2.3 0-2.2 0-2.2 0-2.2 0-2.2 0-0.5 0 0.5 1.9 0.1 0.3 0.6 2.2 0.6 2.2 0.7 2.3 0.2 0.6 0.5 1.6 0.8 2.2 0.9 2.2 0 0.1 1 2.1 1 2.2 0.2 0.6 1 1.6 1.2 2.3 1.6 2.2 0.7 0.9 1.1 1.3 1.1 1.2 1.2 1 1 0.9zM479.5 116.8l1.4 0.5 2.2 0.1 2.2-0.4 0-0.2 0-2.2 0-2.2 0-2.2 0-2.2 0-2.3 0-2.2 0-2.2 0-2.2 0-2.2 0-2.2 0-2.2 0-2.3 0-2.2 0-2.2 0-2.2-2.2 0-2.2 0-2.2 0-2.3 0-2.2 0-2.2 0-2.2 0-2.2 0-2.2 0-2.3 0-2.2 0-2 0 0.4 2.2 0.5 2.2 0.7 2.2 0.4 1.3 0.3 1 0.8 2.2 1 2.2 0.1 0.4 0.9 1.8 1.1 2.2 0.3 0.5 0.9 1.7 1.3 2.1 0.1 0.1 1.5 2.3 0.6 0.8 1.1 1.4 1.1 1.2 0.9 1 1.3 1.2 1.3 1 0.9 0.8 2.3 1.2z"/>
<path fill="#ff6400" d="M86.4 482.3l2.2 0 2.2 0 2.2 0 2.3 0 2.2 0 2.2 0 2.2 0 2.1 0 0.1-0.4 0.7-1.8 0.8-2.2 0.7-2.2 0-0.4 0.5-1.9 0.5-2.2 0.4-2.2 0.4-2.2 0.2-2.2 0.1-2.2 0.1-2.2-0.1-2.3-0.1-2.2-0.3-2.2-0.3-2.2-0.4-2.2-0.5-2.2-0.5-1.7-0.1-0.6-0.7-2.2-0.8-2.2-0.6-1.3-0.4-0.9-1.1-2.2-0.7-1.4-0.5-0.8-1.5-2.2-0.2-0.4-1.6-1.9-0.6-0.6-1.9-1.6-0.3-0.2-2.3-1.1-2.2-0.4-2.2 0.3-2.2 1 0 0.4 0 2.2 0 2.3 0 2.2 0 2.2 0 2.2 0 2.2 0 2.2 0 2.2 0 2.3 0 2.2 0 2.2 0 2.2 0 2.2 0 2.2 0 2.3 0 2.2 0 2.2 0 2.2 0 2.2 0 2.2 0 2.2 0 2.3 0 2.2 0 2.2zM291.5 482.3l1 0 2.2 0 2.2 0 2.2 0 2.3 0 2.2 0 2.2 0 2.2 0 2.2 0 2.2 0 2.3 0 2.2 0 2.2 0 2.2 0 2.2 0 2.2 0 2.3 0 2.2 0 1.8 0 0.4-2.1 0-0.1 0.3-2.2 0.2-2.2 0.1-2.3 0-2.2-0.1-2.2-0.2-2.2-0.3-2.2 0-0.1-0.4-2.1-0.5-2.2-0.7-2.3-0.6-1.9-0.1-0.3-0.9-2.2-0.9-2.2-0.3-0.8-0.7-1.4-1.1-2.2-0.5-1-0.6-1.3-1.3-2.2-0.3-0.5-1-1.7-1.2-1.9-0.2-0.3-1.6-2.2-0.4-0.6-1.3-1.6-0.9-1.2-0.9-1-1.3-1.5-0.9-0.8-1.4-1.3-1.2-0.9-1-0.7-2.2-1.1-1.8-0.4-0.4-0.1-0.6 0.1-1.6 0.2-2.2 1.2-1 0.8-1.3 1.2-0.7 1-1.5 1.9-0.2 0.4-1.3 2.2-0.7 1.2-0.4 1-1.1 2.2-0.7 1.7-0.2 0.5-0.8 2.2-0.7 2.2-0.5 1.9-0.1 0.4-0.5 2.2-0.4 2.2-0.3 2.2-0.3 2.2-0.1 2.2-0.1 2.3 0 2.2 0.1 2.2 0.2 2.2 0.2 2.2 0.3 2.2 0.3 2.2 0.4 2.3 0.3 1.4 0.1 0.8 0.5 2.2zM461.9 482.3l1.2 0 2.3 0 2.2 0 2.2 0 2.2 0 2.2 0 2.2 0 2.3 0 2.2 0 2.2 0 2.2 0 0-2.2 0-2.2 0-2.2 0-2.3 0-2.2 0-2.2 0-2.2 0-2.2 0-2.2 0-2.2 0-2.3 0-2.2 0-2.2 0-2.2 0-2.2 0-2.2 0-2.3 0-2.2 0-2.2 0-2.2 0-2.2 0-2.2 0-2.2 0-2.3 0-2.2 0-0.4-0.5 0.4-1.7 1.4-0.8 0.8-1.4 1.7-0.4 0.6-1.6 2.2-0.2 0.3-1.2 1.9-1.1 1.7-0.3 0.5-1.3 2.2-0.6 1-0.7 1.2-1.3 2.2-0.2 0.4-1.1 1.9-1.1 2-0.1 0.2-1.3 2.2-0.8 1.6-0.4 0.6-1.1 2.2-0.7 1.6-0.3 0.6-0.9 2.3-0.8 2.2-0.3 0.7-0.4 1.5-0.5 2.2-0.4 2.2-0.3 2.2-0.2 2.2 0 2.3 0.1 2.2 0.2 2.2zM86.4 318.4l0 0.6 2.1-0.6 0.1-0.1 2.2-1.3 1-0.8 1.2-1.2 0.9-1 1.4-1.8 0.3-0.5 1.3-2.2 0.6-0.9 0.6-1.3 1.1-2.2 0.5-1 0.5-1.2 0.8-2.2 0.8-2.2 0.1-0.4 0.6-1.9 0.5-2.2 0.6-2.2 0.4-2.2 0.1-0.9 0.2-1.3 0.3-2.2 0.2-2.3 0.1-2.2 0.1-2.2 0-2.2-0.1-2.2-0.2-2.2-0.2-2.2-0.3-2.3-0.1-0.4-0.3-1.8-0.4-2.2-0.5-2.2-0.5-2.2-0.5-1.8-0.1-0.4-0.7-2.2-0.8-2.3-0.6-1.7-0.2-0.5-1-2.2-1-2.2-1.2-2.2-1-1.7-0.4-0.5-1.7-2.3-0.2-0.2-1.8-2-0.4-0.3-2.2-1.8-0.2-0.1-2-1.1 0 1.1 0 2.2 0 2.2 0 2.3 0 2.2 0 2.2 0 2.2 0 2.2 0 2.2 0 2.3 0 2.2 0 2.2 0 2.2 0 2.2 0 2.2 0 2.2 0 2.3 0 2.2 0 2.2 0 2.2 0 2.2 0 2.2 0 2.2 0 2.3 0 2.2 0 2.2 0 2.2 0 2.2 0 2.2 0 2.3 0 2.2 0 2.2 0 2.2 0 2.2 0 2.2 0 2.2 0 2.3 0 2.2zM480.5 318.4l0.4 0.2 2.2 0.5 2.2-0.1 0-0.6 0-2.2 0-2.2 0-2.3 0-2.2 0-2.2 0-2.2 0-2.2 0-2.2 0-2.2 0-2.3 0-2.2 0-2.2 0-2.2 0-2.2 0-2.2 0-2.3 0-2.2 0-2.2 0-2.2 0-2.2 0-2.2 0-2.2 0-2.3 0-2.2 0-2.2 0-2.2 0-2.2 0-2.2 0-2.2 0-2.3 0-2.2 0-2.2 0-2.2 0-2.2 0-2.2 0-2.3 0-2.2 0-2.2 0-1.1-2.2-0.7-2.2-0.2-2.2 0.2-2.3 0.8-1.7 1-0.5 0.3-2.2 1.9-0.1 0-1.9 2.2-0.2 0.3-1.4 2-0.8 1.3-0.6 0.9-1.1 2.2-0.5 1.2-0.5 1-0.8 2.2-0.8 2.2-0.2 0.6-0.5 1.7-0.5 2.2-0.5 2.2-0.4 2.2-0.3 2 0 0.2-0.2 2.2-0.2 2.2-0.1 2.3 0 2.2 0.1 2.2 0.1 2.2 0.2 2.2 0.1 0.6 0.2 1.6 0.4 2.2 0.4 2.3 0.5 2.2 0.6 2.2 0.1 0.7 0.5 1.5 0.6 2.2 0.8 2.2 0.4 1 0.4 1.3 0.9 2.2 0.9 2 0.1 0.2 1 2.2 1.1 2 0.1 0.2 1.4 2.2 0.7 1.2 0.8 1 1.4 1.9 0.4 0.4 1.8 1.8 0.5 0.4 1.8 1.3zM301.4 314l2.2 1.1 2.2 0.8 2.2 0.3 2.2-0.3 2.2-0.9 1.7-1 0.6-0.4 2.1-1.9 0.1-0.1 1.8-2.1 0.4-0.4 1.4-1.8 0.8-1.1 0.7-1.1 1.4-2.2 0.1-0.1 1.3-2.1 0.9-1.8 0.3-0.4 1.2-2.3 0.8-1.6 0.2-0.6 1-2.2 1-2.2 0-0.1 0.8-2.1 0.7-2.2 0.6-2.3 0.1-0.4 0.4-1.8 0.4-2.2 0.2-2.2 0.2-2.2 0.1-2.2-0.1-2.2-0.1-2.3-0.2-2.2-0.3-2.2-0.4-2.2-0.2-0.9-0.3-1.3-0.5-2.2-0.6-2.2-0.6-2.3-0.2-0.6-0.5-1.6-0.8-2.2-0.9-2.2 0-0.1-0.9-2.1-1.1-2.2-0.3-0.6-0.8-1.7-1.3-2.2-0.1 0-1.5-2.2-0.7-1-1.1-1.2-1.1-1.2-1.2-1-1-0.8-2.2-1.1-1.2-0.3-1.1-0.3-2.2 0.1-0.6 0.2-1.6 0.4-2.2 1.4-0.5 0.4-1.7 1.5-0.6 0.7-1.6 1.9-0.3 0.3-1.5 2.2-0.5 0.7-0.9 1.5-1.3 2.1-0.1 0.2-1.2 2.2-0.9 1.6-0.3 0.6-1.2 2.2-0.7 1.3-0.5 0.9-1.2 2.2-0.5 1.1-0.6 1.2-1.1 2.2-0.5 1-0.6 1.2-1 2.2-0.7 1.6-0.2 0.6-0.8 2.2-0.7 2.2-0.5 2 0 0.3-0.5 2.2-0.3 2.2-0.1 2.2-0.1 2.2 0.1 2.2 0.2 2.2 0.3 2.3 0.4 2 0.1 0.2 0.6 2.2 0.7 2.2 0.8 2.1 0.1 0.1 1 2.2 1.2 2.3 1.3 2.2 0.9 1.4 0.6 0.8 1.5 2.2 0.1 0.1 1.8 2.1 0.4 0.6 1.6 1.6 0.6 0.8 1.7 1.4 0.5 0.6 2.3 1.6zM307.3 112.4l0.7 0.4 2.2 0.8 2.2 0.3 2.3-0.3 2.2-0.8 0.6-0.4 1.6-1.1 1.1-1.1 1.1-1.1 0.9-1.1 1.3-1.9 0.3-0.4 1.2-2.2 0.7-1.3 0.5-0.9 1-2.2 0.8-1.8 0.1-0.4 0.9-2.2 0.7-2.2 0.5-1.5 0.2-0.8 0.6-2.2 0.6-2.2 0.4-2.2-1.8 0-2.2 0-2.3 0-2.2 0-2.2 0-2.2 0-2.2 0-2.2 0-2.3 0-2.2 0-2.2 0-2.2 0-2.2 0-2.2 0-2.3 0-2.2 0-2.2 0-2.2 0-1 0 0.5 2.2 0.5 1.6 0.2 0.6 0.7 2.2 0.7 2.3 0.6 1.7 0.2 0.5 0.9 2.2 0.9 2.2 0.2 0.5 0.9 1.7 1.2 2.2 0.1 0.2 1.4 2 0.9 1.3 0.8 1 1.4 1.5 0.7 0.7 1.5 1.3zM479.8 112.4l1.1 0.3 2.2 0.1 1.3-0.4 0.9-0.2 0-2 0-2.2 0-2.3 0-2.2 0-2.2 0-2.2 0-2.2 0-2.2 0-2.2 0-2.3 0-2.2 0-2.2 0-2.2-2.2 0-2.2 0-2.2 0-2.3 0-2.2 0-2.2 0-2.2 0-2.2 0-2.2 0-2.3 0-1.2 0 0.5 2.2 0.5 2.2 0.2 0.9 0.4 1.3 0.8 2.3 0.8 2.2 0.3 0.6 0.7 1.6 1 2.2 0.5 0.8 0.7 1.4 1.4 2.2 0.1 0.2 1.5 2 0.7 0.9 1.2 1.4 1 1 1.4 1.2 0.8 0.6 2.3 1.3zM86.4 110.2l0 2 2.2-1.4 0.7-0.6 1.5-1.5 0.6-0.7 1.6-2.1 0.1-0.2 1.4-2.2 0.8-1.3 0.5-0.9 1.1-2.2 0.6-1 0.6-1.2 1-2.2 0.6-1.2 0.5-1 1-2.3 0.7-1.6 0.3-0.6 0.9-2.2 0.9-2.2-2.1 0-2.2 0-2.2 0-2.2 0-2.3 0-2.2 0-2.2 0-2.2 0 0 2.2 0 2.2 0 2.2 0 2.3 0 2.2 0 2.2 0 2.2 0 2.2 0 2.2 0 2.2 0 2.3z"/>
<path fill="#ff5400" d="M86.4 482.3l2.2 0 2.2 0 2.2 0 2.3 0 2.2 0 2.2 0 1.6 0 0.6-1.4 0.3-0.8 0.8-2.2 0.8-2.2 0.3-1.3 0.3-1 0.6-2.2 0.4-2.2 0.4-2.2 0.3-2.2 0.1-2.2 0.1-2.2 0-2.3-0.2-2.2-0.2-2.2-0.4-2.2-0.4-2.2-0.6-2.2-0.4-1.4-0.3-0.9-0.8-2.2-0.9-2.2-0.2-0.3-1-1.9-1.2-2-0.2-0.2-1.8-2.2-0.2-0.3-2.2-1.8-0.3-0.1-2-1-2.2-0.2-2.2 0.4-1.3 0.8-0.9 0.5 0 1.7 0 2.2 0 2.2 0 2.2 0 2.2 0 2.2 0 2.3 0 2.2 0 2.2 0 2.2 0 2.2 0 2.2 0 2.3 0 2.2 0 2.2 0 2.2 0 2.2 0 2.2 0 2.2 0 2.3 0 2.2 0 2.2zM293.1 482.3l1.6 0 2.2 0 2.2 0 2.3 0 2.2 0 2.2 0 2.2 0 2.2 0 2.2 0 2.3 0 2.2 0 2.2 0 2.2 0 2.2 0 2.2 0 2.3 0 1.6 0 0.4-2.2 0.2-1 0.1-1.2 0.3-2.2 0.1-2.3 0-2.2-0.1-2.2-0.2-2.2-0.2-2-0.1-0.2-0.4-2.2-0.5-2.2-0.6-2.3-0.6-2-0.1-0.2-0.8-2.2-0.9-2.2-0.5-1-0.5-1.2-1.1-2.2-0.6-1.1-0.6-1.2-1.3-2.2-0.3-0.4-1.2-1.8-1-1.4-0.6-0.8-1.6-2.1-0.2-0.1-2-2.2-2.3-2-0.4-0.2-1.8-1.2-2.2-0.9-1.4-0.2-0.8-0.1-0.5 0.1-1.7 0.4-2.2 1.3-0.6 0.6-1.7 1.5-0.4 0.7-1.6 2.2-0.2 0.2-1.1 2-1.1 2.1 0 0.1-0.9 2.2-0.9 2.2-0.4 1.4-0.3 0.9-0.5 2.2-0.5 2.2-0.4 2.2-0.3 2.2-0.1 2.2-0.1 1.9 0 0.4 0 2.2 0 0.9 0 1.3 0.2 2.2 0.2 2.2 0.2 2.2 0.4 2.2 0.4 2.3 0.4 2.2 0.4 1.8 0.1 0.4zM464.9 482.3l0.5 0 2.2 0 2.2 0 2.2 0 2.2 0 2.2 0 2.3 0 2.2 0 2.2 0 2.2 0 0-2.2 0-2.2 0-2.2 0-2.3 0-2.2 0-2.2 0-2.2 0-2.2 0-2.2 0-2.2 0-2.3 0-2.2 0-2.2 0-2.2 0-2.2 0-2.2 0-2.3 0-2.2 0-2.2 0-2.2 0-2.2 0-2.2 0-1.7-1.9 1.7-0.3 0.3-1.6 1.9-0.6 0.7-1.1 1.5-1.1 1.7-0.4 0.5-1.3 2.2-0.6 0.9-0.8 1.3-1.3 2.3-0.1 0.1-1.1 2.1-1.1 1.9-0.2 0.3-1.1 2.2-0.9 1.7-0.3 0.5-1 2.2-0.9 2.2-0.1 0.1-0.8 2.2-0.7 2.2-0.6 2.2 0 0.2-0.4 2-0.4 2.2-0.2 2.2 0 2.3 0 2.2 0.2 2.2zM86.4 314l0 0.4 1.4-0.4 0.8-0.3 2.2-1.4 0.7-0.6 1.5-1.5 0.6-0.7 1.7-2.1 0-0.1 1.3-2.2 0.9-1.5 0.3-0.7 1-2.2 0.9-2.2 0.7-2.3 0.7-2.2 0.6-2.2 0.2-1 0.3-1.2 0.4-2.2 0.3-2.2 0.2-2.3 0.1-2.2 0.1-2.2 0-2.2-0.1-2.2-0.1-2.2-0.2-2.2-0.3-2.3-0.4-2.2-0.3-1.4-0.1-0.8-0.5-2.2-0.6-2.2-0.7-2.2-0.3-1.1-0.4-1.1-0.9-2.3-0.9-2.2 0-0.1-1.1-2.1-1.1-2.1-0.1-0.1-1.5-2.2-0.7-0.9-1.1-1.3-1.1-1.2-1.3-1.1-0.9-0.7-2.2-1.2 0 1.9 0 2.3 0 2.2 0 2.2 0 2.2 0 2.2 0 2.2 0 2.3 0 2.2 0 2.2 0 2.2 0 2.2 0 2.2 0 2.2 0 2.3 0 2.2 0 2.2 0 2.2 0 2.2 0 2.2 0 2.2 0 2.3 0 2.2 0 2.2 0 2.2 0 2.2 0 2.2 0 2.3 0 2.2 0 2.2 0 2.2 0 2.2 0 2.2 0 2.2zM480.6 314l0.3 0.1 2.2 0.5 2.2-0.2 0-0.4 0-2.3 0-2.2 0-2.2 0-2.2 0-2.2 0-2.2 0-2.2 0-2.3 0-2.2 0-2.2 0-2.2 0-2.2 0-2.2 0-2.3 0-2.2 0-2.2 0-2.2 0-2.2 0-2.2 0-2.2 0-2.3 0-2.2 0-2.2 0-2.2 0-2.2 0-2.2 0-2.2 0-2.3 0-2.2 0-2.2 0-2.2 0-2.2 0-2.2 0-2.3 0-1.9-0.8-0.3-1.4-0.4-2.2-0.2-2.2 0.3-0.9 0.3-1.4 0.6-2.2 1.5-0.2 0.1-2 2-0.2 0.3-1.7 2.2-0.3 0.5-1 1.7-1.2 2.2 0 0.1-0.9 2.1-0.8 2.2-0.5 1.6-0.2 0.7-0.6 2.2-0.5 2.2-0.5 2.2-0.3 2.2-0.2 1.6 0 0.6-0.2 2.2-0.1 2.3 0 2.2 0.1 2.2 0.1 2.2 0.1 1.5 0.1 0.7 0.3 2.2 0.3 2.2 0.4 2.3 0.5 2.2 0.6 2.2 0.1 0.2 0.5 2 0.7 2.2 0.8 2.2 0.2 0.5 0.7 1.8 1 2.2 0.5 1.1 0.5 1.1 1.3 2.2 0.4 0.7 1 1.5 1.2 1.6 0.6 0.6 1.6 1.8 0.6 0.4 1.7 1.3zM302.2 309.5l1.4 0.7 2.2 0.6 2.2 0.1 2.2-0.4 2.2-1 2.3-1.5 0.7-0.7 1.5-1.4 0.7-0.8 1.5-1.8 0.3-0.4 1.6-2.2 0.3-0.5 1.1-1.7 1.1-1.9 0.2-0.4 1.2-2.2 0.8-1.7 0.3-0.5 0.9-2.2 0.9-2.2 0.2-0.6 0.5-1.6 0.7-2.3 0.5-2.2 0.4-2.2 0.1-0.6 0.2-1.6 0.2-2.2 0.1-2.2 0-2.2-0.1-2.3-0.2-2.2-0.2-2 0-0.2-0.4-2.2-0.4-2.2-0.5-2.2-0.6-2.2-0.3-1.3-0.3-1-0.7-2.2-0.8-2.2-0.5-1-0.5-1.2-1-2.2-0.7-1.4-0.4-0.8-1.4-2.3-0.4-0.6-1.2-1.6-1-1.2-1.1-1-1.1-1-2.1-1.2-0.1-0.1-2.3-0.6-2.2 0.1-1.9 0.6-0.3 0.1-2.2 1.4-0.8 0.7-1.4 1.3-0.8 0.9-1.4 1.9-0.3 0.3-1.5 2.3-0.5 0.7-0.8 1.5-1.3 2.2-0.1 0-1.1 2.2-1.1 1.9-0.1 0.3-1.2 2.2-0.9 1.8-0.2 0.5-1.1 2.2-0.9 1.8-0.2 0.4-1 2.2-1 2.2 0 0.2-0.8 2-0.7 2.2-0.6 2.3-0.2 0.6-0.3 1.6-0.3 2.2-0.2 2.2-0.1 2.2 0.1 2.2 0.2 2.2 0.4 2.3 0.2 1.3 0.3 0.9 0.7 2.2 0.8 2.2 0.5 1.2 0.4 1 1.2 2.2 0.6 1.1 0.7 1.2 1.5 2.1 0 0.1 1.8 2.2 0.4 0.5 1.6 1.7 0.6 0.6 1.9 1.6 0.3 0.3 2.3 1.6zM306.4 108l1.6 1 2.2 0.7 2.2 0.2 2.3-0.4 2.2-1 0.7-0.5 1.5-1.2 0.9-1.1 1.3-1.4 0.5-0.8 1.4-2.2 0.3-0.5 0.9-1.7 1.1-2.2 0.2-0.6 0.7-1.6 0.8-2.2 0.7-2.3 0.1 0 0.6-2.2 0.6-2.2 0.4-2.2-1.6 0-2.3 0-2.2 0-2.2 0-2.2 0-2.2 0-2.2 0-2.3 0-2.2 0-2.2 0-2.2 0-2.2 0-2.2 0-2.3 0-2.2 0-2.2 0-1.6 0 0.6 2.2 0.7 2.2 0.3 1 0.4 1.2 0.8 2.3 0.9 2.2 0.1 0.3 0.9 1.9 1.1 2.2 0.2 0.4 1.2 1.8 1.1 1.7 0.4 0.5 1.8 2.1 0.1 0.1 2.1 1.9zM480.4 108l0.5 0.1 2.2 0 0.3-0.1 1.9-0.7 0-1.6 0-2.2 0-2.2 0-2.2 0-2.2 0-2.2 0-2.2 0-2.3 0-2.2 0-2.2 0-2.2-2.2 0-2.2 0-2.2 0-2.3 0-2.2 0-2.2 0-2.2 0-2.2 0-2.2 0-0.5 0 0.4 2.2 0.1 0.1 0.5 2.1 0.6 2.2 0.8 2.3 0.3 0.7 0.6 1.5 1 2.2 0.6 1 0.7 1.2 1.4 2.2 0.1 0.2 1.7 2 0.5 0.7 1.8 1.5 0.4 0.5 2.3 1.3zM86.4 105.7l0 1.6 2.2-1.5 0-0.1 2.1-2.2 0.1-0.1 1.6-2.1 0.6-1 0.8-1.2 1.3-2.2 0.2-0.4 0.9-1.8 1.2-2.2 0.1-0.3 0.9-2 1-2.2 0.3-0.5 0.7-1.7 0.9-2.2-1.6 0-2.2 0-2.2 0-2.3 0-2.2 0-2.2 0-2.2 0 0 2.2 0 2.2 0 2.2 0 2.3 0 2.2 0 2.2 0 2.2 0 2.2 0 2.2z"/>
<path fill="#ff4400" d="M86.4 482.3l2.2 0 2.2 0 2.2 0 2.3 0 2.2 0 1.1 0 0.9-2.2 0.2-0.5 0.6-1.7 0.8-2.2 0.7-2.3 0.1-0.2 0.5-2 0.5-2.2 0.5-2.2 0.3-2.2 0.2-2.2 0-2.2 0-2.3-0.1-2.2-0.3-2.2-0.4-2.2-0.5-2.2-0.6-2.2-0.1-0.2-0.8-2.1-1-2.2-0.4-0.7-1-1.5-1.2-1.7-0.6-0.5-1.6-1.5-1.5-0.7-0.8-0.4-2.2-0.2-1.9 0.6-0.3 0.1-2.2 1.4 0 0.7 0 2.2 0 2.2 0 2.2 0 2.3 0 2.2 0 2.2 0 2.2 0 2.2 0 2.2 0 2.3 0 2.2 0 2.2 0 2.2 0 2.2 0 2.2 0 2.2 0 2.3 0 2.2 0 2.2zM294.3 480.1l0.4 1.7 0.1 0.5 2.1 0 2.2 0 2.3 0 2.2 0 2.2 0 2.2 0 2.2 0 2.2 0 2.3 0 2.2 0 2.2 0 2.2 0 2.2 0 2.2 0 1.6 0 0.4-2.2 0.3-1.4 0.1-0.8 0.2-2.2 0.1-2.3 0.1-2.2-0.1-2.2-0.2-2.2-0.2-2.2 0-0.1-0.4-2.1-0.5-2.2-0.6-2.3-0.7-2.2-0.1-0.1-0.7-2.1-1-2.2-0.5-1.1-0.5-1.1-1.2-2.2-0.5-1-0.8-1.3-1.4-2.2-1.7-2.2-0.5-0.6-1.5-1.6-0.7-0.8-1.7-1.4-0.6-0.5-2.2-1.3-1.4-0.4-0.8-0.3-2.2-0.1-1.3 0.4-0.9 0.3-2.2 1.4-0.5 0.5-1.8 1.8-0.2 0.4-1.5 2.2-0.5 0.9-0.6 1.3-1 2.2-0.6 1.4-0.3 0.9-0.6 2.2-0.6 2.2-0.4 2.2-0.3 1.7-0.1 0.5-0.2 2.2-0.1 2.3-0.1 2.2 0.1 2.2 0.1 2.2 0.2 2.2 0.1 1.2 0.1 1 0.3 2.2 0.4 2.3 0.5 2.2zM468 482.3l1.8 0 2.2 0 2.2 0 2.2 0 2.3 0 2.2 0 2.2 0 2.2 0 0-2.2 0-2.2 0-2.2 0-2.3 0-2.2 0-2.2 0-2.2 0-2.2 0-2.2 0-2.2 0-2.3 0-2.2 0-2.2 0-2.2 0-2.2 0-2.2 0-2.3 0-2.2 0-2.2 0-2.2 0-0.7-0.8 0.7-1.4 1.4-0.6 0.8-1.6 2-0.2 0.2-1.4 2.2-0.6 1-0.8 1.3-1.4 2.2-0.1 0.1-1.1 2.1-1.1 1.9-0.1 0.3-1.2 2.2-0.9 1.9-0.1 0.3-1 2.3-0.9 2.2-0.2 0.6-0.5 1.6-0.7 2.2-0.5 2.2-0.3 2.2-0.2 2-0.1 0.2 0 2.3 0 2.2 0.1 1.1 0.1 1.1zM86.4 309.5l0 0.6 1.7-0.6 0.5-0.1 2.2-1.5 0.6-0.6 1.6-1.6 0.5-0.6 1.6-2.2 0.2-0.3 1-1.9 1.1-2.2 0.1-0.2 0.8-2.1 0.8-2.2 0.6-2 0.1-0.2 0.5-2.2 0.4-2.2 0.4-2.2 0.2-2.3 0.2-2.2 0.1-2.2 0-2.2 0-2.2-0.2-2.2-0.2-2.2-0.3-2.3-0.4-2.2-0.4-2.2-0.4-1.5-0.2-0.7-0.6-2.2-0.7-2.2-0.7-2-0.1-0.2-1-2.3-1.1-2.2 0-0.1-1.3-2.1-1-1.5-0.6-0.7-1.6-1.9-0.3-0.3-1.9-1.6-1.1-0.6-1.1-0.7 0 0.7 0 2.2 0 2.2 0 2.2 0 2.2 0 2.2 0 2.3 0 2.2 0 2.2 0 2.2 0 2.2 0 2.2 0 2.2 0 2.3 0 2.2 0 2.2 0 2.2 0 2.2 0 2.2 0 2.2 0 2.3 0 2.2 0 2.2 0 2.2 0 2.2 0 2.2 0 2.3 0 2.2 0 2.2 0 2.2 0 2.2zM480.3 309.5l0.6 0.3 2.2 0.5 2.2-0.2 0-0.6 0-2.2 0-2.2 0-2.2 0-2.2 0-2.2 0-2.3 0-2.2 0-2.2 0-2.2 0-2.2 0-2.2 0-2.3 0-2.2 0-2.2 0-2.2 0-2.2 0-2.2 0-2.2 0-2.3 0-2.2 0-2.2 0-2.2 0-2.2 0-2.2 0-2.2 0-2.3 0-2.2 0-2.2 0-2.2 0-2.2 0-2.2 0-0.7-2.2-0.7-2.2-0.1-2.2 0.4-2.3 1 0 0.1-2.2 1.7-0.4 0.5-1.8 2.1-0.1 0.1-1.4 2.2-0.7 1.4-0.4 0.8-1 2.2-0.8 2.3 0 0.2-0.6 2-0.6 2.2-0.4 2.2-0.4 2.2-0.2 2.2 0 0.3-0.2 1.9-0.1 2.3 0 2.2 0 2.2 0.2 2.2 0.1 1 0.1 1.2 0.2 2.2 0.4 2.2 0.4 2.3 0.5 2.2 0.6 2.1 0 0.1 0.7 2.2 0.7 2.2 0.8 2 0.1 0.2 1 2.3 1.1 2.2 1.3 2.2 0.9 1.3 0.7 0.9 1.5 1.7 0.6 0.5 1.7 1.4zM303 305.1l0.6 0.3 2.2 0.5 2.2-0.1 2.2-0.5 0.4-0.2 1.8-0.9 1.8-1.3 0.5-0.4 1.8-1.8 0.4-0.4 1.5-1.8 0.7-1 0.9-1.3 1.3-2.1 0.1-0.1 1.2-2.2 0.9-2 0.1-0.2 1-2.2 0.8-2.2 0.3-1.1 0.4-1.2 0.6-2.2 0.4-2.2 0.4-2.2 0.2-2.2 0.2-2.2 0-2.2-0.1-2.3-0.1-2.2-0.2-2.2-0.4-2.2-0.4-2.2-0.5-2.2-0.5-2 0-0.2-0.7-2.3-0.8-2.2-0.7-1.8-0.1-0.4-1.1-2.2-1-2-0.1-0.2-1.5-2.2-0.6-0.9-1.3-1.4-0.9-0.9-1.9-1.3-0.3-0.2-2.3-0.7-2.2 0-2.2 0.7-0.3 0.2-1.9 1.3-1 0.9-1.2 1.3-0.8 1-1.4 1.9-0.2 0.3-1.4 2.2-0.7 1-0.7 1.2-1.2 2.2-0.3 0.5-0.9 1.7-1.1 2.3-0.2 0.3-0.9 1.9-1.1 2.2-0.2 0.5-0.8 1.7-0.9 2.2-0.5 1.4-0.3 0.8-0.8 2.2-0.6 2.3-0.5 2.1 0 0.1-0.4 2.2-0.2 2.2-0.1 2.2 0.1 2.2 0.3 2.2 0.3 1.8 0.1 0.5 0.6 2.2 0.7 2.2 0.8 1.9 0.1 0.3 1.2 2.2 0.9 1.5 0.5 0.7 1.6 2.3 0.1 0.1 1.9 2.1 0.3 0.3 2.2 1.9 0 0.1 2.3 1.4zM309.7 105.7l0.5 0.2 2.2 0.1 1.2-0.3 1.1-0.2 2.2-1.2 0.8-0.8 1.4-1.3 0.7-0.9 1.5-2 0.1-0.2 1.3-2.2 0.8-1.7 0.3-0.5 0.9-2.2 0.8-2.3 0.2-0.7 0.5-1.5 0.6-2.2 0.5-2.2-1.6 0-2.2 0-2.2 0-2.2 0-2.2 0-2.2 0-2.3 0-2.2 0-2.2 0-2.2 0-2.2 0-2.2 0-2.3 0-2.2 0-2.1 0 0.7 2.2 0.7 2.2 0.7 2.1 0.1 0.1 0.9 2.3 1 2.2 0.2 0.5 1 1.7 1.3 2.1 0.1 0.1 1.7 2.2 0.4 0.5 1.9 1.7 0.3 0.3 2.2 1.4zM86.4 101.3l0 0.9 1.2-0.9 1-0.8 1.3-1.4 0.9-1.1 0.8-1.1 1.4-2.2 0-0.1 1.2-2.1 1.1-1.9 0.1-0.4 1.1-2.2 1-2 0.1-0.2 1-2.2-1.1 0-2.2 0-2.3 0-2.2 0-2.2 0-2.2 0 0 2.2 0 2.2 0 2.2 0 2.3 0 2.2 0 2.2 0 2.2zM476.7 101.3l2 1.3 2.2 0.7 2.2-0.2 2.2-0.9 0-0.9 0-2.2 0-2.2 0-2.2 0-2.2 0-2.3 0-2.2 0-2.2 0-2.2-2.2 0-2.2 0-2.2 0-2.3 0-2.2 0-2.2 0-2.2 0-1.8 0 0.4 2.2 0.6 2.2 0.7 2.2 0.1 0.4 0.7 1.9 1.1 2.2 0.4 0.8 0.9 1.4 1.3 1.9 0.3 0.3 1.9 2z"/>
<path fill="#ff3600" d="M86.4 482.3l2.2 0 2.2 0 2.2 0 2.3 0 0.2 0 1-2.2 0.9-2.2 0.1-0.2 0.7-2 0.8-2.3 0.7-2.2 0.5-2.2 0.5-2.2 0.3-2.2 0.2-2.2 0.1-2.2 0-2.3-0.2-2.2-0.4-2.2-0.4-2.2-0.6-2-0.1-0.2-1-2.2-1.1-2.2 0-0.1-2-2.2-0.2-0.3-2.3-1.2-2.2-0.2-2.2 0.7-1.5 1-0.7 0.6 0 1.6 0 2.3 0 2.2 0 2.2 0 2.2 0 2.2 0 2.2 0 2.3 0 2.2 0 2.2 0 2.2 0 2.2 0 2.2 0 2.2 0 2.3 0 2.2 0 2.2zM296.6 482.3l0.3 0 2.2 0 2.3 0 2.2 0 2.2 0 2.2 0 2.2 0 2.2 0 2.3 0 2.2 0 2.2 0 2.2 0 2.2 0 1.5 0 0.5-2.2 0.2-1.6 0.1-0.6 0.3-2.2 0.2-2.3 0-2.2 0-2.2-0.2-2.2-0.3-2.2-0.1-0.5-0.3-1.7-0.5-2.2-0.6-2.3-0.7-2.2-0.1-0.2-0.7-2-1-2.2-0.5-1-0.6-1.2-1.3-2.2-0.3-0.5-1.2-1.8-1-1.3-0.8-0.9-1.4-1.5-0.9-0.7-1.4-1.1-1.9-1.1-0.3-0.2-2.2-0.6-2.2 0.1-1.9 0.7-0.3 0.1-2.2 1.7-0.4 0.4-1.8 2.2-0.1 0.1-1.2 2.1-1 2.1 0 0.2-0.9 2.2-0.6 2.2-0.6 2.2-0.1 0.5-0.3 1.7-0.3 2.2-0.2 2.3 0 2.2 0 2.2 0 2.2 0.2 2.2 0.2 2.2 0.4 2.2 0 0.4 0.3 1.9 0.5 2.2 0.5 2.2zM471.2 482.3l0.8 0 2.2 0 2.2 0 2.3 0 2.2 0 2.2 0 2.2 0 0-2.2 0-2.2 0-2.2 0-2.3 0-2.2 0-2.2 0-2.2 0-2.2 0-2.2 0-2.2 0-2.3 0-2.2 0-2.2 0-2.2 0-2.2 0-2.2 0-2.3 0-1.6-1.6 1.6-0.6 0.7-1.2 1.6-1 1.4-0.5 0.8-1.4 2.2-0.3 0.5-1 1.7-1.2 2.2-0.1 0.1-1 2.1-1 2.3-0.2 0.3-0.7 1.9-0.8 2.2-0.7 2.1 0 0.1-0.6 2.2-0.4 2.2-0.2 2.2-0.1 2.3 0 2.2 0.2 2.2zM86.4 305.1l0 0.9 2.2-0.9 2.2-1.6 0.7-0.6 1.5-1.8 0.3-0.4 1.5-2.2 0.5-0.9 0.6-1.4 1-2.2 0.6-1.7 0.2-0.5 0.6-2.2 0.5-2.2 0.4-2.2 0.3-2.3 0.2-1.5 0.1-0.7 0.1-2.2 0-2.2-0.1-2.2-0.1-2.2 0-0.2-0.2-2-0.3-2.3-0.4-2.2-0.5-2.2-0.6-2.2-0.2-0.8-0.5-1.4-0.8-2.2-0.9-2.2 0-0.1-1.2-2.2-1.1-1.8-0.2-0.4-1.7-2.2-0.3-0.3-2-1.9-0.2-0.2-2.2-1.3 0 1.5 0 2.2 0 2.2 0 2.2 0 2.3 0 2.2 0 2.2 0 2.2 0 2.2 0 2.2 0 2.2 0 2.3 0 2.2 0 2.2 0 2.2 0 2.2 0 2.2 0 2.2 0 2.3 0 2.2 0 2.2 0 2.2 0 2.2 0 2.2 0 2.3 0 2.2 0 2.2zM480 305.1l0.9 0.5 2.2 0.5 2.2-0.1 0-0.9 0-2.2 0-2.2 0-2.2 0-2.3 0-2.2 0-2.2 0-2.2 0-2.2 0-2.2 0-2.3 0-2.2 0-2.2 0-2.2 0-2.2 0-2.2 0-2.2 0-2.3 0-2.2 0-2.2 0-2.2 0-2.2 0-2.2 0-2.2 0-2.3 0-2.2 0-2.2 0-2.2 0-1.5-2.2-0.7-0.4 0-1.8-0.1-0.3 0.1-1.9 0.5-2.3 1.3-0.4 0.4-1.8 1.7-0.4 0.5-1.5 2.2-0.3 0.6-0.8 1.6-1 2.3-0.4 1.1-0.4 1.1-0.6 2.2-0.5 2.2-0.4 2.2-0.3 2.2 0 0.7-0.2 1.5-0.1 2.3 0 2.2 0 2.2 0.2 2.2 0.1 1.2 0.1 1 0.3 2.2 0.3 2.2 0.5 2.3 0.5 2.2 0.5 1.7 0.1 0.5 0.8 2.2 0.8 2.2 0.5 1.2 0.5 1 1.2 2.3 0.5 0.8 1 1.4 1.2 1.6 0.6 0.6 1.7 1.4zM304.9 300.7l0.9 0.1 2.2-0.1 0.2 0 2-0.7 2.2-1.2 0.5-0.3 1.8-1.5 0.7-0.8 1.5-1.7 0.4-0.5 1.5-2.2 0.3-0.4 1-1.8 1.1-2.2 0.1-0.2 0.8-2 0.8-2.3 0.6-1.8 0.1-0.4 0.5-2.2 0.5-2.2 0.3-2.2 0.1-2.2 0.1-2.2 0-2.3-0.1-2.2-0.2-2.2-0.3-2.2-0.4-2.2-0.5-2.2-0.1-0.1-0.6-2.1-0.7-2.3-0.9-2.2 0-0.1-1-2.1-1.2-2.1-0.1-0.1-1.7-2.2-0.4-0.5-2.1-1.7-0.1-0.1-2.3-0.9-2.2 0-2.2 0.7-0.4 0.3-1.8 1.3-0.9 0.9-1.3 1.4-0.6 0.8-1.6 2.2 0 0.1-1.3 2.1-1 1.6-0.3 0.6-1.1 2.3-0.8 1.4-0.4 0.8-1 2.2-0.8 1.7-0.2 0.5-0.9 2.2-0.9 2.2-0.2 0.7-0.5 1.5-0.6 2.3-0.5 2.2-0.4 2.2-0.2 2 0 0.2-0.1 2.2 0.1 1.4 0 0.8 0.3 2.2 0.6 2.3 0.6 2.2 0.7 1.6 0.3 0.6 1.1 2.2 0.8 1.3 0.7 0.9 1.5 1.9 0.4 0.3 1.8 1.8 0.7 0.5 1.6 1 2.2 0.9zM307.9 101.3l0.1 0.1 2.2 0.7 2.2 0 2.3-0.7 0.1-0.1 2.1-1.4 0.8-0.8 1.4-1.6 0.4-0.6 1.4-2.2 0.4-0.7 0.7-1.5 1-2.3 0.5-1.4 0.3-0.8 0.6-2.2 0.6-2.2-1.5 0-2.2 0-2.2 0-2.2 0-2.2 0-2.3 0-2.2 0-2.2 0-2.2 0-2.2 0-2.2 0-2.3 0-2.2 0-0.3 0 0.3 1 0.4 1.2 0.8 2.2 0.9 2.2 0.1 0.4 1 1.9 1.2 2.2 0.1 0.1 1.5 2.1 0.7 0.9 1.2 1.3 1 0.9zM478.4 96.9l0.3 0.2 2.2 0.8 2.2-0.1 2-0.9 0.2-0.1 0-2.1 0-2.2 0-2.3 0-2.2 0-2.2 0-2.2-2.2 0-2.2 0-2.2 0-2.3 0-2.2 0-2.2 0-0.8 0 0.5 2.2 0.3 1.1 0.4 1.1 0.9 2.2 0.9 2 0.2 0.3 1.5 2.2 0.5 0.6zM86.4 94.7l0 2.1 2.2-1.9 0.2-0.2 1.7-2.2 0.3-0.5 1.1-1.8 1.1-1.8 0.3-0.4 1.1-2.2 0.9-1.7 0.2-0.5-0.2 0-2.3 0-2.2 0-2.2 0-2.2 0 0 2.2 0 2.2 0 2.2 0 2.3z"/>
<path fill="#ff2800" d="M86.4 482.3l2.2 0 2.2 0 0.9 0 1.2-2.2 0.1-0.3 0.9-1.9 1-2.2 0.4-1.1 0.4-1.2 0.7-2.2 0.6-2.2 0.5-2 0-0.2 0.3-2.2 0.2-2.2 0.1-2.2-0.1-2.3-0.3-2.2-0.2-1-0.4-1.2-0.9-2.2-0.9-1.8-0.4-0.4-1.9-1.6-2.2-0.4-2.2 0.7-1.7 1.3-0.5 0.4 0 1.8 0 2.2 0 2.2 0 2.2 0 2.3 0 2.2 0 2.2 0 2.2 0 2.2 0 2.2 0 2.2 0 2.3 0 2.2 0 2.2zM298.6 482.3l0.5 0 2.3 0 2.2 0 2.2 0 2.2 0 2.2 0 2.2 0 2.3 0 2.2 0 2.2 0 2.2 0 1.3 0 0.6-2.2 0.3-1.9 0.1-0.3 0.3-2.2 0.1-2.3 0.1-2.2 0-2.2-0.2-2.2-0.2-2.2-0.2-0.8-0.2-1.4-0.5-2.2-0.7-2.3-0.7-2.2-0.1-0.1-0.9-2.1-1.1-2.2-0.2-0.5-1.1-1.7-1.1-1.8-0.4-0.4-1.8-2.2-0.1-0.1-2.2-1.7-0.8-0.5-1.4-0.7-2.2-0.5-2.2 0.2-2.1 1-0.1 0.1-2.2 2.1-0.1 0-1.5 2.3-0.7 1.1-0.5 1.1-0.8 2.2-0.7 2.2-0.2 0.5-0.4 1.7-0.3 2.2-0.3 2.3-0.1 2.2-0.1 2.2 0.1 2.2 0.1 2.2 0.3 2.2 0.3 2.2 0.3 2.3 0.1 0.4 0.4 1.8 0.6 2.2zM475.1 482.3l1.3 0 2.3 0 2.2 0 2.2 0 2.2 0 0-2.2 0-2.2 0-2.2 0-2.3 0-2.2 0-2.2 0-2.2 0-2.2 0-2.2 0-2.2 0-2.3 0-2.2 0-2.2 0-2.2 0-1.8-1.6 1.8-0.6 0.7-1 1.5-1.2 1.8-0.3 0.4-1.2 2.2-0.7 1.4-0.4 0.9-1 2.2-0.9 2.1 0 0.1-0.7 2.2-0.6 2.2-0.4 2.2-0.3 2.2-0.1 2.3 0 2.2 0.3 2.2zM86.4 300.7l0 1.1 2.2-1 0.2-0.1 2-1.6 0.6-0.6 1.6-2.2 0.1-0.1 1.2-2.2 1-2 0-0.2 0.8-2.2 0.6-2.2 0.5-2.2 0.3-1.3 0.1-1 0.3-2.2 0.1-2.2 0.1-2.2-0.1-2.2-0.1-2.2-0.2-2.2-0.2-1.4-0.1-0.9-0.5-2.2-0.5-2.2-0.7-2.2-0.4-1.4-0.4-0.8-0.9-2.2-1-1.9-0.2-0.3-1.4-2.3-0.6-0.7-1.4-1.5-0.8-0.8-2.2-1.4 0 2.2 0 2.2 0 2.3 0 2.2 0 2.2 0 2.2 0 2.2 0 2.2 0 2.2 0 2.3 0 2.2 0 2.2 0 2.2 0 2.2 0 2.2 0 2.2 0 2.3 0 2.2 0 2.2 0 2.2 0 2.2 0 2.2 0 2.3zM479.9 300.7l1 0.6 2.2 0.6 2.2-0.1 0-1.1 0-2.2 0-2.3 0-2.2 0-2.2 0-2.2 0-2.2 0-2.2 0-2.3 0-2.2 0-2.2 0-2.2 0-2.2 0-2.2 0-2.2 0-2.3 0-2.2 0-2.2 0-2.2 0-2.2 0-2.2 0-2.2 0-2.3 0-2.2 0-2.2-2.2-0.7-2.2 0-2 0.7-0.2 0.1-2.3 1.7-0.4 0.4-1.7 2.2-0.1 0.1-1.1 2.2-1 2.2-0.1 0.1-0.7 2.1-0.6 2.2-0.4 2.2-0.4 2.2-0.1 1.2-0.1 1-0.2 2.3 0 2.2 0 2.2 0.2 2.2 0.1 1.4 0.1 0.8 0.3 2.2 0.4 2.2 0.5 2.3 0.6 2.2 0.3 1.1 0.4 1.1 0.9 2.2 0.9 2.1 0.1 0.1 1.3 2.2 0.8 1.3 0.9 1 1.4 1.4zM301.4 294l2.2 1 2.2 0.5 2.2-0.2 2.2-0.8 0.9-0.5 1.3-0.9 1.5-1.3 0.8-0.8 1.1-1.4 1.1-1.5 0.4-0.7 1.2-2.2 0.6-1.2 0.4-1.1 0.8-2.2 0.7-2.2 0.3-1.3 0.2-0.9 0.4-2.2 0.2-2.2 0.1-2.2 0.1-2.3-0.1-2.2-0.3-2.2-0.3-2.2-0.3-1.7-0.1-0.5-0.6-2.2-0.7-2.2-0.8-2.1-0.1-0.2-1.2-2.2-0.9-1.5-0.7-0.7-1.5-1.6-1.2-0.6-1.1-0.5-2.2-0.2-1.9 0.7-0.3 0.1-2.2 1.7-0.4 0.4-1.8 2.1-0.1 0.1-1.4 2.2-0.7 1.1-0.7 1.2-1.1 2.2-0.5 0.8-0.6 1.4-1 2.2-0.6 1.3-0.3 0.9-0.8 2.2-0.8 2.2-0.3 1.2-0.3 1.1-0.5 2.2-0.3 2.2-0.2 2.2 0.1 2.2 0.2 2.2 0.4 2.2 0.6 2.3 1 2.2 1.2 2.2 1.8 2.2 0.4 0.4 2.3 1.8zM307 96.9l1 0.6 2.2 0.7 2.2-0.1 2.3-0.9 0.3-0.3 1.9-1.6 0.5-0.6 1.6-2.2 0.1-0.1 1.1-2.2 1-2.2 0.1-0.2 0.7-2 0.6-2.2-1.3 0-2.2 0-2.2 0-2.2 0-2.3 0-2.2 0-2.2 0-2.2 0-2.2 0-2.2 0-2.3 0-0.5 0 0.5 1.7 0.2 0.5 1 2.2 1 2.2 0.1 0.1 1.3 2.2 0.9 1.2 0.8 1 1.4 1.4zM86.4 90.2l0 0.2 0.2-0.2 2-1.9 0.2-0.3 1.6-2.2 0.4-0.6 0.9-1.6-0.9 0-2.2 0-2.2 0 0 2.2 0 2.2zM478.6 90.2l0.1 0.1 2.2 1.2 2.2 0 2.2-1.1 0-0.2 0-2.2 0-2.2 0-2.2-2.2 0-2.2 0-2.2 0-2.3 0-1.3 0 0.7 2.2 0.6 1.4 0.5 0.8z"/>
<path fill="#ff1a00" d="M86.4 480.1l0 0.2 0.2-0.2 2-2.2 1.3-2.2 0.9-1.8 0.2-0.5 0.8-2.2 0.7-2.2 0.5-2.2 0.3-2.2 0-2.2-0.2-2.2-0.1-0.3-0.9-2-1.3-1.3-2.2 0.1-1.7 1.2-0.5 0.4 0 1.9 0 2.2 0 2.2 0 2.2 0 2.2 0 2.2 0 2.2 0 2.3 0 2.2zM300.8 482.3l0.6 0 2.2 0 2.2 0 2.2 0 2.2 0 2.2 0 2.3 0 2.2 0 2.2 0 1 0 0.6-2.2 0.5-2.2 0.1-0.7 0.2-1.5 0.3-2.3 0.1-2.2-0.1-2.2-0.1-2.2-0.3-2.2-0.1-0.6-0.3-1.6-0.6-2.2-0.7-2.3-0.6-1.7-0.2-0.5-1.1-2.2-0.9-1.6-0.5-0.6-1.6-2.2-0.1-0.2-2.3-2-0.1 0-2.1-1.1-2.2-0.4-2.2 0.4-1.7 1.1-0.5 0.3-1.6 1.9-0.6 0.8-0.8 1.4-0.9 2.2-0.6 1.5-0.2 0.7-0.5 2.2-0.3 2.3-0.3 2.2-0.1 2.2 0.1 2.2 0.1 2.2 0.2 2.2 0.3 2.2 0.4 2.3 0.3 1.4 0.2 0.8 0.7 2.2zM480.9 480.1l2.2 1.1 2.2-0.9 0-0.2 0-2.2 0-2.2 0-2.3 0-2.2 0-2.2 0-2.2 0-2.2 0-2.2 0-2.2 0-1.9-1.3 1.9-0.9 1.2-0.5 1-1.1 2.2-0.6 1.4-0.3 0.8-0.6 2.2-0.4 2.2-0.2 2.2 0 2.3 0.5 2.2zM86.4 296.2l0 1.2 2.2-1.1 0.1-0.1 2.1-1.9 0.2-0.3 1.4-2.2 0.6-1.1 0.5-1.1 0.9-2.2 0.6-2.2 0.3-1 0.2-1.3 0.3-2.2 0.2-2.2 0.1-2.2 0-2.2-0.1-2.2-0.3-2.2-0.3-2.3-0.1-0.5-0.4-1.7-0.7-2.2-0.7-2.2-0.5-1.1-0.5-1.1-1.2-2.2-0.5-0.8-1.2-1.4-1-1.1-1.5-1.2-0.7-0.4 0 0.4 0 2.3 0 2.2 0 2.2 0 2.2 0 2.2 0 2.2 0 2.2 0 2.3 0 2.2 0 2.2 0 2.2 0 2.2 0 2.2 0 2.2 0 2.3 0 2.2 0 2.2 0 2.2 0 2.2zM480.1 296.2l0.8 0.6 2.2 0.7 2.2-0.1 0-1.2 0-2.2 0-2.2 0-2.2 0-2.2 0-2.2 0-2.3 0-2.2 0-2.2 0-2.2 0-2.2 0-2.2 0-2.2 0-2.3 0-2.2 0-2.2 0-2.2 0-2.2 0-2.2 0-2.2 0-2.3 0-0.4-2.2-0.7-2.2 0.2-2 0.9-0.2 0.2-2.2 2.1-0.1 0.1-1.2 2.1-1 1.9-0.1 0.3-0.8 2.2-0.5 2.2-0.5 2.2-0.3 2.2 0 0.2-0.2 2.1 0 2.2 0 2.2 0.1 2.2 0.1 0.7 0.2 1.5 0.3 2.2 0.5 2.2 0.6 2.3 0.6 2.1 0 0.1 1 2.2 1.1 2.2 0.1 0.3 1.4 1.9 0.9 1zM301.6 287.4l2 1.3 2.2 0.6 2.2-0.1 2.2-0.9 1.3-0.9 0.9-0.8 1.3-1.4 1-1.2 0.6-1.1 1.1-2.2 0.5-0.9 0.4-1.3 0.7-2.2 0.5-2.2 0.4-2.2 0.2-2.2 0-1.1 0-1.2 0-0.5-0.1-1.7-0.2-2.2-0.5-2.2-0.5-2.2-0.8-2.2-0.1-0.4-1-1.8-1.2-1.9-0.5-0.4-1.8-1.3-2.2-0.4-2.2 0.8-1.1 0.9-1.1 1-1 1.3-1.2 1.6-0.4 0.6-1.2 2.2-0.6 1.3-0.5 0.9-0.9 2.2-0.8 2.2-0.1 0.1-0.6 2.1-0.6 2.3-0.4 2.2-0.2 2.2-0.1 2.2 0.2 2.2 0.4 2.2 0.8 2.2 0.5 1.3 0.6 1 1.7 2zM306.6 92.5l1.4 0.9 2.2 0.7 2.2-0.3 2.3-1.2 0.1-0.1 2.1-2.2 0-0.1 1.3-2.2 0.9-1.7 0.2-0.5 0.8-2.2-1 0-2.2 0-2.2 0-2.3 0-2.2 0-2.2 0-2.2 0-2.2 0-2.2 0-0.6 0 0.6 1.5 0.3 0.7 1.2 2.2 0.7 1.2 0.8 1 1.4 1.7z"/>
<path fill="#c00404" d="M303.4 482.3l0.2 0 2.2 0 2.2 0 2.2 0 2.2 0 2.3 0 2.2 0 0.2 0 0.8-2.2 0.6-2.2 0.5-2.2 0.1-0.7 0.2-1.6 0.1-2.2 0-2.2-0.2-2.2-0.1-1.2-0.2-1-0.5-2.2-0.6-2.2-0.8-2.3-0.1-0.2-1.1-2-1.1-1.8-0.4-0.4-1.9-2-0.3-0.2-1.9-1-2.2-0.3-2.2 0.7-0.7 0.6-1.5 1.4-0.5 0.8-1.2 2.2-0.5 1.3-0.3 0.9-0.5 2.3-0.4 2.2-0.2 2.2 0 2.2 0.1 2.2 0.2 2.2 0.3 2.2 0.5 2.3 0.3 1.2 0.3 1 0.8 2.2zM86.4 291.8l0 0.7 1.3-0.7 0.9-0.5 1.4-1.7 0.8-1.1 0.6-1.1 0.9-2.2 0.7-2.2 0.1-0.1 0.4-2.2 0.3-2.2 0.1-2.2 0-2.2-0.1-2.2-0.3-2.2-0.4-2.3-0.1-0.2-0.5-2-0.8-2.2-0.9-1.9-0.1-0.3-1.5-2.2-0.6-0.8-1.7-1.4-0.5-0.4 0 0.4 0 2.2 0 2.2 0 2.2 0 2.2 0 2.2 0 2.3 0 2.2 0 2.2 0 2.2 0 2.2 0 2.2 0 2.2 0 2.3 0 2.2 0 2.2zM481.1 291.8l2 0.9 2.2-0.2 0-0.7 0-2.2 0-2.2 0-2.2 0-2.3 0-2.2 0-2.2 0-2.2 0-2.2 0-2.2 0-2.2 0-2.3 0-2.2 0-2.2 0-2.2 0-2.2 0-2.2 0-0.4-2.2-0.7-2.2 0.4-1 0.7-1.2 0.9-1 1.3-1.3 2.2-0.8 2.2-0.6 2.2-0.4 2.2-0.2 2.3-0.2 2.2 0.1 2.2 0.1 2.2 0.3 2.2 0.4 2.2 0.6 2.2 0.7 2.3 0 0.1 1.1 2.1 1.2 2.1 0.1 0.1 2.1 2.1zM305.6 280.7l0.2 0.1 2.2 0.3 0.8-0.4 1.4-0.7 1.4-1.5 0.8-1.1 0.6-1.1 0.9-2.2 0.6-2.2 0.2-0.8 0.1-1.4 0.1-2.3-0.1-2.2-0.1-0.6-0.4-1.6-0.9-2.2-1-1.6-0.9-0.6-1.3-0.6-2 0.6-0.2 0.1-2 2.1-0.2 0.3-1 1.9-1.1 2.2-0.1 0.4-0.6 1.8-0.4 2.3-0.3 2.2 0 2.2 0.4 2.2 0.7 2.2 0.2 0.3zM306.9 88l1.1 0.9 2.2 0.6 2.2-0.4 1.5-1.1 0.8-0.6 1.1-1.6 1.1-1.8 0.2-0.4-0.2 0-2.2 0-2.3 0-2.2 0-2.2 0-2.2 0-2.2 0-0.2 0 0.2 0.3 1.3 1.9 0.9 1.3z"/>
<path fill="#870000" d="M306.1 480.1l1.9 2 0.8 0.2 1.4 0 1.2 0 1-0.4 1.5-1.8 0.8-1.2 0.4-1 0.7-2.2 0.4-2.3 0.3-2.2 0-2.2-0.2-2.2-0.4-2.2-0.6-2.2-0.6-1.7-0.3-0.5-1.5-2.3-0.5-0.6-2.1-1.6-0.1 0-2.2-0.2-0.4 0.2-1.8 1.2-0.7 1-1.2 2.3-0.3 0.8-0.4 1.4-0.3 2.2-0.2 2.2 0.1 2.2 0.2 2.2 0.3 2.2 0.3 1.1 0.4 1.2 0.9 2.2 0.9 1.8zM86.4 285.2l0 1.4 1.7-1.4 0.5-0.5 0.9-1.8 0.9-2.2 0.4-1.8 0.1-0.4 0.2-2.2 0.1-2.2-0.2-2.2-0.2-1.4-0.1-0.8-0.7-2.3-0.9-2.2-0.5-1.1-0.9-1.1-1.3-1.3 0 1.3 0 2.2 0 2.2 0 2.3 0 2.2 0 2.2 0 2.2 0 2.2 0 2.2 0 2.2zM480.7 285.2l0.2 0.1 2.2 1.5 2.2-0.2 0-1.4 0-2.3 0-2.2 0-2.2 0-2.2 0-2.2 0-2.2 0-2.2 0-2.3 0-2.2 0-2.2 0-1.3-2.2-0.8-2.2 0.9-1 1.2-1.2 2-0.1 0.2-0.7 2.2-0.4 2.3-0.2 2.2 0 2.2 0.2 2.2 0.4 2.2 0.5 2.2 0.3 0.8 0.7 1.4zM308.8 83.6l1.4 0.4 1.2-0.4-1.2 0z"/>
</g>
<rect x="86.4" y="83.6" width="398.9" height="398.7" fill="none" stroke="#000" stroke-width="1.6"/>
<path d="M86.4 482.3v4.0M86.4 482.3h-4.0M97.5 482.3v4.0M86.4 471.2h-4.0M108.6 482.3v4.0M86.4 460.2h-4.0M119.6 482.3v4.0M86.4 449.1h-4.0M130.7 482.3v7.5M86.4 438.0h-7.5M141.8 482.3v4.0M86.4 426.9h-4.0M152.9 482.3v4.0M86.4 415.9h-4.0M164.0 482.3v4.0M86.4 404.8h-4.0M175.0 482.3v4.0M86.4 393.7h-4.0M186.1 482.3v4.0M86.4 382.6h-4.0M197.2 482.3v7.5M86.4 371.6h-7.5M208.3 482.3v4.0M86.4 360.5h-4.0M219.4 482.3v4.0M86.4 349.4h-4.0M230.4 482.3v4.0M86.4 338.3h-4.0M241.5 482.3v4.0M86.4 327.2h-4.0M252.6 482.3v4.0M86.4 316.2h-4.0M263.7 482.3v7.5M86.4 305.1h-7.5M274.8 482.3v4.0M86.4 294.0h-4.0M285.9 482.3v4.0M86.4 282.9h-4.0M296.9 482.3v4.0M86.4 271.9h-4.0M308.0 482.3v4.0M86.4 260.8h-4.0M319.1 482.3v4.0M86.4 249.7h-4.0M330.2 482.3v7.5M86.4 238.6h-7.5M341.3 482.3v4.0M86.4 227.6h-4.0M352.3 482.3v4.0M86.4 216.5h-4.0M363.4 482.3v4.0M86.4 205.4h-4.0M374.5 482.3v4.0M86.4 194.3h-4.0M385.6 482.3v4.0M86.4 183.3h-4.0M396.7 482.3v7.5M86.4 172.2h-7.5M407.7 482.3v4.0M86.4 161.1h-4.0M418.8 482.3v4.0M86.4 150.0h-4.0M429.9 482.3v4.0M86.4 139.0h-4.0M441.0 482.3v4.0M86.4 127.9h-4.0M452.1 482.3v4.0M86.4 116.8h-4.0M463.1 482.3v7.5M86.4 105.7h-7.5M474.2 482.3v4.0M86.4 94.7h-4.0M485.3 482.3v4.0M86.4 83.6h-4.0" stroke="#000" stroke-width="1.5" fill="none"/>
<text transform="translate(129.9,510.2) scale(1.13,1)" font-size="16.8" text-anchor="middle">-60</text>
<text transform="translate(72.2,443.3) scale(1.13,1)" font-size="16.8" text-anchor="end">-60</text>
<text transform="translate(197.2,510.2) scale(1.13,1)" font-size="16.8" text-anchor="middle">0</text>
<text transform="translate(72.2,376.9) scale(1.13,1)" font-size="16.8" text-anchor="end">0</text>
<text transform="translate(263.7,510.2) scale(1.13,1)" font-size="16.8" text-anchor="middle">60</text>
<text transform="translate(72.2,310.4) scale(1.13,1)" font-size="16.8" text-anchor="end">60</text>
<text transform="translate(330.2,510.2) scale(1.13,1)" font-size="16.8" text-anchor="middle">120</text>
<text transform="translate(72.2,243.9) scale(1.13,1)" font-size="16.8" text-anchor="end">120</text>
<text transform="translate(396.7,510.2) scale(1.13,1)" font-size="16.8" text-anchor="middle">180</text>
<text transform="translate(72.2,177.5) scale(1.13,1)" font-size="16.8" text-anchor="end">180</text>
<text transform="translate(463.1,510.2) scale(1.13,1)" font-size="16.8" text-anchor="middle">240</text>
<text transform="translate(72.2,111.0) scale(1.13,1)" font-size="16.8" text-anchor="end">240</text>
<text x="107" y="539.5" font-size="16.8" textLength="359" lengthAdjust="spacingAndGlyphs" xml:space="preserve">H–C7–C2–C1 (α) dihedral  angle  /  degree</text>
<text transform="translate(20.6,467) rotate(-90)" font-size="16.8" textLength="368" lengthAdjust="spacingAndGlyphs" xml:space="preserve">H–O11–C1–C2 (β) dihedral  angle  /  degree</text>
<text x="151.6" y="179.2" font-size="16.6" font-weight="bold" style="fill:#fff066;stroke:#fff066;stroke-width:0.3px">g<tspan dy="-8.6" font-size="10">−</tspan><tspan dy="8.6">t</tspan></text>
<text x="221.7" y="175.6" font-size="16.6" font-weight="bold" style="fill:#fff066;stroke:#fff066;stroke-width:0.3px">g<tspan dy="-8.6" font-size="10">+</tspan><tspan dy="8.6">t</tspan></text>
<text x="391.8" y="178.6" font-size="16.6" font-weight="bold" style="fill:#fff066;stroke:#fff066;stroke-width:0.3px">tt</text>
<text x="149.6" y="373.7" font-size="16.6" font-weight="bold" style="fill:#fff066;stroke:#fff066;stroke-width:0.3px">g<tspan dy="-8.6" font-size="10">−</tspan><tspan dy="8.6">c</tspan></text>
<text x="220.9" y="381.5" font-size="16.6" font-weight="bold" style="fill:#fff066;stroke:#fff066;stroke-width:0.3px">g<tspan dy="-8.6" font-size="10">+</tspan><tspan dy="8.6">c</tspan></text>
<text x="390.0" y="376.0" font-size="16.6" font-weight="bold" style="fill:#fff066;stroke:#fff066;stroke-width:0.3px">tc</text>
</svg></body></html>
